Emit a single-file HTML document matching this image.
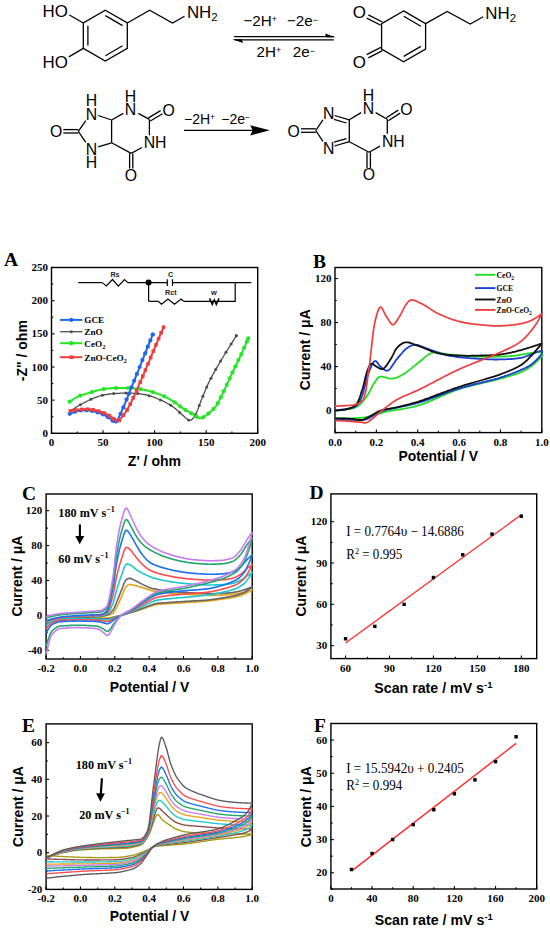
<!DOCTYPE html>
<html><head><meta charset="utf-8"><style>
html,body{margin:0;padding:0;background:#fff;width:550px;height:931px;overflow:hidden}
svg{display:block}
</style></head><body>
<svg width="550" height="931" viewBox="0 0 550 931">
<rect width="550" height="931" fill="#fff"/>
<path d="M105.3,10.3 L127.3,23 L127.3,48.4 L105.3,61.1 L83.3,48.4 L83.3,23 Z" fill="none" stroke="#000" stroke-width="1.3"/>
<line x1="87.9" y1="25.79" x2="87.9" y2="45.61" stroke="#000" stroke-width="1.3" />
<line x1="105.42" y1="15.68" x2="122.58" y2="25.59" stroke="#000" stroke-width="1.3" />
<line x1="105.42" y1="55.72" x2="122.58" y2="45.81" stroke="#000" stroke-width="1.3" />
<line x1="83.3" y1="23" x2="69.4" y2="15" stroke="#000" stroke-width="1.3" />
<line x1="83.3" y1="48.4" x2="68.8" y2="56.9" stroke="#000" stroke-width="1.3" />
<text x="67.8" y="17.3" font-family='"Liberation Sans", sans-serif' font-size="16.9" font-weight="normal" text-anchor="end" fill="#000" >HO</text>
<text x="67.8" y="68.3" font-family='"Liberation Sans", sans-serif' font-size="16.9" font-weight="normal" text-anchor="end" fill="#000" >HO</text>
<path d="M127.3,23 L149.6,10.2 L172.5,23 L184.5,16.3" fill="none" stroke="#000" stroke-width="1.3" stroke-linejoin="miter"/>
<text x="186.9" y="17.9" font-family='"Liberation Sans", sans-serif' font-size="16.9" font-weight="normal" text-anchor="start" fill="#000" >NH<tspan font-size="11.5" dy="3.3">2</tspan></text>
<path d="M403.6,10.9 L425.6,23.6 L425.6,49 L403.6,61.7 L381.6,49 L381.6,23.6 Z" fill="none" stroke="#000" stroke-width="1.3"/>
<line x1="403.72" y1="16.28" x2="420.88" y2="26.19" stroke="#000" stroke-width="1.3" />
<line x1="403.72" y1="56.32" x2="420.88" y2="46.41" stroke="#000" stroke-width="1.3" />
<line x1="382.41" y1="21.99" x2="368.31" y2="14.89" stroke="#000" stroke-width="1.3" />
<line x1="380.79" y1="25.21" x2="366.69" y2="18.11" stroke="#000" stroke-width="1.3" />
<line x1="380.78" y1="47.4" x2="366.67" y2="54.7" stroke="#000" stroke-width="1.3" />
<line x1="382.43" y1="50.6" x2="368.33" y2="57.9" stroke="#000" stroke-width="1.3" />
<text x="352.8" y="18.2" font-family='"Liberation Sans", sans-serif' font-size="16.9" font-weight="normal" text-anchor="start" fill="#000" >O</text>
<text x="352.8" y="68.2" font-family='"Liberation Sans", sans-serif' font-size="16.9" font-weight="normal" text-anchor="start" fill="#000" >O</text>
<path d="M425.6,23.6 L447.2,11.4 L470.2,24 L483.2,16.8" fill="none" stroke="#000" stroke-width="1.3" stroke-linejoin="miter"/>
<text x="485.3" y="18.5" font-family='"Liberation Sans", sans-serif' font-size="16.9" font-weight="normal" text-anchor="start" fill="#000" >NH<tspan font-size="11.5" dy="3.3">2</tspan></text>
<text x="243.4" y="26" font-family='"Liberation Sans", sans-serif' font-size="15.2" font-weight="normal" text-anchor="start" fill="#000" >−2H<tspan font-size="9" dy="-4">+</tspan></text>
<text x="287" y="26" font-family='"Liberation Sans", sans-serif' font-size="15.2" font-weight="normal" text-anchor="start" fill="#000" >−2e<tspan font-size="9" dy="-3.5">−</tspan></text>
<text x="256.5" y="57.2" font-family='"Liberation Sans", sans-serif' font-size="15.2" font-weight="normal" text-anchor="start" fill="#000" >2H<tspan font-size="9" dy="-4">+</tspan></text>
<text x="292.8" y="57.2" font-family='"Liberation Sans", sans-serif' font-size="15.2" font-weight="normal" text-anchor="start" fill="#000" >2e<tspan font-size="9" dy="-3.5">−</tspan></text>
<line x1="234.1" y1="36.6" x2="334" y2="36.6" stroke="#000" stroke-width="1.3" />
<path d="M324.9,33.4 L335.6,37.25 L326.4,37.25 Z" fill="#000"/>
<line x1="234.5" y1="39.9" x2="333.8" y2="39.9" stroke="#000" stroke-width="1.3" />
<path d="M232.3,39.25 L243.1,43.0 L241.6,39.25 Z" fill="#000"/>
<text x="49.9" y="137.3" font-family='"Liberation Sans", sans-serif' font-size="15.8" font-weight="normal" text-anchor="start" fill="#000" >O</text>
<line x1="63.3" y1="129.6" x2="78.3" y2="129.6" stroke="#000" stroke-width="1.3" />
<line x1="63.3" y1="133" x2="78.3" y2="133" stroke="#000" stroke-width="1.3" />
<line x1="78.3" y1="131.3" x2="85.8" y2="120.6" stroke="#000" stroke-width="1.3" />
<line x1="78.3" y1="131.3" x2="85.8" y2="142.3" stroke="#000" stroke-width="1.3" />
<text x="85.7" y="119.6" font-family='"Liberation Sans", sans-serif' font-size="15.8" font-weight="normal" text-anchor="start" fill="#000" >N</text>
<text x="85.7" y="106" font-family='"Liberation Sans", sans-serif' font-size="15.8" font-weight="normal" text-anchor="start" fill="#000" >H</text>
<text x="85.7" y="154.8" font-family='"Liberation Sans", sans-serif' font-size="15.8" font-weight="normal" text-anchor="start" fill="#000" >N</text>
<text x="85.7" y="167.6" font-family='"Liberation Sans", sans-serif' font-size="15.8" font-weight="normal" text-anchor="start" fill="#000" >H</text>
<line x1="98.2" y1="115.5" x2="111.6" y2="120" stroke="#000" stroke-width="1.3" />
<line x1="111.6" y1="120" x2="111.6" y2="142.8" stroke="#000" stroke-width="1.3" />
<line x1="111.6" y1="142.8" x2="98.2" y2="146.8" stroke="#000" stroke-width="1.3" />
<line x1="111.6" y1="120" x2="123.4" y2="113.4" stroke="#000" stroke-width="1.3" />
<text x="124.8" y="114.8" font-family='"Liberation Sans", sans-serif' font-size="15.8" font-weight="normal" text-anchor="start" fill="#000" >N</text>
<text x="124.8" y="101.7" font-family='"Liberation Sans", sans-serif' font-size="15.8" font-weight="normal" text-anchor="start" fill="#000" >H</text>
<line x1="138.3" y1="113.4" x2="149.4" y2="119.4" stroke="#000" stroke-width="1.3" />
<line x1="149.4" y1="119.4" x2="149.4" y2="135.2" stroke="#000" stroke-width="1.3" />
<line x1="150.32" y1="120.95" x2="162.42" y2="113.75" stroke="#000" stroke-width="1.3" />
<line x1="148.48" y1="117.85" x2="160.58" y2="110.65" stroke="#000" stroke-width="1.3" />
<text x="162.6" y="115.6" font-family='"Liberation Sans", sans-serif' font-size="15.8" font-weight="normal" text-anchor="start" fill="#000" >O</text>
<text x="143.7" y="147.8" font-family='"Liberation Sans", sans-serif' font-size="15.8" font-weight="normal" text-anchor="start" fill="#000" >NH</text>
<line x1="142" y1="147.5" x2="131.2" y2="153.4" stroke="#000" stroke-width="1.3" />
<line x1="111.6" y1="142.8" x2="131.2" y2="153.4" stroke="#000" stroke-width="1.3" />
<line x1="129.6" y1="153.4" x2="129.6" y2="168.6" stroke="#000" stroke-width="1.3" />
<line x1="132.8" y1="153.4" x2="132.8" y2="168.6" stroke="#000" stroke-width="1.3" />
<text x="124.8" y="181.3" font-family='"Liberation Sans", sans-serif' font-size="15.8" font-weight="normal" text-anchor="start" fill="#000" >O</text>
<text x="184" y="123.6" font-family='"Liberation Sans", sans-serif' font-size="14" font-weight="normal" text-anchor="start" fill="#000" >−2H<tspan font-size="8.5" dy="-3.8">+</tspan></text>
<text x="221.3" y="123.6" font-family='"Liberation Sans", sans-serif' font-size="14" font-weight="normal" text-anchor="start" fill="#000" >−2e<tspan font-size="8.5" dy="-3.3">−</tspan></text>
<line x1="184" y1="130.3" x2="253" y2="130.3" stroke="#000" stroke-width="1.2" />
<path d="M269.8,130.3 L250.2,125.2 L252.6,130.3 L250.2,135.5 Z" fill="#000"/>
<text x="287.4" y="136.8" font-family='"Liberation Sans", sans-serif' font-size="15.8" font-weight="normal" text-anchor="start" fill="#000" >O</text>
<line x1="301" y1="128.8" x2="315.8" y2="128.8" stroke="#000" stroke-width="1.3" />
<line x1="301" y1="132.3" x2="315.8" y2="132.3" stroke="#000" stroke-width="1.3" />
<line x1="315.8" y1="130.5" x2="322.9" y2="119.9" stroke="#000" stroke-width="1.3" />
<line x1="315.8" y1="130.5" x2="322.9" y2="141.3" stroke="#000" stroke-width="1.3" />
<text x="323" y="118.7" font-family='"Liberation Sans", sans-serif' font-size="15.8" font-weight="normal" text-anchor="start" fill="#000" >N</text>
<text x="323" y="154.1" font-family='"Liberation Sans", sans-serif' font-size="15.8" font-weight="normal" text-anchor="start" fill="#000" >N</text>
<line x1="334.5" y1="115.5" x2="349.3" y2="119.8" stroke="#000" stroke-width="1.3" />
<line x1="334" y1="119.3" x2="346.5" y2="123" stroke="#000" stroke-width="1.3" />
<line x1="349.3" y1="119.8" x2="349.3" y2="141.7" stroke="#000" stroke-width="1.3" />
<line x1="334.5" y1="146" x2="349.3" y2="141.7" stroke="#000" stroke-width="1.3" />
<line x1="334" y1="142.2" x2="346.5" y2="138.6" stroke="#000" stroke-width="1.3" />
<line x1="349.3" y1="119.8" x2="361.1" y2="112.6" stroke="#000" stroke-width="1.3" />
<text x="362.7" y="114" font-family='"Liberation Sans", sans-serif' font-size="15.8" font-weight="normal" text-anchor="start" fill="#000" >N</text>
<text x="362.7" y="101.3" font-family='"Liberation Sans", sans-serif' font-size="15.8" font-weight="normal" text-anchor="start" fill="#000" >H</text>
<line x1="375.6" y1="112.6" x2="387.3" y2="119.2" stroke="#000" stroke-width="1.3" />
<line x1="387.3" y1="119.2" x2="387.3" y2="133.7" stroke="#000" stroke-width="1.3" />
<line x1="388.27" y1="120.72" x2="400.17" y2="113.12" stroke="#000" stroke-width="1.3" />
<line x1="386.33" y1="117.68" x2="398.23" y2="110.08" stroke="#000" stroke-width="1.3" />
<text x="400.2" y="114.9" font-family='"Liberation Sans", sans-serif' font-size="15.8" font-weight="normal" text-anchor="start" fill="#000" >O</text>
<text x="381.9" y="147.3" font-family='"Liberation Sans", sans-serif' font-size="15.8" font-weight="normal" text-anchor="start" fill="#000" >NH</text>
<line x1="380" y1="146.1" x2="369.1" y2="152.2" stroke="#000" stroke-width="1.3" />
<line x1="349.3" y1="141.7" x2="369.1" y2="152.2" stroke="#000" stroke-width="1.3" />
<line x1="367" y1="152.2" x2="367" y2="167.9" stroke="#000" stroke-width="1.3" />
<line x1="370.4" y1="152.2" x2="370.4" y2="167.9" stroke="#000" stroke-width="1.3" />
<text x="362.7" y="180.3" font-family='"Liberation Sans", sans-serif' font-size="15.8" font-weight="normal" text-anchor="start" fill="#000" >O</text>
<rect x="51.5" y="267.5" width="206.2" height="165.8" fill="none" stroke="#000" stroke-width="1.4"/>
<line x1="51.5" y1="433.3" x2="51.5" y2="430.3" stroke="#000" stroke-width="1.1" />
<line x1="103.05" y1="433.3" x2="103.05" y2="430.3" stroke="#000" stroke-width="1.1" />
<line x1="154.6" y1="433.3" x2="154.6" y2="430.3" stroke="#000" stroke-width="1.1" />
<line x1="206.15" y1="433.3" x2="206.15" y2="430.3" stroke="#000" stroke-width="1.1" />
<line x1="257.7" y1="433.3" x2="257.7" y2="430.3" stroke="#000" stroke-width="1.1" />
<line x1="77.28" y1="433.3" x2="77.28" y2="431.5" stroke="#000" stroke-width="1.1" />
<line x1="128.82" y1="433.3" x2="128.82" y2="431.5" stroke="#000" stroke-width="1.1" />
<line x1="180.38" y1="433.3" x2="180.38" y2="431.5" stroke="#000" stroke-width="1.1" />
<line x1="231.92" y1="433.3" x2="231.92" y2="431.5" stroke="#000" stroke-width="1.1" />
<line x1="51.5" y1="433.3" x2="54.5" y2="433.3" stroke="#000" stroke-width="1.1" />
<line x1="51.5" y1="400.14" x2="54.5" y2="400.14" stroke="#000" stroke-width="1.1" />
<line x1="51.5" y1="366.98" x2="54.5" y2="366.98" stroke="#000" stroke-width="1.1" />
<line x1="51.5" y1="333.82" x2="54.5" y2="333.82" stroke="#000" stroke-width="1.1" />
<line x1="51.5" y1="300.66" x2="54.5" y2="300.66" stroke="#000" stroke-width="1.1" />
<line x1="51.5" y1="267.5" x2="54.5" y2="267.5" stroke="#000" stroke-width="1.1" />
<line x1="51.5" y1="416.72" x2="53.3" y2="416.72" stroke="#000" stroke-width="1.1" />
<line x1="51.5" y1="383.56" x2="53.3" y2="383.56" stroke="#000" stroke-width="1.1" />
<line x1="51.5" y1="350.4" x2="53.3" y2="350.4" stroke="#000" stroke-width="1.1" />
<line x1="51.5" y1="317.24" x2="53.3" y2="317.24" stroke="#000" stroke-width="1.1" />
<line x1="51.5" y1="284.08" x2="53.3" y2="284.08" stroke="#000" stroke-width="1.1" />
<text x="51.5" y="445.6" font-family='"Liberation Serif", serif' font-size="11" font-weight="bold" text-anchor="middle" fill="#000" >0</text>
<text x="103.05" y="445.6" font-family='"Liberation Serif", serif' font-size="11" font-weight="bold" text-anchor="middle" fill="#000" >50</text>
<text x="154.6" y="445.6" font-family='"Liberation Serif", serif' font-size="11" font-weight="bold" text-anchor="middle" fill="#000" >100</text>
<text x="206.15" y="445.6" font-family='"Liberation Serif", serif' font-size="11" font-weight="bold" text-anchor="middle" fill="#000" >150</text>
<text x="257.7" y="445.6" font-family='"Liberation Serif", serif' font-size="11" font-weight="bold" text-anchor="middle" fill="#000" >200</text>
<text x="47.9" y="436.9" font-family='"Liberation Serif", serif' font-size="11" font-weight="bold" text-anchor="end" fill="#000" >0</text>
<text x="47.9" y="403.74" font-family='"Liberation Serif", serif' font-size="11" font-weight="bold" text-anchor="end" fill="#000" >50</text>
<text x="47.9" y="370.58" font-family='"Liberation Serif", serif' font-size="11" font-weight="bold" text-anchor="end" fill="#000" >100</text>
<text x="47.9" y="337.42" font-family='"Liberation Serif", serif' font-size="11" font-weight="bold" text-anchor="end" fill="#000" >150</text>
<text x="47.9" y="304.26" font-family='"Liberation Serif", serif' font-size="11" font-weight="bold" text-anchor="end" fill="#000" >200</text>
<text x="47.9" y="271.1" font-family='"Liberation Serif", serif' font-size="11" font-weight="bold" text-anchor="end" fill="#000" >250</text>
<text x="4" y="265.6" font-family='"Liberation Serif", serif' font-size="19.5" font-weight="bold" text-anchor="start" fill="#000" >A</text>
<text transform="translate(26.6,350.7) rotate(-90)" x="0" y="0" font-family='"Liberation Sans", sans-serif' font-size="14" font-weight="bold" text-anchor="middle">-Z" / ohm</text>
<text x="154.4" y="466.1" font-family='"Liberation Sans", sans-serif' font-size="14" font-weight="bold" text-anchor="middle" fill="#000" >Z' / ohm</text>
<path d="M70.4,411 L71.2,410.4 L72,409.9 L72.9,409.4 L73.7,408.9 L74.5,408.4 L75.3,407.8 L76.1,407.3 L76.9,406.8 L77.7,406.3 L78.6,405.8 L79.4,405.3 L80.3,404.7 L81.2,404.2 L82.1,403.7 L83,403.3 L84.1,402.7 L85.2,402.2 L86.3,401.6 L87.4,401 L88.5,400.5 L89.7,399.9 L90.9,399.3 L92.1,398.8 L93.3,398.3 L94.5,397.8 L95.7,397.3 L97,396.8 L98.3,396.4 L99.6,396 L100.9,395.6 L102.3,395.3 L103.7,395 L105.2,394.7 L106.7,394.5 L108.2,394.2 L109.8,394 L111.3,393.8 L112.9,393.7 L114.5,393.6 L116.1,393.4 L117.6,393.3 L119.2,393.3 L120.7,393.2 L122.3,393.1 L123.8,393.1 L125.2,393.1 L126.6,393.1 L128,393.1 L129.4,393.1 L130.8,393.1 L132.2,393.2 L133.6,393.3 L135,393.4 L136.4,393.5 L137.8,393.6 L139.1,393.7 L140.4,393.9 L141.7,394.1 L143,394.3 L144.3,394.5 L145.4,394.7 L146.6,395 L147.7,395.3 L148.8,395.6 L149.8,395.9 L150.9,396.2 L152,396.6 L153,396.9 L154,397.3 L155,397.7 L156.1,398.1 L157,398.5 L158,398.9 L159,399.3 L160,399.7 L160.9,400.1 L161.8,400.5 L162.7,400.9 L163.6,401.4 L164.5,401.8 L165.4,402.3 L166.3,402.7 L167.1,403.2 L168,403.7 L168.8,404.1 L169.6,404.6 L170.4,405.1 L171.2,405.6 L172,406.1 L172.7,406.6 L173.5,407.2 L174.2,407.7 L174.9,408.2 L175.6,408.8 L176.3,409.4 L176.9,410 L177.6,410.6 L178.2,411.1 L178.8,411.7 L179.5,412.3 L180.1,412.9 L180.6,413.4 L181.5,414.2 L182.3,414.9 L183.1,415.6 L183.9,416.3 L184.6,417 L185.3,417.6 L186,418.2 L186.6,418.7 L187.4,419.3 L188.1,419.7 L188.9,420.1 L189.8,420.4 L190.6,420.3 L191.4,419.9 L192.1,419.3 L192.7,418.8 L193.3,418 L193.9,417.3 L194.5,416.3 L194.9,415.6 L195.3,414.9 L195.7,414.1 L196.1,413.3 L196.5,412.5 L196.9,411.7 L197.3,410.9 L197.6,410 L198,409.2 L198.3,408.3 L198.6,407.4 L198.9,406.5 L199.2,405.6 L199.6,404.6 L200,403.5 L200.4,402.5 L200.8,401.3 L201.3,400.1 L201.8,398.9 L202.3,397.6 L202.9,396.2 L203.4,394.8 L204,393.4 L204.6,392 L205.2,390.5 L205.8,389.1 L206.5,387.6 L207.1,386.2 L207.7,384.8 L208.4,383.4 L209,382 L209.7,380.7 L210.3,379.4 L211,378.2 L211.6,376.9 L212.3,375.6 L213,374.4 L213.7,373.1 L214.4,371.9 L215.1,370.6 L215.8,369.3 L216.5,368 L217.3,366.7 L218.1,365.4 L218.9,364 L219.7,362.7 L220.1,361.8 L220.6,361 L221.1,360.2 L221.7,359.3 L222.2,358.4 L222.7,357.6 L223.2,356.7 L223.8,355.8 L224.3,354.9 L224.9,354 L225.4,353.1 L226,352.2 L226.5,351.3 L227.1,350.4 L227.7,349.5 L228.3,348.6 L228.8,347.7 L229.4,346.8 L230,345.8 L230.6,344.9 L231.1,344 L231.7,343.1 L232.3,342.2 L232.9,341.2 L233.4,340.3 L234,339.4 L234.6,338.5 L235.1,337.6 L235.7,336.7 L236.3,335.8" fill="none" stroke="#4d4d4d" stroke-width="1.3" stroke-linejoin="round"/>
<circle cx="70.37" cy="410.95" r="1.5" fill="#4d4d4d"/>
<circle cx="80.31" cy="404.75" r="1.5" fill="#4d4d4d"/>
<circle cx="90.87" cy="399.34" r="1.5" fill="#4d4d4d"/>
<circle cx="102.29" cy="395.29" r="1.5" fill="#4d4d4d"/>
<circle cx="113.7" cy="393.62" r="1.5" fill="#4d4d4d"/>
<circle cx="125.88" cy="393.08" r="1.5" fill="#4d4d4d"/>
<circle cx="137.76" cy="393.58" r="1.5" fill="#4d4d4d"/>
<circle cx="149.31" cy="395.72" r="1.5" fill="#4d4d4d"/>
<circle cx="160.43" cy="399.88" r="1.5" fill="#4d4d4d"/>
<circle cx="170.82" cy="405.37" r="1.5" fill="#4d4d4d"/>
<circle cx="179.76" cy="412.59" r="1.5" fill="#4d4d4d"/>
<circle cx="188.57" cy="419.93" r="1.5" fill="#4d4d4d"/>
<circle cx="195.46" cy="414.6" r="1.5" fill="#4d4d4d"/>
<circle cx="199.23" cy="405.56" r="1.5" fill="#4d4d4d"/>
<circle cx="202.88" cy="396.21" r="1.5" fill="#4d4d4d"/>
<circle cx="206.78" cy="386.91" r="1.5" fill="#4d4d4d"/>
<circle cx="210.98" cy="378.16" r="1.5" fill="#4d4d4d"/>
<circle cx="215.81" cy="369.32" r="1.5" fill="#4d4d4d"/>
<circle cx="220.64" cy="361" r="1.5" fill="#4d4d4d"/>
<circle cx="225.98" cy="352.23" r="1.5" fill="#4d4d4d"/>
<circle cx="231.14" cy="344" r="1.5" fill="#4d4d4d"/>
<circle cx="236.26" cy="335.81" r="1.5" fill="#4d4d4d"/>
<circle cx="236.26" cy="335.81" r="1.5" fill="#4d4d4d"/>
<path d="M69.7,401.7 L70.6,401.1 L71.4,400.6 L72.1,400.1 L72.9,399.6 L73.7,399 L74.5,398.5 L75.3,398 L76.2,397.5 L77.1,397 L78,396.6 L78.7,396.2 L79.5,395.9 L80.3,395.6 L81.1,395.3 L82,395 L82.8,394.8 L83.7,394.5 L84.5,394.2 L85.4,394 L86.3,393.7 L87.2,393.4 L88.1,393.2 L89,392.9 L89.8,392.7 L90.7,392.4 L91.5,392.2 L92.3,392 L93.1,391.7 L93.9,391.5 L94.7,391.2 L95.5,391 L96.3,390.8 L97.1,390.5 L97.9,390.3 L98.7,390.1 L99.5,389.9 L100.3,389.7 L101.1,389.5 L102,389.4 L102.8,389.2 L103.8,389 L104.7,388.9 L105.6,388.8 L106.5,388.7 L107.5,388.6 L108.4,388.5 L109.4,388.4 L110.4,388.3 L111.3,388.2 L112.3,388.2 L113.3,388.1 L114.3,388.1 L115.4,388.1 L116.4,388 L117.5,388 L118.8,388 L120.2,388 L121.6,387.9 L123,387.9 L124.4,387.9 L125.9,387.9 L127.4,388 L128.9,388 L130.4,388.1 L131.9,388.1 L133.3,388.2 L134.8,388.4 L136.3,388.5 L137.7,388.7 L139.1,388.9 L140.6,389.1 L142,389.4 L143.5,389.7 L144.9,390 L146.4,390.3 L147.9,390.7 L149.3,391.1 L150.7,391.5 L152.1,391.9 L153.5,392.3 L154.9,392.7 L156.2,393.2 L157.5,393.6 L158.8,394.1 L160,394.5 L160.9,394.9 L161.9,395.3 L162.8,395.7 L163.8,396.1 L164.7,396.5 L165.5,396.9 L166.4,397.3 L167.2,397.8 L168,398.2 L168.9,398.7 L169.6,399.1 L170.4,399.6 L171.2,400 L172,400.5 L172.7,400.9 L173.5,401.4 L174.1,401.8 L174.8,402.3 L175.5,402.8 L176.4,403.5 L177.4,404.2 L178.3,404.9 L179.2,405.7 L180.1,406.4 L181.1,407.1 L182,407.7 L183,408.4 L183.9,409 L184.9,409.6 L185.9,410.2 L186.9,410.8 L187.8,411.3 L188.8,411.9 L189.7,412.4 L190.7,413 L191.5,413.5 L192.3,413.9 L193.1,414.5 L194,415.1 L194.8,415.6 L195.6,416.2 L196.4,416.6 L197.2,417 L197.9,417.4 L198.7,417.7 L199.5,418 L200.3,418.2 L201.1,418.2 L201.9,418 L202.7,417.6 L203.5,417.1 L204.2,416.7 L205,416.2 L205.7,415.6 L206.7,415 L207.3,414.4 L208,413.9 L208.8,413.3 L209.5,412.7 L210.2,412.1 L211,411.4 L211.7,410.7 L212.4,410 L213.2,409.3 L213.8,408.6 L214.5,407.9 L215.1,407.1 L215.8,406.3 L216.5,405.4 L217.1,404.4 L217.8,403.4 L218.4,402.3 L218.9,401.2 L219.5,400.1 L220,399 L220.6,397.9 L221.1,396.8 L221.6,395.6 L222.1,394.5 L222.7,393.4 L223.2,392.2 L223.7,391.1 L224.3,390.1 L224.8,389 L225.3,387.9 L225.8,386.9 L226.3,385.8 L226.8,384.8 L227.2,383.8 L227.7,382.7 L228.2,381.6 L228.7,380.6 L229.2,379.5 L229.7,378.4 L230.2,377.3 L230.7,376.2 L231.2,375.1 L231.8,373.8 L232.5,372.4 L232.9,371.6 L233.2,370.9 L233.6,370.1 L233.9,369.4 L234.3,368.6 L234.7,367.8 L235.1,367.1 L235.4,366.3 L235.8,365.5 L236.2,364.7 L236.6,363.9 L237,363.2 L237.3,362.4 L237.7,361.6 L238.1,360.8 L238.5,360 L238.8,359.3 L239.2,358.5 L239.6,357.7 L239.9,357 L240.3,356.2 L240.6,355.5 L241.3,354.1 L241.9,352.7 L242.5,351.6 L242.9,350.6 L243.4,349.6 L243.8,348.7 L244.2,347.7 L244.6,346.8 L245,345.9 L245.4,345.1 L245.7,344.2 L246.1,343.3 L246.5,342.4 L246.9,341.6 L247.2,340.7 L247.6,339.8 L248,338.9" fill="none" stroke="#22e622" stroke-width="2.0" stroke-linejoin="round"/>
<circle cx="69.75" cy="401.67" r="2.1" fill="#22e622"/>
<circle cx="80.3" cy="395.62" r="2.1" fill="#22e622"/>
<circle cx="91.89" cy="392.08" r="2.1" fill="#22e622"/>
<circle cx="103.76" cy="389.05" r="2.1" fill="#22e622"/>
<circle cx="115.89" cy="388.04" r="2.1" fill="#22e622"/>
<circle cx="128.12" cy="387.99" r="2.1" fill="#22e622"/>
<circle cx="140.57" cy="389.1" r="2.1" fill="#22e622"/>
<circle cx="152.84" cy="392.08" r="2.1" fill="#22e622"/>
<circle cx="164.21" cy="396.29" r="2.1" fill="#22e622"/>
<circle cx="174.81" cy="402.3" r="2.1" fill="#22e622"/>
<circle cx="180.12" cy="406.38" r="2.1" fill="#22e622"/>
<circle cx="185.54" cy="409.98" r="2.1" fill="#22e622"/>
<circle cx="191.25" cy="413.33" r="2.1" fill="#22e622"/>
<circle cx="196.8" cy="416.85" r="2.1" fill="#22e622"/>
<circle cx="202.97" cy="417.47" r="2.1" fill="#22e622"/>
<circle cx="208.4" cy="413.61" r="2.1" fill="#22e622"/>
<circle cx="213.5" cy="408.97" r="2.1" fill="#22e622"/>
<circle cx="217.75" cy="403.36" r="2.1" fill="#22e622"/>
<circle cx="220.85" cy="397.32" r="2.1" fill="#22e622"/>
<circle cx="223.72" cy="391.13" r="2.1" fill="#22e622"/>
<circle cx="226.76" cy="384.8" r="2.1" fill="#22e622"/>
<circle cx="229.68" cy="378.42" r="2.1" fill="#22e622"/>
<circle cx="232.52" cy="372.36" r="2.1" fill="#22e622"/>
<circle cx="235.44" cy="366.29" r="2.1" fill="#22e622"/>
<circle cx="238.47" cy="360.03" r="2.1" fill="#22e622"/>
<circle cx="241.29" cy="354.09" r="2.1" fill="#22e622"/>
<circle cx="244.18" cy="347.74" r="2.1" fill="#22e622"/>
<circle cx="246.86" cy="341.57" r="2.1" fill="#22e622"/>
<circle cx="248.21" cy="338.46" r="2.1" fill="#22e622"/>
<path d="M69.7,413.9 L70.6,413.5 L71.5,413.2 L72.3,412.8 L73.2,412.5 L74,412.1 L74.9,411.8 L75.8,411.5 L76.7,411.3 L77.6,411.1 L78.4,410.9 L79.3,410.7 L80.2,410.6 L81.1,410.4 L82.1,410.3 L83,410.3 L83.9,410.3 L84.9,410.3 L85.8,410.3 L86.8,410.3 L87.8,410.4 L88.8,410.5 L89.8,410.6 L90.8,410.8 L91.8,410.9 L92.7,411.1 L93.7,411.3 L94.7,411.5 L95.7,411.8 L96.7,412.1 L97.7,412.4 L98.6,412.7 L99.6,413.1 L100.5,413.4 L101.4,413.8 L102.2,414.1 L103,414.5 L103.8,414.8 L104.5,415.2 L105.2,415.6 L105.9,416 L106.9,416.5 L107.7,417.1 L108.6,417.6 L109.4,418.2 L110.2,418.7 L111,419.3 L111.7,420 L112.4,420.6 L113.1,421.1 L113.8,421.7 L114.6,422.1 L115.3,422.5 L116.1,422.5 L116.7,422 L117.1,421.2 L117.5,420.4 L117.9,419.6 L118.5,418.3 L119.1,417 L119.8,415.5 L120.6,413.8 L121.4,411.9 L122.3,409.7 L123.3,407.4 L124.4,405 L125.4,402.4 L126.6,399.6 L127.8,396.7 L129,393.7 L130.2,390.6 L131.5,387.4 L132.8,384.1 L134.2,380.8 L135.5,377.4 L136.9,374 L138.3,370.5 L139.7,367 L141,363.6 L142.4,360.1 L143.8,356.7 L145.1,353.3 L146.5,350 L147.8,346.7 L149.1,343.5 L150.3,340.4 L151.6,337.4 L152.7,334.5" fill="none" stroke="#1f66ee" stroke-width="2.0" stroke-linejoin="round"/>
<circle cx="69.75" cy="413.87" r="2.1" fill="#1f66ee"/>
<circle cx="75.13" cy="411.75" r="2.1" fill="#1f66ee"/>
<circle cx="80.66" cy="410.5" r="2.1" fill="#1f66ee"/>
<circle cx="86.49" cy="410.32" r="2.1" fill="#1f66ee"/>
<circle cx="92.11" cy="410.96" r="2.1" fill="#1f66ee"/>
<circle cx="97.65" cy="412.39" r="2.1" fill="#1f66ee"/>
<circle cx="103.01" cy="414.48" r="2.1" fill="#1f66ee"/>
<circle cx="107.96" cy="417.22" r="2.1" fill="#1f66ee"/>
<circle cx="112.57" cy="420.7" r="2.1" fill="#1f66ee"/>
<circle cx="117.36" cy="420.68" r="2.1" fill="#1f66ee"/>
<circle cx="120.6" cy="413.81" r="2.1" fill="#1f66ee"/>
<circle cx="123.32" cy="407.44" r="2.1" fill="#1f66ee"/>
<circle cx="126.57" cy="399.59" r="2.1" fill="#1f66ee"/>
<circle cx="128.97" cy="393.69" r="2.1" fill="#1f66ee"/>
<circle cx="131.52" cy="387.38" r="2.1" fill="#1f66ee"/>
<circle cx="134.17" cy="380.77" r="2.1" fill="#1f66ee"/>
<circle cx="136.9" cy="373.95" r="2.1" fill="#1f66ee"/>
<circle cx="139.66" cy="367.03" r="2.1" fill="#1f66ee"/>
<circle cx="142.42" cy="360.12" r="2.1" fill="#1f66ee"/>
<circle cx="145.15" cy="353.3" r="2.1" fill="#1f66ee"/>
<circle cx="147.8" cy="346.69" r="2.1" fill="#1f66ee"/>
<circle cx="150.34" cy="340.38" r="2.1" fill="#1f66ee"/>
<circle cx="152.74" cy="334.48" r="2.1" fill="#1f66ee"/>
<circle cx="152.74" cy="334.48" r="2.1" fill="#1f66ee"/>
<path d="M70.4,411 L71.4,410.8 L72.5,410.6 L73.5,410.4 L74.5,410.3 L75.6,410.1 L76.4,410 L77.2,409.9 L78,409.8 L78.9,409.7 L79.9,409.6 L80.9,409.5 L81.9,409.4 L82.9,409.3 L83.9,409.3 L85,409.2 L86,409.2 L86.9,409.2 L87.9,409.2 L88.7,409.3 L89.5,409.3 L90.6,409.4 L91.6,409.6 L92.6,409.8 L93.6,410 L94.6,410.2 L95.6,410.4 L96.5,410.6 L97.4,410.8 L98.2,411 L99,411.2 L99.9,411.5 L100.7,411.7 L101.6,412 L102.5,412.4 L103.4,412.8 L104.3,413.2 L105.3,413.6 L106.2,414 L107.1,414.5 L108.1,415 L109,415.5 L109.8,416 L110.6,416.4 L111.4,416.9 L112.1,417.4 L112.9,418 L113.6,418.6 L114.2,419.2 L114.9,419.7 L115.6,420.1 L116.3,420.6 L117.1,421 L117.9,421.2 L118.7,420.9 L119.4,420.2 L119.9,419.5 L120.5,418.8 L121.2,418.1 L121.8,417.4 L122.4,416.6 L123,415.8 L123.7,414.9 L124.4,413.9 L124.9,413.2 L125.4,412.5 L125.9,411.7 L126.5,410.9 L127,410 L127.6,409 L128.4,407.6 L129.3,405.9 L130.2,404.1 L131.2,402.1 L132.2,400 L133.3,397.8 L134.3,395.5 L135.5,393 L136.6,390.4 L137.8,387.7 L139,384.9 L140.3,382.1 L141.5,379.2 L142.8,376.2 L144.1,373.1 L145.4,370.1 L146.7,366.9 L148,363.8 L149.4,360.6 L150.7,357.4 L152,354.3 L153.4,351.1 L154.7,348 L156,344.8 L157.3,341.8 L158.6,338.7 L159.9,335.7 L161.1,332.8 L162.4,330 L163.6,327.2" fill="none" stroke="#f03c3c" stroke-width="2.0" stroke-linejoin="round"/>
<rect x="68.57" y="409.15" width="3.6" height="3.6" fill="#f03c3c"/>
<rect x="74.32" y="408.23" width="3.6" height="3.6" fill="#f03c3c"/>
<rect x="80.11" y="407.62" width="3.6" height="3.6" fill="#f03c3c"/>
<rect x="85.78" y="407.4" width="3.6" height="3.6" fill="#f03c3c"/>
<rect x="91.35" y="408.06" width="3.6" height="3.6" fill="#f03c3c"/>
<rect x="96.83" y="409.3" width="3.6" height="3.6" fill="#f03c3c"/>
<rect x="102.2" y="411.22" width="3.6" height="3.6" fill="#f03c3c"/>
<rect x="107.46" y="413.85" width="3.6" height="3.6" fill="#f03c3c"/>
<rect x="112.04" y="417.06" width="3.6" height="3.6" fill="#f03c3c"/>
<rect x="117.48" y="418.51" width="3.6" height="3.6" fill="#f03c3c"/>
<rect x="121.69" y="413.41" width="3.6" height="3.6" fill="#f03c3c"/>
<rect x="125.23" y="408.18" width="3.6" height="3.6" fill="#f03c3c"/>
<rect x="128.42" y="402.3" width="3.6" height="3.6" fill="#f03c3c"/>
<rect x="131.45" y="396.01" width="3.6" height="3.6" fill="#f03c3c"/>
<rect x="134.82" y="388.59" width="3.6" height="3.6" fill="#f03c3c"/>
<rect x="138.46" y="380.29" width="3.6" height="3.6" fill="#f03c3c"/>
<rect x="140.99" y="374.38" width="3.6" height="3.6" fill="#f03c3c"/>
<rect x="143.59" y="368.25" width="3.6" height="3.6" fill="#f03c3c"/>
<rect x="146.23" y="361.99" width="3.6" height="3.6" fill="#f03c3c"/>
<rect x="148.89" y="355.65" width="3.6" height="3.6" fill="#f03c3c"/>
<rect x="151.55" y="349.31" width="3.6" height="3.6" fill="#f03c3c"/>
<rect x="154.19" y="343.04" width="3.6" height="3.6" fill="#f03c3c"/>
<rect x="156.79" y="336.92" width="3.6" height="3.6" fill="#f03c3c"/>
<rect x="159.32" y="331.01" width="3.6" height="3.6" fill="#f03c3c"/>
<rect x="161.77" y="325.39" width="3.6" height="3.6" fill="#f03c3c"/>
<line x1="60.1" y1="319.9" x2="82.4" y2="319.9" stroke="#1f66ee" stroke-width="2.0" />
<circle cx="71.3" cy="319.9" r="2.1" fill="#1f66ee"/>
<text x="84.3" y="323.2" font-family='"Liberation Serif", serif' font-size="9.2" font-weight="bold" text-anchor="start" fill="#000" >GCE</text>
<line x1="60.1" y1="331.7" x2="82.4" y2="331.7" stroke="#4d4d4d" stroke-width="1.3" />
<circle cx="71.3" cy="331.7" r="1.5" fill="#4d4d4d"/>
<text x="84.3" y="335" font-family='"Liberation Serif", serif' font-size="9.2" font-weight="bold" text-anchor="start" fill="#000" >ZnO</text>
<line x1="60.1" y1="343.2" x2="82.4" y2="343.2" stroke="#22e622" stroke-width="2.0" />
<circle cx="71.3" cy="343.2" r="2.1" fill="#22e622"/>
<text x="84.3" y="346.5" font-family='"Liberation Serif", serif' font-size="9.2" font-weight="bold" text-anchor="start" fill="#000" >CeO<tspan font-size="6.5" dy="2.5">2</tspan></text>
<line x1="60.1" y1="357.2" x2="82.4" y2="357.2" stroke="#f03c3c" stroke-width="2.0" />
<rect x="69.5" y="355.4" width="3.6" height="3.6" fill="#f03c3c"/>
<text x="84.3" y="360.5" font-family='"Liberation Serif", serif' font-size="9.2" font-weight="bold" text-anchor="start" fill="#000" >ZnO-CeO<tspan font-size="6.5" dy="2.5">2</tspan></text>
<line x1="78.2" y1="282.6" x2="102.6" y2="282.6" stroke="#000" stroke-width="1.2" />
<path d="M102.6,282.9 L106.3,285.9 L112.5,279.5 L118.3,286.2 L124.5,279.5 L128.1,282.9" fill="none" stroke="#000" stroke-width="1.2" stroke-linejoin="miter"/>
<line x1="128.1" y1="282.6" x2="167.3" y2="282.6" stroke="#000" stroke-width="1.2" />
<line x1="167.3" y1="279.2" x2="167.3" y2="285.9" stroke="#000" stroke-width="1.2" />
<line x1="172.5" y1="279.2" x2="172.5" y2="285.9" stroke="#000" stroke-width="1.2" />
<line x1="172.5" y1="282.6" x2="251.3" y2="282.6" stroke="#000" stroke-width="1.2" />
<circle cx="148.6" cy="282.6" r="3.0" fill="#000"/>
<line x1="148.6" y1="282.6" x2="148.6" y2="301.3" stroke="#000" stroke-width="1.2" />
<line x1="148.6" y1="301.3" x2="158.2" y2="301.3" stroke="#000" stroke-width="1.2" />
<path d="M158.2,301.3 L161.5,304.3 L168,299.0 L174.5,304.3 L181.1,299.0 L183.5,301.3" fill="none" stroke="#000" stroke-width="1.2"/>
<line x1="183.5" y1="301.3" x2="235.2" y2="301.3" stroke="#000" stroke-width="1.2" />
<path d="M209.5,298.4 L212.3,304.4 L214.3,299.8 L216.3,304.4 L219.1,298.4" fill="none" stroke="#000" stroke-width="1.5"/>
<line x1="235.2" y1="282.6" x2="235.2" y2="301.9" stroke="#000" stroke-width="1.2" />
<text x="115" y="277.3" font-family='"Liberation Sans", sans-serif' font-size="7.2" font-weight="bold" text-anchor="middle" fill="#222" >Rs</text>
<text x="170.5" y="277" font-family='"Liberation Sans", sans-serif' font-size="7.2" font-weight="bold" text-anchor="middle" fill="#222" >C</text>
<text x="170.8" y="295.3" font-family='"Liberation Sans", sans-serif' font-size="7.2" font-weight="bold" text-anchor="middle" fill="#222" >Rct</text>
<text x="214" y="295.1" font-family='"Liberation Sans", sans-serif' font-size="7.5" font-weight="bold" text-anchor="middle" fill="#222" >w</text>
<rect x="335" y="267.5" width="206.8" height="165.1" fill="none" stroke="#000" stroke-width="1.4"/>
<line x1="335" y1="432.6" x2="335" y2="429.6" stroke="#000" stroke-width="1.1" />
<line x1="376.36" y1="432.6" x2="376.36" y2="429.6" stroke="#000" stroke-width="1.1" />
<line x1="417.72" y1="432.6" x2="417.72" y2="429.6" stroke="#000" stroke-width="1.1" />
<line x1="459.08" y1="432.6" x2="459.08" y2="429.6" stroke="#000" stroke-width="1.1" />
<line x1="500.44" y1="432.6" x2="500.44" y2="429.6" stroke="#000" stroke-width="1.1" />
<line x1="541.8" y1="432.6" x2="541.8" y2="429.6" stroke="#000" stroke-width="1.1" />
<line x1="355.68" y1="432.6" x2="355.68" y2="430.8" stroke="#000" stroke-width="1.1" />
<line x1="397.04" y1="432.6" x2="397.04" y2="430.8" stroke="#000" stroke-width="1.1" />
<line x1="438.4" y1="432.6" x2="438.4" y2="430.8" stroke="#000" stroke-width="1.1" />
<line x1="479.76" y1="432.6" x2="479.76" y2="430.8" stroke="#000" stroke-width="1.1" />
<line x1="521.12" y1="432.6" x2="521.12" y2="430.8" stroke="#000" stroke-width="1.1" />
<line x1="335" y1="410.59" x2="338" y2="410.59" stroke="#000" stroke-width="1.1" />
<line x1="335" y1="366.56" x2="338" y2="366.56" stroke="#000" stroke-width="1.1" />
<line x1="335" y1="322.53" x2="338" y2="322.53" stroke="#000" stroke-width="1.1" />
<line x1="335" y1="278.51" x2="338" y2="278.51" stroke="#000" stroke-width="1.1" />
<line x1="335" y1="432.6" x2="336.8" y2="432.6" stroke="#000" stroke-width="1.1" />
<line x1="335" y1="388.57" x2="336.8" y2="388.57" stroke="#000" stroke-width="1.1" />
<line x1="335" y1="344.55" x2="336.8" y2="344.55" stroke="#000" stroke-width="1.1" />
<line x1="335" y1="300.52" x2="336.8" y2="300.52" stroke="#000" stroke-width="1.1" />
<text x="335" y="445.5" font-family='"Liberation Serif", serif' font-size="11" font-weight="bold" text-anchor="middle" fill="#000" >0.0</text>
<text x="376.36" y="445.5" font-family='"Liberation Serif", serif' font-size="11" font-weight="bold" text-anchor="middle" fill="#000" >0.2</text>
<text x="417.72" y="445.5" font-family='"Liberation Serif", serif' font-size="11" font-weight="bold" text-anchor="middle" fill="#000" >0.4</text>
<text x="459.08" y="445.5" font-family='"Liberation Serif", serif' font-size="11" font-weight="bold" text-anchor="middle" fill="#000" >0.6</text>
<text x="500.44" y="445.5" font-family='"Liberation Serif", serif' font-size="11" font-weight="bold" text-anchor="middle" fill="#000" >0.8</text>
<text x="541.8" y="445.5" font-family='"Liberation Serif", serif' font-size="11" font-weight="bold" text-anchor="middle" fill="#000" >1.0</text>
<text x="331.5" y="414.19" font-family='"Liberation Serif", serif' font-size="11" font-weight="bold" text-anchor="end" fill="#000" >0</text>
<text x="331.5" y="370.16" font-family='"Liberation Serif", serif' font-size="11" font-weight="bold" text-anchor="end" fill="#000" >40</text>
<text x="331.5" y="326.13" font-family='"Liberation Serif", serif' font-size="11" font-weight="bold" text-anchor="end" fill="#000" >80</text>
<text x="331.5" y="282.11" font-family='"Liberation Serif", serif' font-size="11" font-weight="bold" text-anchor="end" fill="#000" >120</text>
<text x="313" y="267.6" font-family='"Liberation Serif", serif' font-size="19.5" font-weight="bold" text-anchor="start" fill="#000" >B</text>
<text transform="translate(310.2,349.7) rotate(-90)" x="0" y="0" font-family='"Liberation Sans", sans-serif' font-size="14" font-weight="bold" text-anchor="middle">Current / μA</text>
<text x="438.2" y="460.5" font-family='"Liberation Sans", sans-serif' font-size="13.9" font-weight="bold" text-anchor="middle" fill="#000" >Potential / V</text>
<path d="M335,418.3 L335.7,418.3 L336.4,418.3 L337.1,418.3 L337.8,418.3 L338.5,418.3 L339.2,418.3 L339.9,418.3 L340.6,418.3 L341.3,418.3 L342,418.4 L342.6,418.4 L343.3,418.4 L344,418.4 L344.7,418.4 L345.4,418.4 L346.1,418.4 L346.8,418.4 L347.5,418.4 L348.2,418.4 L348.9,418.4 L349.5,418.3 L350.2,418.3 L350.9,418.3 L351.5,418.3 L352.2,418.3 L352.8,418.2 L353.4,418.2 L354,418.2 L354.6,418.2 L355.2,418.2 L355.8,418.1 L356.4,418.1 L356.9,418.1 L357.5,418.1 L358.1,418 L358.7,418 L359.3,418 L359.9,417.9 L360.5,417.9 L361.1,417.8 L361.7,417.8 L362.3,417.7 L362.9,417.6 L363.5,417.6 L364.1,417.5 L364.7,417.4 L365.4,417.3 L366,417.2 L366.8,417 L367.6,416.9 L368.4,416.7 L369.2,416.5 L370,416.3 L370.8,416.1 L371.7,415.9 L372.5,415.7 L373.3,415.4 L374.2,415.2 L375,414.9 L375.9,414.7 L376.7,414.4 L377.6,414.2 L378.5,413.9 L379.4,413.7 L380.2,413.4 L381.1,413.1 L382,412.9 L383,412.6 L383.9,412.4 L384.8,412.1 L385.8,411.9 L386.7,411.7 L387.9,411.4 L389,411.2 L390.2,410.9 L391.5,410.7 L392.7,410.5 L393.9,410.3 L395.2,410.1 L396.4,409.9 L397.7,409.7 L399,409.5 L400.3,409.3 L401.6,409.1 L402.9,408.9 L404.2,408.6 L405.5,408.4 L406.9,408.2 L408.2,407.9 L409.6,407.6 L410.9,407.4 L412.3,407.1 L413.6,406.7 L415,406.4 L416.4,406 L417.7,405.6 L419.3,405.1 L421,404.6 L422.6,404 L424.3,403.4 L426,402.8 L427.7,402.1 L429.4,401.4 L431.1,400.7 L432.8,399.9 L434.6,399.2 L436.3,398.4 L438,397.6 L439.8,396.9 L441.5,396.1 L443.3,395.3 L445,394.6 L446.8,393.8 L448.6,393.1 L450.3,392.4 L452.1,391.7 L453.8,391 L455.6,390.3 L457.3,389.7 L459.1,389.1 L460.8,388.6 L462.5,388.1 L464.3,387.5 L466.1,387 L467.9,386.6 L469.7,386.1 L471.5,385.6 L473.3,385.2 L475.2,384.7 L477,384.3 L478.8,383.9 L480.6,383.5 L482.4,383 L484.2,382.6 L485.9,382.2 L487.7,381.8 L489.4,381.4 L491.1,381.1 L492.8,380.7 L494.4,380.3 L496,379.9 L497.5,379.5 L499,379.1 L500.4,378.7 L501.4,378.4 L502.4,378.1 L503.4,377.8 L504.4,377.5 L505.4,377.3 L506.3,377 L507.2,376.7 L508.2,376.5 L509.1,376.2 L510,376 L510.9,375.7 L511.7,375.4 L512.6,375.2 L513.4,374.9 L514.3,374.6 L515.1,374.4 L515.9,374.1 L516.7,373.8 L517.4,373.5 L518.2,373.3 L519,373 L519.7,372.7 L520.4,372.4 L521.1,372.1 L521.6,371.8 L522.1,371.6 L522.6,371.4 L523.1,371.1 L523.6,370.9 L524,370.7 L524.5,370.5 L524.9,370.2 L525.4,370 L525.8,369.8 L526.2,369.5 L526.6,369.3 L527,369.1 L527.4,368.8 L527.8,368.6 L528.2,368.3 L528.6,368 L529,367.8 L529.4,367.5 L529.8,367.2 L530.2,366.9 L530.6,366.6 L531.1,366.3 L531.5,366 L531.9,365.6 L532.4,365.3 L532.9,364.9 L533.4,364.4 L533.9,364 L534.5,363.5 L535,363.1 L535.5,362.6 L536.1,362.1 L536.6,361.7 L537.1,361.2 L537.6,360.7 L538.1,360.2 L538.6,359.7 L539,359.3 L539.5,358.8 L539.9,358.3 L540.2,357.9 L540.6,357.5 L540.9,357 L541.2,356.6 L541.4,356.3 L541.6,355.9 L541.8,355.6 L541.9,355.4 L541.9,355.3 L542,355.1 L542,355 L542.1,354.8 L542.1,354.7 L542.1,354.6 L542.2,354.4 L542.2,354.3 L542.2,354.1 L542.3,354 L542.3,353.9 L542.3,353.8 L542.3,353.6 L542.3,353.5 L542.2,353.4 L542.2,353.3 L542.2,353.2 L542.1,353.1 L542.1,353 L542,352.9 L542,352.8 L541.9,352.7 L541.8,352.6 L541.4,352.3 L540.9,352.2 L540.2,352.1 L539.4,352 L538.4,352.1 L537.4,352.1 L536.2,352.2 L535,352.4 L533.6,352.6 L532.2,352.8 L530.8,353 L529.3,353.3 L527.7,353.5 L526.1,353.8 L524.5,354.1 L522.9,354.4 L521.3,354.7 L519.7,355 L518.1,355.2 L516.5,355.5 L515,355.7 L513.5,355.9 L512.1,356 L510.8,356.1 L509.5,356.2 L508.2,356.3 L506.9,356.3 L505.6,356.4 L504.3,356.5 L503,356.5 L501.7,356.6 L500.4,356.6 L499.2,356.6 L497.9,356.7 L496.6,356.7 L495.3,356.7 L494,356.8 L492.7,356.8 L491.4,356.8 L490.1,356.8 L488.8,356.8 L487.5,356.8 L486.2,356.8 L484.9,356.8 L483.6,356.7 L482.3,356.7 L481.1,356.7 L479.8,356.7 L478.5,356.6 L477.1,356.6 L475.8,356.5 L474.5,356.5 L473.1,356.4 L471.8,356.3 L470.4,356.2 L469,356.1 L467.7,356.1 L466.3,356 L465,355.9 L463.6,355.8 L462.3,355.6 L460.9,355.5 L459.6,355.4 L458.3,355.3 L457,355.2 L455.8,355.1 L454.5,355 L453.3,354.9 L452.1,354.8 L451,354.7 L449.8,354.6 L448.7,354.5 L448,354.4 L447.2,354.3 L446.5,354.2 L445.8,354 L445,353.9 L444.3,353.7 L443.7,353.6 L443,353.4 L442.3,353.3 L441.6,353.1 L441,353 L440.3,352.8 L439.7,352.7 L439.1,352.6 L438.4,352.5 L437.8,352.4 L437.2,352.3 L436.5,352.3 L435.9,352.2 L435.3,352.2 L434.7,352.3 L434.1,352.3 L433.4,352.4 L432.8,352.6 L432.1,352.8 L431.5,353 L430.8,353.3 L430.2,353.6 L429.5,353.9 L428.9,354.3 L428.2,354.7 L427.6,355.2 L427,355.6 L426.4,356.1 L425.7,356.6 L425.1,357.1 L424.5,357.6 L423.9,358.1 L423.3,358.6 L422.6,359.2 L422,359.7 L421.4,360.3 L420.8,360.8 L420.2,361.3 L419.6,361.8 L419,362.3 L418.3,362.8 L417.7,363.3 L417.1,363.7 L416.5,364.2 L415.9,364.7 L415.3,365.1 L414.7,365.6 L414,366.1 L413.4,366.6 L412.8,367.1 L412.2,367.6 L411.6,368.1 L411,368.6 L410.4,369.1 L409.8,369.6 L409.2,370.1 L408.6,370.6 L408,371 L407.4,371.5 L406.8,371.9 L406.2,372.4 L405.6,372.8 L405,373.2 L404.4,373.6 L403.8,373.9 L403.2,374.3 L402.8,374.5 L402.3,374.8 L401.9,375 L401.4,375.3 L400.9,375.5 L400.5,375.8 L400,376 L399.6,376.3 L399.1,376.5 L398.7,376.7 L398.2,376.9 L397.8,377.1 L397.3,377.3 L396.9,377.5 L396.5,377.6 L396,377.8 L395.5,377.9 L395.1,378.1 L394.6,378.2 L394.2,378.3 L393.7,378.4 L393.2,378.5 L392.8,378.6 L392.3,378.7 L391.8,378.7 L391.3,378.7 L390.7,378.7 L390.2,378.6 L389.6,378.5 L389.1,378.4 L388.5,378.3 L387.9,378.1 L387.4,378 L386.8,377.8 L386.2,377.6 L385.6,377.5 L385.1,377.3 L384.5,377.1 L384,377 L383.4,376.9 L382.9,376.8 L382.4,376.7 L381.9,376.6 L381.4,376.6 L380.9,376.6 L380.5,376.6 L380.1,376.7 L379.7,376.8 L379.4,376.9 L379.1,377.1 L378.8,377.2 L378.5,377.4 L378.3,377.6 L378,377.8 L377.8,378 L377.6,378.3 L377.4,378.5 L377.1,378.8 L376.9,379 L376.7,379.3 L376.5,379.6 L376.3,379.9 L376.1,380.2 L376,380.5 L375.8,380.8 L375.6,381.1 L375.4,381.4 L375.2,381.8 L375,382.1 L374.7,382.4 L374.5,382.7 L374.3,383.1 L374,383.5 L373.6,384.1 L373.3,384.6 L373,385.1 L372.7,385.7 L372.3,386.3 L372,386.9 L371.7,387.5 L371.4,388.1 L371,388.8 L370.7,389.4 L370.4,390.1 L370.1,390.7 L369.7,391.4 L369.4,392 L369,392.7 L368.7,393.3 L368.3,393.9 L367.9,394.5 L367.6,395.1 L367.2,395.7 L366.8,396.3 L366.4,396.8 L366,397.4 L365.6,397.9 L365.3,398.3 L364.9,398.8 L364.5,399.3 L364.1,399.8 L363.8,400.2 L363.4,400.7 L363,401.2 L362.6,401.6 L362.2,402.1 L361.8,402.5 L361.4,402.9 L361,403.4 L360.6,403.8 L360.1,404.2 L359.7,404.6 L359.2,405 L358.8,405.3 L358.3,405.7 L357.8,406 L357.3,406.4 L356.8,406.7 L356.2,407 L355.7,407.3 L355,407.6 L354.3,407.9 L353.5,408.2 L352.8,408.4 L352,408.6 L351.1,408.8 L350.3,408.9 L349.4,409.1 L348.6,409.2 L347.7,409.3 L346.8,409.4 L345.9,409.5 L345,409.6 L344.1,409.7 L343.1,409.8 L342.2,409.8 L341.3,409.9 L340.4,410 L339.5,410.1 L338.6,410.1 L337.6,410.2 L336.8,410.3 L335.9,410.5 L335,410.6" fill="none" stroke="#22dd22" stroke-width="1.8" stroke-linejoin="round"/>
<path d="M335,419.4 L335.9,419.4 L336.7,419.4 L337.6,419.5 L338.5,419.5 L339.4,419.5 L340.3,419.6 L341.2,419.6 L342.2,419.6 L343.1,419.7 L344,419.7 L344.9,419.7 L345.8,419.8 L346.7,419.8 L347.6,419.8 L348.4,419.8 L349.3,419.9 L350.2,419.9 L351,419.9 L351.8,419.9 L352.6,419.9 L353.4,419.9 L354.2,420 L355,419.9 L355.7,419.9 L356.2,419.9 L356.7,419.9 L357.1,419.9 L357.6,420 L358,420 L358.5,420 L358.9,420 L359.4,420 L359.8,420 L360.2,420 L360.6,420 L361,420 L361.4,420 L361.8,420 L362.2,420 L362.6,420 L363,419.9 L363.4,419.9 L363.9,419.8 L364.3,419.8 L364.7,419.7 L365.1,419.6 L365.6,419.5 L366,419.4 L366.6,419.2 L367.1,419 L367.7,418.8 L368.2,418.5 L368.8,418.3 L369.3,418 L369.9,417.7 L370.4,417.3 L371,417 L371.5,416.7 L372.1,416.3 L372.7,415.9 L373.2,415.6 L373.8,415.2 L374.4,414.8 L375,414.4 L375.7,414.1 L376.3,413.7 L376.9,413.3 L377.6,413 L378.3,412.6 L379,412.3 L379.7,412 L380.5,411.7 L381.7,411.3 L383,410.8 L384.3,410.4 L385.6,410.1 L387,409.7 L388.5,409.3 L390,409 L391.5,408.7 L393.1,408.3 L394.6,408 L396.2,407.7 L397.9,407.3 L399.5,407 L401.2,406.7 L402.9,406.4 L404.5,406 L406.2,405.7 L407.9,405.3 L409.6,404.9 L411.2,404.6 L412.9,404.2 L414.5,403.8 L416.1,403.3 L417.7,402.9 L419.4,402.4 L421.1,401.9 L422.8,401.3 L424.5,400.8 L426.2,400.2 L427.9,399.6 L429.7,399 L431.4,398.4 L433.1,397.7 L434.8,397.1 L436.5,396.5 L438.3,395.8 L440,395.2 L441.7,394.6 L443.5,393.9 L445.2,393.3 L446.9,392.7 L448.7,392 L450.4,391.4 L452.1,390.8 L453.9,390.2 L455.6,389.7 L457.3,389.1 L459.1,388.6 L460.8,388.1 L462.6,387.5 L464.3,387 L466.1,386.6 L467.9,386.1 L469.7,385.6 L471.6,385.1 L473.4,384.7 L475.2,384.2 L477,383.7 L478.8,383.3 L480.6,382.9 L482.4,382.4 L484.2,382 L486,381.5 L487.7,381.1 L489.4,380.7 L491.1,380.2 L492.8,379.8 L494.4,379.3 L496,378.9 L497.5,378.5 L499,378 L500.4,377.6 L501.5,377.2 L502.5,376.9 L503.4,376.6 L504.4,376.3 L505.4,375.9 L506.3,375.6 L507.2,375.3 L508.2,375 L509.1,374.7 L510,374.3 L510.9,374 L511.7,373.7 L512.6,373.4 L513.4,373.1 L514.2,372.7 L515.1,372.4 L515.9,372.1 L516.7,371.8 L517.4,371.5 L518.2,371.1 L518.9,370.8 L519.7,370.5 L520.4,370.2 L521.1,369.9 L521.6,369.6 L522.1,369.4 L522.6,369.2 L523.1,369 L523.6,368.8 L524,368.6 L524.5,368.4 L524.9,368.2 L525.3,368 L525.8,367.8 L526.2,367.6 L526.6,367.3 L527,367.1 L527.4,366.9 L527.8,366.7 L528.2,366.5 L528.6,366.2 L529,366 L529.4,365.8 L529.8,365.5 L530.3,365.2 L530.7,365 L531.1,364.7 L531.5,364.4 L531.9,364 L532.4,363.6 L532.9,363.2 L533.4,362.7 L534,362.3 L534.5,361.8 L535,361.3 L535.6,360.8 L536.1,360.3 L536.6,359.7 L537.2,359.2 L537.7,358.7 L538.2,358.2 L538.6,357.7 L539.1,357.1 L539.5,356.6 L539.9,356.2 L540.3,355.7 L540.6,355.2 L541,354.8 L541.2,354.4 L541.5,354 L541.7,353.7 L541.8,353.4 L541.8,353.2 L541.9,353.1 L541.9,353 L542,352.9 L542,352.8 L542,352.7 L542.1,352.6 L542.1,352.5 L542.1,352.4 L542.1,352.3 L542.1,352.2 L542.1,352.1 L542.1,352 L542.1,351.9 L542.1,351.8 L542.1,351.7 L542.1,351.6 L542.1,351.5 L542,351.5 L542,351.4 L542,351.3 L541.9,351.3 L541.9,351.2 L541.8,351.2 L541.5,351 L541.2,351 L540.7,351 L540.2,351.1 L539.5,351.3 L538.8,351.5 L538.1,351.7 L537.2,352 L536.4,352.3 L535.4,352.7 L534.5,353.1 L533.5,353.5 L532.4,353.9 L531.4,354.3 L530.3,354.7 L529.2,355.2 L528.1,355.6 L527.1,356 L526,356.4 L525,356.7 L523.9,357 L523,357.3 L522,357.6 L521.1,357.8 L520.3,357.9 L519.4,358.1 L518.6,358.2 L517.7,358.3 L516.8,358.4 L516,358.6 L515.1,358.7 L514.3,358.7 L513.4,358.8 L512.5,358.9 L511.7,359 L510.8,359 L509.9,359.1 L509.1,359.1 L508.2,359.2 L507.4,359.2 L506.5,359.2 L505.6,359.3 L504.8,359.3 L503.9,359.3 L503,359.3 L502.2,359.4 L501.3,359.4 L500.4,359.4 L499.6,359.4 L498.7,359.4 L497.9,359.5 L497,359.5 L496.2,359.5 L495.4,359.5 L494.5,359.5 L493.7,359.5 L492.9,359.4 L492,359.4 L491.2,359.4 L490.4,359.4 L489.5,359.4 L488.7,359.3 L487.8,359.3 L487,359.3 L486.1,359.2 L485.2,359.2 L484.3,359.1 L483.4,359.1 L482.5,359 L481.6,359 L480.7,358.9 L479.8,358.9 L478.6,358.8 L477.4,358.7 L476.1,358.6 L474.9,358.5 L473.6,358.4 L472.3,358.4 L471,358.3 L469.6,358.2 L468.3,358.1 L466.9,357.9 L465.6,357.8 L464.2,357.7 L462.9,357.6 L461.5,357.4 L460.1,357.3 L458.8,357.1 L457.5,357 L456.2,356.8 L454.9,356.6 L453.6,356.4 L452.3,356.2 L451.1,356 L449.9,355.8 L448.7,355.6 L447.8,355.3 L446.8,355.1 L445.9,354.9 L445,354.6 L444,354.4 L443.1,354.1 L442.2,353.8 L441.3,353.6 L440.4,353.3 L439.5,353 L438.7,352.7 L437.8,352.4 L437,352.1 L436.1,351.8 L435.3,351.5 L434.4,351.2 L433.6,350.9 L432.8,350.6 L432,350.3 L431.2,350 L430.4,349.7 L429.6,349.5 L428.8,349.2 L428.1,348.9 L427.5,348.8 L426.9,348.5 L426.3,348.3 L425.7,348.1 L425.1,347.9 L424.5,347.7 L423.9,347.4 L423.4,347.2 L422.8,347 L422.2,346.7 L421.7,346.5 L421.1,346.3 L420.6,346.1 L420.1,345.9 L419.5,345.7 L419,345.5 L418.5,345.4 L418,345.2 L417.5,345.1 L417,345 L416.5,345 L416,344.9 L415.5,344.9 L415,344.9 L414.7,344.9 L414.3,344.9 L414,345 L413.6,345 L413.3,345.1 L413,345.1 L412.6,345.2 L412.3,345.3 L412,345.4 L411.7,345.5 L411.4,345.6 L411.1,345.8 L410.8,345.9 L410.5,346 L410.2,346.2 L409.8,346.3 L409.5,346.5 L409.2,346.7 L408.9,346.9 L408.6,347 L408.3,347.2 L408,347.4 L407.7,347.6 L407.4,347.8 L406.9,348.2 L406.5,348.5 L406.1,348.8 L405.6,349.2 L405.2,349.6 L404.8,350 L404.3,350.4 L403.9,350.9 L403.5,351.4 L403,351.8 L402.6,352.3 L402.2,352.8 L401.7,353.3 L401.3,353.8 L400.9,354.3 L400.4,354.8 L400,355.3 L399.6,355.9 L399.1,356.4 L398.7,356.9 L398.3,357.4 L397.9,357.9 L397.5,358.4 L397,358.9 L396.6,359.4 L396.2,359.9 L395.8,360.4 L395.4,361 L395,361.6 L394.6,362.3 L394.1,362.9 L393.7,363.5 L393.3,364.2 L392.9,364.8 L392.5,365.4 L392.1,366 L391.7,366.6 L391.3,367.2 L390.9,367.8 L390.5,368.3 L390.1,368.8 L389.7,369.2 L389.3,369.6 L388.9,369.9 L388.5,370.2 L388.1,370.5 L387.7,370.6 L387.3,370.7 L387,370.8 L386.7,370.8 L386.5,370.7 L386.2,370.7 L385.9,370.6 L385.6,370.5 L385.3,370.3 L385,370.2 L384.7,370 L384.4,369.8 L384.1,369.6 L383.8,369.4 L383.5,369.2 L383.2,368.9 L382.9,368.7 L382.7,368.5 L382.4,368.2 L382.1,368 L381.8,367.7 L381.6,367.5 L381.3,367.2 L381,367 L380.8,366.8 L380.5,366.6 L380.2,366.3 L380,366.1 L379.8,365.9 L379.5,365.6 L379.3,365.3 L379.1,365 L378.8,364.7 L378.6,364.4 L378.4,364 L378.1,363.7 L377.9,363.4 L377.7,363.1 L377.5,362.8 L377.3,362.5 L377.1,362.3 L376.8,362 L376.6,361.8 L376.4,361.6 L376.2,361.4 L376,361.3 L375.8,361.2 L375.6,361.1 L375.3,361 L375.1,361.1 L374.8,361.1 L374.5,361.3 L374.2,361.5 L373.9,361.8 L373.6,362.1 L373.3,362.6 L373,363 L372.7,363.5 L372.4,364 L372.1,364.6 L371.8,365.2 L371.5,365.9 L371.2,366.6 L370.9,367.2 L370.6,367.9 L370.3,368.7 L370,369.4 L369.7,370.1 L369.4,370.8 L369.1,371.5 L368.9,372.3 L368.6,372.9 L368.3,373.6 L368.1,374.3 L367.8,375.1 L367.5,375.9 L367.2,376.8 L366.9,377.7 L366.7,378.6 L366.4,379.5 L366.2,380.5 L365.9,381.5 L365.7,382.5 L365.5,383.5 L365.2,384.5 L365,385.5 L364.8,386.5 L364.5,387.5 L364.3,388.4 L364.1,389.4 L363.8,390.4 L363.6,391.3 L363.3,392.2 L363.1,393.1 L362.8,393.9 L362.5,394.8 L362.2,395.5 L361.9,396.3 L361.7,396.8 L361.4,397.3 L361.2,397.8 L361,398.3 L360.8,398.8 L360.6,399.2 L360.4,399.7 L360.2,400.1 L360,400.6 L359.8,401 L359.6,401.5 L359.4,401.9 L359.1,402.3 L358.9,402.7 L358.6,403.1 L358.4,403.5 L358.1,403.9 L357.8,404.2 L357.5,404.6 L357.2,404.9 L356.8,405.2 L356.5,405.6 L356.1,405.9 L355.7,406.2 L355.1,406.6 L354.5,406.9 L353.8,407.2 L353.1,407.5 L352.3,407.8 L351.5,408 L350.7,408.2 L349.8,408.4 L349,408.6 L348.1,408.7 L347.2,408.9 L346.2,409 L345.3,409.2 L344.3,409.3 L343.4,409.4 L342.4,409.5 L341.5,409.6 L340.5,409.7 L339.6,409.8 L338.6,410 L337.7,410.1 L336.8,410.3 L335.9,410.4 L335,410.6" fill="none" stroke="#1a3fd6" stroke-width="1.8" stroke-linejoin="round"/>
<path d="M335,418.3 L335.7,418.3 L336.4,418.3 L337.1,418.4 L337.8,418.4 L338.5,418.4 L339.2,418.4 L339.9,418.4 L340.7,418.4 L341.4,418.4 L342.1,418.5 L342.8,418.5 L343.5,418.5 L344.2,418.5 L344.9,418.5 L345.6,418.6 L346.3,418.6 L347,418.6 L347.7,418.6 L348.4,418.7 L349,418.7 L349.7,418.7 L350.3,418.8 L350.9,418.8 L351.5,418.8 L352,418.9 L352.5,418.9 L353,419 L353.4,419.1 L353.9,419.1 L354.3,419.2 L354.8,419.3 L355.2,419.4 L355.7,419.5 L356.1,419.6 L356.5,419.7 L357,419.8 L357.4,419.8 L357.8,419.9 L358.2,420 L358.6,420 L359.1,420.1 L359.5,420.1 L359.9,420.2 L360.3,420.2 L360.7,420.2 L361.1,420.1 L361.5,420.1 L361.9,420.1 L362.3,420 L362.6,419.9 L363,419.8 L363.3,419.7 L363.7,419.6 L364,419.4 L364.4,419.3 L364.7,419.1 L365.1,419 L365.4,418.8 L365.7,418.6 L366.1,418.4 L366.4,418.2 L366.7,418.1 L367.1,417.9 L367.4,417.7 L367.7,417.5 L368.1,417.3 L368.4,417.1 L368.7,416.9 L369.1,416.7 L369.4,416.5 L369.8,416.3 L370.2,416.1 L370.6,415.9 L371,415.7 L371.4,415.4 L371.8,415.2 L372.2,415 L372.6,414.7 L373,414.5 L373.4,414.2 L373.8,414 L374.2,413.7 L374.6,413.5 L375.1,413.2 L375.5,413 L375.9,412.8 L376.3,412.5 L376.8,412.3 L377.2,412 L377.7,411.8 L378.1,411.6 L378.6,411.4 L379,411.2 L379.5,411 L380,410.8 L380.5,410.6 L381.1,410.4 L381.7,410.2 L382.3,410 L383,409.8 L383.6,409.7 L384.3,409.5 L384.9,409.4 L385.6,409.3 L386.3,409.2 L387,409 L387.7,408.9 L388.4,408.8 L389.1,408.7 L389.8,408.6 L390.5,408.5 L391.2,408.4 L392,408.2 L392.7,408.1 L393.4,408 L394.1,407.9 L394.9,407.7 L395.6,407.6 L396.3,407.4 L397,407.3 L397.9,407.1 L398.7,406.9 L399.5,406.7 L400.3,406.5 L401.1,406.3 L401.9,406.1 L402.7,405.9 L403.5,405.7 L404.3,405.5 L405.2,405.3 L406,405.1 L406.8,404.9 L407.7,404.7 L408.5,404.5 L409.4,404.2 L410.2,404 L411.1,403.7 L412,403.5 L412.9,403.2 L413.9,403 L414.8,402.7 L415.8,402.4 L416.7,402.1 L417.7,401.8 L419.2,401.3 L420.7,400.8 L422.2,400.3 L423.8,399.8 L425.4,399.2 L427.1,398.6 L428.8,398 L430.5,397.4 L432.2,396.7 L434,396.1 L435.7,395.4 L437.5,394.7 L439.3,394.1 L441.1,393.4 L442.9,392.7 L444.8,392 L446.6,391.3 L448.4,390.7 L450.2,390 L452,389.4 L453.8,388.7 L455.6,388.1 L457.3,387.5 L459.1,386.9 L460.8,386.4 L462.6,385.8 L464.3,385.2 L466.1,384.7 L467.9,384.2 L469.7,383.6 L471.6,383.1 L473.4,382.6 L475.2,382 L477,381.5 L478.9,381 L480.7,380.5 L482.5,380 L484.2,379.5 L486,378.9 L487.7,378.4 L489.5,377.9 L491.1,377.4 L492.8,376.9 L494.4,376.4 L496,375.8 L497.5,375.3 L499,374.8 L500.4,374.3 L501.5,373.9 L502.5,373.5 L503.5,373.1 L504.4,372.7 L505.4,372.4 L506.4,372 L507.3,371.6 L508.2,371.3 L509.1,370.9 L510,370.5 L510.9,370.2 L511.8,369.8 L512.6,369.4 L513.5,369 L514.3,368.6 L515.1,368.2 L515.9,367.9 L516.7,367.5 L517.5,367 L518.2,366.6 L519,366.2 L519.7,365.8 L520.4,365.4 L521.1,364.9 L521.7,364.6 L522.2,364.2 L522.7,363.8 L523.1,363.5 L523.6,363.1 L524.1,362.7 L524.5,362.4 L525,362 L525.4,361.6 L525.8,361.2 L526.2,360.8 L526.7,360.5 L527.1,360.1 L527.5,359.7 L527.9,359.3 L528.3,358.9 L528.6,358.5 L529,358.1 L529.4,357.7 L529.8,357.2 L530.2,356.8 L530.6,356.4 L531,356 L531.5,355.6 L531.9,355.1 L532.4,354.5 L532.9,354 L533.5,353.4 L534,352.8 L534.6,352.1 L535.2,351.5 L535.7,350.8 L536.3,350.1 L536.9,349.4 L537.4,348.8 L538,348.1 L538.5,347.5 L539,346.9 L539.5,346.3 L539.9,345.8 L540.3,345.3 L540.7,344.8 L541,344.4 L541.3,344.1 L541.5,343.8 L541.7,343.6 L541.8,343.5 L541.8,343.4 L541.8,343.4 L541.8,343.4 L541.8,343.4 L541.8,343.4 L541.8,343.4 L541.8,343.4 L541.8,343.4 L541.8,343.4 L541.8,343.4 L541.8,343.4 L541.8,343.4 L541.8,343.4 L541.8,343.4 L541.8,343.4 L541.8,343.4 L541.8,343.4 L541.8,343.4 L541.8,343.4 L541.8,343.4 L541.8,343.4 L541.8,343.4 L541.8,343.4 L541.8,343.4 L541.8,343.4 L541.7,343.5 L541.5,343.5 L541.2,343.7 L540.7,343.8 L540.2,344 L539.5,344.2 L538.8,344.5 L538,344.7 L537.1,345.1 L536.1,345.4 L535.1,345.7 L534.1,346.1 L533,346.4 L531.9,346.8 L530.7,347.2 L529.6,347.5 L528.4,347.9 L527.3,348.2 L526.2,348.6 L525.1,348.9 L524,349.2 L523,349.5 L522,349.8 L521.1,350.1 L520.3,350.3 L519.4,350.5 L518.5,350.7 L517.7,350.9 L516.8,351.2 L516,351.4 L515.1,351.6 L514.3,351.8 L513.4,352 L512.5,352.2 L511.7,352.4 L510.8,352.6 L509.9,352.8 L509.1,353 L508.2,353.1 L507.4,353.3 L506.5,353.5 L505.6,353.6 L504.8,353.8 L503.9,353.9 L503,354.1 L502.2,354.2 L501.3,354.3 L500.4,354.5 L499.6,354.6 L498.7,354.7 L497.9,354.8 L497,354.8 L496.1,354.9 L495.3,355 L494.4,355 L493.6,355.1 L492.7,355.2 L491.8,355.2 L491,355.2 L490.1,355.3 L489.3,355.3 L488.4,355.3 L487.5,355.4 L486.7,355.4 L485.8,355.4 L484.9,355.4 L484.1,355.5 L483.2,355.5 L482.3,355.5 L481.5,355.5 L480.6,355.5 L479.8,355.6 L478.9,355.6 L478,355.6 L477.2,355.6 L476.3,355.6 L475.5,355.7 L474.6,355.7 L473.7,355.7 L472.9,355.7 L472,355.7 L471.1,355.7 L470.3,355.8 L469.4,355.8 L468.6,355.8 L467.7,355.8 L466.8,355.8 L466,355.8 L465.1,355.7 L464.2,355.7 L463.4,355.7 L462.5,355.7 L461.7,355.7 L460.8,355.6 L459.9,355.6 L459.1,355.6 L458.2,355.5 L457.4,355.5 L456.5,355.4 L455.6,355.4 L454.8,355.3 L453.9,355.3 L453,355.2 L452.2,355.2 L451.3,355.1 L450.4,355.1 L449.6,355 L448.7,354.9 L447.8,354.8 L447,354.7 L446.1,354.7 L445.2,354.6 L444.4,354.4 L443.5,354.3 L442.7,354.2 L441.8,354 L441,353.9 L440.1,353.7 L439.3,353.5 L438.4,353.4 L437.5,353.1 L436.6,352.9 L435.8,352.6 L434.9,352.3 L434,352 L433.1,351.7 L432.2,351.4 L431.3,351.1 L430.4,350.7 L429.5,350.3 L428.6,350 L427.7,349.6 L426.8,349.2 L425.9,348.9 L425.1,348.5 L424.2,348.1 L423.4,347.8 L422.5,347.4 L421.7,347.1 L420.9,346.8 L420.1,346.5 L419.3,346.2 L418.5,345.9 L417.7,345.6 L417.1,345.5 L416.6,345.3 L416,345.1 L415.4,344.9 L414.9,344.6 L414.3,344.4 L413.8,344.2 L413.2,344 L412.7,343.8 L412.2,343.6 L411.7,343.4 L411.1,343.2 L410.6,343 L410.1,342.9 L409.6,342.7 L409.1,342.6 L408.6,342.5 L408.1,342.4 L407.6,342.3 L407.2,342.3 L406.7,342.3 L406.2,342.3 L405.8,342.3 L405.3,342.3 L404.9,342.4 L404.5,342.5 L404.1,342.6 L403.8,342.8 L403.4,342.9 L403,343.1 L402.6,343.3 L402.3,343.4 L401.9,343.7 L401.6,343.9 L401.2,344.1 L400.9,344.4 L400.5,344.6 L400.2,344.9 L399.8,345.1 L399.5,345.4 L399.2,345.7 L398.9,346 L398.6,346.3 L398.2,346.6 L397.9,346.9 L397.6,347.2 L397.3,347.5 L397,347.8 L396.7,348.2 L396.4,348.6 L396.1,349 L395.8,349.4 L395.6,349.8 L395.3,350.3 L395,350.7 L394.8,351.2 L394.6,351.6 L394.3,352.1 L394.1,352.6 L393.9,353.1 L393.6,353.6 L393.4,354.1 L393.2,354.6 L392.9,355.1 L392.7,355.6 L392.4,356.1 L392.2,356.5 L391.9,357 L391.7,357.5 L391.4,358 L391.1,358.4 L390.8,358.9 L390.5,359.3 L390.2,359.8 L389.9,360.3 L389.6,360.8 L389.3,361.3 L388.9,361.8 L388.6,362.4 L388.2,362.9 L387.9,363.4 L387.6,364 L387.2,364.5 L386.9,365 L386.5,365.5 L386.1,365.9 L385.8,366.4 L385.4,366.8 L385.1,367.2 L384.7,367.6 L384.4,367.9 L384,368.2 L383.6,368.5 L383.3,368.7 L382.9,368.9 L382.6,369 L382.3,369 L382.1,369.1 L381.8,369.1 L381.5,369.1 L381.3,369 L381,369 L380.7,368.9 L380.5,368.8 L380.2,368.7 L379.9,368.6 L379.7,368.5 L379.4,368.3 L379.1,368.2 L378.9,368 L378.6,367.9 L378.4,367.7 L378.1,367.6 L377.8,367.4 L377.6,367.3 L377.3,367.1 L377.1,367 L376.8,366.8 L376.6,366.7 L376.4,366.6 L376.1,366.4 L375.9,366.3 L375.7,366.2 L375.5,366 L375.3,365.9 L375.1,365.7 L374.9,365.5 L374.7,365.3 L374.4,365.2 L374.2,365 L374,364.8 L373.8,364.6 L373.6,364.5 L373.4,364.3 L373.2,364.2 L373.1,364 L372.9,363.9 L372.7,363.8 L372.5,363.7 L372.3,363.6 L372.1,363.6 L371.9,363.6 L371.8,363.6 L371.6,363.6 L371.4,363.6 L371.3,363.7 L371.1,363.8 L370.9,363.9 L370.8,364 L370.6,364.2 L370.5,364.3 L370.3,364.5 L370.2,364.7 L370,364.9 L369.9,365.1 L369.7,365.4 L369.6,365.6 L369.5,365.9 L369.3,366.1 L369.2,366.4 L369.1,366.7 L368.9,367 L368.8,367.3 L368.6,367.5 L368.5,367.8 L368.4,368.2 L368.2,368.5 L368.1,368.8 L367.8,369.4 L367.6,370.1 L367.3,370.8 L367,371.6 L366.8,372.4 L366.5,373.3 L366.3,374.2 L366,375.1 L365.8,376.1 L365.5,377.1 L365.3,378.1 L365,379.1 L364.8,380.1 L364.5,381.2 L364.3,382.2 L364,383.2 L363.8,384.3 L363.5,385.3 L363.3,386.3 L363,387.2 L362.7,388.2 L362.4,389.1 L362.2,389.9 L361.9,390.8 L361.6,391.4 L361.4,392.1 L361.2,392.8 L361,393.5 L360.8,394.2 L360.6,394.8 L360.3,395.5 L360.1,396.2 L359.9,396.8 L359.7,397.5 L359.5,398.1 L359.2,398.8 L359,399.4 L358.8,400 L358.5,400.6 L358.3,401.2 L358,401.7 L357.7,402.3 L357.4,402.8 L357.1,403.3 L356.8,403.8 L356.4,404.2 L356.1,404.7 L355.7,405.1 L355.3,405.4 L355,405.7 L354.6,406 L354.2,406.3 L353.8,406.5 L353.4,406.8 L353,407 L352.6,407.2 L352.2,407.4 L351.7,407.6 L351.3,407.8 L350.8,407.9 L350.4,408.1 L349.9,408.2 L349.5,408.4 L349,408.5 L348.5,408.7 L348.1,408.8 L347.6,408.9 L347.1,409 L346.7,409.1 L346.2,409.3 L345.8,409.4 L345.3,409.5 L344.9,409.6 L344.5,409.7 L344.1,409.8 L343.6,409.8 L343.2,409.9 L342.8,410 L342.4,410 L341.9,410.1 L341.5,410.1 L341.1,410.2 L340.6,410.2 L340.2,410.2 L339.8,410.3 L339.3,410.3 L338.9,410.3 L338.5,410.3 L338,410.4 L337.6,410.4 L337.2,410.4 L336.7,410.4 L336.3,410.5 L335.9,410.5 L335.4,410.5 L335,410.6" fill="none" stroke="#111111" stroke-width="1.8" stroke-linejoin="round"/>
<path d="M335,420.5 L335.4,420.5 L335.9,420.5 L336.3,420.6 L336.7,420.6 L337.1,420.6 L337.5,420.6 L338,420.6 L338.4,420.7 L338.8,420.7 L339.2,420.7 L339.6,420.7 L340.1,420.7 L340.5,420.8 L340.9,420.8 L341.3,420.8 L341.8,420.8 L342.2,420.9 L342.6,420.9 L343.1,420.9 L343.5,420.9 L344,421 L344.4,421 L344.9,421 L345.3,421 L345.9,421.1 L346.5,421.1 L347.1,421.2 L347.7,421.2 L348.3,421.2 L348.9,421.3 L349.6,421.3 L350.2,421.4 L350.9,421.4 L351.5,421.5 L352.2,421.5 L352.8,421.6 L353.5,421.6 L354.1,421.7 L354.7,421.7 L355.3,421.8 L356,421.8 L356.6,421.9 L357.2,421.9 L357.7,422 L358.3,422 L358.8,422.1 L359.3,422.1 L359.8,422.1 L360.1,422.2 L360.4,422.2 L360.7,422.2 L361,422.3 L361.3,422.3 L361.6,422.4 L361.8,422.4 L362.1,422.5 L362.4,422.5 L362.6,422.6 L362.9,422.6 L363.1,422.7 L363.4,422.7 L363.6,422.8 L363.8,422.8 L364.1,422.8 L364.3,422.8 L364.6,422.8 L364.8,422.8 L365,422.8 L365.3,422.8 L365.5,422.8 L365.8,422.7 L366,422.7 L366.3,422.6 L366.6,422.5 L366.8,422.4 L367.1,422.3 L367.3,422.2 L367.6,422.1 L367.9,422 L368.1,421.8 L368.4,421.7 L368.6,421.5 L368.9,421.3 L369.1,421.2 L369.4,421 L369.6,420.8 L369.9,420.6 L370.1,420.4 L370.4,420.2 L370.7,420 L370.9,419.8 L371.2,419.6 L371.4,419.4 L371.7,419.2 L372,419 L372.2,418.8 L372.6,418.6 L372.9,418.3 L373.2,418.1 L373.5,417.8 L373.8,417.6 L374.2,417.3 L374.5,417 L374.8,416.7 L375.1,416.4 L375.5,416.1 L375.8,415.8 L376.1,415.5 L376.4,415.2 L376.8,414.9 L377.1,414.6 L377.5,414.3 L377.8,414 L378.2,413.6 L378.5,413.3 L378.9,413 L379.3,412.7 L379.7,412.3 L380.1,412 L380.5,411.7 L381.1,411.2 L381.7,410.8 L382.3,410.3 L382.9,409.8 L383.5,409.3 L384.1,408.8 L384.8,408.3 L385.5,407.7 L386.1,407.2 L386.8,406.7 L387.5,406.1 L388.2,405.6 L388.9,405.1 L389.6,404.5 L390.3,404 L391.1,403.5 L391.8,403 L392.5,402.4 L393.3,401.9 L394,401.4 L394.8,401 L395.5,400.5 L396.3,400 L397,399.6 L397.8,399.1 L398.6,398.7 L399.4,398.3 L400.2,397.9 L401,397.5 L401.8,397.1 L402.6,396.7 L403.4,396.4 L404.3,396 L405.1,395.7 L405.9,395.3 L406.7,395 L407.6,394.6 L408.5,394.3 L409.3,393.9 L410.2,393.5 L411.1,393.2 L412,392.8 L412.9,392.4 L413.8,392 L414.8,391.6 L415.7,391.1 L416.7,390.7 L417.7,390.2 L419.2,389.5 L420.7,388.8 L422.2,388 L423.8,387.2 L425.4,386.4 L427.1,385.5 L428.7,384.7 L430.4,383.8 L432.2,382.9 L433.9,382 L435.7,381 L437.5,380.1 L439.3,379.2 L441.1,378.2 L442.9,377.3 L444.7,376.3 L446.5,375.4 L448.4,374.5 L450.2,373.6 L452,372.7 L453.8,371.8 L455.6,371 L457.3,370.1 L459.1,369.3 L460.8,368.5 L462.5,367.8 L464.3,367 L466.1,366.2 L467.9,365.5 L469.7,364.8 L471.5,364 L473.4,363.3 L475.2,362.6 L477,361.8 L478.8,361.1 L480.6,360.4 L482.4,359.7 L484.2,359 L486,358.3 L487.7,357.7 L489.4,357 L491.1,356.3 L492.8,355.6 L494.4,354.9 L496,354.3 L497.5,353.6 L499,352.9 L500.4,352.3 L501.5,351.8 L502.5,351.3 L503.4,350.9 L504.4,350.4 L505.4,350 L506.3,349.6 L507.2,349.1 L508.1,348.7 L509,348.3 L509.9,347.9 L510.8,347.5 L511.6,347.1 L512.5,346.6 L513.3,346.2 L514.1,345.8 L514.9,345.3 L515.7,344.9 L516.5,344.4 L517.3,343.9 L518.1,343.4 L518.9,342.9 L519.6,342.4 L520.4,341.8 L521.1,341.2 L521.8,340.7 L522.5,340.1 L523.2,339.4 L523.9,338.8 L524.6,338.1 L525.3,337.5 L526,336.8 L526.6,336.1 L527.3,335.4 L527.9,334.7 L528.5,333.9 L529.1,333.2 L529.8,332.5 L530.3,331.7 L530.9,331 L531.5,330.3 L532.1,329.6 L532.6,328.8 L533.1,328.1 L533.7,327.4 L534.2,326.7 L534.7,326 L535.1,325.4 L535.6,324.7 L535.9,324.2 L536.3,323.7 L536.7,323.1 L537,322.6 L537.4,322 L537.7,321.4 L538.1,320.8 L538.4,320.2 L538.8,319.5 L539.1,318.9 L539.4,318.3 L539.7,317.8 L540,317.2 L540.3,316.7 L540.6,316.2 L540.8,315.7 L541,315.3 L541.2,314.9 L541.4,314.6 L541.5,314.3 L541.6,314 L541.7,313.9 L541.8,313.8 L541.8,313.7 L541.8,313.7 L541.8,313.7 L541.8,313.7 L541.8,313.7 L541.8,313.7 L541.8,313.7 L541.8,313.7 L541.8,313.7 L541.8,313.7 L541.8,313.7 L541.8,313.7 L541.8,313.7 L541.8,313.7 L541.8,313.7 L541.8,313.7 L541.8,313.7 L541.8,313.7 L541.8,313.7 L541.8,313.7 L541.8,313.7 L541.8,313.7 L541.8,313.7 L541.8,313.7 L541.8,313.7 L541.8,313.8 L541.7,313.8 L541.5,313.9 L541.3,314.1 L541,314.3 L540.7,314.5 L540.3,314.8 L539.9,315.1 L539.5,315.4 L539,315.7 L538.5,316 L538,316.4 L537.4,316.8 L536.9,317.1 L536.3,317.5 L535.7,317.9 L535.1,318.2 L534.6,318.6 L534,318.9 L533.5,319.3 L532.9,319.6 L532.4,319.9 L531.9,320.1 L531.5,320.3 L531,320.5 L530.6,320.7 L530.2,320.9 L529.8,321.1 L529.4,321.2 L529,321.4 L528.6,321.5 L528.2,321.7 L527.8,321.8 L527.4,322 L527,322.1 L526.6,322.2 L526.2,322.4 L525.7,322.5 L525.3,322.6 L524.9,322.7 L524.4,322.9 L524,323 L523.5,323.1 L523.1,323.2 L522.6,323.3 L522.1,323.4 L521.6,323.5 L521.1,323.6 L520.4,323.8 L519.7,323.9 L518.9,324.1 L518.1,324.2 L517.3,324.3 L516.5,324.5 L515.6,324.6 L514.8,324.7 L513.9,324.8 L513,324.9 L512.1,325 L511.2,325.1 L510.3,325.2 L509.4,325.3 L508.5,325.4 L507.6,325.4 L506.7,325.5 L505.8,325.6 L504.9,325.6 L504,325.7 L503.1,325.7 L502.2,325.8 L501.3,325.8 L500.4,325.8 L499.6,325.9 L498.7,325.9 L497.9,325.9 L497,325.9 L496.1,325.9 L495.3,325.8 L494.4,325.8 L493.5,325.8 L492.7,325.8 L491.8,325.7 L491,325.7 L490.1,325.6 L489.2,325.6 L488.4,325.5 L487.5,325.5 L486.6,325.4 L485.8,325.3 L484.9,325.2 L484.1,325.2 L483.2,325.1 L482.3,325 L481.5,324.9 L480.6,324.8 L479.8,324.7 L478.9,324.6 L478,324.5 L477.2,324.5 L476.3,324.4 L475.4,324.3 L474.6,324.2 L473.7,324.1 L472.8,324 L472,323.8 L471.1,323.7 L470.2,323.6 L469.4,323.5 L468.5,323.4 L467.7,323.2 L466.8,323.1 L465.9,322.9 L465.1,322.8 L464.2,322.6 L463.4,322.4 L462.5,322.2 L461.6,322.1 L460.8,321.9 L459.9,321.7 L459.1,321.4 L458.2,321.2 L457.3,321 L456.4,320.7 L455.6,320.4 L454.7,320.2 L453.8,319.9 L452.9,319.6 L452,319.3 L451.1,319 L450.3,318.7 L449.4,318.4 L448.5,318 L447.6,317.7 L446.8,317.4 L445.9,317 L445,316.7 L444.2,316.3 L443.3,316 L442.5,315.6 L441.7,315.2 L440.8,314.9 L440,314.5 L439.2,314.1 L438.4,313.7 L437.7,313.4 L436.9,313 L436.2,312.6 L435.4,312.2 L434.7,311.7 L434,311.3 L433.3,310.9 L432.6,310.4 L431.9,310 L431.2,309.5 L430.5,309.1 L429.8,308.6 L429.1,308.1 L428.4,307.7 L427.7,307.3 L427,306.8 L426.4,306.4 L425.7,306 L425,305.6 L424.4,305.2 L423.7,304.8 L423.1,304.5 L422.5,304.1 L421.9,303.8 L421.4,303.6 L420.9,303.4 L420.4,303.1 L420,302.9 L419.5,302.7 L419,302.4 L418.6,302.2 L418.1,302 L417.6,301.7 L417.2,301.5 L416.7,301.3 L416.3,301.1 L415.8,300.9 L415.4,300.7 L414.9,300.6 L414.5,300.4 L414.1,300.3 L413.7,300.2 L413.3,300.1 L412.9,300 L412.6,300 L412.2,299.9 L411.8,299.9 L411.5,300 L411.3,300 L411.1,300 L410.9,300.1 L410.7,300.1 L410.5,300.2 L410.3,300.3 L410.2,300.3 L410,300.4 L409.8,300.5 L409.6,300.6 L409.5,300.7 L409.3,300.9 L409.2,301 L409,301.1 L408.9,301.2 L408.7,301.4 L408.5,301.5 L408.4,301.7 L408.2,301.8 L408.1,302 L407.9,302.2 L407.7,302.4 L407.6,302.5 L407.4,302.7 L407.1,303.1 L406.7,303.5 L406.4,304 L406.1,304.5 L405.7,305 L405.4,305.6 L405,306.2 L404.7,306.8 L404.3,307.4 L404,308.1 L403.6,308.8 L403.3,309.4 L402.9,310.1 L402.6,310.8 L402.2,311.5 L401.9,312.2 L401.5,312.9 L401.2,313.5 L400.8,314.2 L400.5,314.8 L400.1,315.4 L399.8,316 L399.4,316.5 L399.1,317 L398.8,317.4 L398.6,317.8 L398.3,318.2 L398.1,318.7 L397.8,319.1 L397.5,319.5 L397.3,320 L397,320.4 L396.8,320.8 L396.5,321.2 L396.3,321.6 L396,322 L395.7,322.4 L395.5,322.8 L395.2,323.1 L395,323.4 L394.7,323.7 L394.5,324 L394.2,324.2 L393.9,324.4 L393.7,324.5 L393.4,324.6 L393.2,324.7 L392.9,324.7 L392.6,324.7 L392.4,324.6 L392.1,324.5 L391.9,324.4 L391.6,324.2 L391.3,323.9 L391.1,323.7 L390.8,323.4 L390.6,323 L390.3,322.7 L390,322.3 L389.8,321.9 L389.5,321.5 L389.3,321.1 L389,320.7 L388.7,320.3 L388.5,319.8 L388.2,319.4 L388,319 L387.7,318.6 L387.5,318.2 L387.2,317.8 L386.9,317.4 L386.7,317 L386.4,316.6 L386.2,316.2 L385.9,315.7 L385.6,315.2 L385.3,314.7 L385.1,314.2 L384.8,313.6 L384.5,313.1 L384.3,312.5 L384,312 L383.7,311.4 L383.5,310.9 L383.2,310.4 L383,309.9 L382.7,309.4 L382.4,308.9 L382.2,308.5 L381.9,308.2 L381.7,307.9 L381.4,307.6 L381.2,307.4 L381,307.2 L380.7,307.1 L380.5,307.1 L380.2,307.2 L380,307.3 L379.8,307.5 L379.5,307.8 L379.3,308.1 L379.1,308.4 L378.8,308.9 L378.6,309.3 L378.4,309.8 L378.2,310.4 L377.9,311 L377.7,311.6 L377.5,312.3 L377.3,312.9 L377.1,313.6 L376.9,314.3 L376.7,315.1 L376.5,315.8 L376.3,316.6 L376.1,317.3 L375.9,318.1 L375.7,318.8 L375.5,319.6 L375.3,320.3 L375,321.7 L374.7,323.2 L374.4,324.8 L374.1,326.5 L373.8,328.2 L373.5,330.1 L373.3,332 L373,333.9 L372.8,335.9 L372.5,338 L372.3,340 L372,342.1 L371.8,344.3 L371.6,346.4 L371.4,348.5 L371.1,350.7 L370.9,352.8 L370.7,354.9 L370.4,357 L370.2,359 L369.9,361 L369.7,362.9 L369.4,364.8 L369.1,366.6 L368.9,368.1 L368.7,369.6 L368.5,371.2 L368.3,372.8 L368.1,374.3 L367.9,375.9 L367.7,377.5 L367.5,379.1 L367.3,380.7 L367.1,382.3 L366.9,383.8 L366.7,385.4 L366.5,386.8 L366.3,388.3 L366.1,389.7 L365.8,391.1 L365.5,392.4 L365.2,393.6 L364.9,394.8 L364.6,395.9 L364.2,397 L363.8,397.9 L363.4,398.8 L362.9,399.6 L362.7,399.9 L362.4,400.3 L362.2,400.6 L361.9,400.9 L361.6,401.2 L361.4,401.5 L361.1,401.7 L360.8,402 L360.5,402.2 L360.2,402.4 L359.9,402.6 L359.6,402.8 L359.3,403 L359,403.1 L358.7,403.3 L358.4,403.5 L358,403.6 L357.7,403.7 L357.4,403.9 L357,404 L356.7,404.1 L356.4,404.3 L356,404.4 L355.7,404.5 L355.3,404.7 L354.9,404.8 L354.5,404.9 L354.1,405 L353.7,405.1 L353.3,405.1 L352.9,405.2 L352.4,405.3 L352,405.3 L351.6,405.3 L351.1,405.4 L350.7,405.4 L350.2,405.4 L349.8,405.4 L349.3,405.5 L348.9,405.5 L348.4,405.5 L348,405.5 L347.5,405.5 L347.1,405.5 L346.7,405.6 L346.2,405.6 L345.8,405.6 L345.3,405.6 L344.9,405.7 L344.5,405.7 L344,405.7 L343.6,405.8 L343.2,405.8 L342.8,405.8 L342.3,405.8 L341.9,405.9 L341.5,405.9 L341,405.9 L340.6,405.9 L340.2,405.9 L339.7,406 L339.3,406 L338.9,406 L338.4,406 L338,406 L337.6,406.1 L337.2,406.1 L336.7,406.1 L336.3,406.1 L335.9,406.1 L335.4,406.2 L335,406.2" fill="none" stroke="#f03c3c" stroke-width="1.7" stroke-linejoin="round"/>
<line x1="475" y1="274.8" x2="495.5" y2="274.8" stroke="#22dd22" stroke-width="1.9" />
<text x="496.6" y="277.8" font-family='"Liberation Serif", serif' font-size="7.6" font-weight="bold" text-anchor="start" fill="#000" >CeO<tspan font-size="5.5" dy="2">2</tspan></text>
<line x1="475" y1="288.1" x2="495.5" y2="288.1" stroke="#1a3fd6" stroke-width="1.9" />
<text x="496.6" y="291.1" font-family='"Liberation Serif", serif' font-size="7.6" font-weight="bold" text-anchor="start" fill="#000" >GCE</text>
<line x1="475" y1="299.5" x2="495.5" y2="299.5" stroke="#111111" stroke-width="1.9" />
<text x="496.6" y="302.5" font-family='"Liberation Serif", serif' font-size="7.6" font-weight="bold" text-anchor="start" fill="#000" >ZnO</text>
<line x1="475" y1="309.9" x2="495.5" y2="309.9" stroke="#f03c3c" stroke-width="1.9" />
<text x="496.6" y="312.9" font-family='"Liberation Serif", serif' font-size="7.6" font-weight="bold" text-anchor="start" fill="#000" >ZnO-CeO<tspan font-size="5.5" dy="2">2</tspan></text>
<rect x="46.1" y="494" width="206.1" height="165" fill="none" stroke="#000" stroke-width="1.4"/>
<line x1="46.1" y1="659" x2="46.1" y2="656" stroke="#000" stroke-width="1.1" />
<line x1="80.45" y1="659" x2="80.45" y2="656" stroke="#000" stroke-width="1.1" />
<line x1="114.8" y1="659" x2="114.8" y2="656" stroke="#000" stroke-width="1.1" />
<line x1="149.15" y1="659" x2="149.15" y2="656" stroke="#000" stroke-width="1.1" />
<line x1="183.5" y1="659" x2="183.5" y2="656" stroke="#000" stroke-width="1.1" />
<line x1="217.85" y1="659" x2="217.85" y2="656" stroke="#000" stroke-width="1.1" />
<line x1="252.2" y1="659" x2="252.2" y2="656" stroke="#000" stroke-width="1.1" />
<line x1="63.28" y1="659" x2="63.28" y2="657.2" stroke="#000" stroke-width="1.1" />
<line x1="97.63" y1="659" x2="97.63" y2="657.2" stroke="#000" stroke-width="1.1" />
<line x1="131.97" y1="659" x2="131.97" y2="657.2" stroke="#000" stroke-width="1.1" />
<line x1="166.33" y1="659" x2="166.33" y2="657.2" stroke="#000" stroke-width="1.1" />
<line x1="200.67" y1="659" x2="200.67" y2="657.2" stroke="#000" stroke-width="1.1" />
<line x1="235.03" y1="659" x2="235.03" y2="657.2" stroke="#000" stroke-width="1.1" />
<line x1="46.1" y1="650.27" x2="49.1" y2="650.27" stroke="#000" stroke-width="1.1" />
<line x1="46.1" y1="615.37" x2="49.1" y2="615.37" stroke="#000" stroke-width="1.1" />
<line x1="46.1" y1="580.47" x2="49.1" y2="580.47" stroke="#000" stroke-width="1.1" />
<line x1="46.1" y1="545.57" x2="49.1" y2="545.57" stroke="#000" stroke-width="1.1" />
<line x1="46.1" y1="510.67" x2="49.1" y2="510.67" stroke="#000" stroke-width="1.1" />
<line x1="46.1" y1="632.82" x2="47.9" y2="632.82" stroke="#000" stroke-width="1.1" />
<line x1="46.1" y1="597.92" x2="47.9" y2="597.92" stroke="#000" stroke-width="1.1" />
<line x1="46.1" y1="563.02" x2="47.9" y2="563.02" stroke="#000" stroke-width="1.1" />
<line x1="46.1" y1="528.12" x2="47.9" y2="528.12" stroke="#000" stroke-width="1.1" />
<text x="46.1" y="671.8" font-family='"Liberation Serif", serif' font-size="11" font-weight="bold" text-anchor="middle" fill="#000" >-0.2</text>
<text x="80.45" y="671.8" font-family='"Liberation Serif", serif' font-size="11" font-weight="bold" text-anchor="middle" fill="#000" >0.0</text>
<text x="114.8" y="671.8" font-family='"Liberation Serif", serif' font-size="11" font-weight="bold" text-anchor="middle" fill="#000" >0.2</text>
<text x="149.15" y="671.8" font-family='"Liberation Serif", serif' font-size="11" font-weight="bold" text-anchor="middle" fill="#000" >0.4</text>
<text x="183.5" y="671.8" font-family='"Liberation Serif", serif' font-size="11" font-weight="bold" text-anchor="middle" fill="#000" >0.6</text>
<text x="217.85" y="671.8" font-family='"Liberation Serif", serif' font-size="11" font-weight="bold" text-anchor="middle" fill="#000" >0.8</text>
<text x="252.2" y="671.8" font-family='"Liberation Serif", serif' font-size="11" font-weight="bold" text-anchor="middle" fill="#000" >1.0</text>
<text x="42.3" y="653.87" font-family='"Liberation Serif", serif' font-size="11" font-weight="bold" text-anchor="end" fill="#000" >-40</text>
<text x="42.3" y="618.97" font-family='"Liberation Serif", serif' font-size="11" font-weight="bold" text-anchor="end" fill="#000" >0</text>
<text x="42.3" y="584.07" font-family='"Liberation Serif", serif' font-size="11" font-weight="bold" text-anchor="end" fill="#000" >40</text>
<text x="42.3" y="549.17" font-family='"Liberation Serif", serif' font-size="11" font-weight="bold" text-anchor="end" fill="#000" >80</text>
<text x="42.3" y="514.27" font-family='"Liberation Serif", serif' font-size="11" font-weight="bold" text-anchor="end" fill="#000" >120</text>
<text x="22" y="500" font-family='"Liberation Serif", serif' font-size="19.5" font-weight="bold" text-anchor="start" fill="#000" >C</text>
<text transform="translate(21.5,576.1) rotate(-90)" x="0" y="0" font-family='"Liberation Sans", sans-serif' font-size="14" font-weight="bold" text-anchor="middle">Current / μA</text>
<text x="149.6" y="692" font-family='"Liberation Sans", sans-serif' font-size="13.9" font-weight="bold" text-anchor="middle" fill="#000" >Potential / V</text>
<path d="M46.1,622.7 L46.5,622.6 L47,622.4 L47.4,622.3 L47.8,622.2 L48.2,622 L48.7,621.9 L49.1,621.8 L49.5,621.6 L50,621.5 L50.4,621.4 L50.8,621.2 L51.3,621.1 L51.7,621 L52.1,620.9 L52.5,620.7 L53,620.6 L53.4,620.5 L53.8,620.4 L54.3,620.2 L54.7,620.1 L55.1,620 L55.5,619.9 L56,619.8 L56.4,619.7 L56.8,619.6 L57.3,619.5 L57.7,619.4 L58.1,619.3 L58.6,619.2 L59,619.1 L59.4,619 L59.8,618.9 L60.3,618.9 L60.7,618.8 L61.1,618.7 L61.6,618.6 L62,618.6 L62.4,618.5 L62.8,618.5 L63.3,618.4 L63.7,618.4 L64.1,618.3 L64.6,618.3 L65,618.3 L65.4,618.2 L65.9,618.2 L66.3,618.1 L66.7,618.1 L67.1,618 L67.6,618 L68,618 L68.4,617.9 L68.9,617.9 L69.3,617.9 L69.7,617.8 L70.1,617.8 L70.6,617.8 L71,617.7 L71.4,617.7 L71.9,617.6 L72.3,617.6 L72.7,617.6 L73.2,617.6 L73.6,617.5 L74,617.5 L74.4,617.5 L74.9,617.4 L75.3,617.4 L75.7,617.4 L76.2,617.4 L76.6,617.3 L77,617.3 L77.4,617.3 L77.9,617.3 L78.3,617.2 L78.7,617.2 L79.2,617.2 L79.6,617.2 L80,617.1 L80.5,617.1 L80.9,617.1 L81.3,617.1 L81.7,617.1 L82.2,617 L82.6,617 L83,617 L83.5,617 L83.9,617 L84.3,617 L84.7,617 L85.2,616.9 L85.6,616.9 L86,616.9 L86.5,616.9 L86.9,616.9 L87.3,616.9 L87.7,616.9 L88.2,616.9 L88.6,616.9 L89,616.8 L89.5,616.8 L89.9,616.8 L90.3,616.8 L90.8,616.8 L91.2,616.8 L91.6,616.8 L92,616.8 L92.5,616.8 L92.9,616.8 L93.3,616.7 L93.8,616.7 L94.2,616.7 L94.6,616.7 L95,616.7 L95.5,616.7 L95.9,616.7 L96.3,616.7 L96.8,616.6 L97.2,616.6 L97.6,616.6 L98.1,616.6 L98.5,616.6 L98.9,616.6 L99.3,616.5 L99.8,616.5 L100.2,616.5 L100.6,616.5 L101.1,616.4 L101.5,616.4 L101.9,616.3 L102.3,616.3 L102.8,616.2 L103.2,616.2 L103.6,616.1 L104.1,616 L104.5,615.9 L104.9,615.9 L105.4,615.8 L105.8,615.7 L106.2,615.7 L106.6,615.6 L107.1,615.5 L107.5,615.4 L107.9,615.3 L108.4,615.2 L108.8,615 L109.2,614.9 L109.6,614.7 L110.1,614.6 L110.5,614.4 L110.9,614.2 L111.4,614 L111.8,613.8 L112.2,613.6 L112.7,613.3 L113.1,613.1 L113.5,612.7 L113.9,612.2 L114.4,611.6 L114.8,611 L115.2,610.2 L115.7,609.5 L116.1,608.6 L116.5,607.8 L116.9,607 L117.4,606.2 L117.8,605.2 L118.2,604.3 L118.7,603.3 L119.1,602.3 L119.5,601.3 L120,600.2 L120.4,599.2 L120.8,598.3 L121.2,597.3 L121.7,596.3 L122.1,595.2 L122.5,594.2 L123,593 L123.4,591.9 L123.8,590.9 L124.2,589.8 L124.7,588.9 L125.1,588 L125.5,587.3 L126,586.7 L126.4,586.2 L126.8,585.9 L127.3,585.6 L127.7,585.3 L128.1,585.1 L128.5,584.8 L129,584.7 L129.4,584.5 L129.8,584.5 L130.3,584.4 L130.7,584.4 L131.1,584.5 L131.5,584.6 L132,584.7 L132.4,584.8 L132.8,584.9 L133.3,585 L133.7,585.1 L134.1,585.2 L134.6,585.4 L135,585.5 L135.4,585.6 L135.8,585.7 L136.3,585.8 L136.7,586 L137.1,586.1 L137.6,586.2 L138,586.3 L138.4,586.4 L138.8,586.6 L139.3,586.7 L139.7,586.8 L140.1,587 L140.6,587.1 L141,587.2 L141.4,587.3 L141.9,587.5 L142.3,587.6 L142.7,587.7 L143.1,587.9 L143.6,588 L144,588.2 L144.4,588.3 L144.9,588.4 L145.3,588.6 L145.7,588.7 L146.1,588.8 L146.6,589 L147,589.1 L147.4,589.2 L147.9,589.4 L148.3,589.5 L148.7,589.7 L149.2,589.8 L149.6,589.9 L150,590.1 L150.4,590.2 L150.9,590.3 L151.3,590.5 L151.7,590.6 L152.2,590.7 L152.6,590.8 L153,590.9 L153.4,590.9 L153.9,591 L154.3,591.1 L154.7,591.2 L155.2,591.3 L155.6,591.3 L156,591.4 L156.4,591.5 L156.9,591.5 L157.3,591.6 L157.7,591.7 L158.2,591.7 L158.6,591.8 L159,591.9 L159.5,591.9 L159.9,592 L160.3,592 L160.7,592.1 L161.2,592.1 L161.6,592.2 L162,592.2 L162.5,592.3 L162.9,592.3 L163.3,592.4 L163.7,592.4 L164.2,592.5 L164.6,592.5 L165,592.6 L165.5,592.6 L165.9,592.7 L166.3,592.7 L166.8,592.8 L167.2,592.8 L167.6,592.9 L168,592.9 L168.5,593 L168.9,593 L169.3,593.1 L169.8,593.1 L170.2,593.1 L170.6,593.2 L171,593.2 L171.5,593.3 L171.9,593.3 L172.3,593.4 L172.8,593.4 L173.2,593.4 L173.6,593.5 L174.1,593.5 L174.5,593.6 L174.9,593.6 L175.3,593.6 L175.8,593.7 L176.2,593.7 L176.6,593.7 L177.1,593.8 L177.5,593.8 L177.9,593.8 L178.3,593.9 L178.8,593.9 L179.2,593.9 L179.6,594 L180.1,594 L180.5,594 L180.9,594 L181.4,594.1 L181.8,594.1 L182.2,594.1 L182.6,594.1 L183.1,594.2 L183.5,594.2 L183.9,594.2 L184.4,594.2 L184.8,594.3 L185.2,594.3 L185.6,594.3 L186.1,594.3 L186.5,594.3 L186.9,594.4 L187.4,594.4 L187.8,594.4 L188.2,594.4 L188.7,594.4 L189.1,594.5 L189.5,594.5 L189.9,594.5 L190.4,594.5 L190.8,594.5 L191.2,594.6 L191.7,594.6 L192.1,594.6 L192.5,594.6 L192.9,594.7 L193.4,594.7 L193.8,594.7 L194.2,594.7 L194.7,594.7 L195.1,594.8 L195.5,594.8 L196,594.8 L196.4,594.8 L196.8,594.9 L197.2,594.9 L197.7,594.9 L198.1,594.9 L198.5,595 L199,595 L199.4,595 L199.8,595.1 L200.2,595.1 L200.7,595.1 L201.1,595.1 L201.5,595.1 L202,595.2 L202.4,595.2 L202.8,595.2 L203.3,595.2 L203.7,595.3 L204.1,595.3 L204.5,595.3 L205,595.3 L205.4,595.3 L205.8,595.3 L206.3,595.4 L206.7,595.4 L207.1,595.4 L207.5,595.4 L208,595.4 L208.4,595.4 L208.8,595.4 L209.3,595.4 L209.7,595.4 L210.1,595.4 L210.6,595.4 L211,595.4 L211.4,595.4 L211.8,595.4 L212.3,595.4 L212.7,595.4 L213.1,595.4 L213.6,595.4 L214,595.4 L214.4,595.4 L214.8,595.4 L215.3,595.3 L215.7,595.3 L216.1,595.3 L216.6,595.3 L217,595.3 L217.4,595.3 L217.8,595.3 L218.3,595.2 L218.7,595.2 L219.1,595.2 L219.6,595.2 L220,595.2 L220.4,595.2 L220.9,595.1 L221.3,595.1 L221.7,595.1 L222.1,595.1 L222.6,595.1 L223,595.1 L223.4,595 L223.9,595 L224.3,595 L224.7,595 L225.1,594.9 L225.6,594.9 L226,594.9 L226.4,594.8 L226.9,594.8 L227.3,594.8 L227.7,594.8 L228.2,594.7 L228.6,594.7 L229,594.7 L229.4,594.6 L229.9,594.6 L230.3,594.5 L230.7,594.5 L231.2,594.5 L231.6,594.4 L232,594.4 L232.4,594.3 L232.9,594.3 L233.3,594.3 L233.7,594.2 L234.2,594.1 L234.6,594.1 L235,594 L235.5,594 L235.9,593.9 L236.3,593.8 L236.7,593.7 L237.2,593.7 L237.6,593.6 L238,593.5 L238.5,593.4 L238.9,593.4 L239.3,593.3 L239.7,593.2 L240.2,593.1 L240.6,593 L241,593 L241.5,592.9 L241.9,592.8 L242.3,592.7 L242.8,592.6 L243.2,592.4 L243.6,592.3 L244,592.2 L244.5,592.1 L244.9,592 L245.3,591.9 L245.8,591.7 L246.2,591.6 L246.6,591.5 L247,591.4 L247.5,591.3 L247.9,591.1 L248.3,591 L248.8,590.8 L249.2,590.7 L249.6,590.6 L250.1,590.4 L250.5,590.3 L250.9,590.1 L251.3,589.9 L251.8,589.8 L252.2,589.6 L252.2,589.6 L251.8,589.9 L251.3,590.2 L250.9,590.5 L250.5,590.8 L250.1,591 L249.6,591.3 L249.2,591.6 L248.8,591.8 L248.3,592.1 L247.9,592.3 L247.5,592.5 L247,592.8 L246.6,593 L246.2,593.2 L245.8,593.5 L245.3,593.7 L244.9,593.9 L244.5,594.1 L244,594.3 L243.6,594.4 L243.2,594.6 L242.8,594.8 L242.3,594.9 L241.9,595.1 L241.5,595.2 L241,595.4 L240.6,595.5 L240.2,595.7 L239.7,595.8 L239.3,595.9 L238.9,596.1 L238.5,596.2 L238,596.3 L237.6,596.4 L237.2,596.6 L236.7,596.7 L236.3,596.8 L235.9,596.9 L235.5,597 L235,597 L234.6,597.1 L234.2,597.2 L233.7,597.3 L233.3,597.4 L232.9,597.4 L232.4,597.5 L232,597.6 L231.6,597.7 L231.2,597.7 L230.7,597.8 L230.3,597.9 L229.9,598 L229.4,598 L229,598.1 L228.6,598.2 L228.2,598.2 L227.7,598.3 L227.3,598.4 L226.9,598.4 L226.4,598.5 L226,598.6 L225.6,598.6 L225.1,598.7 L224.7,598.7 L224.3,598.8 L223.9,598.9 L223.4,598.9 L223,599 L222.6,599 L222.1,599.1 L221.7,599.2 L221.3,599.2 L220.9,599.3 L220.4,599.4 L220,599.4 L219.6,599.5 L219.1,599.5 L218.7,599.6 L218.3,599.7 L217.8,599.7 L217.4,599.8 L217,599.9 L216.6,599.9 L216.1,600 L215.7,600 L215.3,600.1 L214.8,600.2 L214.4,600.2 L214,600.3 L213.6,600.3 L213.1,600.4 L212.7,600.5 L212.3,600.5 L211.8,600.6 L211.4,600.6 L211,600.7 L210.6,600.7 L210.1,600.8 L209.7,600.8 L209.3,600.9 L208.8,600.9 L208.4,601 L208,601 L207.5,601 L207.1,601.1 L206.7,601.1 L206.3,601.2 L205.8,601.2 L205.4,601.2 L205,601.3 L204.5,601.3 L204.1,601.3 L203.7,601.4 L203.3,601.4 L202.8,601.4 L202.4,601.5 L202,601.5 L201.5,601.5 L201.1,601.6 L200.7,601.6 L200.2,601.6 L199.8,601.7 L199.4,601.7 L199,601.7 L198.5,601.7 L198.1,601.8 L197.7,601.8 L197.2,601.8 L196.8,601.9 L196.4,601.9 L196,601.9 L195.5,602 L195.1,602 L194.7,602 L194.2,602 L193.8,602.1 L193.4,602.1 L192.9,602.1 L192.5,602.1 L192.1,602.2 L191.7,602.2 L191.2,602.2 L190.8,602.3 L190.4,602.3 L189.9,602.3 L189.5,602.3 L189.1,602.4 L188.7,602.4 L188.2,602.4 L187.8,602.4 L187.4,602.5 L186.9,602.5 L186.5,602.5 L186.1,602.6 L185.6,602.6 L185.2,602.6 L184.8,602.6 L184.4,602.7 L183.9,602.7 L183.5,602.7 L183.1,602.7 L182.6,602.8 L182.2,602.8 L181.8,602.8 L181.4,602.9 L180.9,602.9 L180.5,602.9 L180.1,602.9 L179.6,603 L179.2,603 L178.8,603 L178.3,603.1 L177.9,603.1 L177.5,603.1 L177.1,603.1 L176.6,603.2 L176.2,603.2 L175.8,603.2 L175.3,603.2 L174.9,603.3 L174.5,603.3 L174.1,603.3 L173.6,603.3 L173.2,603.4 L172.8,603.4 L172.3,603.4 L171.9,603.5 L171.5,603.5 L171,603.5 L170.6,603.5 L170.2,603.6 L169.8,603.6 L169.3,603.6 L168.9,603.6 L168.5,603.7 L168,603.7 L167.6,603.7 L167.2,603.7 L166.8,603.8 L166.3,603.8 L165.9,603.8 L165.5,603.8 L165,603.9 L164.6,603.9 L164.2,603.9 L163.7,603.9 L163.3,604 L162.9,604 L162.5,604 L162,604 L161.6,604.1 L161.2,604.1 L160.7,604.1 L160.3,604.2 L159.9,604.2 L159.5,604.2 L159,604.3 L158.6,604.3 L158.2,604.3 L157.7,604.4 L157.3,604.4 L156.9,604.5 L156.4,604.5 L156,604.6 L155.6,604.7 L155.2,604.8 L154.7,604.9 L154.3,605 L153.9,605.1 L153.4,605.3 L153,605.4 L152.6,605.5 L152.2,605.7 L151.7,605.8 L151.3,605.9 L150.9,606.1 L150.4,606.2 L150,606.4 L149.6,606.5 L149.2,606.6 L148.7,606.8 L148.3,606.9 L147.9,607.1 L147.4,607.2 L147,607.4 L146.6,607.5 L146.1,607.7 L145.7,607.8 L145.3,608 L144.9,608.2 L144.4,608.3 L144,608.5 L143.6,608.6 L143.1,608.8 L142.7,609 L142.3,609.1 L141.9,609.3 L141.4,609.4 L141,609.6 L140.6,609.7 L140.1,609.8 L139.7,610 L139.3,610.1 L138.8,610.3 L138.4,610.4 L138,610.5 L137.6,610.7 L137.1,610.8 L136.7,610.9 L136.3,611 L135.8,611.2 L135.4,611.3 L135,611.4 L134.6,611.6 L134.1,611.7 L133.7,611.8 L133.3,611.9 L132.8,612.1 L132.4,612.2 L132,612.3 L131.5,612.4 L131.1,612.6 L130.7,612.7 L130.3,612.8 L129.8,613 L129.4,613.1 L129,613.2 L128.5,613.3 L128.1,613.5 L127.7,613.6 L127.3,613.7 L126.8,613.9 L126.4,614 L126,614.1 L125.5,614.2 L125.1,614.4 L124.7,614.5 L124.2,614.6 L123.8,614.7 L123.4,614.8 L123,614.9 L122.5,615.1 L122.1,615.2 L121.7,615.3 L121.2,615.4 L120.8,615.5 L120.4,615.6 L120,615.7 L119.5,615.8 L119.1,615.8 L118.7,615.9 L118.2,616 L117.8,616.1 L117.4,616.2 L116.9,616.3 L116.5,616.4 L116.1,616.4 L115.7,616.5 L115.2,616.6 L114.8,616.7 L114.4,616.8 L113.9,616.9 L113.5,617 L113.1,617.1 L112.7,617.2 L112.2,617.3 L111.8,617.4 L111.4,617.5 L110.9,617.5 L110.5,617.6 L110.1,617.7 L109.6,617.8 L109.2,617.9 L108.8,617.9 L108.4,618 L107.9,618 L107.5,618 L107.1,618 L106.6,618 L106.2,618 L105.8,618 L105.4,618 L104.9,618 L104.5,618 L104.1,618 L103.6,618 L103.2,618 L102.8,618 L102.3,618 L101.9,618 L101.5,618 L101.1,618 L100.6,618 L100.2,618 L99.8,618 L99.3,618 L98.9,618 L98.5,618 L98.1,618 L97.6,618 L97.2,618 L96.8,618 L96.3,618 L95.9,618 L95.5,618 L95,618 L94.6,617.9 L94.2,617.9 L93.8,617.9 L93.3,617.9 L92.9,617.9 L92.5,617.9 L92,617.9 L91.6,617.9 L91.2,617.9 L90.8,617.8 L90.3,617.8 L89.9,617.8 L89.5,617.8 L89,617.8 L88.6,617.8 L88.2,617.8 L87.7,617.8 L87.3,617.8 L86.9,617.8 L86.5,617.8 L86,617.8 L85.6,617.8 L85.2,617.8 L84.7,617.8 L84.3,617.8 L83.9,617.8 L83.5,617.8 L83,617.8 L82.6,617.8 L82.2,617.8 L81.7,617.8 L81.3,617.8 L80.9,617.8 L80.5,617.8 L80,617.8 L79.6,617.8 L79.2,617.8 L78.7,617.8 L78.3,617.8 L77.9,617.8 L77.4,617.8 L77,617.8 L76.6,617.8 L76.2,617.9 L75.7,617.9 L75.3,617.9 L74.9,617.9 L74.4,617.9 L74,617.9 L73.6,617.9 L73.2,617.9 L72.7,617.9 L72.3,617.9 L71.9,617.9 L71.4,617.9 L71,618 L70.6,618 L70.1,618 L69.7,618 L69.3,618 L68.9,618 L68.4,618 L68,618 L67.6,618 L67.1,618.1 L66.7,618.1 L66.3,618.1 L65.9,618.1 L65.4,618.1 L65,618.1 L64.6,618.1 L64.1,618.1 L63.7,618.2 L63.3,618.2 L62.8,618.2 L62.4,618.2 L62,618.2 L61.6,618.2 L61.1,618.2 L60.7,618.2 L60.3,618.3 L59.8,618.3 L59.4,618.3 L59,618.4 L58.6,618.4 L58.1,618.5 L57.7,618.5 L57.3,618.6 L56.8,618.7 L56.4,618.8 L56,618.9 L55.5,619 L55.1,619 L54.7,619.1 L54.3,619.3 L53.8,619.4 L53.4,619.5 L53,619.6 L52.5,619.7 L52.1,619.8 L51.7,619.9 L51.3,620 L50.8,620.2 L50.4,620.4 L50,620.6 L49.5,620.8 L49.1,621 L48.7,621.2 L48.2,621.5 L47.8,621.7 L47.4,622 L47,622.2 L46.5,622.5 L46.1,622.7" fill="none" stroke="#e6a21a" stroke-width="1.6" stroke-linejoin="round"/>
<path d="M46.1,622.4 L46.5,622.2 L47,622.1 L47.4,622 L47.8,621.9 L48.2,621.7 L48.7,621.6 L49.1,621.5 L49.5,621.3 L50,621.2 L50.4,621.1 L50.8,620.9 L51.3,620.8 L51.7,620.7 L52.1,620.6 L52.5,620.4 L53,620.3 L53.4,620.2 L53.8,620.1 L54.3,620 L54.7,619.8 L55.1,619.7 L55.5,619.6 L56,619.5 L56.4,619.4 L56.8,619.3 L57.3,619.2 L57.7,619.1 L58.1,619 L58.6,618.9 L59,618.8 L59.4,618.7 L59.8,618.7 L60.3,618.6 L60.7,618.5 L61.1,618.4 L61.6,618.4 L62,618.3 L62.4,618.3 L62.8,618.2 L63.3,618.2 L63.7,618.1 L64.1,618.1 L64.6,618 L65,618 L65.4,618 L65.9,617.9 L66.3,617.9 L66.7,617.8 L67.1,617.8 L67.6,617.8 L68,617.7 L68.4,617.7 L68.9,617.6 L69.3,617.6 L69.7,617.6 L70.1,617.5 L70.6,617.5 L71,617.5 L71.4,617.4 L71.9,617.4 L72.3,617.4 L72.7,617.3 L73.2,617.3 L73.6,617.3 L74,617.2 L74.4,617.2 L74.9,617.2 L75.3,617.2 L75.7,617.1 L76.2,617.1 L76.6,617.1 L77,617.1 L77.4,617 L77.9,617 L78.3,617 L78.7,617 L79.2,616.9 L79.6,616.9 L80,616.9 L80.5,616.9 L80.9,616.8 L81.3,616.8 L81.7,616.8 L82.2,616.8 L82.6,616.8 L83,616.7 L83.5,616.7 L83.9,616.7 L84.3,616.7 L84.7,616.7 L85.2,616.7 L85.6,616.7 L86,616.6 L86.5,616.6 L86.9,616.6 L87.3,616.6 L87.7,616.6 L88.2,616.6 L88.6,616.6 L89,616.6 L89.5,616.5 L89.9,616.5 L90.3,616.5 L90.8,616.5 L91.2,616.5 L91.6,616.5 L92,616.5 L92.5,616.5 L92.9,616.5 L93.3,616.4 L93.8,616.4 L94.2,616.4 L94.6,616.4 L95,616.4 L95.5,616.4 L95.9,616.4 L96.3,616.4 L96.8,616.3 L97.2,616.3 L97.6,616.3 L98.1,616.3 L98.5,616.3 L98.9,616.3 L99.3,616.2 L99.8,616.2 L100.2,616.2 L100.6,616.2 L101.1,616.1 L101.5,616.1 L101.9,616 L102.3,616 L102.8,615.9 L103.2,615.8 L103.6,615.7 L104.1,615.6 L104.5,615.5 L104.9,615.4 L105.4,615.3 L105.8,615.2 L106.2,615.1 L106.6,615 L107.1,614.9 L107.5,614.7 L107.9,614.5 L108.4,614.3 L108.8,614 L109.2,613.7 L109.6,613.4 L110.1,613 L110.5,612.6 L110.9,612.2 L111.4,611.8 L111.8,611.4 L112.2,610.9 L112.7,610.4 L113.1,609.9 L113.5,609.3 L113.9,608.5 L114.4,607.7 L114.8,606.7 L115.2,605.7 L115.7,604.6 L116.1,603.6 L116.5,602.5 L116.9,601.5 L117.4,600.5 L117.8,599.4 L118.2,598.3 L118.7,597.2 L119.1,596.1 L119.5,595 L120,593.9 L120.4,592.8 L120.8,591.8 L121.2,590.8 L121.7,589.7 L122.1,588.6 L122.5,587.5 L123,586.3 L123.4,585.2 L123.8,584.1 L124.2,583 L124.7,582.1 L125.1,581.2 L125.5,580.5 L126,579.9 L126.4,579.5 L126.8,579.2 L127.3,579 L127.7,578.8 L128.1,578.6 L128.5,578.5 L129,578.4 L129.4,578.4 L129.8,578.4 L130.3,578.4 L130.7,578.5 L131.1,578.7 L131.5,578.9 L132,579 L132.4,579.2 L132.8,579.4 L133.3,579.6 L133.7,579.8 L134.1,580 L134.6,580.2 L135,580.5 L135.4,580.7 L135.8,580.9 L136.3,581.1 L136.7,581.3 L137.1,581.5 L137.6,581.8 L138,582 L138.4,582.2 L138.8,582.4 L139.3,582.7 L139.7,582.9 L140.1,583.1 L140.6,583.3 L141,583.6 L141.4,583.8 L141.9,584 L142.3,584.2 L142.7,584.4 L143.1,584.7 L143.6,584.9 L144,585.1 L144.4,585.3 L144.9,585.5 L145.3,585.7 L145.7,585.9 L146.1,586.1 L146.6,586.3 L147,586.5 L147.4,586.7 L147.9,586.9 L148.3,587.1 L148.7,587.2 L149.2,587.4 L149.6,587.6 L150,587.8 L150.4,587.9 L150.9,588.1 L151.3,588.2 L151.7,588.4 L152.2,588.5 L152.6,588.6 L153,588.7 L153.4,588.8 L153.9,588.8 L154.3,588.9 L154.7,589 L155.2,589.1 L155.6,589.2 L156,589.3 L156.4,589.4 L156.9,589.4 L157.3,589.5 L157.7,589.6 L158.2,589.6 L158.6,589.7 L159,589.8 L159.5,589.9 L159.9,589.9 L160.3,590 L160.7,590 L161.2,590.1 L161.6,590.2 L162,590.2 L162.5,590.3 L162.9,590.3 L163.3,590.4 L163.7,590.4 L164.2,590.5 L164.6,590.5 L165,590.6 L165.5,590.6 L165.9,590.7 L166.3,590.7 L166.8,590.8 L167.2,590.9 L167.6,590.9 L168,591 L168.5,591 L168.9,591.1 L169.3,591.1 L169.8,591.2 L170.2,591.2 L170.6,591.3 L171,591.3 L171.5,591.4 L171.9,591.4 L172.3,591.5 L172.8,591.5 L173.2,591.5 L173.6,591.6 L174.1,591.6 L174.5,591.7 L174.9,591.7 L175.3,591.8 L175.8,591.8 L176.2,591.8 L176.6,591.9 L177.1,591.9 L177.5,592 L177.9,592 L178.3,592 L178.8,592.1 L179.2,592.1 L179.6,592.1 L180.1,592.2 L180.5,592.2 L180.9,592.2 L181.4,592.2 L181.8,592.3 L182.2,592.3 L182.6,592.3 L183.1,592.4 L183.5,592.4 L183.9,592.4 L184.4,592.4 L184.8,592.5 L185.2,592.5 L185.6,592.5 L186.1,592.5 L186.5,592.6 L186.9,592.6 L187.4,592.6 L187.8,592.6 L188.2,592.6 L188.7,592.7 L189.1,592.7 L189.5,592.7 L189.9,592.7 L190.4,592.8 L190.8,592.8 L191.2,592.8 L191.7,592.8 L192.1,592.9 L192.5,592.9 L192.9,592.9 L193.4,592.9 L193.8,592.9 L194.2,593 L194.7,593 L195.1,593 L195.5,593.1 L196,593.1 L196.4,593.1 L196.8,593.1 L197.2,593.2 L197.7,593.2 L198.1,593.2 L198.5,593.2 L199,593.3 L199.4,593.3 L199.8,593.3 L200.2,593.3 L200.7,593.4 L201.1,593.4 L201.5,593.4 L202,593.4 L202.4,593.5 L202.8,593.5 L203.3,593.5 L203.7,593.5 L204.1,593.5 L204.5,593.6 L205,593.6 L205.4,593.6 L205.8,593.6 L206.3,593.6 L206.7,593.6 L207.1,593.6 L207.5,593.7 L208,593.7 L208.4,593.7 L208.8,593.7 L209.3,593.7 L209.7,593.7 L210.1,593.7 L210.6,593.7 L211,593.7 L211.4,593.7 L211.8,593.7 L212.3,593.7 L212.7,593.7 L213.1,593.7 L213.6,593.6 L214,593.6 L214.4,593.6 L214.8,593.6 L215.3,593.6 L215.7,593.6 L216.1,593.6 L216.6,593.6 L217,593.5 L217.4,593.5 L217.8,593.5 L218.3,593.5 L218.7,593.5 L219.1,593.5 L219.6,593.5 L220,593.4 L220.4,593.4 L220.9,593.4 L221.3,593.4 L221.7,593.4 L222.1,593.4 L222.6,593.3 L223,593.3 L223.4,593.3 L223.9,593.3 L224.3,593.2 L224.7,593.2 L225.1,593.2 L225.6,593.2 L226,593.1 L226.4,593.1 L226.9,593.1 L227.3,593 L227.7,593 L228.2,592.9 L228.6,592.9 L229,592.9 L229.4,592.8 L229.9,592.8 L230.3,592.7 L230.7,592.7 L231.2,592.7 L231.6,592.6 L232,592.6 L232.4,592.5 L232.9,592.5 L233.3,592.4 L233.7,592.3 L234.2,592.3 L234.6,592.2 L235,592.1 L235.5,592 L235.9,592 L236.3,591.9 L236.7,591.8 L237.2,591.7 L237.6,591.6 L238,591.5 L238.5,591.4 L238.9,591.3 L239.3,591.2 L239.7,591.1 L240.2,591 L240.6,590.9 L241,590.8 L241.5,590.7 L241.9,590.5 L242.3,590.4 L242.8,590.3 L243.2,590.1 L243.6,590 L244,589.8 L244.5,589.7 L244.9,589.5 L245.3,589.4 L245.8,589.2 L246.2,589.1 L246.6,588.9 L247,588.8 L247.5,588.6 L247.9,588.5 L248.3,588.3 L248.8,588.2 L249.2,588 L249.6,587.8 L250.1,587.7 L250.5,587.5 L250.9,587.3 L251.3,587.1 L251.8,587 L252.2,586.8 L252.2,586.8 L251.8,587.1 L251.3,587.5 L250.9,587.9 L250.5,588.2 L250.1,588.6 L249.6,588.9 L249.2,589.2 L248.8,589.5 L248.3,589.8 L247.9,590.1 L247.5,590.4 L247,590.7 L246.6,591 L246.2,591.3 L245.8,591.5 L245.3,591.8 L244.9,592 L244.5,592.3 L244,592.5 L243.6,592.7 L243.2,592.9 L242.8,593.1 L242.3,593.2 L241.9,593.4 L241.5,593.6 L241,593.8 L240.6,593.9 L240.2,594.1 L239.7,594.3 L239.3,594.4 L238.9,594.6 L238.5,594.7 L238,594.9 L237.6,595 L237.2,595.1 L236.7,595.3 L236.3,595.4 L235.9,595.5 L235.5,595.6 L235,595.7 L234.6,595.8 L234.2,595.9 L233.7,596 L233.3,596.1 L232.9,596.1 L232.4,596.2 L232,596.3 L231.6,596.4 L231.2,596.5 L230.7,596.5 L230.3,596.6 L229.9,596.7 L229.4,596.8 L229,596.9 L228.6,596.9 L228.2,597 L227.7,597.1 L227.3,597.2 L226.9,597.2 L226.4,597.3 L226,597.4 L225.6,597.4 L225.1,597.5 L224.7,597.6 L224.3,597.7 L223.9,597.7 L223.4,597.8 L223,597.9 L222.6,597.9 L222.1,598 L221.7,598.1 L221.3,598.1 L220.9,598.2 L220.4,598.2 L220,598.3 L219.6,598.4 L219.1,598.4 L218.7,598.5 L218.3,598.6 L217.8,598.7 L217.4,598.7 L217,598.8 L216.6,598.9 L216.1,598.9 L215.7,599 L215.3,599.1 L214.8,599.1 L214.4,599.2 L214,599.3 L213.6,599.3 L213.1,599.4 L212.7,599.4 L212.3,599.5 L211.8,599.6 L211.4,599.6 L211,599.7 L210.6,599.7 L210.1,599.8 L209.7,599.8 L209.3,599.9 L208.8,599.9 L208.4,600 L208,600 L207.5,600 L207.1,600.1 L206.7,600.1 L206.3,600.1 L205.8,600.2 L205.4,600.2 L205,600.2 L204.5,600.3 L204.1,600.3 L203.7,600.3 L203.3,600.4 L202.8,600.4 L202.4,600.4 L202,600.4 L201.5,600.5 L201.1,600.5 L200.7,600.5 L200.2,600.6 L199.8,600.6 L199.4,600.6 L199,600.6 L198.5,600.7 L198.1,600.7 L197.7,600.7 L197.2,600.7 L196.8,600.8 L196.4,600.8 L196,600.8 L195.5,600.8 L195.1,600.9 L194.7,600.9 L194.2,600.9 L193.8,600.9 L193.4,600.9 L192.9,601 L192.5,601 L192.1,601 L191.7,601 L191.2,601.1 L190.8,601.1 L190.4,601.1 L189.9,601.1 L189.5,601.2 L189.1,601.2 L188.7,601.2 L188.2,601.2 L187.8,601.2 L187.4,601.3 L186.9,601.3 L186.5,601.3 L186.1,601.3 L185.6,601.4 L185.2,601.4 L184.8,601.4 L184.4,601.5 L183.9,601.5 L183.5,601.5 L183.1,601.5 L182.6,601.6 L182.2,601.6 L181.8,601.6 L181.4,601.6 L180.9,601.7 L180.5,601.7 L180.1,601.7 L179.6,601.8 L179.2,601.8 L178.8,601.8 L178.3,601.8 L177.9,601.9 L177.5,601.9 L177.1,601.9 L176.6,601.9 L176.2,602 L175.8,602 L175.3,602 L174.9,602.1 L174.5,602.1 L174.1,602.1 L173.6,602.1 L173.2,602.2 L172.8,602.2 L172.3,602.2 L171.9,602.3 L171.5,602.3 L171,602.3 L170.6,602.3 L170.2,602.4 L169.8,602.4 L169.3,602.4 L168.9,602.5 L168.5,602.5 L168,602.5 L167.6,602.5 L167.2,602.6 L166.8,602.6 L166.3,602.6 L165.9,602.7 L165.5,602.7 L165,602.7 L164.6,602.7 L164.2,602.8 L163.7,602.8 L163.3,602.8 L162.9,602.9 L162.5,602.9 L162,602.9 L161.6,603 L161.2,603 L160.7,603 L160.3,603.1 L159.9,603.1 L159.5,603.1 L159,603.2 L158.6,603.2 L158.2,603.3 L157.7,603.3 L157.3,603.4 L156.9,603.4 L156.4,603.5 L156,603.6 L155.6,603.7 L155.2,603.8 L154.7,603.9 L154.3,604 L153.9,604.2 L153.4,604.3 L153,604.4 L152.6,604.6 L152.2,604.7 L151.7,604.9 L151.3,605.1 L150.9,605.2 L150.4,605.4 L150,605.5 L149.6,605.7 L149.2,605.8 L148.7,606 L148.3,606.1 L147.9,606.3 L147.4,606.4 L147,606.6 L146.6,606.8 L146.1,606.9 L145.7,607.1 L145.3,607.3 L144.9,607.4 L144.4,607.6 L144,607.8 L143.6,608 L143.1,608.1 L142.7,608.3 L142.3,608.5 L141.9,608.6 L141.4,608.8 L141,609 L140.6,609.1 L140.1,609.3 L139.7,609.4 L139.3,609.6 L138.8,609.7 L138.4,609.9 L138,610 L137.6,610.2 L137.1,610.3 L136.7,610.5 L136.3,610.6 L135.8,610.8 L135.4,610.9 L135,611.1 L134.6,611.2 L134.1,611.3 L133.7,611.5 L133.3,611.6 L132.8,611.8 L132.4,611.9 L132,612.1 L131.5,612.2 L131.1,612.3 L130.7,612.5 L130.3,612.6 L129.8,612.7 L129.4,612.9 L129,613 L128.5,613.2 L128.1,613.3 L127.7,613.4 L127.3,613.6 L126.8,613.7 L126.4,613.8 L126,614 L125.5,614.1 L125.1,614.2 L124.7,614.4 L124.2,614.5 L123.8,614.6 L123.4,614.8 L123,614.9 L122.5,615 L122.1,615.1 L121.7,615.3 L121.2,615.4 L120.8,615.5 L120.4,615.6 L120,615.7 L119.5,615.8 L119.1,616 L118.7,616.1 L118.2,616.2 L117.8,616.3 L117.4,616.4 L116.9,616.5 L116.5,616.6 L116.1,616.7 L115.7,616.8 L115.2,616.9 L114.8,617.1 L114.4,617.2 L113.9,617.3 L113.5,617.4 L113.1,617.6 L112.7,617.7 L112.2,617.8 L111.8,618 L111.4,618.1 L110.9,618.2 L110.5,618.4 L110.1,618.5 L109.6,618.6 L109.2,618.7 L108.8,618.8 L108.4,618.8 L107.9,618.8 L107.5,618.9 L107.1,618.9 L106.6,618.9 L106.2,618.8 L105.8,618.8 L105.4,618.8 L104.9,618.8 L104.5,618.8 L104.1,618.7 L103.6,618.7 L103.2,618.7 L102.8,618.7 L102.3,618.7 L101.9,618.7 L101.5,618.6 L101.1,618.6 L100.6,618.6 L100.2,618.6 L99.8,618.6 L99.3,618.6 L98.9,618.6 L98.5,618.6 L98.1,618.5 L97.6,618.5 L97.2,618.5 L96.8,618.5 L96.3,618.5 L95.9,618.5 L95.5,618.5 L95,618.5 L94.6,618.5 L94.2,618.4 L93.8,618.4 L93.3,618.4 L92.9,618.4 L92.5,618.4 L92,618.4 L91.6,618.4 L91.2,618.4 L90.8,618.4 L90.3,618.3 L89.9,618.3 L89.5,618.3 L89,618.3 L88.6,618.3 L88.2,618.3 L87.7,618.3 L87.3,618.3 L86.9,618.3 L86.5,618.3 L86,618.3 L85.6,618.3 L85.2,618.3 L84.7,618.3 L84.3,618.3 L83.9,618.3 L83.5,618.3 L83,618.3 L82.6,618.3 L82.2,618.3 L81.7,618.3 L81.3,618.3 L80.9,618.3 L80.5,618.3 L80,618.3 L79.6,618.3 L79.2,618.3 L78.7,618.3 L78.3,618.3 L77.9,618.3 L77.4,618.3 L77,618.3 L76.6,618.3 L76.2,618.3 L75.7,618.3 L75.3,618.4 L74.9,618.4 L74.4,618.4 L74,618.4 L73.6,618.4 L73.2,618.4 L72.7,618.4 L72.3,618.4 L71.9,618.4 L71.4,618.4 L71,618.4 L70.6,618.5 L70.1,618.5 L69.7,618.5 L69.3,618.5 L68.9,618.5 L68.4,618.5 L68,618.5 L67.6,618.5 L67.1,618.6 L66.7,618.6 L66.3,618.6 L65.9,618.6 L65.4,618.6 L65,618.6 L64.6,618.6 L64.1,618.6 L63.7,618.7 L63.3,618.7 L62.8,618.7 L62.4,618.7 L62,618.7 L61.6,618.7 L61.1,618.7 L60.7,618.8 L60.3,618.8 L59.8,618.8 L59.4,618.8 L59,618.9 L58.6,618.9 L58.1,619 L57.7,619.1 L57.3,619.2 L56.8,619.3 L56.4,619.3 L56,619.4 L55.5,619.6 L55.1,619.7 L54.7,619.8 L54.3,619.9 L53.8,620 L53.4,620.1 L53,620.3 L52.5,620.4 L52.1,620.5 L51.7,620.7 L51.3,620.8 L50.8,621 L50.4,621.3 L50,621.5 L49.5,621.8 L49.1,622.1 L48.7,622.3 L48.2,622.7 L47.8,623 L47.4,623.3 L47,623.6 L46.5,623.9 L46.1,624.3" fill="none" stroke="#676767" stroke-width="1.6" stroke-linejoin="round"/>
<path d="M46.1,622.1 L46.5,621.9 L47,621.8 L47.4,621.7 L47.8,621.5 L48.2,621.4 L48.7,621.3 L49.1,621.2 L49.5,621 L50,620.9 L50.4,620.8 L50.8,620.6 L51.3,620.5 L51.7,620.4 L52.1,620.3 L52.5,620.1 L53,620 L53.4,619.9 L53.8,619.8 L54.3,619.7 L54.7,619.6 L55.1,619.4 L55.5,619.3 L56,619.2 L56.4,619.1 L56.8,619 L57.3,618.9 L57.7,618.8 L58.1,618.7 L58.6,618.6 L59,618.6 L59.4,618.5 L59.8,618.4 L60.3,618.3 L60.7,618.2 L61.1,618.2 L61.6,618.1 L62,618.1 L62.4,618 L62.8,617.9 L63.3,617.9 L63.7,617.9 L64.1,617.8 L64.6,617.8 L65,617.7 L65.4,617.7 L65.9,617.7 L66.3,617.6 L66.7,617.6 L67.1,617.5 L67.6,617.5 L68,617.5 L68.4,617.4 L68.9,617.4 L69.3,617.4 L69.7,617.3 L70.1,617.3 L70.6,617.3 L71,617.2 L71.4,617.2 L71.9,617.2 L72.3,617.1 L72.7,617.1 L73.2,617.1 L73.6,617 L74,617 L74.4,617 L74.9,617 L75.3,616.9 L75.7,616.9 L76.2,616.9 L76.6,616.8 L77,616.8 L77.4,616.8 L77.9,616.8 L78.3,616.7 L78.7,616.7 L79.2,616.7 L79.6,616.7 L80,616.6 L80.5,616.6 L80.9,616.6 L81.3,616.6 L81.7,616.5 L82.2,616.5 L82.6,616.5 L83,616.5 L83.5,616.5 L83.9,616.4 L84.3,616.4 L84.7,616.4 L85.2,616.4 L85.6,616.4 L86,616.4 L86.5,616.3 L86.9,616.3 L87.3,616.3 L87.7,616.3 L88.2,616.3 L88.6,616.3 L89,616.3 L89.5,616.3 L89.9,616.2 L90.3,616.2 L90.8,616.2 L91.2,616.2 L91.6,616.2 L92,616.2 L92.5,616.2 L92.9,616.2 L93.3,616.2 L93.8,616.1 L94.2,616.1 L94.6,616.1 L95,616.1 L95.5,616.1 L95.9,616.1 L96.3,616.1 L96.8,616 L97.2,616 L97.6,616 L98.1,616 L98.5,616 L98.9,616 L99.3,616 L99.8,615.9 L100.2,615.9 L100.6,615.9 L101.1,615.8 L101.5,615.8 L101.9,615.7 L102.3,615.6 L102.8,615.5 L103.2,615.3 L103.6,615.2 L104.1,615.1 L104.5,614.9 L104.9,614.8 L105.4,614.6 L105.8,614.5 L106.2,614.3 L106.6,614.1 L107.1,613.8 L107.5,613.5 L107.9,613 L108.4,612.5 L108.8,611.9 L109.2,611.2 L109.6,610.5 L110.1,609.7 L110.5,608.8 L110.9,607.9 L111.4,607 L111.8,606 L112.2,605 L112.7,604 L113.1,603 L113.5,601.7 L113.9,600.3 L114.4,598.8 L114.8,597.1 L115.2,595.4 L115.7,593.7 L116.1,592.1 L116.5,590.5 L116.9,589.1 L117.4,587.7 L117.8,586.3 L118.2,584.9 L118.7,583.5 L119.1,582.2 L119.5,580.9 L120,579.6 L120.4,578.3 L120.8,577.1 L121.2,576 L121.7,574.8 L122.1,573.6 L122.5,572.3 L123,571.1 L123.4,569.8 L123.8,568.7 L124.2,567.6 L124.7,566.6 L125.1,565.8 L125.5,565.1 L126,564.6 L126.4,564.3 L126.8,564.1 L127.3,564.1 L127.7,564.1 L128.1,564.1 L128.5,564.2 L129,564.3 L129.4,564.5 L129.8,564.7 L130.3,564.9 L130.7,565.2 L131.1,565.5 L131.5,565.8 L132,566.1 L132.4,566.4 L132.8,566.8 L133.3,567.1 L133.7,567.5 L134.1,567.8 L134.6,568.2 L135,568.5 L135.4,568.8 L135.8,569.2 L136.3,569.5 L136.7,569.8 L137.1,570.1 L137.6,570.3 L138,570.6 L138.4,570.9 L138.8,571.2 L139.3,571.4 L139.7,571.7 L140.1,571.9 L140.6,572.2 L141,572.4 L141.4,572.7 L141.9,572.9 L142.3,573.1 L142.7,573.4 L143.1,573.6 L143.6,573.8 L144,574 L144.4,574.2 L144.9,574.4 L145.3,574.6 L145.7,574.8 L146.1,575 L146.6,575.2 L147,575.4 L147.4,575.6 L147.9,575.8 L148.3,576 L148.7,576.1 L149.2,576.3 L149.6,576.5 L150,576.7 L150.4,576.8 L150.9,577 L151.3,577.2 L151.7,577.3 L152.2,577.5 L152.6,577.6 L153,577.7 L153.4,577.9 L153.9,578 L154.3,578.1 L154.7,578.2 L155.2,578.4 L155.6,578.5 L156,578.6 L156.4,578.7 L156.9,578.8 L157.3,578.9 L157.7,579.1 L158.2,579.2 L158.6,579.3 L159,579.4 L159.5,579.5 L159.9,579.6 L160.3,579.7 L160.7,579.8 L161.2,579.9 L161.6,580 L162,580.1 L162.5,580.2 L162.9,580.3 L163.3,580.3 L163.7,580.4 L164.2,580.5 L164.6,580.6 L165,580.7 L165.5,580.7 L165.9,580.8 L166.3,580.9 L166.8,581 L167.2,581 L167.6,581.1 L168,581.2 L168.5,581.3 L168.9,581.4 L169.3,581.4 L169.8,581.5 L170.2,581.6 L170.6,581.7 L171,581.7 L171.5,581.8 L171.9,581.9 L172.3,581.9 L172.8,582 L173.2,582.1 L173.6,582.1 L174.1,582.2 L174.5,582.3 L174.9,582.3 L175.3,582.4 L175.8,582.5 L176.2,582.5 L176.6,582.6 L177.1,582.6 L177.5,582.7 L177.9,582.7 L178.3,582.8 L178.8,582.9 L179.2,582.9 L179.6,583 L180.1,583 L180.5,583 L180.9,583.1 L181.4,583.1 L181.8,583.2 L182.2,583.2 L182.6,583.3 L183.1,583.3 L183.5,583.4 L183.9,583.4 L184.4,583.4 L184.8,583.5 L185.2,583.5 L185.6,583.6 L186.1,583.6 L186.5,583.6 L186.9,583.7 L187.4,583.7 L187.8,583.8 L188.2,583.8 L188.7,583.8 L189.1,583.9 L189.5,583.9 L189.9,583.9 L190.4,584 L190.8,584 L191.2,584 L191.7,584.1 L192.1,584.1 L192.5,584.1 L192.9,584.1 L193.4,584.2 L193.8,584.2 L194.2,584.2 L194.7,584.3 L195.1,584.3 L195.5,584.3 L196,584.4 L196.4,584.4 L196.8,584.4 L197.2,584.4 L197.7,584.5 L198.1,584.5 L198.5,584.5 L199,584.6 L199.4,584.6 L199.8,584.6 L200.2,584.6 L200.7,584.7 L201.1,584.7 L201.5,584.7 L202,584.7 L202.4,584.8 L202.8,584.8 L203.3,584.8 L203.7,584.8 L204.1,584.9 L204.5,584.9 L205,584.9 L205.4,584.9 L205.8,584.9 L206.3,584.9 L206.7,585 L207.1,585 L207.5,585 L208,585 L208.4,585 L208.8,585 L209.3,585 L209.7,585 L210.1,585 L210.6,585 L211,585 L211.4,585 L211.8,585 L212.3,585 L212.7,585 L213.1,585 L213.6,585 L214,585 L214.4,584.9 L214.8,584.9 L215.3,584.9 L215.7,584.9 L216.1,584.9 L216.6,584.9 L217,584.9 L217.4,584.8 L217.8,584.8 L218.3,584.8 L218.7,584.8 L219.1,584.8 L219.6,584.8 L220,584.8 L220.4,584.7 L220.9,584.7 L221.3,584.7 L221.7,584.7 L222.1,584.7 L222.6,584.6 L223,584.6 L223.4,584.6 L223.9,584.6 L224.3,584.5 L224.7,584.5 L225.1,584.4 L225.6,584.4 L226,584.3 L226.4,584.3 L226.9,584.2 L227.3,584.2 L227.7,584.1 L228.2,584.1 L228.6,584 L229,583.9 L229.4,583.9 L229.9,583.8 L230.3,583.8 L230.7,583.7 L231.2,583.6 L231.6,583.6 L232,583.5 L232.4,583.4 L232.9,583.3 L233.3,583.2 L233.7,583.1 L234.2,583 L234.6,582.8 L235,582.7 L235.5,582.5 L235.9,582.4 L236.3,582.2 L236.7,582 L237.2,581.8 L237.6,581.6 L238,581.5 L238.5,581.3 L238.9,581.1 L239.3,580.8 L239.7,580.6 L240.2,580.4 L240.6,580.2 L241,580 L241.5,579.7 L241.9,579.4 L242.3,579.2 L242.8,578.9 L243.2,578.6 L243.6,578.3 L244,577.9 L244.5,577.6 L244.9,577.3 L245.3,577 L245.8,576.7 L246.2,576.4 L246.6,576.1 L247,575.8 L247.5,575.5 L247.9,575.2 L248.3,575 L248.8,574.7 L249.2,574.4 L249.6,574.1 L250.1,573.8 L250.5,573.6 L250.9,573.3 L251.3,573 L251.8,572.8 L252.2,572.5 L252.2,572.5 L251.8,573.2 L251.3,574 L250.9,574.7 L250.5,575.4 L250.1,576.1 L249.6,576.7 L249.2,577.3 L248.8,577.9 L248.3,578.5 L247.9,579.1 L247.5,579.7 L247,580.2 L246.6,580.8 L246.2,581.3 L245.8,581.8 L245.3,582.3 L244.9,582.8 L244.5,583.2 L244,583.6 L243.6,584 L243.2,584.3 L242.8,584.6 L242.3,584.9 L241.9,585.2 L241.5,585.5 L241,585.8 L240.6,586.1 L240.2,586.4 L239.7,586.6 L239.3,586.9 L238.9,587.2 L238.5,587.4 L238,587.6 L237.6,587.9 L237.2,588.1 L236.7,588.3 L236.3,588.5 L235.9,588.6 L235.5,588.8 L235,588.9 L234.6,589.1 L234.2,589.2 L233.7,589.3 L233.3,589.5 L232.9,589.6 L232.4,589.7 L232,589.9 L231.6,590 L231.2,590.1 L230.7,590.2 L230.3,590.4 L229.9,590.5 L229.4,590.6 L229,590.7 L228.6,590.8 L228.2,590.9 L227.7,591.1 L227.3,591.2 L226.9,591.3 L226.4,591.4 L226,591.5 L225.6,591.6 L225.1,591.7 L224.7,591.8 L224.3,591.9 L223.9,592 L223.4,592.1 L223,592.2 L222.6,592.3 L222.1,592.4 L221.7,592.5 L221.3,592.6 L220.9,592.6 L220.4,592.7 L220,592.8 L219.6,592.9 L219.1,593 L218.7,593.1 L218.3,593.2 L217.8,593.2 L217.4,593.3 L217,593.4 L216.6,593.5 L216.1,593.6 L215.7,593.7 L215.3,593.8 L214.8,593.8 L214.4,593.9 L214,594 L213.6,594.1 L213.1,594.2 L212.7,594.2 L212.3,594.3 L211.8,594.4 L211.4,594.5 L211,594.5 L210.6,594.6 L210.1,594.7 L209.7,594.7 L209.3,594.8 L208.8,594.9 L208.4,594.9 L208,595 L207.5,595 L207.1,595.1 L206.7,595.1 L206.3,595.2 L205.8,595.2 L205.4,595.3 L205,595.3 L204.5,595.4 L204.1,595.4 L203.7,595.5 L203.3,595.5 L202.8,595.6 L202.4,595.6 L202,595.7 L201.5,595.7 L201.1,595.8 L200.7,595.8 L200.2,595.9 L199.8,595.9 L199.4,596 L199,596 L198.5,596 L198.1,596.1 L197.7,596.1 L197.2,596.2 L196.8,596.2 L196.4,596.3 L196,596.3 L195.5,596.3 L195.1,596.4 L194.7,596.4 L194.2,596.5 L193.8,596.5 L193.4,596.5 L192.9,596.6 L192.5,596.6 L192.1,596.7 L191.7,596.7 L191.2,596.8 L190.8,596.8 L190.4,596.8 L189.9,596.9 L189.5,596.9 L189.1,597 L188.7,597 L188.2,597 L187.8,597.1 L187.4,597.1 L186.9,597.1 L186.5,597.2 L186.1,597.2 L185.6,597.3 L185.2,597.3 L184.8,597.3 L184.4,597.4 L183.9,597.4 L183.5,597.5 L183.1,597.5 L182.6,597.5 L182.2,597.6 L181.8,597.6 L181.4,597.7 L180.9,597.7 L180.5,597.7 L180.1,597.8 L179.6,597.8 L179.2,597.9 L178.8,597.9 L178.3,597.9 L177.9,598 L177.5,598 L177.1,598 L176.6,598.1 L176.2,598.1 L175.8,598.2 L175.3,598.2 L174.9,598.2 L174.5,598.3 L174.1,598.3 L173.6,598.3 L173.2,598.4 L172.8,598.4 L172.3,598.5 L171.9,598.5 L171.5,598.5 L171,598.6 L170.6,598.6 L170.2,598.7 L169.8,598.7 L169.3,598.7 L168.9,598.8 L168.5,598.8 L168,598.9 L167.6,598.9 L167.2,598.9 L166.8,599 L166.3,599 L165.9,599.1 L165.5,599.1 L165,599.1 L164.6,599.2 L164.2,599.2 L163.7,599.3 L163.3,599.3 L162.9,599.4 L162.5,599.4 L162,599.5 L161.6,599.5 L161.2,599.6 L160.7,599.6 L160.3,599.7 L159.9,599.7 L159.5,599.8 L159,599.9 L158.6,599.9 L158.2,600 L157.7,600.1 L157.3,600.1 L156.9,600.2 L156.4,600.3 L156,600.4 L155.6,600.6 L155.2,600.7 L154.7,600.8 L154.3,601 L153.9,601.2 L153.4,601.3 L153,601.5 L152.6,601.7 L152.2,601.9 L151.7,602.1 L151.3,602.3 L150.9,602.4 L150.4,602.6 L150,602.8 L149.6,603 L149.2,603.2 L148.7,603.4 L148.3,603.6 L147.9,603.8 L147.4,603.9 L147,604.1 L146.6,604.3 L146.1,604.6 L145.7,604.8 L145.3,605 L144.9,605.2 L144.4,605.4 L144,605.6 L143.6,605.8 L143.1,606 L142.7,606.2 L142.3,606.4 L141.9,606.6 L141.4,606.8 L141,607.1 L140.6,607.3 L140.1,607.5 L139.7,607.7 L139.3,607.9 L138.8,608.1 L138.4,608.3 L138,608.5 L137.6,608.7 L137.1,608.9 L136.7,609.1 L136.3,609.3 L135.8,609.5 L135.4,609.7 L135,609.9 L134.6,610.1 L134.1,610.3 L133.7,610.5 L133.3,610.7 L132.8,610.9 L132.4,611.1 L132,611.3 L131.5,611.4 L131.1,611.6 L130.7,611.8 L130.3,612 L129.8,612.1 L129.4,612.3 L129,612.5 L128.5,612.7 L128.1,612.8 L127.7,613 L127.3,613.2 L126.8,613.3 L126.4,613.5 L126,613.7 L125.5,613.8 L125.1,614 L124.7,614.1 L124.2,614.3 L123.8,614.5 L123.4,614.6 L123,614.8 L122.5,614.9 L122.1,615.1 L121.7,615.2 L121.2,615.4 L120.8,615.5 L120.4,615.7 L120,615.8 L119.5,615.9 L119.1,616.1 L118.7,616.2 L118.2,616.4 L117.8,616.5 L117.4,616.6 L116.9,616.8 L116.5,616.9 L116.1,617 L115.7,617.2 L115.2,617.3 L114.8,617.4 L114.4,617.6 L113.9,617.7 L113.5,617.9 L113.1,618.1 L112.7,618.2 L112.2,618.4 L111.8,618.6 L111.4,618.8 L110.9,618.9 L110.5,619.1 L110.1,619.2 L109.6,619.4 L109.2,619.5 L108.8,619.6 L108.4,619.7 L107.9,619.7 L107.5,619.7 L107.1,619.7 L106.6,619.7 L106.2,619.7 L105.8,619.7 L105.4,619.6 L104.9,619.6 L104.5,619.5 L104.1,619.5 L103.6,619.5 L103.2,619.4 L102.8,619.4 L102.3,619.4 L101.9,619.3 L101.5,619.3 L101.1,619.3 L100.6,619.2 L100.2,619.2 L99.8,619.2 L99.3,619.2 L98.9,619.1 L98.5,619.1 L98.1,619.1 L97.6,619.1 L97.2,619.1 L96.8,619 L96.3,619 L95.9,619 L95.5,619 L95,619 L94.6,619 L94.2,619 L93.8,618.9 L93.3,618.9 L92.9,618.9 L92.5,618.9 L92,618.9 L91.6,618.9 L91.2,618.9 L90.8,618.9 L90.3,618.9 L89.9,618.8 L89.5,618.8 L89,618.8 L88.6,618.8 L88.2,618.8 L87.7,618.8 L87.3,618.8 L86.9,618.8 L86.5,618.8 L86,618.8 L85.6,618.8 L85.2,618.8 L84.7,618.8 L84.3,618.8 L83.9,618.8 L83.5,618.8 L83,618.8 L82.6,618.8 L82.2,618.8 L81.7,618.8 L81.3,618.8 L80.9,618.8 L80.5,618.8 L80,618.8 L79.6,618.8 L79.2,618.8 L78.7,618.8 L78.3,618.8 L77.9,618.8 L77.4,618.8 L77,618.8 L76.6,618.8 L76.2,618.8 L75.7,618.8 L75.3,618.8 L74.9,618.8 L74.4,618.9 L74,618.9 L73.6,618.9 L73.2,618.9 L72.7,618.9 L72.3,618.9 L71.9,618.9 L71.4,618.9 L71,618.9 L70.6,618.9 L70.1,619 L69.7,619 L69.3,619 L68.9,619 L68.4,619 L68,619 L67.6,619 L67.1,619.1 L66.7,619.1 L66.3,619.1 L65.9,619.1 L65.4,619.1 L65,619.1 L64.6,619.1 L64.1,619.2 L63.7,619.2 L63.3,619.2 L62.8,619.2 L62.4,619.2 L62,619.2 L61.6,619.2 L61.1,619.3 L60.7,619.3 L60.3,619.3 L59.8,619.3 L59.4,619.4 L59,619.4 L58.6,619.5 L58.1,619.5 L57.7,619.6 L57.3,619.7 L56.8,619.8 L56.4,619.9 L56,620 L55.5,620.2 L55.1,620.3 L54.7,620.4 L54.3,620.5 L53.8,620.7 L53.4,620.8 L53,621 L52.5,621.1 L52.1,621.2 L51.7,621.4 L51.3,621.6 L50.8,621.9 L50.4,622.1 L50,622.4 L49.5,622.8 L49.1,623.1 L48.7,623.5 L48.2,623.8 L47.8,624.2 L47.4,624.6 L47,625 L46.5,625.4 L46.1,625.8" fill="none" stroke="#1cc8cc" stroke-width="1.6" stroke-linejoin="round"/>
<path d="M46.1,621.4 L46.5,621.3 L47,621.2 L47.4,621 L47.8,620.9 L48.2,620.8 L48.7,620.7 L49.1,620.5 L49.5,620.4 L50,620.3 L50.4,620.2 L50.8,620 L51.3,619.9 L51.7,619.8 L52.1,619.7 L52.5,619.6 L53,619.4 L53.4,619.3 L53.8,619.2 L54.3,619.1 L54.7,619 L55.1,618.9 L55.5,618.8 L56,618.7 L56.4,618.6 L56.8,618.5 L57.3,618.4 L57.7,618.3 L58.1,618.2 L58.6,618.1 L59,618 L59.4,617.9 L59.8,617.9 L60.3,617.8 L60.7,617.7 L61.1,617.6 L61.6,617.6 L62,617.5 L62.4,617.5 L62.8,617.4 L63.3,617.4 L63.7,617.3 L64.1,617.3 L64.6,617.3 L65,617.2 L65.4,617.2 L65.9,617.1 L66.3,617.1 L66.7,617.1 L67.1,617 L67.6,617 L68,617 L68.4,616.9 L68.9,616.9 L69.3,616.8 L69.7,616.8 L70.1,616.8 L70.6,616.8 L71,616.7 L71.4,616.7 L71.9,616.7 L72.3,616.6 L72.7,616.6 L73.2,616.6 L73.6,616.5 L74,616.5 L74.4,616.5 L74.9,616.5 L75.3,616.4 L75.7,616.4 L76.2,616.4 L76.6,616.3 L77,616.3 L77.4,616.3 L77.9,616.3 L78.3,616.2 L78.7,616.2 L79.2,616.2 L79.6,616.2 L80,616.1 L80.5,616.1 L80.9,616.1 L81.3,616.1 L81.7,616 L82.2,616 L82.6,616 L83,616 L83.5,615.9 L83.9,615.9 L84.3,615.9 L84.7,615.9 L85.2,615.9 L85.6,615.8 L86,615.8 L86.5,615.8 L86.9,615.8 L87.3,615.8 L87.7,615.8 L88.2,615.8 L88.6,615.7 L89,615.7 L89.5,615.7 L89.9,615.7 L90.3,615.7 L90.8,615.7 L91.2,615.7 L91.6,615.6 L92,615.6 L92.5,615.6 L92.9,615.6 L93.3,615.6 L93.8,615.6 L94.2,615.6 L94.6,615.5 L95,615.5 L95.5,615.5 L95.9,615.5 L96.3,615.5 L96.8,615.5 L97.2,615.5 L97.6,615.4 L98.1,615.4 L98.5,615.4 L98.9,615.4 L99.3,615.4 L99.8,615.3 L100.2,615.3 L100.6,615.3 L101.1,615.2 L101.5,615.1 L101.9,615 L102.3,614.9 L102.8,614.7 L103.2,614.6 L103.6,614.4 L104.1,614.2 L104.5,614 L104.9,613.8 L105.4,613.6 L105.8,613.3 L106.2,613.1 L106.6,612.9 L107.1,612.4 L107.5,611.8 L107.9,611.1 L108.4,610.2 L108.8,609.2 L109.2,608.1 L109.6,606.9 L110.1,605.6 L110.5,604.3 L110.9,602.8 L111.4,601.4 L111.8,599.9 L112.2,598.3 L112.7,596.8 L113.1,595.2 L113.5,593.3 L113.9,591.2 L114.4,588.9 L114.8,586.5 L115.2,584 L115.7,581.6 L116.1,579.3 L116.5,577.2 L116.9,575.4 L117.4,573.6 L117.8,571.8 L118.2,570 L118.7,568.4 L119.1,566.7 L119.5,565.2 L120,563.7 L120.4,562.2 L120.8,560.9 L121.2,559.6 L121.7,558.3 L122.1,557 L122.5,555.6 L123,554.3 L123.4,553 L123.8,551.7 L124.2,550.6 L124.7,549.6 L125.1,548.7 L125.5,548.1 L126,547.6 L126.4,547.4 L126.8,547.4 L127.3,547.5 L127.7,547.6 L128.1,547.9 L128.5,548.2 L129,548.5 L129.4,548.9 L129.8,549.4 L130.3,549.8 L130.7,550.3 L131.1,550.8 L131.5,551.3 L132,551.9 L132.4,552.4 L132.8,553 L133.3,553.5 L133.7,554.1 L134.1,554.7 L134.6,555.3 L135,555.8 L135.4,556.4 L135.8,557 L136.3,557.5 L136.7,558 L137.1,558.5 L137.6,559 L138,559.6 L138.4,560.1 L138.8,560.6 L139.3,561.1 L139.7,561.6 L140.1,562 L140.6,562.5 L141,563 L141.4,563.4 L141.9,563.8 L142.3,564.3 L142.7,564.7 L143.1,565.1 L143.6,565.5 L144,565.9 L144.4,566.3 L144.9,566.6 L145.3,567 L145.7,567.4 L146.1,567.7 L146.6,568 L147,568.3 L147.4,568.6 L147.9,568.9 L148.3,569.2 L148.7,569.4 L149.2,569.7 L149.6,570 L150,570.2 L150.4,570.5 L150.9,570.7 L151.3,570.9 L151.7,571.1 L152.2,571.3 L152.6,571.5 L153,571.6 L153.4,571.8 L153.9,571.9 L154.3,572.1 L154.7,572.2 L155.2,572.4 L155.6,572.5 L156,572.7 L156.4,572.8 L156.9,572.9 L157.3,573.1 L157.7,573.2 L158.2,573.3 L158.6,573.5 L159,573.6 L159.5,573.7 L159.9,573.8 L160.3,574 L160.7,574.1 L161.2,574.2 L161.6,574.3 L162,574.4 L162.5,574.5 L162.9,574.6 L163.3,574.7 L163.7,574.8 L164.2,574.9 L164.6,575 L165,575.1 L165.5,575.2 L165.9,575.3 L166.3,575.4 L166.8,575.4 L167.2,575.5 L167.6,575.6 L168,575.7 L168.5,575.8 L168.9,575.9 L169.3,576 L169.8,576.1 L170.2,576.2 L170.6,576.3 L171,576.3 L171.5,576.4 L171.9,576.5 L172.3,576.6 L172.8,576.7 L173.2,576.8 L173.6,576.8 L174.1,576.9 L174.5,577 L174.9,577.1 L175.3,577.1 L175.8,577.2 L176.2,577.3 L176.6,577.4 L177.1,577.4 L177.5,577.5 L177.9,577.6 L178.3,577.6 L178.8,577.7 L179.2,577.8 L179.6,577.8 L180.1,577.9 L180.5,577.9 L180.9,578 L181.4,578 L181.8,578.1 L182.2,578.1 L182.6,578.2 L183.1,578.3 L183.5,578.3 L183.9,578.4 L184.4,578.4 L184.8,578.5 L185.2,578.5 L185.6,578.6 L186.1,578.6 L186.5,578.6 L186.9,578.7 L187.4,578.7 L187.8,578.8 L188.2,578.8 L188.7,578.9 L189.1,578.9 L189.5,579 L189.9,579 L190.4,579 L190.8,579.1 L191.2,579.1 L191.7,579.1 L192.1,579.2 L192.5,579.2 L192.9,579.2 L193.4,579.3 L193.8,579.3 L194.2,579.3 L194.7,579.4 L195.1,579.4 L195.5,579.4 L196,579.5 L196.4,579.5 L196.8,579.5 L197.2,579.6 L197.7,579.6 L198.1,579.6 L198.5,579.7 L199,579.7 L199.4,579.7 L199.8,579.7 L200.2,579.8 L200.7,579.8 L201.1,579.8 L201.5,579.8 L202,579.9 L202.4,579.9 L202.8,579.9 L203.3,579.9 L203.7,580 L204.1,580 L204.5,580 L205,580 L205.4,580 L205.8,580.1 L206.3,580.1 L206.7,580.1 L207.1,580.1 L207.5,580.1 L208,580.1 L208.4,580.1 L208.8,580.1 L209.3,580.1 L209.7,580.1 L210.1,580.1 L210.6,580.1 L211,580.1 L211.4,580.1 L211.8,580.1 L212.3,580.1 L212.7,580.1 L213.1,580.1 L213.6,580.1 L214,580.1 L214.4,580.1 L214.8,580.1 L215.3,580.1 L215.7,580 L216.1,580 L216.6,580 L217,580 L217.4,580 L217.8,580 L218.3,580 L218.7,579.9 L219.1,579.9 L219.6,579.9 L220,579.9 L220.4,579.9 L220.9,579.9 L221.3,579.8 L221.7,579.8 L222.1,579.8 L222.6,579.8 L223,579.8 L223.4,579.7 L223.9,579.7 L224.3,579.6 L224.7,579.6 L225.1,579.5 L225.6,579.5 L226,579.4 L226.4,579.4 L226.9,579.3 L227.3,579.2 L227.7,579.2 L228.2,579.1 L228.6,579 L229,579 L229.4,578.9 L229.9,578.8 L230.3,578.7 L230.7,578.7 L231.2,578.6 L231.6,578.5 L232,578.4 L232.4,578.3 L232.9,578.2 L233.3,578.1 L233.7,577.9 L234.2,577.7 L234.6,577.6 L235,577.4 L235.5,577.2 L235.9,577 L236.3,576.8 L236.7,576.5 L237.2,576.3 L237.6,576.1 L238,575.8 L238.5,575.6 L238.9,575.3 L239.3,575 L239.7,574.8 L240.2,574.5 L240.6,574.2 L241,573.9 L241.5,573.6 L241.9,573.2 L242.3,572.9 L242.8,572.5 L243.2,572.1 L243.6,571.7 L244,571.3 L244.5,570.9 L244.9,570.5 L245.3,570.1 L245.8,569.7 L246.2,569.3 L246.6,568.9 L247,568.5 L247.5,568.2 L247.9,567.8 L248.3,567.5 L248.8,567.1 L249.2,566.8 L249.6,566.5 L250.1,566.1 L250.5,565.8 L250.9,565.5 L251.3,565.1 L251.8,564.8 L252.2,564.5 L252.2,564.5 L251.8,565.4 L251.3,566.4 L250.9,567.3 L250.5,568.2 L250.1,569.1 L249.6,569.9 L249.2,570.7 L248.8,571.5 L248.3,572.2 L247.9,572.9 L247.5,573.7 L247,574.4 L246.6,575.1 L246.2,575.8 L245.8,576.4 L245.3,577 L244.9,577.6 L244.5,578.2 L244,578.6 L243.6,579.1 L243.2,579.5 L242.8,579.9 L242.3,580.2 L241.9,580.6 L241.5,581 L241,581.3 L240.6,581.7 L240.2,582 L239.7,582.4 L239.3,582.7 L238.9,583 L238.5,583.3 L238,583.6 L237.6,583.9 L237.2,584.1 L236.7,584.4 L236.3,584.6 L235.9,584.8 L235.5,585 L235,585.1 L234.6,585.3 L234.2,585.5 L233.7,585.6 L233.3,585.8 L232.9,585.9 L232.4,586.1 L232,586.2 L231.6,586.4 L231.2,586.6 L230.7,586.7 L230.3,586.8 L229.9,587 L229.4,587.1 L229,587.3 L228.6,587.4 L228.2,587.6 L227.7,587.7 L227.3,587.8 L226.9,588 L226.4,588.1 L226,588.2 L225.6,588.3 L225.1,588.5 L224.7,588.6 L224.3,588.7 L223.9,588.8 L223.4,588.9 L223,589 L222.6,589.1 L222.1,589.2 L221.7,589.3 L221.3,589.4 L220.9,589.5 L220.4,589.6 L220,589.7 L219.6,589.8 L219.1,589.9 L218.7,590 L218.3,590.1 L217.8,590.2 L217.4,590.3 L217,590.4 L216.6,590.5 L216.1,590.6 L215.7,590.7 L215.3,590.8 L214.8,590.9 L214.4,591 L214,591.1 L213.6,591.2 L213.1,591.3 L212.7,591.4 L212.3,591.5 L211.8,591.6 L211.4,591.7 L211,591.7 L210.6,591.8 L210.1,591.9 L209.7,591.9 L209.3,592 L208.8,592.1 L208.4,592.1 L208,592.2 L207.5,592.2 L207.1,592.3 L206.7,592.3 L206.3,592.4 L205.8,592.4 L205.4,592.4 L205,592.5 L204.5,592.5 L204.1,592.6 L203.7,592.6 L203.3,592.6 L202.8,592.7 L202.4,592.7 L202,592.8 L201.5,592.8 L201.1,592.8 L200.7,592.9 L200.2,592.9 L199.8,592.9 L199.4,593 L199,593 L198.5,593 L198.1,593 L197.7,593.1 L197.2,593.1 L196.8,593.1 L196.4,593.2 L196,593.2 L195.5,593.2 L195.1,593.3 L194.7,593.3 L194.2,593.3 L193.8,593.3 L193.4,593.4 L192.9,593.4 L192.5,593.4 L192.1,593.5 L191.7,593.5 L191.2,593.5 L190.8,593.6 L190.4,593.6 L189.9,593.6 L189.5,593.6 L189.1,593.7 L188.7,593.7 L188.2,593.7 L187.8,593.8 L187.4,593.8 L186.9,593.8 L186.5,593.9 L186.1,593.9 L185.6,593.9 L185.2,594 L184.8,594 L184.4,594 L183.9,594.1 L183.5,594.1 L183.1,594.2 L182.6,594.2 L182.2,594.2 L181.8,594.3 L181.4,594.3 L180.9,594.4 L180.5,594.4 L180.1,594.4 L179.6,594.5 L179.2,594.5 L178.8,594.5 L178.3,594.6 L177.9,594.6 L177.5,594.7 L177.1,594.7 L176.6,594.8 L176.2,594.8 L175.8,594.8 L175.3,594.9 L174.9,594.9 L174.5,595 L174.1,595 L173.6,595 L173.2,595.1 L172.8,595.1 L172.3,595.2 L171.9,595.2 L171.5,595.3 L171,595.3 L170.6,595.3 L170.2,595.4 L169.8,595.4 L169.3,595.5 L168.9,595.5 L168.5,595.6 L168,595.6 L167.6,595.7 L167.2,595.7 L166.8,595.8 L166.3,595.8 L165.9,595.9 L165.5,595.9 L165,596 L164.6,596 L164.2,596.1 L163.7,596.2 L163.3,596.2 L162.9,596.3 L162.5,596.3 L162,596.4 L161.6,596.5 L161.2,596.6 L160.7,596.6 L160.3,596.7 L159.9,596.8 L159.5,596.9 L159,596.9 L158.6,597 L158.2,597.1 L157.7,597.2 L157.3,597.3 L156.9,597.4 L156.4,597.5 L156,597.7 L155.6,597.8 L155.2,598 L154.7,598.1 L154.3,598.3 L153.9,598.5 L153.4,598.7 L153,598.9 L152.6,599.1 L152.2,599.4 L151.7,599.6 L151.3,599.8 L150.9,600 L150.4,600.2 L150,600.5 L149.6,600.7 L149.2,600.9 L148.7,601.1 L148.3,601.3 L147.9,601.5 L147.4,601.8 L147,602 L146.6,602.2 L146.1,602.5 L145.7,602.7 L145.3,602.9 L144.9,603.2 L144.4,603.4 L144,603.7 L143.6,603.9 L143.1,604.2 L142.7,604.4 L142.3,604.6 L141.9,604.9 L141.4,605.1 L141,605.4 L140.6,605.6 L140.1,605.9 L139.7,606.1 L139.3,606.4 L138.8,606.6 L138.4,606.9 L138,607.1 L137.6,607.4 L137.1,607.6 L136.7,607.9 L136.3,608.1 L135.8,608.4 L135.4,608.6 L135,608.9 L134.6,609.1 L134.1,609.4 L133.7,609.6 L133.3,609.9 L132.8,610.1 L132.4,610.3 L132,610.5 L131.5,610.7 L131.1,611 L130.7,611.2 L130.3,611.4 L129.8,611.6 L129.4,611.8 L129,612 L128.5,612.2 L128.1,612.4 L127.7,612.6 L127.3,612.7 L126.8,612.9 L126.4,613.1 L126,613.3 L125.5,613.5 L125.1,613.7 L124.7,613.9 L124.2,614.1 L123.8,614.2 L123.4,614.4 L123,614.6 L122.5,614.8 L122.1,615 L121.7,615.2 L121.2,615.4 L120.8,615.6 L120.4,615.7 L120,615.9 L119.5,616.1 L119.1,616.3 L118.7,616.5 L118.2,616.7 L117.8,616.9 L117.4,617 L116.9,617.2 L116.5,617.4 L116.1,617.6 L115.7,617.8 L115.2,618 L114.8,618.2 L114.4,618.4 L113.9,618.6 L113.5,618.8 L113.1,619.1 L112.7,619.3 L112.2,619.6 L111.8,619.8 L111.4,620.1 L110.9,620.3 L110.5,620.5 L110.1,620.8 L109.6,621 L109.2,621.1 L108.8,621.3 L108.4,621.4 L107.9,621.4 L107.5,621.5 L107.1,621.5 L106.6,621.4 L106.2,621.4 L105.8,621.3 L105.4,621.3 L104.9,621.2 L104.5,621.1 L104.1,621 L103.6,620.9 L103.2,620.8 L102.8,620.8 L102.3,620.7 L101.9,620.7 L101.5,620.6 L101.1,620.6 L100.6,620.5 L100.2,620.4 L99.8,620.4 L99.3,620.3 L98.9,620.3 L98.5,620.2 L98.1,620.2 L97.6,620.2 L97.2,620.1 L96.8,620.1 L96.3,620.1 L95.9,620.1 L95.5,620.1 L95,620 L94.6,620 L94.2,620 L93.8,620 L93.3,620 L92.9,620 L92.5,619.9 L92,619.9 L91.6,619.9 L91.2,619.9 L90.8,619.9 L90.3,619.9 L89.9,619.9 L89.5,619.9 L89,619.9 L88.6,619.9 L88.2,619.8 L87.7,619.8 L87.3,619.8 L86.9,619.8 L86.5,619.8 L86,619.8 L85.6,619.8 L85.2,619.8 L84.7,619.8 L84.3,619.8 L83.9,619.8 L83.5,619.8 L83,619.8 L82.6,619.8 L82.2,619.8 L81.7,619.8 L81.3,619.8 L80.9,619.8 L80.5,619.8 L80,619.8 L79.6,619.8 L79.2,619.8 L78.7,619.8 L78.3,619.8 L77.9,619.8 L77.4,619.8 L77,619.8 L76.6,619.8 L76.2,619.8 L75.7,619.8 L75.3,619.8 L74.9,619.8 L74.4,619.8 L74,619.8 L73.6,619.8 L73.2,619.9 L72.7,619.9 L72.3,619.9 L71.9,619.9 L71.4,619.9 L71,619.9 L70.6,619.9 L70.1,619.9 L69.7,620 L69.3,620 L68.9,620 L68.4,620 L68,620 L67.6,620 L67.1,620 L66.7,620.1 L66.3,620.1 L65.9,620.1 L65.4,620.1 L65,620.1 L64.6,620.1 L64.1,620.2 L63.7,620.2 L63.3,620.2 L62.8,620.2 L62.4,620.2 L62,620.2 L61.6,620.3 L61.1,620.3 L60.7,620.3 L60.3,620.3 L59.8,620.3 L59.4,620.4 L59,620.4 L58.6,620.5 L58.1,620.6 L57.7,620.7 L57.3,620.8 L56.8,620.9 L56.4,621.1 L56,621.2 L55.5,621.4 L55.1,621.5 L54.7,621.7 L54.3,621.8 L53.8,622 L53.4,622.2 L53,622.3 L52.5,622.5 L52.1,622.7 L51.7,622.9 L51.3,623.2 L50.8,623.5 L50.4,623.9 L50,624.3 L49.5,624.7 L49.1,625.2 L48.7,625.7 L48.2,626.2 L47.8,626.7 L47.4,627.3 L47,627.8 L46.5,628.4 L46.1,628.9" fill="none" stroke="#ff4d4d" stroke-width="1.6" stroke-linejoin="round"/>
<path d="M46.1,620.6 L46.5,620.5 L47,620.3 L47.4,620.2 L47.8,620.1 L48.2,620 L48.7,619.9 L49.1,619.7 L49.5,619.6 L50,619.5 L50.4,619.4 L50.8,619.3 L51.3,619.1 L51.7,619 L52.1,618.9 L52.5,618.8 L53,618.7 L53.4,618.6 L53.8,618.5 L54.3,618.4 L54.7,618.3 L55.1,618.1 L55.5,618 L56,617.9 L56.4,617.8 L56.8,617.8 L57.3,617.7 L57.7,617.6 L58.1,617.5 L58.6,617.4 L59,617.3 L59.4,617.2 L59.8,617.2 L60.3,617.1 L60.7,617 L61.1,617 L61.6,616.9 L62,616.8 L62.4,616.8 L62.8,616.7 L63.3,616.7 L63.7,616.7 L64.1,616.6 L64.6,616.6 L65,616.5 L65.4,616.5 L65.9,616.5 L66.3,616.4 L66.7,616.4 L67.1,616.4 L67.6,616.3 L68,616.3 L68.4,616.3 L68.9,616.2 L69.3,616.2 L69.7,616.2 L70.1,616.1 L70.6,616.1 L71,616.1 L71.4,616 L71.9,616 L72.3,616 L72.7,615.9 L73.2,615.9 L73.6,615.9 L74,615.9 L74.4,615.8 L74.9,615.8 L75.3,615.8 L75.7,615.7 L76.2,615.7 L76.6,615.7 L77,615.7 L77.4,615.6 L77.9,615.6 L78.3,615.6 L78.7,615.6 L79.2,615.5 L79.6,615.5 L80,615.5 L80.5,615.4 L80.9,615.4 L81.3,615.4 L81.7,615.4 L82.2,615.3 L82.6,615.3 L83,615.3 L83.5,615.3 L83.9,615.3 L84.3,615.2 L84.7,615.2 L85.2,615.2 L85.6,615.2 L86,615.2 L86.5,615.1 L86.9,615.1 L87.3,615.1 L87.7,615.1 L88.2,615.1 L88.6,615 L89,615 L89.5,615 L89.9,615 L90.3,615 L90.8,615 L91.2,614.9 L91.6,614.9 L92,614.9 L92.5,614.9 L92.9,614.9 L93.3,614.9 L93.8,614.8 L94.2,614.8 L94.6,614.8 L95,614.8 L95.5,614.8 L95.9,614.8 L96.3,614.7 L96.8,614.7 L97.2,614.7 L97.6,614.7 L98.1,614.7 L98.5,614.7 L98.9,614.6 L99.3,614.6 L99.8,614.6 L100.2,614.6 L100.6,614.5 L101.1,614.4 L101.5,614.3 L101.9,614.2 L102.3,614 L102.8,613.8 L103.2,613.6 L103.6,613.4 L104.1,613.1 L104.5,612.9 L104.9,612.6 L105.4,612.3 L105.8,612 L106.2,611.7 L106.6,611.4 L107.1,610.8 L107.5,610 L107.9,609 L108.4,607.8 L108.8,606.4 L109.2,604.9 L109.6,603.2 L110.1,601.5 L110.5,599.6 L110.9,597.6 L111.4,595.6 L111.8,593.5 L112.2,591.4 L112.7,589.4 L113.1,587.2 L113.5,584.8 L113.9,581.9 L114.4,578.9 L114.8,575.7 L115.2,572.4 L115.7,569.3 L116.1,566.4 L116.5,563.7 L116.9,561.4 L117.4,559.2 L117.8,557.1 L118.2,555 L118.7,553 L119.1,551.1 L119.5,549.2 L120,547.5 L120.4,545.9 L120.8,544.4 L121.2,543 L121.7,541.6 L122.1,540.2 L122.5,538.7 L123,537.3 L123.4,535.9 L123.8,534.6 L124.2,533.4 L124.7,532.3 L125.1,531.5 L125.5,530.8 L126,530.4 L126.4,530.3 L126.8,530.4 L127.3,530.6 L127.7,531 L128.1,531.4 L128.5,532 L129,532.6 L129.4,533.2 L129.8,533.9 L130.3,534.6 L130.7,535.3 L131.1,536 L131.5,536.7 L132,537.4 L132.4,538.2 L132.8,538.9 L133.3,539.7 L133.7,540.5 L134.1,541.3 L134.6,542.1 L135,542.9 L135.4,543.7 L135.8,544.4 L136.3,545.2 L136.7,545.9 L137.1,546.6 L137.6,547.3 L138,548 L138.4,548.7 L138.8,549.5 L139.3,550.2 L139.7,550.8 L140.1,551.5 L140.6,552.2 L141,552.8 L141.4,553.4 L141.9,554 L142.3,554.6 L142.7,555.1 L143.1,555.7 L143.6,556.2 L144,556.8 L144.4,557.3 L144.9,557.8 L145.3,558.3 L145.7,558.8 L146.1,559.2 L146.6,559.7 L147,560.1 L147.4,560.4 L147.9,560.8 L148.3,561.1 L148.7,561.5 L149.2,561.8 L149.6,562.2 L150,562.5 L150.4,562.8 L150.9,563.1 L151.3,563.3 L151.7,563.6 L152.2,563.8 L152.6,564 L153,564.2 L153.4,564.4 L153.9,564.5 L154.3,564.7 L154.7,564.9 L155.2,565.1 L155.6,565.3 L156,565.4 L156.4,565.6 L156.9,565.8 L157.3,565.9 L157.7,566.1 L158.2,566.2 L158.6,566.4 L159,566.6 L159.5,566.7 L159.9,566.8 L160.3,567 L160.7,567.1 L161.2,567.3 L161.6,567.4 L162,567.5 L162.5,567.6 L162.9,567.8 L163.3,567.9 L163.7,568 L164.2,568.1 L164.6,568.2 L165,568.3 L165.5,568.4 L165.9,568.5 L166.3,568.6 L166.8,568.8 L167.2,568.9 L167.6,569 L168,569.1 L168.5,569.2 L168.9,569.3 L169.3,569.4 L169.8,569.5 L170.2,569.6 L170.6,569.7 L171,569.8 L171.5,569.9 L171.9,570 L172.3,570.1 L172.8,570.2 L173.2,570.3 L173.6,570.4 L174.1,570.5 L174.5,570.6 L174.9,570.7 L175.3,570.8 L175.8,570.9 L176.2,570.9 L176.6,571 L177.1,571.1 L177.5,571.2 L177.9,571.3 L178.3,571.4 L178.8,571.4 L179.2,571.5 L179.6,571.6 L180.1,571.6 L180.5,571.7 L180.9,571.8 L181.4,571.8 L181.8,571.9 L182.2,572 L182.6,572 L183.1,572.1 L183.5,572.2 L183.9,572.2 L184.4,572.3 L184.8,572.4 L185.2,572.4 L185.6,572.5 L186.1,572.5 L186.5,572.6 L186.9,572.6 L187.4,572.7 L187.8,572.8 L188.2,572.8 L188.7,572.9 L189.1,572.9 L189.5,573 L189.9,573 L190.4,573 L190.8,573.1 L191.2,573.1 L191.7,573.2 L192.1,573.2 L192.5,573.2 L192.9,573.3 L193.4,573.3 L193.8,573.4 L194.2,573.4 L194.7,573.4 L195.1,573.5 L195.5,573.5 L196,573.5 L196.4,573.6 L196.8,573.6 L197.2,573.6 L197.7,573.7 L198.1,573.7 L198.5,573.7 L199,573.8 L199.4,573.8 L199.8,573.8 L200.2,573.8 L200.7,573.9 L201.1,573.9 L201.5,573.9 L202,574 L202.4,574 L202.8,574 L203.3,574 L203.7,574.1 L204.1,574.1 L204.5,574.1 L205,574.1 L205.4,574.1 L205.8,574.2 L206.3,574.2 L206.7,574.2 L207.1,574.2 L207.5,574.2 L208,574.2 L208.4,574.2 L208.8,574.2 L209.3,574.2 L209.7,574.2 L210.1,574.2 L210.6,574.2 L211,574.2 L211.4,574.2 L211.8,574.2 L212.3,574.2 L212.7,574.2 L213.1,574.2 L213.6,574.2 L214,574.2 L214.4,574.2 L214.8,574.2 L215.3,574.2 L215.7,574.1 L216.1,574.1 L216.6,574.1 L217,574.1 L217.4,574.1 L217.8,574.1 L218.3,574.1 L218.7,574 L219.1,574 L219.6,574 L220,574 L220.4,574 L220.9,574 L221.3,573.9 L221.7,573.9 L222.1,573.9 L222.6,573.9 L223,573.8 L223.4,573.8 L223.9,573.7 L224.3,573.7 L224.7,573.6 L225.1,573.6 L225.6,573.5 L226,573.4 L226.4,573.4 L226.9,573.3 L227.3,573.2 L227.7,573.1 L228.2,573.1 L228.6,573 L229,572.9 L229.4,572.8 L229.9,572.7 L230.3,572.6 L230.7,572.5 L231.2,572.4 L231.6,572.3 L232,572.2 L232.4,572.1 L232.9,572 L233.3,571.8 L233.7,571.6 L234.2,571.4 L234.6,571.2 L235,571 L235.5,570.7 L235.9,570.4 L236.3,570.2 L236.7,569.9 L237.2,569.6 L237.6,569.3 L238,569 L238.5,568.6 L238.9,568.3 L239.3,568 L239.7,567.6 L240.2,567.3 L240.6,566.9 L241,566.6 L241.5,566.1 L241.9,565.7 L242.3,565.2 L242.8,564.7 L243.2,564.2 L243.6,563.7 L244,563.2 L244.5,562.7 L244.9,562.1 L245.3,561.6 L245.8,561.1 L246.2,560.6 L246.6,560.2 L247,559.7 L247.5,559.3 L247.9,558.8 L248.3,558.4 L248.8,558 L249.2,557.6 L249.6,557.1 L250.1,556.7 L250.5,556.3 L250.9,555.9 L251.3,555.5 L251.8,555.1 L252.2,554.8 L252.2,554.8 L251.8,556 L251.3,557.2 L250.9,558.4 L250.5,559.5 L250.1,560.6 L249.6,561.7 L249.2,562.7 L248.8,563.6 L248.3,564.5 L247.9,565.4 L247.5,566.4 L247,567.3 L246.6,568.2 L246.2,569 L245.8,569.8 L245.3,570.6 L244.9,571.3 L244.5,572 L244,572.6 L243.6,573.1 L243.2,573.6 L242.8,574.1 L242.3,574.6 L241.9,575 L241.5,575.5 L241,575.9 L240.6,576.4 L240.2,576.8 L239.7,577.2 L239.3,577.6 L238.9,578 L238.5,578.3 L238,578.7 L237.6,579 L237.2,579.3 L236.7,579.6 L236.3,579.9 L235.9,580.1 L235.5,580.3 L235,580.5 L234.6,580.7 L234.2,580.9 L233.7,581.1 L233.3,581.3 L232.9,581.5 L232.4,581.7 L232,581.9 L231.6,582 L231.2,582.2 L230.7,582.4 L230.3,582.6 L229.9,582.8 L229.4,582.9 L229,583.1 L228.6,583.3 L228.2,583.4 L227.7,583.6 L227.3,583.8 L226.9,583.9 L226.4,584.1 L226,584.2 L225.6,584.4 L225.1,584.5 L224.7,584.6 L224.3,584.8 L223.9,584.9 L223.4,585.1 L223,585.2 L222.6,585.3 L222.1,585.4 L221.7,585.5 L221.3,585.7 L220.9,585.8 L220.4,585.9 L220,586 L219.6,586.1 L219.1,586.2 L218.7,586.3 L218.3,586.5 L217.8,586.6 L217.4,586.7 L217,586.8 L216.6,586.9 L216.1,587 L215.7,587.2 L215.3,587.3 L214.8,587.4 L214.4,587.5 L214,587.6 L213.6,587.7 L213.1,587.8 L212.7,587.9 L212.3,588 L211.8,588.1 L211.4,588.2 L211,588.3 L210.6,588.4 L210.1,588.4 L209.7,588.5 L209.3,588.6 L208.8,588.7 L208.4,588.7 L208,588.8 L207.5,588.8 L207.1,588.9 L206.7,588.9 L206.3,589 L205.8,589 L205.4,589.1 L205,589.1 L204.5,589.1 L204.1,589.2 L203.7,589.2 L203.3,589.3 L202.8,589.3 L202.4,589.3 L202,589.4 L201.5,589.4 L201.1,589.5 L200.7,589.5 L200.2,589.5 L199.8,589.6 L199.4,589.6 L199,589.6 L198.5,589.7 L198.1,589.7 L197.7,589.7 L197.2,589.8 L196.8,589.8 L196.4,589.8 L196,589.9 L195.5,589.9 L195.1,589.9 L194.7,589.9 L194.2,590 L193.8,590 L193.4,590 L192.9,590.1 L192.5,590.1 L192.1,590.1 L191.7,590.2 L191.2,590.2 L190.8,590.2 L190.4,590.3 L189.9,590.3 L189.5,590.3 L189.1,590.3 L188.7,590.4 L188.2,590.4 L187.8,590.5 L187.4,590.5 L186.9,590.5 L186.5,590.6 L186.1,590.6 L185.6,590.6 L185.2,590.7 L184.8,590.7 L184.4,590.7 L183.9,590.8 L183.5,590.8 L183.1,590.9 L182.6,590.9 L182.2,591 L181.8,591 L181.4,591 L180.9,591.1 L180.5,591.1 L180.1,591.2 L179.6,591.2 L179.2,591.3 L178.8,591.3 L178.3,591.4 L177.9,591.4 L177.5,591.4 L177.1,591.5 L176.6,591.5 L176.2,591.6 L175.8,591.6 L175.3,591.7 L174.9,591.7 L174.5,591.8 L174.1,591.8 L173.6,591.9 L173.2,591.9 L172.8,592 L172.3,592 L171.9,592.1 L171.5,592.1 L171,592.2 L170.6,592.2 L170.2,592.3 L169.8,592.3 L169.3,592.4 L168.9,592.4 L168.5,592.5 L168,592.5 L167.6,592.6 L167.2,592.7 L166.8,592.7 L166.3,592.8 L165.9,592.8 L165.5,592.9 L165,593 L164.6,593 L164.2,593.1 L163.7,593.2 L163.3,593.3 L162.9,593.3 L162.5,593.4 L162,593.5 L161.6,593.6 L161.2,593.7 L160.7,593.8 L160.3,593.9 L159.9,593.9 L159.5,594 L159,594.1 L158.6,594.2 L158.2,594.3 L157.7,594.5 L157.3,594.6 L156.9,594.7 L156.4,594.8 L156,595 L155.6,595.2 L155.2,595.4 L154.7,595.6 L154.3,595.8 L153.9,596 L153.4,596.2 L153,596.5 L152.6,596.7 L152.2,596.9 L151.7,597.2 L151.3,597.4 L150.9,597.7 L150.4,597.9 L150,598.2 L149.6,598.4 L149.2,598.7 L148.7,598.9 L148.3,599.2 L147.9,599.4 L147.4,599.7 L147,599.9 L146.6,600.2 L146.1,600.5 L145.7,600.7 L145.3,601 L144.9,601.3 L144.4,601.6 L144,601.8 L143.6,602.1 L143.1,602.4 L142.7,602.7 L142.3,602.9 L141.9,603.2 L141.4,603.5 L141,603.8 L140.6,604.1 L140.1,604.3 L139.7,604.6 L139.3,604.9 L138.8,605.2 L138.4,605.5 L138,605.8 L137.6,606.1 L137.1,606.4 L136.7,606.7 L136.3,607 L135.8,607.3 L135.4,607.6 L135,607.9 L134.6,608.2 L134.1,608.5 L133.7,608.8 L133.3,609 L132.8,609.3 L132.4,609.6 L132,609.8 L131.5,610.1 L131.1,610.3 L130.7,610.6 L130.3,610.8 L129.8,611 L129.4,611.2 L129,611.5 L128.5,611.7 L128.1,611.9 L127.7,612.1 L127.3,612.3 L126.8,612.5 L126.4,612.8 L126,613 L125.5,613.2 L125.1,613.4 L124.7,613.6 L124.2,613.8 L123.8,614 L123.4,614.2 L123,614.5 L122.5,614.7 L122.1,614.9 L121.7,615.1 L121.2,615.4 L120.8,615.6 L120.4,615.9 L120,616.1 L119.5,616.3 L119.1,616.6 L118.7,616.8 L118.2,617.1 L117.8,617.3 L117.4,617.6 L116.9,617.8 L116.5,618.1 L116.1,618.4 L115.7,618.6 L115.2,618.9 L114.8,619.1 L114.4,619.4 L113.9,619.7 L113.5,620 L113.1,620.4 L112.7,620.7 L112.2,621.1 L111.8,621.4 L111.4,621.8 L110.9,622.1 L110.5,622.4 L110.1,622.7 L109.6,623 L109.2,623.2 L108.8,623.4 L108.4,623.6 L107.9,623.7 L107.5,623.7 L107.1,623.7 L106.6,623.7 L106.2,623.6 L105.8,623.5 L105.4,623.4 L104.9,623.2 L104.5,623.1 L104.1,623 L103.6,622.8 L103.2,622.7 L102.8,622.6 L102.3,622.5 L101.9,622.4 L101.5,622.3 L101.1,622.2 L100.6,622.1 L100.2,622 L99.8,621.9 L99.3,621.8 L98.9,621.8 L98.5,621.7 L98.1,621.6 L97.6,621.6 L97.2,621.6 L96.8,621.5 L96.3,621.5 L95.9,621.5 L95.5,621.4 L95,621.4 L94.6,621.4 L94.2,621.4 L93.8,621.4 L93.3,621.3 L92.9,621.3 L92.5,621.3 L92,621.3 L91.6,621.3 L91.2,621.2 L90.8,621.2 L90.3,621.2 L89.9,621.2 L89.5,621.2 L89,621.2 L88.6,621.2 L88.2,621.2 L87.7,621.2 L87.3,621.1 L86.9,621.1 L86.5,621.1 L86,621.1 L85.6,621.1 L85.2,621.1 L84.7,621.1 L84.3,621.1 L83.9,621.1 L83.5,621.1 L83,621.1 L82.6,621.1 L82.2,621.1 L81.7,621.1 L81.3,621.1 L80.9,621 L80.5,621 L80,621 L79.6,621 L79.2,621 L78.7,621 L78.3,621 L77.9,621 L77.4,621 L77,621 L76.6,621 L76.2,621.1 L75.7,621.1 L75.3,621.1 L74.9,621.1 L74.4,621.1 L74,621.1 L73.6,621.1 L73.2,621.1 L72.7,621.1 L72.3,621.1 L71.9,621.2 L71.4,621.2 L71,621.2 L70.6,621.2 L70.1,621.2 L69.7,621.2 L69.3,621.3 L68.9,621.3 L68.4,621.3 L68,621.3 L67.6,621.3 L67.1,621.3 L66.7,621.4 L66.3,621.4 L65.9,621.4 L65.4,621.4 L65,621.4 L64.6,621.5 L64.1,621.5 L63.7,621.5 L63.3,621.5 L62.8,621.5 L62.4,621.5 L62,621.6 L61.6,621.6 L61.1,621.6 L60.7,621.6 L60.3,621.6 L59.8,621.7 L59.4,621.7 L59,621.8 L58.6,621.9 L58.1,622 L57.7,622.1 L57.3,622.3 L56.8,622.4 L56.4,622.6 L56,622.7 L55.5,622.9 L55.1,623.1 L54.7,623.3 L54.3,623.5 L53.8,623.7 L53.4,623.9 L53,624.1 L52.5,624.4 L52.1,624.6 L51.7,624.9 L51.3,625.2 L50.8,625.7 L50.4,626.1 L50,626.7 L49.5,627.3 L49.1,627.9 L48.7,628.6 L48.2,629.3 L47.8,630 L47.4,630.7 L47,631.5 L46.5,632.2 L46.1,633" fill="none" stroke="#1a70f0" stroke-width="1.6" stroke-linejoin="round"/>
<path d="M46.1,617.8 L46.5,617.7 L47,617.6 L47.4,617.5 L47.8,617.4 L48.2,617.3 L48.7,617.2 L49.1,617.1 L49.5,617 L50,616.9 L50.4,616.8 L50.8,616.7 L51.3,616.6 L51.7,616.5 L52.1,616.4 L52.5,616.3 L53,616.2 L53.4,616.1 L53.8,616 L54.3,615.9 L54.7,615.8 L55.1,615.7 L55.5,615.6 L56,615.5 L56.4,615.5 L56.8,615.4 L57.3,615.3 L57.7,615.2 L58.1,615.1 L58.6,615.1 L59,615 L59.4,614.9 L59.8,614.9 L60.3,614.8 L60.7,614.7 L61.1,614.7 L61.6,614.6 L62,614.6 L62.4,614.5 L62.8,614.5 L63.3,614.4 L63.7,614.4 L64.1,614.4 L64.6,614.3 L65,614.3 L65.4,614.3 L65.9,614.2 L66.3,614.2 L66.7,614.2 L67.1,614.1 L67.6,614.1 L68,614.1 L68.4,614 L68.9,614 L69.3,614 L69.7,614 L70.1,613.9 L70.6,613.9 L71,613.9 L71.4,613.8 L71.9,613.8 L72.3,613.8 L72.7,613.8 L73.2,613.7 L73.6,613.7 L74,613.7 L74.4,613.7 L74.9,613.6 L75.3,613.6 L75.7,613.6 L76.2,613.5 L76.6,613.5 L77,613.5 L77.4,613.5 L77.9,613.4 L78.3,613.4 L78.7,613.4 L79.2,613.4 L79.6,613.3 L80,613.3 L80.5,613.3 L80.9,613.2 L81.3,613.2 L81.7,613.2 L82.2,613.2 L82.6,613.1 L83,613.1 L83.5,613.1 L83.9,613.1 L84.3,613 L84.7,613 L85.2,613 L85.6,612.9 L86,612.9 L86.5,612.9 L86.9,612.9 L87.3,612.8 L87.7,612.8 L88.2,612.8 L88.6,612.8 L89,612.7 L89.5,612.7 L89.9,612.7 L90.3,612.7 L90.8,612.6 L91.2,612.6 L91.6,612.6 L92,612.6 L92.5,612.5 L92.9,612.5 L93.3,612.5 L93.8,612.5 L94.2,612.4 L94.6,612.4 L95,612.4 L95.5,612.4 L95.9,612.3 L96.3,612.3 L96.8,612.3 L97.2,612.2 L97.6,612.2 L98.1,612.2 L98.5,612.2 L98.9,612.1 L99.3,612.1 L99.8,612.1 L100.2,612 L100.6,612 L101.1,611.9 L101.5,611.8 L101.9,611.6 L102.3,611.4 L102.8,611.2 L103.2,611 L103.6,610.7 L104.1,610.4 L104.5,610.1 L104.9,609.8 L105.4,609.5 L105.8,609.2 L106.2,608.9 L106.6,608.5 L107.1,607.8 L107.5,606.9 L107.9,605.8 L108.4,604.5 L108.8,603 L109.2,601.3 L109.6,599.4 L110.1,597.4 L110.5,595.4 L110.9,593.2 L111.4,590.9 L111.8,588.7 L112.2,586.3 L112.7,584 L113.1,581.7 L113.5,578.9 L113.9,575.7 L114.4,572.2 L114.8,568.6 L115.2,565 L115.7,561.5 L116.1,558.2 L116.5,555.3 L116.9,552.7 L117.4,550.3 L117.8,547.9 L118.2,545.6 L118.7,543.4 L119.1,541.3 L119.5,539.3 L120,537.4 L120.4,535.7 L120.8,534.1 L121.2,532.6 L121.7,531.1 L122.1,529.6 L122.5,528.1 L123,526.6 L123.4,525.1 L123.8,523.7 L124.2,522.5 L124.7,521.4 L125.1,520.6 L125.5,519.9 L126,519.6 L126.4,519.6 L126.8,519.8 L127.3,520.2 L127.7,520.7 L128.1,521.3 L128.5,522 L129,522.7 L129.4,523.5 L129.8,524.3 L130.3,525.1 L130.7,525.9 L131.1,526.7 L131.5,527.4 L132,528.2 L132.4,529.1 L132.8,529.9 L133.3,530.7 L133.7,531.6 L134.1,532.4 L134.6,533.2 L135,534 L135.4,534.8 L135.8,535.5 L136.3,536.2 L136.7,536.9 L137.1,537.5 L137.6,538.2 L138,538.8 L138.4,539.4 L138.8,540 L139.3,540.5 L139.7,541.1 L140.1,541.6 L140.6,542.1 L141,542.6 L141.4,543.1 L141.9,543.5 L142.3,543.9 L142.7,544.3 L143.1,544.7 L143.6,545.1 L144,545.5 L144.4,545.9 L144.9,546.3 L145.3,546.6 L145.7,547 L146.1,547.3 L146.6,547.6 L147,547.9 L147.4,548.2 L147.9,548.5 L148.3,548.8 L148.7,549 L149.2,549.3 L149.6,549.6 L150,549.8 L150.4,550.1 L150.9,550.3 L151.3,550.6 L151.7,550.8 L152.2,551 L152.6,551.3 L153,551.5 L153.4,551.7 L153.9,551.9 L154.3,552.1 L154.7,552.4 L155.2,552.6 L155.6,552.8 L156,553 L156.4,553.2 L156.9,553.4 L157.3,553.6 L157.7,553.8 L158.2,554 L158.6,554.2 L159,554.4 L159.5,554.6 L159.9,554.8 L160.3,555 L160.7,555.2 L161.2,555.4 L161.6,555.6 L162,555.7 L162.5,555.9 L162.9,556.1 L163.3,556.2 L163.7,556.4 L164.2,556.5 L164.6,556.7 L165,556.8 L165.5,556.9 L165.9,557.1 L166.3,557.2 L166.8,557.4 L167.2,557.5 L167.6,557.7 L168,557.8 L168.5,557.9 L168.9,558.1 L169.3,558.2 L169.8,558.3 L170.2,558.5 L170.6,558.6 L171,558.7 L171.5,558.8 L171.9,559 L172.3,559.1 L172.8,559.2 L173.2,559.3 L173.6,559.5 L174.1,559.6 L174.5,559.7 L174.9,559.8 L175.3,559.9 L175.8,560 L176.2,560.1 L176.6,560.2 L177.1,560.3 L177.5,560.4 L177.9,560.5 L178.3,560.6 L178.8,560.7 L179.2,560.8 L179.6,560.9 L180.1,561 L180.5,561.1 L180.9,561.2 L181.4,561.3 L181.8,561.4 L182.2,561.4 L182.6,561.5 L183.1,561.6 L183.5,561.7 L183.9,561.8 L184.4,561.9 L184.8,561.9 L185.2,562 L185.6,562.1 L186.1,562.2 L186.5,562.3 L186.9,562.3 L187.4,562.4 L187.8,562.5 L188.2,562.5 L188.7,562.6 L189.1,562.7 L189.5,562.7 L189.9,562.8 L190.4,562.8 L190.8,562.9 L191.2,562.9 L191.7,563 L192.1,563 L192.5,563.1 L192.9,563.1 L193.4,563.2 L193.8,563.2 L194.2,563.2 L194.7,563.3 L195.1,563.3 L195.5,563.4 L196,563.4 L196.4,563.4 L196.8,563.5 L197.2,563.5 L197.7,563.5 L198.1,563.6 L198.5,563.6 L199,563.6 L199.4,563.7 L199.8,563.7 L200.2,563.7 L200.7,563.8 L201.1,563.8 L201.5,563.8 L202,563.9 L202.4,563.9 L202.8,563.9 L203.3,563.9 L203.7,564 L204.1,564 L204.5,564 L205,564 L205.4,564.1 L205.8,564.1 L206.3,564.1 L206.7,564.1 L207.1,564.1 L207.5,564.1 L208,564.2 L208.4,564.2 L208.8,564.2 L209.3,564.2 L209.7,564.2 L210.1,564.2 L210.6,564.2 L211,564.2 L211.4,564.2 L211.8,564.2 L212.3,564.2 L212.7,564.2 L213.1,564.2 L213.6,564.1 L214,564.1 L214.4,564.1 L214.8,564.1 L215.3,564.1 L215.7,564.1 L216.1,564.1 L216.6,564.1 L217,564 L217.4,564 L217.8,564 L218.3,564 L218.7,564 L219.1,564 L219.6,563.9 L220,563.9 L220.4,563.9 L220.9,563.9 L221.3,563.9 L221.7,563.9 L222.1,563.8 L222.6,563.8 L223,563.7 L223.4,563.7 L223.9,563.6 L224.3,563.6 L224.7,563.5 L225.1,563.4 L225.6,563.3 L226,563.3 L226.4,563.2 L226.9,563.1 L227.3,563 L227.7,562.9 L228.2,562.8 L228.6,562.7 L229,562.5 L229.4,562.4 L229.9,562.3 L230.3,562.2 L230.7,562.1 L231.2,562 L231.6,561.8 L232,561.7 L232.4,561.5 L232.9,561.3 L233.3,561.1 L233.7,560.9 L234.2,560.6 L234.6,560.3 L235,560 L235.5,559.7 L235.9,559.3 L236.3,558.9 L236.7,558.5 L237.2,558.1 L237.6,557.7 L238,557.3 L238.5,556.9 L238.9,556.4 L239.3,556 L239.7,555.5 L240.2,555 L240.6,554.5 L241,554 L241.5,553.4 L241.9,552.8 L242.3,552.2 L242.8,551.5 L243.2,550.8 L243.6,550.1 L244,549.4 L244.5,548.7 L244.9,547.9 L245.3,547.2 L245.8,546.6 L246.2,545.9 L246.6,545.3 L247,544.7 L247.5,544.1 L247.9,543.5 L248.3,542.9 L248.8,542.4 L249.2,541.8 L249.6,541.3 L250.1,540.7 L250.5,540.2 L250.9,539.7 L251.3,539.2 L251.8,538.7 L252.2,538.2 L252.2,538.2 L251.8,539.9 L251.3,541.5 L250.9,543.1 L250.5,544.6 L250.1,546.1 L249.6,547.6 L249.2,548.9 L248.8,550.2 L248.3,551.4 L247.9,552.7 L247.5,553.9 L247,555.1 L246.6,556.3 L246.2,557.5 L245.8,558.6 L245.3,559.7 L244.9,560.6 L244.5,561.5 L244,562.3 L243.6,563 L243.2,563.7 L242.8,564.3 L242.3,564.9 L241.9,565.5 L241.5,566.1 L241,566.7 L240.6,567.3 L240.2,567.8 L239.7,568.3 L239.3,568.8 L238.9,569.3 L238.5,569.8 L238,570.3 L237.6,570.7 L237.2,571.1 L236.7,571.5 L236.3,571.8 L235.9,572.1 L235.5,572.4 L235,572.7 L234.6,572.9 L234.2,573.2 L233.7,573.4 L233.3,573.7 L232.9,573.9 L232.4,574.2 L232,574.4 L231.6,574.6 L231.2,574.9 L230.7,575.1 L230.3,575.3 L229.9,575.5 L229.4,575.8 L229,576 L228.6,576.2 L228.2,576.4 L227.7,576.6 L227.3,576.8 L226.9,577 L226.4,577.2 L226,577.4 L225.6,577.6 L225.1,577.8 L224.7,578 L224.3,578.1 L223.9,578.3 L223.4,578.5 L223,578.6 L222.6,578.8 L222.1,578.9 L221.7,579.1 L221.3,579.2 L220.9,579.3 L220.4,579.5 L220,579.6 L219.6,579.7 L219.1,579.9 L218.7,580 L218.3,580.1 L217.8,580.3 L217.4,580.4 L217,580.5 L216.6,580.6 L216.1,580.8 L215.7,580.9 L215.3,581 L214.8,581.1 L214.4,581.2 L214,581.4 L213.6,581.5 L213.1,581.6 L212.7,581.7 L212.3,581.8 L211.8,581.9 L211.4,582.1 L211,582.2 L210.6,582.3 L210.1,582.4 L209.7,582.5 L209.3,582.6 L208.8,582.7 L208.4,582.8 L208,582.9 L207.5,583 L207.1,583.1 L206.7,583.2 L206.3,583.4 L205.8,583.5 L205.4,583.6 L205,583.7 L204.5,583.8 L204.1,583.9 L203.7,584 L203.3,584.1 L202.8,584.2 L202.4,584.3 L202,584.4 L201.5,584.5 L201.1,584.6 L200.7,584.7 L200.2,584.8 L199.8,584.9 L199.4,585 L199,585.1 L198.5,585.2 L198.1,585.3 L197.7,585.4 L197.2,585.5 L196.8,585.6 L196.4,585.7 L196,585.8 L195.5,585.9 L195.1,586 L194.7,586.1 L194.2,586.2 L193.8,586.3 L193.4,586.4 L192.9,586.5 L192.5,586.6 L192.1,586.7 L191.7,586.8 L191.2,586.9 L190.8,587 L190.4,587.1 L189.9,587.2 L189.5,587.3 L189.1,587.4 L188.7,587.5 L188.2,587.5 L187.8,587.6 L187.4,587.7 L186.9,587.8 L186.5,587.9 L186.1,588 L185.6,588.1 L185.2,588.1 L184.8,588.2 L184.4,588.3 L183.9,588.4 L183.5,588.5 L183.1,588.5 L182.6,588.6 L182.2,588.7 L181.8,588.8 L181.4,588.8 L180.9,588.9 L180.5,589 L180.1,589 L179.6,589.1 L179.2,589.2 L178.8,589.2 L178.3,589.3 L177.9,589.4 L177.5,589.4 L177.1,589.5 L176.6,589.5 L176.2,589.6 L175.8,589.7 L175.3,589.7 L174.9,589.8 L174.5,589.8 L174.1,589.9 L173.6,590 L173.2,590 L172.8,590.1 L172.3,590.1 L171.9,590.2 L171.5,590.3 L171,590.3 L170.6,590.4 L170.2,590.5 L169.8,590.5 L169.3,590.6 L168.9,590.7 L168.5,590.7 L168,590.8 L167.6,590.9 L167.2,591 L166.8,591 L166.3,591.1 L165.9,591.2 L165.5,591.2 L165,591.3 L164.6,591.4 L164.2,591.5 L163.7,591.6 L163.3,591.6 L162.9,591.7 L162.5,591.8 L162,591.9 L161.6,592 L161.2,592.1 L160.7,592.2 L160.3,592.3 L159.9,592.4 L159.5,592.5 L159,592.6 L158.6,592.7 L158.2,592.8 L157.7,592.9 L157.3,593 L156.9,593.2 L156.4,593.3 L156,593.5 L155.6,593.7 L155.2,593.9 L154.7,594.1 L154.3,594.3 L153.9,594.5 L153.4,594.8 L153,595 L152.6,595.3 L152.2,595.6 L151.7,595.8 L151.3,596.1 L150.9,596.4 L150.4,596.6 L150,596.9 L149.6,597.2 L149.2,597.4 L148.7,597.7 L148.3,598 L147.9,598.2 L147.4,598.5 L147,598.8 L146.6,599.1 L146.1,599.3 L145.7,599.6 L145.3,599.9 L144.9,600.2 L144.4,600.5 L144,600.8 L143.6,601.1 L143.1,601.4 L142.7,601.7 L142.3,602 L141.9,602.3 L141.4,602.6 L141,602.9 L140.6,603.2 L140.1,603.5 L139.7,603.8 L139.3,604.1 L138.8,604.4 L138.4,604.7 L138,605 L137.6,605.3 L137.1,605.6 L136.7,605.9 L136.3,606.3 L135.8,606.6 L135.4,606.9 L135,607.2 L134.6,607.5 L134.1,607.8 L133.7,608.1 L133.3,608.4 L132.8,608.7 L132.4,609 L132,609.3 L131.5,609.6 L131.1,609.8 L130.7,610.1 L130.3,610.3 L129.8,610.6 L129.4,610.8 L129,611 L128.5,611.2 L128.1,611.5 L127.7,611.7 L127.3,611.9 L126.8,612.1 L126.4,612.3 L126,612.5 L125.5,612.7 L125.1,613 L124.7,613.2 L124.2,613.4 L123.8,613.7 L123.4,613.9 L123,614.2 L122.5,614.5 L122.1,614.7 L121.7,615.1 L121.2,615.4 L120.8,615.7 L120.4,616.1 L120,616.5 L119.5,616.9 L119.1,617.4 L118.7,617.8 L118.2,618.3 L117.8,618.8 L117.4,619.3 L116.9,619.8 L116.5,620.3 L116.1,620.8 L115.7,621.3 L115.2,621.8 L114.8,622.3 L114.4,622.8 L113.9,623.4 L113.5,624 L113.1,624.7 L112.7,625.4 L112.2,626 L111.8,626.7 L111.4,627.4 L110.9,628.1 L110.5,628.7 L110.1,629.3 L109.6,629.8 L109.2,630.3 L108.8,630.7 L108.4,631 L107.9,631.2 L107.5,631.2 L107.1,631.2 L106.6,631.1 L106.2,630.9 L105.8,630.7 L105.4,630.4 L104.9,630.1 L104.5,629.8 L104.1,629.4 L103.6,629.1 L103.2,628.8 L102.8,628.6 L102.3,628.4 L101.9,628.2 L101.5,627.9 L101.1,627.7 L100.6,627.4 L100.2,627.2 L99.8,627 L99.3,626.8 L98.9,626.6 L98.5,626.5 L98.1,626.4 L97.6,626.3 L97.2,626.2 L96.8,626.2 L96.3,626.1 L95.9,626.1 L95.5,626 L95,626 L94.6,625.9 L94.2,625.9 L93.8,625.9 L93.3,625.8 L92.9,625.8 L92.5,625.8 L92,625.7 L91.6,625.7 L91.2,625.7 L90.8,625.7 L90.3,625.6 L89.9,625.6 L89.5,625.6 L89,625.6 L88.6,625.6 L88.2,625.5 L87.7,625.5 L87.3,625.5 L86.9,625.5 L86.5,625.5 L86,625.4 L85.6,625.4 L85.2,625.4 L84.7,625.4 L84.3,625.4 L83.9,625.4 L83.5,625.3 L83,625.3 L82.6,625.3 L82.2,625.3 L81.7,625.3 L81.3,625.3 L80.9,625.3 L80.5,625.2 L80,625.2 L79.6,625.2 L79.2,625.2 L78.7,625.2 L78.3,625.2 L77.9,625.2 L77.4,625.2 L77,625.2 L76.6,625.2 L76.2,625.2 L75.7,625.2 L75.3,625.2 L74.9,625.2 L74.4,625.3 L74,625.3 L73.6,625.3 L73.2,625.3 L72.7,625.3 L72.3,625.3 L71.9,625.4 L71.4,625.4 L71,625.4 L70.6,625.4 L70.1,625.4 L69.7,625.5 L69.3,625.5 L68.9,625.5 L68.4,625.5 L68,625.6 L67.6,625.6 L67.1,625.6 L66.7,625.6 L66.3,625.7 L65.9,625.7 L65.4,625.7 L65,625.8 L64.6,625.8 L64.1,625.8 L63.7,625.8 L63.3,625.9 L62.8,625.9 L62.4,625.9 L62,625.9 L61.6,626 L61.1,626 L60.7,626 L60.3,626 L59.8,626.1 L59.4,626.2 L59,626.3 L58.6,626.4 L58.1,626.6 L57.7,626.8 L57.3,627 L56.8,627.3 L56.4,627.5 L56,627.8 L55.5,628.1 L55.1,628.4 L54.7,628.7 L54.3,629.1 L53.8,629.4 L53.4,629.8 L53,630.1 L52.5,630.5 L52.1,630.8 L51.7,631.3 L51.3,632 L50.8,632.8 L50.4,633.6 L50,634.7 L49.5,635.8 L49.1,636.9 L48.7,638.2 L48.2,639.5 L47.8,640.8 L47.4,642.2 L47,643.6 L46.5,644.9 L46.1,646.3" fill="none" stroke="#1fa86a" stroke-width="1.6" stroke-linejoin="round"/>
<path d="M46.1,616.2 L46.5,616.2 L47,616.1 L47.4,616 L47.8,615.9 L48.2,615.8 L48.7,615.7 L49.1,615.6 L49.5,615.5 L50,615.4 L50.4,615.3 L50.8,615.2 L51.3,615.1 L51.7,615 L52.1,615 L52.5,614.9 L53,614.8 L53.4,614.7 L53.8,614.6 L54.3,614.5 L54.7,614.4 L55.1,614.4 L55.5,614.3 L56,614.2 L56.4,614.1 L56.8,614 L57.3,614 L57.7,613.9 L58.1,613.8 L58.6,613.8 L59,613.7 L59.4,613.6 L59.8,613.6 L60.3,613.5 L60.7,613.5 L61.1,613.4 L61.6,613.4 L62,613.3 L62.4,613.3 L62.8,613.2 L63.3,613.2 L63.7,613.2 L64.1,613.1 L64.6,613.1 L65,613.1 L65.4,613 L65.9,613 L66.3,613 L66.7,612.9 L67.1,612.9 L67.6,612.9 L68,612.8 L68.4,612.8 L68.9,612.8 L69.3,612.7 L69.7,612.7 L70.1,612.7 L70.6,612.7 L71,612.6 L71.4,612.6 L71.9,612.6 L72.3,612.6 L72.7,612.5 L73.2,612.5 L73.6,612.5 L74,612.5 L74.4,612.4 L74.9,612.4 L75.3,612.4 L75.7,612.4 L76.2,612.3 L76.6,612.3 L77,612.3 L77.4,612.2 L77.9,612.2 L78.3,612.2 L78.7,612.2 L79.2,612.1 L79.6,612.1 L80,612.1 L80.5,612.1 L80.9,612 L81.3,612 L81.7,612 L82.2,611.9 L82.6,611.9 L83,611.9 L83.5,611.9 L83.9,611.8 L84.3,611.8 L84.7,611.8 L85.2,611.7 L85.6,611.7 L86,611.7 L86.5,611.6 L86.9,611.6 L87.3,611.6 L87.7,611.6 L88.2,611.5 L88.6,611.5 L89,611.5 L89.5,611.4 L89.9,611.4 L90.3,611.4 L90.8,611.3 L91.2,611.3 L91.6,611.3 L92,611.3 L92.5,611.2 L92.9,611.2 L93.3,611.2 L93.8,611.1 L94.2,611.1 L94.6,611.1 L95,611 L95.5,611 L95.9,611 L96.3,610.9 L96.8,610.9 L97.2,610.9 L97.6,610.8 L98.1,610.8 L98.5,610.8 L98.9,610.7 L99.3,610.7 L99.8,610.7 L100.2,610.6 L100.6,610.6 L101.1,610.5 L101.5,610.3 L101.9,610.1 L102.3,609.9 L102.8,609.7 L103.2,609.4 L103.6,609.1 L104.1,608.8 L104.5,608.5 L104.9,608.2 L105.4,607.8 L105.8,607.4 L106.2,607.1 L106.6,606.6 L107.1,605.9 L107.5,604.9 L107.9,603.6 L108.4,602.1 L108.8,600.3 L109.2,598.4 L109.6,596.3 L110.1,594 L110.5,591.7 L110.9,589.2 L111.4,586.6 L111.8,584 L112.2,581.4 L112.7,578.7 L113.1,576.1 L113.5,572.9 L113.9,569.3 L114.4,565.4 L114.8,561.3 L115.2,557.2 L115.7,553.2 L116.1,549.5 L116.5,546.2 L116.9,543.4 L117.4,540.7 L117.8,538 L118.2,535.5 L118.7,533.1 L119.1,530.8 L119.5,528.6 L120,526.6 L120.4,524.7 L120.8,523 L121.2,521.5 L121.7,519.9 L122.1,518.3 L122.5,516.7 L123,515.2 L123.4,513.6 L123.8,512.2 L124.2,511 L124.7,509.9 L125.1,509 L125.5,508.4 L126,508.1 L126.4,508.1 L126.8,508.4 L127.3,508.9 L127.7,509.5 L128.1,510.3 L128.5,511.1 L129,512 L129.4,512.9 L129.8,513.9 L130.3,514.9 L130.7,515.8 L131.1,516.7 L131.5,517.6 L132,518.6 L132.4,519.5 L132.8,520.5 L133.3,521.5 L133.7,522.5 L134.1,523.5 L134.6,524.4 L135,525.4 L135.4,526.3 L135.8,527.2 L136.3,528.1 L136.7,528.9 L137.1,529.7 L137.6,530.4 L138,531.2 L138.4,532 L138.8,532.7 L139.3,533.4 L139.7,534.1 L140.1,534.8 L140.6,535.4 L141,536.1 L141.4,536.7 L141.9,537.2 L142.3,537.8 L142.7,538.3 L143.1,538.8 L143.6,539.3 L144,539.8 L144.4,540.3 L144.9,540.8 L145.3,541.3 L145.7,541.7 L146.1,542.1 L146.6,542.5 L147,542.9 L147.4,543.3 L147.9,543.6 L148.3,544 L148.7,544.3 L149.2,544.6 L149.6,544.9 L150,545.2 L150.4,545.5 L150.9,545.8 L151.3,546.1 L151.7,546.4 L152.2,546.6 L152.6,546.9 L153,547.1 L153.4,547.4 L153.9,547.6 L154.3,547.8 L154.7,548.1 L155.2,548.3 L155.6,548.5 L156,548.8 L156.4,549 L156.9,549.2 L157.3,549.5 L157.7,549.7 L158.2,549.9 L158.6,550.1 L159,550.3 L159.5,550.5 L159.9,550.7 L160.3,550.9 L160.7,551.1 L161.2,551.3 L161.6,551.5 L162,551.7 L162.5,551.9 L162.9,552 L163.3,552.2 L163.7,552.3 L164.2,552.5 L164.6,552.7 L165,552.8 L165.5,553 L165.9,553.1 L166.3,553.3 L166.8,553.4 L167.2,553.6 L167.6,553.7 L168,553.9 L168.5,554 L168.9,554.2 L169.3,554.3 L169.8,554.5 L170.2,554.6 L170.6,554.7 L171,554.9 L171.5,555 L171.9,555.1 L172.3,555.3 L172.8,555.4 L173.2,555.5 L173.6,555.7 L174.1,555.8 L174.5,555.9 L174.9,556 L175.3,556.2 L175.8,556.3 L176.2,556.4 L176.6,556.5 L177.1,556.6 L177.5,556.7 L177.9,556.8 L178.3,557 L178.8,557.1 L179.2,557.2 L179.6,557.3 L180.1,557.3 L180.5,557.4 L180.9,557.5 L181.4,557.6 L181.8,557.7 L182.2,557.8 L182.6,557.9 L183.1,558 L183.5,558.1 L183.9,558.2 L184.4,558.3 L184.8,558.4 L185.2,558.4 L185.6,558.5 L186.1,558.6 L186.5,558.7 L186.9,558.8 L187.4,558.9 L187.8,558.9 L188.2,559 L188.7,559.1 L189.1,559.1 L189.5,559.2 L189.9,559.3 L190.4,559.3 L190.8,559.4 L191.2,559.4 L191.7,559.5 L192.1,559.5 L192.5,559.6 L192.9,559.6 L193.4,559.7 L193.8,559.7 L194.2,559.7 L194.7,559.8 L195.1,559.8 L195.5,559.9 L196,559.9 L196.4,559.9 L196.8,560 L197.2,560 L197.7,560.1 L198.1,560.1 L198.5,560.1 L199,560.2 L199.4,560.2 L199.8,560.2 L200.2,560.3 L200.7,560.3 L201.1,560.3 L201.5,560.4 L202,560.4 L202.4,560.4 L202.8,560.4 L203.3,560.5 L203.7,560.5 L204.1,560.5 L204.5,560.5 L205,560.6 L205.4,560.6 L205.8,560.6 L206.3,560.6 L206.7,560.6 L207.1,560.7 L207.5,560.7 L208,560.7 L208.4,560.7 L208.8,560.7 L209.3,560.7 L209.7,560.7 L210.1,560.7 L210.6,560.7 L211,560.7 L211.4,560.7 L211.8,560.7 L212.3,560.7 L212.7,560.7 L213.1,560.7 L213.6,560.7 L214,560.7 L214.4,560.7 L214.8,560.6 L215.3,560.6 L215.7,560.6 L216.1,560.6 L216.6,560.6 L217,560.6 L217.4,560.6 L217.8,560.5 L218.3,560.5 L218.7,560.5 L219.1,560.5 L219.6,560.5 L220,560.5 L220.4,560.4 L220.9,560.4 L221.3,560.4 L221.7,560.4 L222.1,560.4 L222.6,560.3 L223,560.3 L223.4,560.2 L223.9,560.2 L224.3,560.1 L224.7,560 L225.1,559.9 L225.6,559.8 L226,559.7 L226.4,559.6 L226.9,559.5 L227.3,559.4 L227.7,559.3 L228.2,559.2 L228.6,559.1 L229,559 L229.4,558.9 L229.9,558.7 L230.3,558.6 L230.7,558.5 L231.2,558.3 L231.6,558.2 L232,558.1 L232.4,557.9 L232.9,557.7 L233.3,557.4 L233.7,557.2 L234.2,556.9 L234.6,556.6 L235,556.2 L235.5,555.8 L235.9,555.5 L236.3,555 L236.7,554.6 L237.2,554.2 L237.6,553.7 L238,553.3 L238.5,552.8 L238.9,552.3 L239.3,551.8 L239.7,551.3 L240.2,550.8 L240.6,550.3 L241,549.7 L241.5,549 L241.9,548.4 L242.3,547.7 L242.8,546.9 L243.2,546.2 L243.6,545.4 L244,544.6 L244.5,543.8 L244.9,543.1 L245.3,542.3 L245.8,541.5 L246.2,540.8 L246.6,540.1 L247,539.5 L247.5,538.8 L247.9,538.2 L248.3,537.6 L248.8,537 L249.2,536.4 L249.6,535.8 L250.1,535.2 L250.5,534.6 L250.9,534.1 L251.3,533.5 L251.8,533 L252.2,532.5 L252.2,532.5 L251.8,534.3 L251.3,536.1 L250.9,537.8 L250.5,539.5 L250.1,541.1 L249.6,542.7 L249.2,544.2 L248.8,545.6 L248.3,546.9 L247.9,548.3 L247.5,549.6 L247,551 L246.6,552.3 L246.2,553.5 L245.8,554.7 L245.3,555.9 L244.9,556.9 L244.5,557.9 L244,558.8 L243.6,559.5 L243.2,560.2 L242.8,560.9 L242.3,561.6 L241.9,562.2 L241.5,562.9 L241,563.5 L240.6,564.1 L240.2,564.7 L239.7,565.3 L239.3,565.8 L238.9,566.4 L238.5,566.9 L238,567.4 L237.6,567.8 L237.2,568.3 L236.7,568.7 L236.3,569.1 L235.9,569.4 L235.5,569.7 L235,570 L234.6,570.3 L234.2,570.5 L233.7,570.8 L233.3,571 L232.9,571.3 L232.4,571.6 L232,571.8 L231.6,572.1 L231.2,572.3 L230.7,572.6 L230.3,572.8 L229.9,573 L229.4,573.3 L229,573.5 L228.6,573.8 L228.2,574 L227.7,574.2 L227.3,574.4 L226.9,574.6 L226.4,574.8 L226,575.1 L225.6,575.3 L225.1,575.5 L224.7,575.6 L224.3,575.8 L223.9,576 L223.4,576.2 L223,576.4 L222.6,576.5 L222.1,576.7 L221.7,576.8 L221.3,577 L220.9,577.1 L220.4,577.3 L220,577.4 L219.6,577.5 L219.1,577.7 L218.7,577.8 L218.3,578 L217.8,578.1 L217.4,578.2 L217,578.4 L216.6,578.5 L216.1,578.6 L215.7,578.8 L215.3,578.9 L214.8,579 L214.4,579.1 L214,579.3 L213.6,579.4 L213.1,579.5 L212.7,579.6 L212.3,579.8 L211.8,579.9 L211.4,580 L211,580.1 L210.6,580.2 L210.1,580.4 L209.7,580.5 L209.3,580.6 L208.8,580.7 L208.4,580.8 L208,580.9 L207.5,581 L207.1,581.1 L206.7,581.3 L206.3,581.4 L205.8,581.5 L205.4,581.6 L205,581.7 L204.5,581.8 L204.1,581.9 L203.7,582 L203.3,582.1 L202.8,582.2 L202.4,582.3 L202,582.4 L201.5,582.5 L201.1,582.6 L200.7,582.7 L200.2,582.9 L199.8,583 L199.4,583.1 L199,583.2 L198.5,583.3 L198.1,583.4 L197.7,583.5 L197.2,583.6 L196.8,583.7 L196.4,583.8 L196,583.9 L195.5,584 L195.1,584.1 L194.7,584.2 L194.2,584.3 L193.8,584.4 L193.4,584.5 L192.9,584.6 L192.5,584.7 L192.1,584.8 L191.7,584.9 L191.2,585 L190.8,585.1 L190.4,585.2 L189.9,585.3 L189.5,585.4 L189.1,585.4 L188.7,585.5 L188.2,585.6 L187.8,585.7 L187.4,585.8 L186.9,585.9 L186.5,586 L186.1,586.1 L185.6,586.2 L185.2,586.2 L184.8,586.3 L184.4,586.4 L183.9,586.5 L183.5,586.6 L183.1,586.7 L182.6,586.7 L182.2,586.8 L181.8,586.9 L181.4,587 L180.9,587 L180.5,587.1 L180.1,587.2 L179.6,587.2 L179.2,587.3 L178.8,587.4 L178.3,587.4 L177.9,587.5 L177.5,587.6 L177.1,587.6 L176.6,587.7 L176.2,587.8 L175.8,587.8 L175.3,587.9 L174.9,587.9 L174.5,588 L174.1,588.1 L173.6,588.1 L173.2,588.2 L172.8,588.3 L172.3,588.3 L171.9,588.4 L171.5,588.5 L171,588.5 L170.6,588.6 L170.2,588.7 L169.8,588.8 L169.3,588.8 L168.9,588.9 L168.5,589 L168,589.1 L167.6,589.1 L167.2,589.2 L166.8,589.3 L166.3,589.4 L165.9,589.4 L165.5,589.5 L165,589.6 L164.6,589.7 L164.2,589.8 L163.7,589.9 L163.3,589.9 L162.9,590 L162.5,590.1 L162,590.2 L161.6,590.3 L161.2,590.4 L160.7,590.5 L160.3,590.6 L159.9,590.7 L159.5,590.8 L159,591 L158.6,591.1 L158.2,591.2 L157.7,591.3 L157.3,591.5 L156.9,591.6 L156.4,591.8 L156,592 L155.6,592.2 L155.2,592.4 L154.7,592.6 L154.3,592.9 L153.9,593.1 L153.4,593.4 L153,593.6 L152.6,593.9 L152.2,594.2 L151.7,594.5 L151.3,594.8 L150.9,595 L150.4,595.3 L150,595.6 L149.6,595.9 L149.2,596.2 L148.7,596.5 L148.3,596.7 L147.9,597 L147.4,597.3 L147,597.6 L146.6,597.9 L146.1,598.2 L145.7,598.5 L145.3,598.8 L144.9,599.1 L144.4,599.4 L144,599.8 L143.6,600.1 L143.1,600.4 L142.7,600.7 L142.3,601 L141.9,601.3 L141.4,601.7 L141,602 L140.6,602.3 L140.1,602.6 L139.7,602.9 L139.3,603.2 L138.8,603.6 L138.4,603.9 L138,604.2 L137.6,604.6 L137.1,604.9 L136.7,605.2 L136.3,605.6 L135.8,605.9 L135.4,606.2 L135,606.6 L134.6,606.9 L134.1,607.2 L133.7,607.6 L133.3,607.9 L132.8,608.2 L132.4,608.5 L132,608.8 L131.5,609.1 L131.1,609.4 L130.7,609.7 L130.3,609.9 L129.8,610.2 L129.4,610.4 L129,610.7 L128.5,610.9 L128.1,611.1 L127.7,611.3 L127.3,611.6 L126.8,611.8 L126.4,612 L126,612.2 L125.5,612.5 L125.1,612.7 L124.7,613 L124.2,613.2 L123.8,613.5 L123.4,613.8 L123,614 L122.5,614.3 L122.1,614.7 L121.7,615 L121.2,615.4 L120.8,615.8 L120.4,616.2 L120,616.7 L119.5,617.2 L119.1,617.8 L118.7,618.4 L118.2,619 L117.8,619.6 L117.4,620.2 L116.9,620.9 L116.5,621.5 L116.1,622.2 L115.7,622.8 L115.2,623.5 L114.8,624.1 L114.4,624.8 L113.9,625.5 L113.5,626.3 L113.1,627.1 L112.7,627.9 L112.2,628.8 L111.8,629.7 L111.4,630.6 L110.9,631.4 L110.5,632.2 L110.1,632.9 L109.6,633.6 L109.2,634.2 L108.8,634.7 L108.4,635.1 L107.9,635.3 L107.5,635.4 L107.1,635.4 L106.6,635.3 L106.2,635 L105.8,634.7 L105.4,634.3 L104.9,633.9 L104.5,633.5 L104.1,633 L103.6,632.6 L103.2,632.3 L102.8,632 L102.3,631.7 L101.9,631.4 L101.5,631.1 L101.1,630.7 L100.6,630.4 L100.2,630.1 L99.8,629.8 L99.3,629.6 L98.9,629.3 L98.5,629.1 L98.1,629 L97.6,628.9 L97.2,628.8 L96.8,628.8 L96.3,628.7 L95.9,628.6 L95.5,628.6 L95,628.5 L94.6,628.5 L94.2,628.4 L93.8,628.4 L93.3,628.3 L92.9,628.3 L92.5,628.3 L92,628.2 L91.6,628.2 L91.2,628.2 L90.8,628.1 L90.3,628.1 L89.9,628.1 L89.5,628 L89,628 L88.6,628 L88.2,628 L87.7,628 L87.3,627.9 L86.9,627.9 L86.5,627.9 L86,627.9 L85.6,627.8 L85.2,627.8 L84.7,627.8 L84.3,627.8 L83.9,627.7 L83.5,627.7 L83,627.7 L82.6,627.7 L82.2,627.7 L81.7,627.6 L81.3,627.6 L80.9,627.6 L80.5,627.6 L80,627.6 L79.6,627.6 L79.2,627.5 L78.7,627.5 L78.3,627.5 L77.9,627.5 L77.4,627.5 L77,627.5 L76.6,627.5 L76.2,627.5 L75.7,627.6 L75.3,627.6 L74.9,627.6 L74.4,627.6 L74,627.6 L73.6,627.6 L73.2,627.6 L72.7,627.7 L72.3,627.7 L71.9,627.7 L71.4,627.7 L71,627.7 L70.6,627.8 L70.1,627.8 L69.7,627.8 L69.3,627.9 L68.9,627.9 L68.4,627.9 L68,627.9 L67.6,628 L67.1,628 L66.7,628 L66.3,628.1 L65.9,628.1 L65.4,628.1 L65,628.2 L64.6,628.2 L64.1,628.2 L63.7,628.3 L63.3,628.3 L62.8,628.3 L62.4,628.3 L62,628.4 L61.6,628.4 L61.1,628.4 L60.7,628.5 L60.3,628.5 L59.8,628.6 L59.4,628.7 L59,628.8 L58.6,629 L58.1,629.2 L57.7,629.4 L57.3,629.7 L56.8,630 L56.4,630.3 L56,630.7 L55.5,631 L55.1,631.4 L54.7,631.8 L54.3,632.2 L53.8,632.6 L53.4,633 L53,633.4 L52.5,633.9 L52.1,634.3 L51.7,634.9 L51.3,635.7 L50.8,636.7 L50.4,637.8 L50,639.1 L49.5,640.5 L49.1,642 L48.7,643.5 L48.2,645.2 L47.8,646.9 L47.4,648.6 L47,650.3 L46.5,652 L46.1,653.8" fill="none" stroke="#c97cf2" stroke-width="1.6" stroke-linejoin="round"/>
<text x="58.3" y="516.5" font-family='"Liberation Serif", serif' font-size="12.2" font-weight="bold" text-anchor="start" fill="#000" >180 mV s<tspan font-size="8" dy="-5">−1</tspan></text>
<text x="58.3" y="563.2" font-family='"Liberation Serif", serif' font-size="12.2" font-weight="bold" text-anchor="start" fill="#000" >60 mV s<tspan font-size="8" dy="-5">−1</tspan></text>
<line x1="79.9" y1="524.4" x2="79.9" y2="537.5" stroke="#000" stroke-width="2.1" />
<path d="M75.3,536.0 L84.3,536.0 L79.7,544.2 Z" fill="#000"/>
<rect x="330.9" y="493.9" width="205.8" height="164.7" fill="none" stroke="#000" stroke-width="1.4"/>
<line x1="345.55" y1="658.6" x2="345.55" y2="655.6" stroke="#000" stroke-width="1.1" />
<line x1="389.49" y1="658.6" x2="389.49" y2="655.6" stroke="#000" stroke-width="1.1" />
<line x1="433.43" y1="658.6" x2="433.43" y2="655.6" stroke="#000" stroke-width="1.1" />
<line x1="477.38" y1="658.6" x2="477.38" y2="655.6" stroke="#000" stroke-width="1.1" />
<line x1="521.32" y1="658.6" x2="521.32" y2="655.6" stroke="#000" stroke-width="1.1" />
<line x1="367.52" y1="658.6" x2="367.52" y2="656.8" stroke="#000" stroke-width="1.1" />
<line x1="411.46" y1="658.6" x2="411.46" y2="656.8" stroke="#000" stroke-width="1.1" />
<line x1="455.41" y1="658.6" x2="455.41" y2="656.8" stroke="#000" stroke-width="1.1" />
<line x1="499.35" y1="658.6" x2="499.35" y2="656.8" stroke="#000" stroke-width="1.1" />
<line x1="330.9" y1="645.66" x2="333.9" y2="645.66" stroke="#000" stroke-width="1.1" />
<line x1="330.9" y1="604.34" x2="333.9" y2="604.34" stroke="#000" stroke-width="1.1" />
<line x1="330.9" y1="563.03" x2="333.9" y2="563.03" stroke="#000" stroke-width="1.1" />
<line x1="330.9" y1="521.72" x2="333.9" y2="521.72" stroke="#000" stroke-width="1.1" />
<line x1="330.9" y1="625" x2="332.7" y2="625" stroke="#000" stroke-width="1.1" />
<line x1="330.9" y1="583.69" x2="332.7" y2="583.69" stroke="#000" stroke-width="1.1" />
<line x1="330.9" y1="542.37" x2="332.7" y2="542.37" stroke="#000" stroke-width="1.1" />
<text x="345.55" y="671.8" font-family='"Liberation Serif", serif' font-size="11" font-weight="bold" text-anchor="middle" fill="#000" >60</text>
<text x="389.49" y="671.8" font-family='"Liberation Serif", serif' font-size="11" font-weight="bold" text-anchor="middle" fill="#000" >90</text>
<text x="433.43" y="671.8" font-family='"Liberation Serif", serif' font-size="11" font-weight="bold" text-anchor="middle" fill="#000" >120</text>
<text x="477.38" y="671.8" font-family='"Liberation Serif", serif' font-size="11" font-weight="bold" text-anchor="middle" fill="#000" >150</text>
<text x="521.32" y="671.8" font-family='"Liberation Serif", serif' font-size="11" font-weight="bold" text-anchor="middle" fill="#000" >180</text>
<text x="327.3" y="649.26" font-family='"Liberation Serif", serif' font-size="11" font-weight="bold" text-anchor="end" fill="#000" >30</text>
<text x="327.3" y="607.94" font-family='"Liberation Serif", serif' font-size="11" font-weight="bold" text-anchor="end" fill="#000" >60</text>
<text x="327.3" y="566.63" font-family='"Liberation Serif", serif' font-size="11" font-weight="bold" text-anchor="end" fill="#000" >90</text>
<text x="327.3" y="525.32" font-family='"Liberation Serif", serif' font-size="11" font-weight="bold" text-anchor="end" fill="#000" >120</text>
<text x="309.5" y="499.4" font-family='"Liberation Serif", serif' font-size="19.5" font-weight="bold" text-anchor="start" fill="#000" >D</text>
<text transform="translate(305.5,576.1) rotate(-90)" x="0" y="0" font-family='"Liberation Sans", sans-serif' font-size="14" font-weight="bold" text-anchor="middle">Current / μA</text>
<text x="433.4" y="693" font-family='"Liberation Sans", sans-serif' font-size="14.2" font-weight="bold" text-anchor="middle" fill="#000" >Scan rate / mV s<tspan font-size="9.5" dy="-5">-1</tspan></text>
<rect x="46.1" y="723.9" width="206.1" height="165.5" fill="none" stroke="#000" stroke-width="1.4"/>
<line x1="46.1" y1="889.4" x2="46.1" y2="886.4" stroke="#000" stroke-width="1.1" />
<line x1="80.45" y1="889.4" x2="80.45" y2="886.4" stroke="#000" stroke-width="1.1" />
<line x1="114.8" y1="889.4" x2="114.8" y2="886.4" stroke="#000" stroke-width="1.1" />
<line x1="149.15" y1="889.4" x2="149.15" y2="886.4" stroke="#000" stroke-width="1.1" />
<line x1="183.5" y1="889.4" x2="183.5" y2="886.4" stroke="#000" stroke-width="1.1" />
<line x1="217.85" y1="889.4" x2="217.85" y2="886.4" stroke="#000" stroke-width="1.1" />
<line x1="252.2" y1="889.4" x2="252.2" y2="886.4" stroke="#000" stroke-width="1.1" />
<line x1="63.28" y1="889.4" x2="63.28" y2="887.6" stroke="#000" stroke-width="1.1" />
<line x1="97.63" y1="889.4" x2="97.63" y2="887.6" stroke="#000" stroke-width="1.1" />
<line x1="131.97" y1="889.4" x2="131.97" y2="887.6" stroke="#000" stroke-width="1.1" />
<line x1="166.33" y1="889.4" x2="166.33" y2="887.6" stroke="#000" stroke-width="1.1" />
<line x1="200.67" y1="889.4" x2="200.67" y2="887.6" stroke="#000" stroke-width="1.1" />
<line x1="235.03" y1="889.4" x2="235.03" y2="887.6" stroke="#000" stroke-width="1.1" />
<line x1="46.1" y1="889.4" x2="49.1" y2="889.4" stroke="#000" stroke-width="1.1" />
<line x1="46.1" y1="852.7" x2="49.1" y2="852.7" stroke="#000" stroke-width="1.1" />
<line x1="46.1" y1="816.01" x2="49.1" y2="816.01" stroke="#000" stroke-width="1.1" />
<line x1="46.1" y1="779.31" x2="49.1" y2="779.31" stroke="#000" stroke-width="1.1" />
<line x1="46.1" y1="742.62" x2="49.1" y2="742.62" stroke="#000" stroke-width="1.1" />
<line x1="46.1" y1="871.05" x2="47.9" y2="871.05" stroke="#000" stroke-width="1.1" />
<line x1="46.1" y1="834.36" x2="47.9" y2="834.36" stroke="#000" stroke-width="1.1" />
<line x1="46.1" y1="797.66" x2="47.9" y2="797.66" stroke="#000" stroke-width="1.1" />
<line x1="46.1" y1="760.96" x2="47.9" y2="760.96" stroke="#000" stroke-width="1.1" />
<text x="46.1" y="901.8" font-family='"Liberation Serif", serif' font-size="11" font-weight="bold" text-anchor="middle" fill="#000" >-0.2</text>
<text x="80.45" y="901.8" font-family='"Liberation Serif", serif' font-size="11" font-weight="bold" text-anchor="middle" fill="#000" >0.0</text>
<text x="114.8" y="901.8" font-family='"Liberation Serif", serif' font-size="11" font-weight="bold" text-anchor="middle" fill="#000" >0.2</text>
<text x="149.15" y="901.8" font-family='"Liberation Serif", serif' font-size="11" font-weight="bold" text-anchor="middle" fill="#000" >0.4</text>
<text x="183.5" y="901.8" font-family='"Liberation Serif", serif' font-size="11" font-weight="bold" text-anchor="middle" fill="#000" >0.6</text>
<text x="217.85" y="901.8" font-family='"Liberation Serif", serif' font-size="11" font-weight="bold" text-anchor="middle" fill="#000" >0.8</text>
<text x="252.2" y="901.8" font-family='"Liberation Serif", serif' font-size="11" font-weight="bold" text-anchor="middle" fill="#000" >1.0</text>
<text x="42.3" y="893" font-family='"Liberation Serif", serif' font-size="11" font-weight="bold" text-anchor="end" fill="#000" >-20</text>
<text x="42.3" y="856.3" font-family='"Liberation Serif", serif' font-size="11" font-weight="bold" text-anchor="end" fill="#000" >0</text>
<text x="42.3" y="819.61" font-family='"Liberation Serif", serif' font-size="11" font-weight="bold" text-anchor="end" fill="#000" >20</text>
<text x="42.3" y="782.91" font-family='"Liberation Serif", serif' font-size="11" font-weight="bold" text-anchor="end" fill="#000" >40</text>
<text x="42.3" y="746.22" font-family='"Liberation Serif", serif' font-size="11" font-weight="bold" text-anchor="end" fill="#000" >60</text>
<text x="22" y="731.7" font-family='"Liberation Serif", serif' font-size="19.5" font-weight="bold" text-anchor="start" fill="#000" >E</text>
<text transform="translate(22.6,806.5) rotate(-90)" x="0" y="0" font-family='"Liberation Sans", sans-serif' font-size="14" font-weight="bold" text-anchor="middle">Current / μA</text>
<text x="149.6" y="921.4" font-family='"Liberation Sans", sans-serif' font-size="13.9" font-weight="bold" text-anchor="middle" fill="#000" >Potential / V</text>
<path d="M46.1,858.2 L46.5,858 L47,857.8 L47.4,857.7 L47.8,857.5 L48.2,857.3 L48.7,857.1 L49.1,856.9 L49.5,856.8 L50,856.6 L50.4,856.4 L50.8,856.2 L51.3,856.1 L51.7,855.9 L52.1,855.8 L52.5,855.6 L53,855.5 L53.4,855.3 L53.8,855.2 L54.3,855 L54.7,854.9 L55.1,854.8 L55.5,854.6 L56,854.5 L56.4,854.4 L56.8,854.3 L57.3,854.2 L57.7,854 L58.1,853.9 L58.6,853.8 L59,853.7 L59.4,853.6 L59.8,853.5 L60.3,853.4 L60.7,853.3 L61.1,853.2 L61.6,853.1 L62,853 L62.4,852.9 L62.8,852.8 L63.3,852.7 L63.7,852.6 L64.1,852.5 L64.6,852.5 L65,852.4 L65.4,852.3 L65.9,852.2 L66.3,852.1 L66.7,852 L67.1,852 L67.6,851.9 L68,851.8 L68.4,851.7 L68.9,851.6 L69.3,851.5 L69.7,851.5 L70.1,851.4 L70.6,851.3 L71,851.2 L71.4,851.1 L71.9,851.1 L72.3,851 L72.7,850.9 L73.2,850.9 L73.6,850.8 L74,850.7 L74.4,850.6 L74.9,850.6 L75.3,850.5 L75.7,850.5 L76.2,850.4 L76.6,850.3 L77,850.3 L77.4,850.2 L77.9,850.2 L78.3,850.1 L78.7,850.1 L79.2,850.1 L79.6,850 L80,850 L80.5,850 L80.9,849.9 L81.3,849.9 L81.7,849.9 L82.2,849.8 L82.6,849.8 L83,849.8 L83.5,849.7 L83.9,849.7 L84.3,849.7 L84.7,849.7 L85.2,849.6 L85.6,849.6 L86,849.6 L86.5,849.6 L86.9,849.5 L87.3,849.5 L87.7,849.5 L88.2,849.5 L88.6,849.4 L89,849.4 L89.5,849.4 L89.9,849.4 L90.3,849.4 L90.8,849.3 L91.2,849.3 L91.6,849.3 L92,849.3 L92.5,849.3 L92.9,849.2 L93.3,849.2 L93.8,849.2 L94.2,849.2 L94.6,849.2 L95,849.1 L95.5,849.1 L95.9,849.1 L96.3,849.1 L96.8,849.1 L97.2,849.1 L97.6,849 L98.1,849 L98.5,849 L98.9,849 L99.3,849 L99.8,849 L100.2,848.9 L100.6,848.9 L101.1,848.9 L101.5,848.9 L101.9,848.9 L102.3,848.9 L102.8,848.9 L103.2,848.8 L103.6,848.8 L104.1,848.8 L104.5,848.8 L104.9,848.8 L105.4,848.8 L105.8,848.8 L106.2,848.8 L106.6,848.7 L107.1,848.7 L107.5,848.7 L107.9,848.7 L108.4,848.7 L108.8,848.7 L109.2,848.7 L109.6,848.7 L110.1,848.7 L110.5,848.7 L110.9,848.6 L111.4,848.6 L111.8,848.6 L112.2,848.6 L112.7,848.6 L113.1,848.6 L113.5,848.6 L113.9,848.6 L114.4,848.6 L114.8,848.6 L115.2,848.6 L115.7,848.5 L116.1,848.5 L116.5,848.5 L116.9,848.5 L117.4,848.5 L117.8,848.5 L118.2,848.5 L118.7,848.5 L119.1,848.5 L119.5,848.5 L120,848.4 L120.4,848.4 L120.8,848.4 L121.2,848.4 L121.7,848.4 L122.1,848.4 L122.5,848.4 L123,848.4 L123.4,848.4 L123.8,848.3 L124.2,848.3 L124.7,848.3 L125.1,848.3 L125.5,848.3 L126,848.3 L126.4,848.2 L126.8,848.2 L127.3,848.2 L127.7,848.1 L128.1,848.1 L128.5,848 L129,847.9 L129.4,847.9 L129.8,847.8 L130.3,847.7 L130.7,847.7 L131.1,847.6 L131.5,847.5 L132,847.4 L132.4,847.3 L132.8,847.2 L133.3,847.1 L133.7,847 L134.1,846.9 L134.6,846.8 L135,846.7 L135.4,846.6 L135.8,846.5 L136.3,846.4 L136.7,846.3 L137.1,846.2 L137.6,846 L138,845.9 L138.4,845.8 L138.8,845.7 L139.3,845.6 L139.7,845.5 L140.1,845.3 L140.6,845.2 L141,845 L141.4,844.7 L141.9,844.4 L142.3,844 L142.7,843.6 L143.1,843.2 L143.6,842.7 L144,842.2 L144.4,841.7 L144.9,841.1 L145.3,840.5 L145.7,839.9 L146.1,839.3 L146.6,838.7 L147,838 L147.4,837.4 L147.9,836.7 L148.3,835.9 L148.7,835.1 L149.2,834.2 L149.6,833.2 L150,832.2 L150.4,831.1 L150.9,830 L151.3,828.8 L151.7,827.6 L152.2,826.4 L152.6,825.2 L153,824.1 L153.4,822.9 L153.9,821.7 L154.3,820.3 L154.7,819 L155.2,817.8 L155.6,816.9 L156,816.1 L156.4,815.3 L156.9,814.8 L157.3,814.5 L157.7,814.6 L158.2,814.8 L158.6,815.1 L159,815.5 L159.5,816 L159.9,816.5 L160.3,817.2 L160.7,817.8 L161.2,818.5 L161.6,819 L162,819.5 L162.5,819.9 L162.9,820.2 L163.3,820.6 L163.7,820.9 L164.2,821.3 L164.6,821.6 L165,821.9 L165.5,822.2 L165.9,822.5 L166.3,822.8 L166.8,823.1 L167.2,823.4 L167.6,823.7 L168,824 L168.5,824.3 L168.9,824.6 L169.3,824.9 L169.8,825.1 L170.2,825.4 L170.6,825.7 L171,826 L171.5,826.2 L171.9,826.5 L172.3,826.8 L172.8,827.1 L173.2,827.4 L173.6,827.6 L174.1,827.9 L174.5,828.2 L174.9,828.4 L175.3,828.7 L175.8,828.9 L176.2,829.1 L176.6,829.3 L177.1,829.5 L177.5,829.6 L177.9,829.8 L178.3,830 L178.8,830.1 L179.2,830.3 L179.6,830.4 L180.1,830.5 L180.5,830.7 L180.9,830.8 L181.4,830.9 L181.8,831.1 L182.2,831.2 L182.6,831.3 L183.1,831.4 L183.5,831.5 L183.9,831.6 L184.4,831.7 L184.8,831.8 L185.2,831.8 L185.6,831.9 L186.1,831.9 L186.5,832 L186.9,832 L187.4,832.1 L187.8,832.1 L188.2,832.1 L188.7,832.2 L189.1,832.2 L189.5,832.2 L189.9,832.3 L190.4,832.3 L190.8,832.3 L191.2,832.4 L191.7,832.4 L192.1,832.4 L192.5,832.5 L192.9,832.5 L193.4,832.5 L193.8,832.6 L194.2,832.6 L194.7,832.6 L195.1,832.6 L195.5,832.7 L196,832.7 L196.4,832.7 L196.8,832.7 L197.2,832.8 L197.7,832.8 L198.1,832.8 L198.5,832.8 L199,832.8 L199.4,832.9 L199.8,832.9 L200.2,832.9 L200.7,832.9 L201.1,832.9 L201.5,832.9 L202,833 L202.4,833 L202.8,833 L203.3,833 L203.7,833 L204.1,833 L204.5,833.1 L205,833.1 L205.4,833.1 L205.8,833.1 L206.3,833.1 L206.7,833.1 L207.1,833.2 L207.5,833.2 L208,833.2 L208.4,833.2 L208.8,833.2 L209.3,833.2 L209.7,833.2 L210.1,833.3 L210.6,833.3 L211,833.3 L211.4,833.3 L211.8,833.3 L212.3,833.3 L212.7,833.3 L213.1,833.4 L213.6,833.4 L214,833.4 L214.4,833.4 L214.8,833.4 L215.3,833.4 L215.7,833.4 L216.1,833.5 L216.6,833.5 L217,833.5 L217.4,833.5 L217.8,833.5 L218.3,833.5 L218.7,833.5 L219.1,833.6 L219.6,833.6 L220,833.6 L220.4,833.6 L220.9,833.6 L221.3,833.6 L221.7,833.6 L222.1,833.6 L222.6,833.6 L223,833.7 L223.4,833.7 L223.9,833.7 L224.3,833.7 L224.7,833.7 L225.1,833.7 L225.6,833.7 L226,833.7 L226.4,833.7 L226.9,833.8 L227.3,833.8 L227.7,833.8 L228.2,833.8 L228.6,833.8 L229,833.8 L229.4,833.8 L229.9,833.8 L230.3,833.8 L230.7,833.9 L231.2,833.9 L231.6,833.9 L232,833.9 L232.4,833.9 L232.9,833.9 L233.3,833.9 L233.7,833.9 L234.2,833.9 L234.6,833.9 L235,833.9 L235.5,833.9 L235.9,834 L236.3,834 L236.7,834 L237.2,834 L237.6,834 L238,834 L238.5,834 L238.9,834 L239.3,834 L239.7,834 L240.2,834 L240.6,834 L241,834 L241.5,834 L241.9,834 L242.3,834 L242.8,834 L243.2,834 L243.6,834 L244,834 L244.5,834 L244.9,834 L245.3,834 L245.8,834 L246.2,834 L246.6,834 L247,834 L247.5,834 L247.9,834 L248.3,834 L248.8,834 L249.2,834 L249.6,834 L250.1,834 L250.5,834 L250.9,834 L251.3,834 L251.8,834 L252.2,834 L252.2,834 L251.8,834.2 L251.3,834.4 L250.9,834.6 L250.5,834.8 L250.1,834.9 L249.6,835.1 L249.2,835.3 L248.8,835.4 L248.3,835.5 L247.9,835.6 L247.5,835.7 L247,835.8 L246.6,835.9 L246.2,836 L245.8,836.1 L245.3,836.2 L244.9,836.3 L244.5,836.4 L244,836.4 L243.6,836.5 L243.2,836.6 L242.8,836.7 L242.3,836.7 L241.9,836.8 L241.5,836.9 L241,836.9 L240.6,837 L240.2,837 L239.7,837.1 L239.3,837.1 L238.9,837.2 L238.5,837.2 L238,837.3 L237.6,837.3 L237.2,837.4 L236.7,837.4 L236.3,837.5 L235.9,837.5 L235.5,837.6 L235,837.6 L234.6,837.7 L234.2,837.7 L233.7,837.7 L233.3,837.8 L232.9,837.8 L232.4,837.9 L232,837.9 L231.6,838 L231.2,838 L230.7,838 L230.3,838.1 L229.9,838.1 L229.4,838.2 L229,838.2 L228.6,838.2 L228.2,838.3 L227.7,838.3 L227.3,838.3 L226.9,838.4 L226.4,838.4 L226,838.5 L225.6,838.5 L225.1,838.5 L224.7,838.6 L224.3,838.6 L223.9,838.7 L223.4,838.7 L223,838.7 L222.6,838.8 L222.1,838.8 L221.7,838.9 L221.3,838.9 L220.9,839 L220.4,839 L220,839.1 L219.6,839.1 L219.1,839.1 L218.7,839.2 L218.3,839.2 L217.8,839.3 L217.4,839.3 L217,839.4 L216.6,839.4 L216.1,839.5 L215.7,839.5 L215.3,839.6 L214.8,839.7 L214.4,839.7 L214,839.8 L213.6,839.8 L213.1,839.9 L212.7,839.9 L212.3,840 L211.8,840.1 L211.4,840.1 L211,840.2 L210.6,840.3 L210.1,840.3 L209.7,840.4 L209.3,840.4 L208.8,840.5 L208.4,840.6 L208,840.6 L207.5,840.7 L207.1,840.8 L206.7,840.8 L206.3,840.9 L205.8,841 L205.4,841 L205,841.1 L204.5,841.2 L204.1,841.2 L203.7,841.3 L203.3,841.4 L202.8,841.4 L202.4,841.5 L202,841.6 L201.5,841.6 L201.1,841.7 L200.7,841.8 L200.2,841.8 L199.8,841.9 L199.4,842 L199,842 L198.5,842.1 L198.1,842.2 L197.7,842.2 L197.2,842.3 L196.8,842.4 L196.4,842.4 L196,842.5 L195.5,842.6 L195.1,842.6 L194.7,842.7 L194.2,842.7 L193.8,842.8 L193.4,842.9 L192.9,842.9 L192.5,843 L192.1,843 L191.7,843.1 L191.2,843.2 L190.8,843.2 L190.4,843.3 L189.9,843.3 L189.5,843.4 L189.1,843.4 L188.7,843.5 L188.2,843.5 L187.8,843.6 L187.4,843.6 L186.9,843.7 L186.5,843.7 L186.1,843.8 L185.6,843.8 L185.2,843.9 L184.8,843.9 L184.4,844 L183.9,844 L183.5,844 L183.1,844.1 L182.6,844.1 L182.2,844.2 L181.8,844.2 L181.4,844.2 L180.9,844.3 L180.5,844.3 L180.1,844.3 L179.6,844.4 L179.2,844.4 L178.8,844.4 L178.3,844.5 L177.9,844.5 L177.5,844.5 L177.1,844.6 L176.6,844.6 L176.2,844.6 L175.8,844.7 L175.3,844.7 L174.9,844.7 L174.5,844.8 L174.1,844.8 L173.6,844.8 L173.2,844.9 L172.8,844.9 L172.3,844.9 L171.9,844.9 L171.5,845 L171,845 L170.6,845 L170.2,845.1 L169.8,845.1 L169.3,845.1 L168.9,845.2 L168.5,845.2 L168,845.2 L167.6,845.3 L167.2,845.3 L166.8,845.3 L166.3,845.4 L165.9,845.4 L165.5,845.4 L165,845.5 L164.6,845.5 L164.2,845.5 L163.7,845.6 L163.3,845.6 L162.9,845.6 L162.5,845.7 L162,845.7 L161.6,845.7 L161.2,845.8 L160.7,845.8 L160.3,845.9 L159.9,845.9 L159.5,845.9 L159,846 L158.6,846 L158.2,846.1 L157.7,846.1 L157.3,846.1 L156.9,846.2 L156.4,846.3 L156,846.3 L155.6,846.4 L155.2,846.5 L154.7,846.6 L154.3,846.7 L153.9,846.8 L153.4,846.9 L153,847.1 L152.6,847.2 L152.2,847.4 L151.7,847.5 L151.3,847.7 L150.9,848 L150.4,848.2 L150,848.5 L149.6,848.8 L149.2,849 L148.7,849.3 L148.3,849.5 L147.9,849.7 L147.4,850 L147,850.1 L146.6,850.3 L146.1,850.5 L145.7,850.7 L145.3,850.9 L144.9,851.1 L144.4,851.2 L144,851.4 L143.6,851.6 L143.1,851.8 L142.7,851.9 L142.3,852.1 L141.9,852.2 L141.4,852.4 L141,852.6 L140.6,852.7 L140.1,852.9 L139.7,853 L139.3,853.2 L138.8,853.3 L138.4,853.5 L138,853.6 L137.6,853.8 L137.1,854 L136.7,854.1 L136.3,854.3 L135.8,854.4 L135.4,854.6 L135,854.7 L134.6,854.8 L134.1,855 L133.7,855.1 L133.3,855.2 L132.8,855.3 L132.4,855.4 L132,855.5 L131.5,855.5 L131.1,855.6 L130.7,855.7 L130.3,855.8 L129.8,855.8 L129.4,855.9 L129,856 L128.5,856 L128.1,856.1 L127.7,856.2 L127.3,856.3 L126.8,856.3 L126.4,856.4 L126,856.5 L125.5,856.5 L125.1,856.6 L124.7,856.6 L124.2,856.7 L123.8,856.8 L123.4,856.8 L123,856.9 L122.5,856.9 L122.1,857 L121.7,857 L121.2,857.1 L120.8,857.1 L120.4,857.2 L120,857.2 L119.5,857.2 L119.1,857.3 L118.7,857.3 L118.2,857.3 L117.8,857.4 L117.4,857.4 L116.9,857.4 L116.5,857.4 L116.1,857.4 L115.7,857.5 L115.2,857.5 L114.8,857.5 L114.4,857.5 L113.9,857.5 L113.5,857.5 L113.1,857.5 L112.7,857.5 L112.2,857.5 L111.8,857.5 L111.4,857.5 L110.9,857.5 L110.5,857.5 L110.1,857.5 L109.6,857.5 L109.2,857.5 L108.8,857.5 L108.4,857.5 L107.9,857.6 L107.5,857.6 L107.1,857.6 L106.6,857.6 L106.2,857.6 L105.8,857.6 L105.4,857.6 L104.9,857.6 L104.5,857.6 L104.1,857.6 L103.6,857.6 L103.2,857.6 L102.8,857.6 L102.3,857.6 L101.9,857.6 L101.5,857.6 L101.1,857.6 L100.6,857.6 L100.2,857.6 L99.8,857.6 L99.3,857.6 L98.9,857.6 L98.5,857.6 L98.1,857.6 L97.6,857.6 L97.2,857.6 L96.8,857.6 L96.3,857.6 L95.9,857.6 L95.5,857.6 L95,857.6 L94.6,857.6 L94.2,857.6 L93.8,857.6 L93.3,857.6 L92.9,857.6 L92.5,857.6 L92,857.5 L91.6,857.5 L91.2,857.5 L90.8,857.5 L90.3,857.5 L89.9,857.5 L89.5,857.5 L89,857.5 L88.6,857.5 L88.2,857.5 L87.7,857.5 L87.3,857.5 L86.9,857.5 L86.5,857.5 L86,857.4 L85.6,857.4 L85.2,857.4 L84.7,857.4 L84.3,857.4 L83.9,857.4 L83.5,857.4 L83,857.4 L82.6,857.4 L82.2,857.3 L81.7,857.3 L81.3,857.3 L80.9,857.3 L80.5,857.3 L80,857.3 L79.6,857.3 L79.2,857.2 L78.7,857.2 L78.3,857.2 L77.9,857.2 L77.4,857.2 L77,857.2 L76.6,857.2 L76.2,857.1 L75.7,857.1 L75.3,857.1 L74.9,857.1 L74.4,857.1 L74,857 L73.6,857 L73.2,857 L72.7,857 L72.3,857 L71.9,857 L71.4,856.9 L71,856.9 L70.6,856.9 L70.1,856.9 L69.7,856.9 L69.3,856.8 L68.9,856.8 L68.4,856.8 L68,856.8 L67.6,856.7 L67.1,856.7 L66.7,856.7 L66.3,856.7 L65.9,856.7 L65.4,856.6 L65,856.6 L64.6,856.6 L64.1,856.6 L63.7,856.5 L63.3,856.5 L62.8,856.5 L62.4,856.5 L62,856.5 L61.6,856.4 L61.1,856.4 L60.7,856.4 L60.3,856.4 L59.8,856.3 L59.4,856.3 L59,856.3 L58.6,856.3 L58.1,856.2 L57.7,856.2 L57.3,856.2 L56.8,856.2 L56.4,856.1 L56,856.1 L55.5,856.1 L55.1,856 L54.7,856 L54.3,856 L53.8,856 L53.4,855.9 L53,855.9 L52.5,855.9 L52.1,855.9 L51.7,855.8 L51.3,855.8 L50.8,855.8 L50.4,855.7 L50,855.7 L49.5,855.7 L49.1,855.7 L48.7,855.6 L48.2,855.6 L47.8,855.6 L47.4,855.5 L47,855.5 L46.5,855.5 L46.1,855.5" fill="none" stroke="#a39a12" stroke-width="1.35" stroke-linejoin="round"/>
<path d="M46.1,858.2 L46.5,858 L47,857.8 L47.4,857.6 L47.8,857.4 L48.2,857.2 L48.7,857.1 L49.1,856.9 L49.5,856.7 L50,856.5 L50.4,856.3 L50.8,856.1 L51.3,856 L51.7,855.8 L52.1,855.6 L52.5,855.5 L53,855.3 L53.4,855.2 L53.8,855 L54.3,854.9 L54.7,854.7 L55.1,854.6 L55.5,854.4 L56,854.3 L56.4,854.2 L56.8,854 L57.3,853.9 L57.7,853.8 L58.1,853.6 L58.6,853.5 L59,853.4 L59.4,853.2 L59.8,853.1 L60.3,853 L60.7,852.9 L61.1,852.8 L61.6,852.7 L62,852.6 L62.4,852.5 L62.8,852.4 L63.3,852.3 L63.7,852.2 L64.1,852.1 L64.6,852 L65,851.9 L65.4,851.9 L65.9,851.8 L66.3,851.7 L66.7,851.6 L67.1,851.5 L67.6,851.4 L68,851.3 L68.4,851.2 L68.9,851.2 L69.3,851.1 L69.7,851 L70.1,850.9 L70.6,850.8 L71,850.8 L71.4,850.7 L71.9,850.6 L72.3,850.5 L72.7,850.4 L73.2,850.4 L73.6,850.3 L74,850.2 L74.4,850.2 L74.9,850.1 L75.3,850 L75.7,850 L76.2,849.9 L76.6,849.8 L77,849.8 L77.4,849.7 L77.9,849.7 L78.3,849.6 L78.7,849.6 L79.2,849.5 L79.6,849.5 L80,849.4 L80.5,849.4 L80.9,849.4 L81.3,849.3 L81.7,849.3 L82.2,849.3 L82.6,849.2 L83,849.2 L83.5,849.2 L83.9,849.1 L84.3,849.1 L84.7,849.1 L85.2,849 L85.6,849 L86,849 L86.5,848.9 L86.9,848.9 L87.3,848.9 L87.7,848.9 L88.2,848.8 L88.6,848.8 L89,848.8 L89.5,848.7 L89.9,848.7 L90.3,848.7 L90.8,848.7 L91.2,848.6 L91.6,848.6 L92,848.6 L92.5,848.6 L92.9,848.5 L93.3,848.5 L93.8,848.5 L94.2,848.5 L94.6,848.4 L95,848.4 L95.5,848.4 L95.9,848.4 L96.3,848.3 L96.8,848.3 L97.2,848.3 L97.6,848.3 L98.1,848.2 L98.5,848.2 L98.9,848.2 L99.3,848.2 L99.8,848.2 L100.2,848.1 L100.6,848.1 L101.1,848.1 L101.5,848.1 L101.9,848.1 L102.3,848 L102.8,848 L103.2,848 L103.6,848 L104.1,848 L104.5,848 L104.9,847.9 L105.4,847.9 L105.8,847.9 L106.2,847.9 L106.6,847.9 L107.1,847.9 L107.5,847.8 L107.9,847.8 L108.4,847.8 L108.8,847.8 L109.2,847.8 L109.6,847.8 L110.1,847.7 L110.5,847.7 L110.9,847.7 L111.4,847.7 L111.8,847.7 L112.2,847.7 L112.7,847.7 L113.1,847.6 L113.5,847.6 L113.9,847.6 L114.4,847.6 L114.8,847.6 L115.2,847.6 L115.7,847.5 L116.1,847.5 L116.5,847.5 L116.9,847.5 L117.4,847.5 L117.8,847.5 L118.2,847.5 L118.7,847.4 L119.1,847.4 L119.5,847.4 L120,847.4 L120.4,847.4 L120.8,847.4 L121.2,847.3 L121.7,847.3 L122.1,847.3 L122.5,847.3 L123,847.3 L123.4,847.3 L123.8,847.2 L124.2,847.2 L124.7,847.2 L125.1,847.2 L125.5,847.2 L126,847.1 L126.4,847.1 L126.8,847.1 L127.3,847 L127.7,847 L128.1,846.9 L128.5,846.9 L129,846.8 L129.4,846.8 L129.8,846.7 L130.3,846.6 L130.7,846.6 L131.1,846.5 L131.5,846.4 L132,846.3 L132.4,846.3 L132.8,846.2 L133.3,846.1 L133.7,846 L134.1,845.9 L134.6,845.8 L135,845.7 L135.4,845.7 L135.8,845.6 L136.3,845.5 L136.7,845.4 L137.1,845.3 L137.6,845.2 L138,845.1 L138.4,845 L138.8,844.9 L139.3,844.8 L139.7,844.7 L140.1,844.6 L140.6,844.5 L141,844.3 L141.4,844 L141.9,843.7 L142.3,843.4 L142.7,843 L143.1,842.6 L143.6,842.1 L144,841.7 L144.4,841.1 L144.9,840.6 L145.3,840 L145.7,839.3 L146.1,838.7 L146.6,838 L147,837.4 L147.4,836.7 L147.9,835.9 L148.3,835.1 L148.7,834.1 L149.2,833 L149.6,831.8 L150,830.5 L150.4,829.1 L150.9,827.7 L151.3,826.3 L151.7,824.8 L152.2,823.4 L152.6,821.9 L153,820.4 L153.4,819 L153.9,817.6 L154.3,816 L154.7,814.5 L155.2,813.1 L155.6,811.9 L156,810.8 L156.4,809.7 L156.9,808.9 L157.3,808.4 L157.7,808.2 L158.2,808 L158.6,808 L159,808 L159.5,808.3 L159.9,808.6 L160.3,809 L160.7,809.4 L161.2,809.9 L161.6,810.3 L162,810.7 L162.5,811.1 L162.9,811.5 L163.3,811.9 L163.7,812.3 L164.2,812.7 L164.6,813.1 L165,813.5 L165.5,813.9 L165.9,814.3 L166.3,814.7 L166.8,815.1 L167.2,815.5 L167.6,815.9 L168,816.3 L168.5,816.7 L168.9,817.1 L169.3,817.5 L169.8,817.9 L170.2,818.2 L170.6,818.6 L171,818.9 L171.5,819.2 L171.9,819.6 L172.3,819.9 L172.8,820.2 L173.2,820.5 L173.6,820.8 L174.1,821.1 L174.5,821.4 L174.9,821.7 L175.3,822 L175.8,822.2 L176.2,822.4 L176.6,822.6 L177.1,822.8 L177.5,823 L177.9,823.1 L178.3,823.3 L178.8,823.4 L179.2,823.6 L179.6,823.7 L180.1,823.9 L180.5,824 L180.9,824.1 L181.4,824.3 L181.8,824.4 L182.2,824.5 L182.6,824.6 L183.1,824.7 L183.5,824.8 L183.9,824.9 L184.4,825 L184.8,825.1 L185.2,825.1 L185.6,825.2 L186.1,825.3 L186.5,825.3 L186.9,825.4 L187.4,825.4 L187.8,825.4 L188.2,825.5 L188.7,825.5 L189.1,825.6 L189.5,825.6 L189.9,825.6 L190.4,825.7 L190.8,825.7 L191.2,825.7 L191.7,825.8 L192.1,825.8 L192.5,825.8 L192.9,825.9 L193.4,825.9 L193.8,825.9 L194.2,826 L194.7,826 L195.1,826 L195.5,826.1 L196,826.1 L196.4,826.1 L196.8,826.2 L197.2,826.2 L197.7,826.2 L198.1,826.3 L198.5,826.3 L199,826.3 L199.4,826.4 L199.8,826.4 L200.2,826.4 L200.7,826.5 L201.1,826.5 L201.5,826.6 L202,826.6 L202.4,826.6 L202.8,826.7 L203.3,826.7 L203.7,826.7 L204.1,826.8 L204.5,826.8 L205,826.8 L205.4,826.9 L205.8,826.9 L206.3,827 L206.7,827 L207.1,827 L207.5,827.1 L208,827.1 L208.4,827.1 L208.8,827.2 L209.3,827.2 L209.7,827.3 L210.1,827.3 L210.6,827.3 L211,827.4 L211.4,827.4 L211.8,827.4 L212.3,827.5 L212.7,827.5 L213.1,827.5 L213.6,827.6 L214,827.6 L214.4,827.6 L214.8,827.7 L215.3,827.7 L215.7,827.7 L216.1,827.8 L216.6,827.8 L217,827.8 L217.4,827.9 L217.8,827.9 L218.3,827.9 L218.7,828 L219.1,828 L219.6,828 L220,828 L220.4,828.1 L220.9,828.1 L221.3,828.1 L221.7,828.1 L222.1,828.2 L222.6,828.2 L223,828.2 L223.4,828.2 L223.9,828.2 L224.3,828.3 L224.7,828.3 L225.1,828.3 L225.6,828.3 L226,828.4 L226.4,828.4 L226.9,828.4 L227.3,828.4 L227.7,828.4 L228.2,828.4 L228.6,828.5 L229,828.5 L229.4,828.5 L229.9,828.5 L230.3,828.5 L230.7,828.5 L231.2,828.6 L231.6,828.6 L232,828.6 L232.4,828.6 L232.9,828.6 L233.3,828.6 L233.7,828.6 L234.2,828.7 L234.6,828.7 L235,828.7 L235.5,828.7 L235.9,828.7 L236.3,828.7 L236.7,828.7 L237.2,828.7 L237.6,828.7 L238,828.7 L238.5,828.8 L238.9,828.8 L239.3,828.8 L239.7,828.8 L240.2,828.8 L240.6,828.8 L241,828.8 L241.5,828.8 L241.9,828.8 L242.3,828.8 L242.8,828.8 L243.2,828.8 L243.6,828.8 L244,828.8 L244.5,828.8 L244.9,828.8 L245.3,828.8 L245.8,828.8 L246.2,828.8 L246.6,828.8 L247,828.8 L247.5,828.8 L247.9,828.9 L248.3,828.9 L248.8,828.9 L249.2,828.9 L249.6,828.9 L250.1,828.9 L250.5,828.9 L250.9,828.9 L251.3,828.9 L251.8,828.8 L252.2,828.8 L252.2,828.8 L251.8,829.2 L251.3,829.5 L250.9,829.8 L250.5,830.1 L250.1,830.4 L249.6,830.7 L249.2,831 L248.8,831.2 L248.3,831.4 L247.9,831.6 L247.5,831.8 L247,831.9 L246.6,832.1 L246.2,832.2 L245.8,832.4 L245.3,832.5 L244.9,832.7 L244.5,832.8 L244,832.9 L243.6,833.1 L243.2,833.2 L242.8,833.3 L242.3,833.4 L241.9,833.5 L241.5,833.6 L241,833.7 L240.6,833.8 L240.2,833.9 L239.7,834 L239.3,834.1 L238.9,834.2 L238.5,834.2 L238,834.3 L237.6,834.4 L237.2,834.5 L236.7,834.5 L236.3,834.6 L235.9,834.7 L235.5,834.8 L235,834.8 L234.6,834.9 L234.2,835 L233.7,835.1 L233.3,835.1 L232.9,835.2 L232.4,835.3 L232,835.3 L231.6,835.4 L231.2,835.5 L230.7,835.6 L230.3,835.6 L229.9,835.7 L229.4,835.8 L229,835.8 L228.6,835.9 L228.2,836 L227.7,836 L227.3,836.1 L226.9,836.2 L226.4,836.2 L226,836.3 L225.6,836.4 L225.1,836.4 L224.7,836.5 L224.3,836.6 L223.9,836.6 L223.4,836.7 L223,836.8 L222.6,836.8 L222.1,836.9 L221.7,837 L221.3,837 L220.9,837.1 L220.4,837.2 L220,837.2 L219.6,837.3 L219.1,837.4 L218.7,837.4 L218.3,837.5 L217.8,837.5 L217.4,837.6 L217,837.7 L216.6,837.7 L216.1,837.8 L215.7,837.9 L215.3,837.9 L214.8,838 L214.4,838.1 L214,838.1 L213.6,838.2 L213.1,838.3 L212.7,838.3 L212.3,838.4 L211.8,838.5 L211.4,838.5 L211,838.6 L210.6,838.7 L210.1,838.7 L209.7,838.8 L209.3,838.9 L208.8,838.9 L208.4,839 L208,839.1 L207.5,839.1 L207.1,839.2 L206.7,839.3 L206.3,839.3 L205.8,839.4 L205.4,839.4 L205,839.5 L204.5,839.6 L204.1,839.6 L203.7,839.7 L203.3,839.8 L202.8,839.8 L202.4,839.9 L202,840 L201.5,840 L201.1,840.1 L200.7,840.2 L200.2,840.2 L199.8,840.3 L199.4,840.4 L199,840.4 L198.5,840.5 L198.1,840.5 L197.7,840.6 L197.2,840.7 L196.8,840.7 L196.4,840.8 L196,840.9 L195.5,840.9 L195.1,841 L194.7,841 L194.2,841.1 L193.8,841.2 L193.4,841.2 L192.9,841.3 L192.5,841.4 L192.1,841.4 L191.7,841.5 L191.2,841.5 L190.8,841.6 L190.4,841.7 L189.9,841.7 L189.5,841.8 L189.1,841.8 L188.7,841.9 L188.2,841.9 L187.8,842 L187.4,842.1 L186.9,842.1 L186.5,842.2 L186.1,842.2 L185.6,842.3 L185.2,842.3 L184.8,842.4 L184.4,842.5 L183.9,842.5 L183.5,842.6 L183.1,842.6 L182.6,842.7 L182.2,842.7 L181.8,842.8 L181.4,842.8 L180.9,842.9 L180.5,842.9 L180.1,843 L179.6,843 L179.2,843.1 L178.8,843.1 L178.3,843.1 L177.9,843.2 L177.5,843.2 L177.1,843.3 L176.6,843.3 L176.2,843.4 L175.8,843.4 L175.3,843.5 L174.9,843.5 L174.5,843.5 L174.1,843.6 L173.6,843.6 L173.2,843.7 L172.8,843.7 L172.3,843.8 L171.9,843.8 L171.5,843.9 L171,843.9 L170.6,844 L170.2,844 L169.8,844.1 L169.3,844.1 L168.9,844.1 L168.5,844.2 L168,844.2 L167.6,844.3 L167.2,844.3 L166.8,844.4 L166.3,844.4 L165.9,844.5 L165.5,844.6 L165,844.6 L164.6,844.7 L164.2,844.7 L163.7,844.8 L163.3,844.8 L162.9,844.9 L162.5,844.9 L162,845 L161.6,845.1 L161.2,845.1 L160.7,845.2 L160.3,845.3 L159.9,845.3 L159.5,845.4 L159,845.5 L158.6,845.5 L158.2,845.6 L157.7,845.7 L157.3,845.7 L156.9,845.8 L156.4,845.9 L156,846 L155.6,846.1 L155.2,846.3 L154.7,846.4 L154.3,846.5 L153.9,846.7 L153.4,846.9 L153,847 L152.6,847.2 L152.2,847.4 L151.7,847.6 L151.3,847.9 L150.9,848.2 L150.4,848.5 L150,848.8 L149.6,849.1 L149.2,849.5 L148.7,849.8 L148.3,850.1 L147.9,850.4 L147.4,850.6 L147,850.9 L146.6,851.1 L146.1,851.4 L145.7,851.7 L145.3,851.9 L144.9,852.1 L144.4,852.4 L144,852.6 L143.6,852.9 L143.1,853.1 L142.7,853.3 L142.3,853.5 L141.9,853.7 L141.4,854 L141,854.2 L140.6,854.3 L140.1,854.5 L139.7,854.7 L139.3,854.9 L138.8,855.1 L138.4,855.3 L138,855.5 L137.6,855.7 L137.1,855.8 L136.7,856 L136.3,856.2 L135.8,856.4 L135.4,856.5 L135,856.7 L134.6,856.8 L134.1,857 L133.7,857.1 L133.3,857.2 L132.8,857.3 L132.4,857.4 L132,857.5 L131.5,857.6 L131.1,857.7 L130.7,857.7 L130.3,857.8 L129.8,857.9 L129.4,858 L129,858.1 L128.5,858.1 L128.1,858.2 L127.7,858.3 L127.3,858.4 L126.8,858.4 L126.4,858.5 L126,858.6 L125.5,858.7 L125.1,858.7 L124.7,858.8 L124.2,858.9 L123.8,858.9 L123.4,859 L123,859.1 L122.5,859.1 L122.1,859.2 L121.7,859.2 L121.2,859.3 L120.8,859.3 L120.4,859.4 L120,859.4 L119.5,859.5 L119.1,859.5 L118.7,859.5 L118.2,859.6 L117.8,859.6 L117.4,859.6 L116.9,859.7 L116.5,859.7 L116.1,859.7 L115.7,859.7 L115.2,859.7 L114.8,859.7 L114.4,859.8 L113.9,859.8 L113.5,859.8 L113.1,859.8 L112.7,859.8 L112.2,859.8 L111.8,859.8 L111.4,859.8 L110.9,859.8 L110.5,859.8 L110.1,859.8 L109.6,859.8 L109.2,859.8 L108.8,859.8 L108.4,859.8 L107.9,859.9 L107.5,859.9 L107.1,859.9 L106.6,859.9 L106.2,859.9 L105.8,859.9 L105.4,859.9 L104.9,859.9 L104.5,859.9 L104.1,859.9 L103.6,859.9 L103.2,859.9 L102.8,859.9 L102.3,859.9 L101.9,859.9 L101.5,859.9 L101.1,859.9 L100.6,859.9 L100.2,859.9 L99.8,860 L99.3,860 L98.9,860 L98.5,860 L98.1,860 L97.6,860 L97.2,860 L96.8,860 L96.3,860 L95.9,860 L95.5,860 L95,860 L94.6,860 L94.2,860 L93.8,860 L93.3,860 L92.9,860 L92.5,860 L92,860 L91.6,860 L91.2,860 L90.8,860 L90.3,860 L89.9,860 L89.5,860 L89,860 L88.6,860 L88.2,860 L87.7,860 L87.3,860 L86.9,860 L86.5,860 L86,860 L85.6,860 L85.2,860 L84.7,860 L84.3,860 L83.9,859.9 L83.5,859.9 L83,859.9 L82.6,859.9 L82.2,859.9 L81.7,859.9 L81.3,859.9 L80.9,859.9 L80.5,859.9 L80,859.9 L79.6,859.9 L79.2,859.9 L78.7,859.9 L78.3,859.8 L77.9,859.8 L77.4,859.8 L77,859.8 L76.6,859.8 L76.2,859.8 L75.7,859.8 L75.3,859.8 L74.9,859.8 L74.4,859.8 L74,859.7 L73.6,859.7 L73.2,859.7 L72.7,859.7 L72.3,859.7 L71.9,859.7 L71.4,859.7 L71,859.7 L70.6,859.7 L70.1,859.7 L69.7,859.6 L69.3,859.6 L68.9,859.6 L68.4,859.6 L68,859.6 L67.6,859.6 L67.1,859.6 L66.7,859.6 L66.3,859.5 L65.9,859.5 L65.4,859.5 L65,859.5 L64.6,859.5 L64.1,859.5 L63.7,859.5 L63.3,859.5 L62.8,859.4 L62.4,859.4 L62,859.4 L61.6,859.4 L61.1,859.4 L60.7,859.4 L60.3,859.4 L59.8,859.3 L59.4,859.3 L59,859.3 L58.6,859.3 L58.1,859.3 L57.7,859.3 L57.3,859.3 L56.8,859.2 L56.4,859.2 L56,859.2 L55.5,859.2 L55.1,859.2 L54.7,859.2 L54.3,859.2 L53.8,859.1 L53.4,859.1 L53,859.1 L52.5,859.1 L52.1,859.1 L51.7,859.1 L51.3,859.1 L50.8,859 L50.4,859 L50,859 L49.5,859 L49.1,859 L48.7,859 L48.2,858.9 L47.8,858.9 L47.4,858.9 L47,858.9 L46.5,858.9 L46.1,858.9" fill="none" stroke="#8a4a4a" stroke-width="1.35" stroke-linejoin="round"/>
<path d="M46.1,858.2 L46.5,858 L47,857.8 L47.4,857.6 L47.8,857.4 L48.2,857.2 L48.7,857 L49.1,856.8 L49.5,856.6 L50,856.4 L50.4,856.2 L50.8,856.1 L51.3,855.9 L51.7,855.7 L52.1,855.5 L52.5,855.4 L53,855.2 L53.4,855 L53.8,854.9 L54.3,854.7 L54.7,854.6 L55.1,854.4 L55.5,854.3 L56,854.1 L56.4,854 L56.8,853.8 L57.3,853.7 L57.7,853.5 L58.1,853.4 L58.6,853.2 L59,853.1 L59.4,853 L59.8,852.9 L60.3,852.7 L60.7,852.6 L61.1,852.5 L61.6,852.4 L62,852.3 L62.4,852.2 L62.8,852.1 L63.3,852 L63.7,851.9 L64.1,851.8 L64.6,851.7 L65,851.6 L65.4,851.5 L65.9,851.4 L66.3,851.3 L66.7,851.2 L67.1,851.1 L67.6,851 L68,851 L68.4,850.9 L68.9,850.8 L69.3,850.7 L69.7,850.6 L70.1,850.5 L70.6,850.4 L71,850.4 L71.4,850.3 L71.9,850.2 L72.3,850.1 L72.7,850 L73.2,850 L73.6,849.9 L74,849.8 L74.4,849.8 L74.9,849.7 L75.3,849.6 L75.7,849.5 L76.2,849.5 L76.6,849.4 L77,849.4 L77.4,849.3 L77.9,849.2 L78.3,849.2 L78.7,849.1 L79.2,849.1 L79.6,849 L80,849 L80.5,849 L80.9,848.9 L81.3,848.9 L81.7,848.8 L82.2,848.8 L82.6,848.8 L83,848.7 L83.5,848.7 L83.9,848.6 L84.3,848.6 L84.7,848.6 L85.2,848.5 L85.6,848.5 L86,848.5 L86.5,848.4 L86.9,848.4 L87.3,848.4 L87.7,848.3 L88.2,848.3 L88.6,848.3 L89,848.2 L89.5,848.2 L89.9,848.2 L90.3,848.1 L90.8,848.1 L91.2,848.1 L91.6,848 L92,848 L92.5,848 L92.9,847.9 L93.3,847.9 L93.8,847.9 L94.2,847.9 L94.6,847.8 L95,847.8 L95.5,847.8 L95.9,847.7 L96.3,847.7 L96.8,847.7 L97.2,847.7 L97.6,847.6 L98.1,847.6 L98.5,847.6 L98.9,847.6 L99.3,847.5 L99.8,847.5 L100.2,847.5 L100.6,847.5 L101.1,847.4 L101.5,847.4 L101.9,847.4 L102.3,847.4 L102.8,847.3 L103.2,847.3 L103.6,847.3 L104.1,847.3 L104.5,847.3 L104.9,847.2 L105.4,847.2 L105.8,847.2 L106.2,847.2 L106.6,847.1 L107.1,847.1 L107.5,847.1 L107.9,847.1 L108.4,847.1 L108.8,847 L109.2,847 L109.6,847 L110.1,847 L110.5,847 L110.9,846.9 L111.4,846.9 L111.8,846.9 L112.2,846.9 L112.7,846.9 L113.1,846.8 L113.5,846.8 L113.9,846.8 L114.4,846.8 L114.8,846.8 L115.2,846.7 L115.7,846.7 L116.1,846.7 L116.5,846.7 L116.9,846.7 L117.4,846.6 L117.8,846.6 L118.2,846.6 L118.7,846.6 L119.1,846.6 L119.5,846.5 L120,846.5 L120.4,846.5 L120.8,846.5 L121.2,846.5 L121.7,846.4 L122.1,846.4 L122.5,846.4 L123,846.4 L123.4,846.4 L123.8,846.3 L124.2,846.3 L124.7,846.3 L125.1,846.3 L125.5,846.2 L126,846.2 L126.4,846.2 L126.8,846.1 L127.3,846.1 L127.7,846 L128.1,846 L128.5,846 L129,845.9 L129.4,845.8 L129.8,845.8 L130.3,845.7 L130.7,845.7 L131.1,845.6 L131.5,845.5 L132,845.5 L132.4,845.4 L132.8,845.3 L133.3,845.2 L133.7,845.2 L134.1,845.1 L134.6,845 L135,844.9 L135.4,844.8 L135.8,844.8 L136.3,844.7 L136.7,844.6 L137.1,844.5 L137.6,844.4 L138,844.3 L138.4,844.3 L138.8,844.2 L139.3,844.1 L139.7,844 L140.1,843.9 L140.6,843.8 L141,843.6 L141.4,843.4 L141.9,843.1 L142.3,842.8 L142.7,842.4 L143.1,842 L143.6,841.6 L144,841.1 L144.4,840.5 L144.9,840 L145.3,839.4 L145.7,838.8 L146.1,838.1 L146.6,837.4 L147,836.7 L147.4,835.9 L147.9,835.2 L148.3,834.2 L148.7,833 L149.2,831.7 L149.6,830.3 L150,828.8 L150.4,827.2 L150.9,825.5 L151.3,823.7 L151.7,822 L152.2,820.2 L152.6,818.4 L153,816.7 L153.4,815 L153.9,813.4 L154.3,811.7 L154.7,809.9 L155.2,808.3 L155.6,806.9 L156,805.4 L156.4,804.1 L156.9,802.9 L157.3,802.1 L157.7,801.6 L158.2,801.1 L158.6,800.7 L159,800.4 L159.5,800.4 L159.9,800.5 L160.3,800.6 L160.7,800.8 L161.2,801.1 L161.6,801.4 L162,801.8 L162.5,802.2 L162.9,802.6 L163.3,803 L163.7,803.5 L164.2,804 L164.6,804.5 L165,805 L165.5,805.5 L165.9,806 L166.3,806.5 L166.8,807 L167.2,807.5 L167.6,808.1 L168,808.6 L168.5,809.2 L168.9,809.7 L169.3,810.2 L169.8,810.7 L170.2,811.2 L170.6,811.7 L171,812.1 L171.5,812.5 L171.9,812.9 L172.3,813.3 L172.8,813.7 L173.2,814.1 L173.6,814.5 L174.1,814.8 L174.5,815.2 L174.9,815.5 L175.3,815.8 L175.8,816.1 L176.2,816.4 L176.6,816.7 L177.1,816.9 L177.5,817.1 L177.9,817.3 L178.3,817.4 L178.8,817.6 L179.2,817.8 L179.6,818 L180.1,818.1 L180.5,818.3 L180.9,818.5 L181.4,818.6 L181.8,818.8 L182.2,818.9 L182.6,819.1 L183.1,819.2 L183.5,819.3 L183.9,819.5 L184.4,819.6 L184.8,819.7 L185.2,819.8 L185.6,819.8 L186.1,819.9 L186.5,820 L186.9,820 L187.4,820.1 L187.8,820.2 L188.2,820.2 L188.7,820.3 L189.1,820.3 L189.5,820.4 L189.9,820.4 L190.4,820.5 L190.8,820.5 L191.2,820.6 L191.7,820.6 L192.1,820.7 L192.5,820.7 L192.9,820.8 L193.4,820.8 L193.8,820.9 L194.2,820.9 L194.7,821 L195.1,821 L195.5,821.1 L196,821.1 L196.4,821.1 L196.8,821.2 L197.2,821.2 L197.7,821.3 L198.1,821.3 L198.5,821.4 L199,821.4 L199.4,821.5 L199.8,821.5 L200.2,821.6 L200.7,821.6 L201.1,821.7 L201.5,821.7 L202,821.8 L202.4,821.8 L202.8,821.9 L203.3,821.9 L203.7,822 L204.1,822 L204.5,822.1 L205,822.1 L205.4,822.2 L205.8,822.2 L206.3,822.3 L206.7,822.4 L207.1,822.4 L207.5,822.5 L208,822.5 L208.4,822.6 L208.8,822.6 L209.3,822.7 L209.7,822.7 L210.1,822.8 L210.6,822.8 L211,822.9 L211.4,822.9 L211.8,823 L212.3,823.1 L212.7,823.1 L213.1,823.2 L213.6,823.2 L214,823.3 L214.4,823.3 L214.8,823.3 L215.3,823.4 L215.7,823.4 L216.1,823.5 L216.6,823.5 L217,823.6 L217.4,823.6 L217.8,823.7 L218.3,823.7 L218.7,823.7 L219.1,823.8 L219.6,823.8 L220,823.9 L220.4,823.9 L220.9,823.9 L221.3,824 L221.7,824 L222.1,824 L222.6,824.1 L223,824.1 L223.4,824.1 L223.9,824.1 L224.3,824.2 L224.7,824.2 L225.1,824.2 L225.6,824.2 L226,824.3 L226.4,824.3 L226.9,824.3 L227.3,824.4 L227.7,824.4 L228.2,824.4 L228.6,824.4 L229,824.4 L229.4,824.5 L229.9,824.5 L230.3,824.5 L230.7,824.5 L231.2,824.6 L231.6,824.6 L232,824.6 L232.4,824.6 L232.9,824.6 L233.3,824.6 L233.7,824.7 L234.2,824.7 L234.6,824.7 L235,824.7 L235.5,824.7 L235.9,824.7 L236.3,824.7 L236.7,824.8 L237.2,824.8 L237.6,824.8 L238,824.8 L238.5,824.8 L238.9,824.8 L239.3,824.8 L239.7,824.8 L240.2,824.8 L240.6,824.8 L241,824.8 L241.5,824.9 L241.9,824.9 L242.3,824.9 L242.8,824.9 L243.2,824.9 L243.6,824.9 L244,824.9 L244.5,824.9 L244.9,824.9 L245.3,824.9 L245.8,824.9 L246.2,824.9 L246.6,824.9 L247,824.9 L247.5,824.9 L247.9,824.9 L248.3,824.9 L248.8,825 L249.2,825 L249.6,825 L250.1,825 L250.5,825 L250.9,825 L251.3,825 L251.8,825 L252.2,825 L252.2,825 L251.8,825.4 L251.3,825.8 L250.9,826.2 L250.5,826.6 L250.1,827 L249.6,827.4 L249.2,827.7 L248.8,828 L248.3,828.3 L247.9,828.5 L247.5,828.7 L247,829 L246.6,829.2 L246.2,829.4 L245.8,829.5 L245.3,829.7 L244.9,829.9 L244.5,830.1 L244,830.3 L243.6,830.4 L243.2,830.6 L242.8,830.8 L242.3,830.9 L241.9,831 L241.5,831.2 L241,831.3 L240.6,831.4 L240.2,831.5 L239.7,831.7 L239.3,831.8 L238.9,831.9 L238.5,832 L238,832.1 L237.6,832.2 L237.2,832.3 L236.7,832.4 L236.3,832.5 L235.9,832.6 L235.5,832.7 L235,832.8 L234.6,832.9 L234.2,833 L233.7,833.1 L233.3,833.1 L232.9,833.2 L232.4,833.3 L232,833.4 L231.6,833.5 L231.2,833.6 L230.7,833.7 L230.3,833.8 L229.9,833.9 L229.4,834 L229,834.1 L228.6,834.2 L228.2,834.3 L227.7,834.4 L227.3,834.4 L226.9,834.5 L226.4,834.6 L226,834.7 L225.6,834.8 L225.1,834.9 L224.7,835 L224.3,835.1 L223.9,835.1 L223.4,835.2 L223,835.3 L222.6,835.4 L222.1,835.5 L221.7,835.6 L221.3,835.6 L220.9,835.7 L220.4,835.8 L220,835.9 L219.6,835.9 L219.1,836 L218.7,836.1 L218.3,836.2 L217.8,836.2 L217.4,836.3 L217,836.4 L216.6,836.5 L216.1,836.5 L215.7,836.6 L215.3,836.7 L214.8,836.7 L214.4,836.8 L214,836.9 L213.6,837 L213.1,837 L212.7,837.1 L212.3,837.2 L211.8,837.2 L211.4,837.3 L211,837.4 L210.6,837.4 L210.1,837.5 L209.7,837.6 L209.3,837.6 L208.8,837.7 L208.4,837.8 L208,837.8 L207.5,837.9 L207.1,838 L206.7,838 L206.3,838.1 L205.8,838.2 L205.4,838.2 L205,838.3 L204.5,838.4 L204.1,838.4 L203.7,838.5 L203.3,838.6 L202.8,838.6 L202.4,838.7 L202,838.8 L201.5,838.8 L201.1,838.9 L200.7,838.9 L200.2,839 L199.8,839.1 L199.4,839.1 L199,839.2 L198.5,839.3 L198.1,839.3 L197.7,839.4 L197.2,839.5 L196.8,839.5 L196.4,839.6 L196,839.6 L195.5,839.7 L195.1,839.8 L194.7,839.8 L194.2,839.9 L193.8,840 L193.4,840 L192.9,840.1 L192.5,840.1 L192.1,840.2 L191.7,840.3 L191.2,840.3 L190.8,840.4 L190.4,840.4 L189.9,840.5 L189.5,840.6 L189.1,840.6 L188.7,840.7 L188.2,840.8 L187.8,840.8 L187.4,840.9 L186.9,840.9 L186.5,841 L186.1,841.1 L185.6,841.1 L185.2,841.2 L184.8,841.2 L184.4,841.3 L183.9,841.4 L183.5,841.4 L183.1,841.5 L182.6,841.5 L182.2,841.6 L181.8,841.7 L181.4,841.7 L180.9,841.8 L180.5,841.8 L180.1,841.9 L179.6,841.9 L179.2,842 L178.8,842.1 L178.3,842.1 L177.9,842.2 L177.5,842.2 L177.1,842.3 L176.6,842.3 L176.2,842.4 L175.8,842.5 L175.3,842.5 L174.9,842.6 L174.5,842.6 L174.1,842.7 L173.6,842.7 L173.2,842.8 L172.8,842.9 L172.3,842.9 L171.9,843 L171.5,843 L171,843.1 L170.6,843.1 L170.2,843.2 L169.8,843.3 L169.3,843.3 L168.9,843.4 L168.5,843.4 L168,843.5 L167.6,843.6 L167.2,843.6 L166.8,843.7 L166.3,843.8 L165.9,843.8 L165.5,843.9 L165,844 L164.6,844 L164.2,844.1 L163.7,844.2 L163.3,844.2 L162.9,844.3 L162.5,844.4 L162,844.5 L161.6,844.6 L161.2,844.6 L160.7,844.7 L160.3,844.8 L159.9,844.9 L159.5,845 L159,845.1 L158.6,845.2 L158.2,845.3 L157.7,845.3 L157.3,845.4 L156.9,845.6 L156.4,845.7 L156,845.8 L155.6,845.9 L155.2,846.1 L154.7,846.2 L154.3,846.4 L153.9,846.6 L153.4,846.8 L153,847 L152.6,847.2 L152.2,847.4 L151.7,847.7 L151.3,848 L150.9,848.4 L150.4,848.7 L150,849.1 L149.6,849.4 L149.2,849.8 L148.7,850.2 L148.3,850.5 L147.9,850.9 L147.4,851.2 L147,851.5 L146.6,851.8 L146.1,852.1 L145.7,852.4 L145.3,852.7 L144.9,853 L144.4,853.3 L144,853.6 L143.6,853.9 L143.1,854.2 L142.7,854.5 L142.3,854.7 L141.9,855 L141.4,855.2 L141,855.5 L140.6,855.7 L140.1,855.9 L139.7,856.1 L139.3,856.3 L138.8,856.6 L138.4,856.8 L138,857 L137.6,857.2 L137.1,857.4 L136.7,857.6 L136.3,857.8 L135.8,858 L135.4,858.1 L135,858.3 L134.6,858.5 L134.1,858.6 L133.7,858.7 L133.3,858.9 L132.8,859 L132.4,859.1 L132,859.2 L131.5,859.3 L131.1,859.4 L130.7,859.4 L130.3,859.5 L129.8,859.6 L129.4,859.7 L129,859.8 L128.5,859.9 L128.1,859.9 L127.7,860 L127.3,860.1 L126.8,860.2 L126.4,860.3 L126,860.3 L125.5,860.4 L125.1,860.5 L124.7,860.6 L124.2,860.6 L123.8,860.7 L123.4,860.8 L123,860.9 L122.5,860.9 L122.1,861 L121.7,861 L121.2,861.1 L120.8,861.2 L120.4,861.2 L120,861.3 L119.5,861.3 L119.1,861.3 L118.7,861.4 L118.2,861.4 L117.8,861.5 L117.4,861.5 L116.9,861.5 L116.5,861.5 L116.1,861.6 L115.7,861.6 L115.2,861.6 L114.8,861.6 L114.4,861.6 L113.9,861.6 L113.5,861.6 L113.1,861.6 L112.7,861.6 L112.2,861.7 L111.8,861.7 L111.4,861.7 L110.9,861.7 L110.5,861.7 L110.1,861.7 L109.6,861.7 L109.2,861.7 L108.8,861.7 L108.4,861.7 L107.9,861.7 L107.5,861.7 L107.1,861.8 L106.6,861.8 L106.2,861.8 L105.8,861.8 L105.4,861.8 L104.9,861.8 L104.5,861.8 L104.1,861.8 L103.6,861.8 L103.2,861.8 L102.8,861.8 L102.3,861.8 L101.9,861.8 L101.5,861.9 L101.1,861.9 L100.6,861.9 L100.2,861.9 L99.8,861.9 L99.3,861.9 L98.9,861.9 L98.5,861.9 L98.1,861.9 L97.6,861.9 L97.2,861.9 L96.8,861.9 L96.3,861.9 L95.9,861.9 L95.5,862 L95,862 L94.6,862 L94.2,862 L93.8,862 L93.3,862 L92.9,862 L92.5,862 L92,862 L91.6,862 L91.2,862 L90.8,862 L90.3,862 L89.9,862 L89.5,862 L89,862 L88.6,862 L88.2,862 L87.7,862 L87.3,862 L86.9,862 L86.5,862 L86,862 L85.6,862 L85.2,862 L84.7,862 L84.3,862 L83.9,862 L83.5,862 L83,862 L82.6,862 L82.2,862 L81.7,862 L81.3,862 L80.9,862 L80.5,862 L80,862 L79.6,862 L79.2,862 L78.7,862 L78.3,862 L77.9,862 L77.4,862 L77,862 L76.6,862 L76.2,862 L75.7,862 L75.3,862 L74.9,862 L74.4,862 L74,862 L73.6,862 L73.2,862 L72.7,862 L72.3,862 L71.9,862 L71.4,862 L71,861.9 L70.6,861.9 L70.1,861.9 L69.7,861.9 L69.3,861.9 L68.9,861.9 L68.4,861.9 L68,861.9 L67.6,861.9 L67.1,861.9 L66.7,861.9 L66.3,861.9 L65.9,861.9 L65.4,861.9 L65,861.9 L64.6,861.9 L64.1,861.9 L63.7,861.9 L63.3,861.9 L62.8,861.9 L62.4,861.9 L62,861.9 L61.6,861.9 L61.1,861.8 L60.7,861.8 L60.3,861.8 L59.8,861.8 L59.4,861.8 L59,861.8 L58.6,861.8 L58.1,861.8 L57.7,861.8 L57.3,861.8 L56.8,861.8 L56.4,861.8 L56,861.8 L55.5,861.8 L55.1,861.8 L54.7,861.8 L54.3,861.8 L53.8,861.8 L53.4,861.7 L53,861.7 L52.5,861.7 L52.1,861.7 L51.7,861.7 L51.3,861.7 L50.8,861.7 L50.4,861.7 L50,861.7 L49.5,861.7 L49.1,861.7 L48.7,861.7 L48.2,861.7 L47.8,861.7 L47.4,861.7 L47,861.6 L46.5,861.6 L46.1,861.6" fill="none" stroke="#1ccbd0" stroke-width="1.35" stroke-linejoin="round"/>
<path d="M46.1,858.2 L46.5,858 L47,857.8 L47.4,857.6 L47.8,857.4 L48.2,857.2 L48.7,857 L49.1,856.8 L49.5,856.6 L50,856.4 L50.4,856.2 L50.8,856 L51.3,855.8 L51.7,855.6 L52.1,855.4 L52.5,855.3 L53,855.1 L53.4,854.9 L53.8,854.7 L54.3,854.6 L54.7,854.4 L55.1,854.3 L55.5,854.1 L56,853.9 L56.4,853.8 L56.8,853.6 L57.3,853.5 L57.7,853.3 L58.1,853.2 L58.6,853 L59,852.9 L59.4,852.7 L59.8,852.6 L60.3,852.5 L60.7,852.3 L61.1,852.2 L61.6,852.1 L62,852 L62.4,851.9 L62.8,851.8 L63.3,851.7 L63.7,851.6 L64.1,851.5 L64.6,851.4 L65,851.3 L65.4,851.2 L65.9,851.1 L66.3,851 L66.7,850.9 L67.1,850.8 L67.6,850.7 L68,850.6 L68.4,850.5 L68.9,850.4 L69.3,850.4 L69.7,850.3 L70.1,850.2 L70.6,850.1 L71,850 L71.4,849.9 L71.9,849.9 L72.3,849.8 L72.7,849.7 L73.2,849.6 L73.6,849.5 L74,849.5 L74.4,849.4 L74.9,849.3 L75.3,849.3 L75.7,849.2 L76.2,849.1 L76.6,849.1 L77,849 L77.4,848.9 L77.9,848.9 L78.3,848.8 L78.7,848.8 L79.2,848.7 L79.6,848.7 L80,848.6 L80.5,848.6 L80.9,848.5 L81.3,848.5 L81.7,848.4 L82.2,848.4 L82.6,848.3 L83,848.3 L83.5,848.3 L83.9,848.2 L84.3,848.2 L84.7,848.1 L85.2,848.1 L85.6,848.1 L86,848 L86.5,848 L86.9,847.9 L87.3,847.9 L87.7,847.9 L88.2,847.8 L88.6,847.8 L89,847.7 L89.5,847.7 L89.9,847.7 L90.3,847.6 L90.8,847.6 L91.2,847.6 L91.6,847.5 L92,847.5 L92.5,847.5 L92.9,847.4 L93.3,847.4 L93.8,847.4 L94.2,847.3 L94.6,847.3 L95,847.3 L95.5,847.2 L95.9,847.2 L96.3,847.2 L96.8,847.1 L97.2,847.1 L97.6,847.1 L98.1,847.1 L98.5,847 L98.9,847 L99.3,847 L99.8,846.9 L100.2,846.9 L100.6,846.9 L101.1,846.9 L101.5,846.8 L101.9,846.8 L102.3,846.8 L102.8,846.7 L103.2,846.7 L103.6,846.7 L104.1,846.7 L104.5,846.6 L104.9,846.6 L105.4,846.6 L105.8,846.6 L106.2,846.5 L106.6,846.5 L107.1,846.5 L107.5,846.5 L107.9,846.4 L108.4,846.4 L108.8,846.4 L109.2,846.4 L109.6,846.3 L110.1,846.3 L110.5,846.3 L110.9,846.3 L111.4,846.2 L111.8,846.2 L112.2,846.2 L112.7,846.2 L113.1,846.1 L113.5,846.1 L113.9,846.1 L114.4,846.1 L114.8,846.1 L115.2,846 L115.7,846 L116.1,846 L116.5,846 L116.9,845.9 L117.4,845.9 L117.8,845.9 L118.2,845.9 L118.7,845.8 L119.1,845.8 L119.5,845.8 L120,845.8 L120.4,845.7 L120.8,845.7 L121.2,845.7 L121.7,845.7 L122.1,845.6 L122.5,845.6 L123,845.6 L123.4,845.6 L123.8,845.5 L124.2,845.5 L124.7,845.5 L125.1,845.4 L125.5,845.4 L126,845.4 L126.4,845.3 L126.8,845.3 L127.3,845.3 L127.7,845.2 L128.1,845.2 L128.5,845.1 L129,845.1 L129.4,845 L129.8,845 L130.3,844.9 L130.7,844.9 L131.1,844.8 L131.5,844.7 L132,844.7 L132.4,844.6 L132.8,844.5 L133.3,844.5 L133.7,844.4 L134.1,844.3 L134.6,844.3 L135,844.2 L135.4,844.1 L135.8,844 L136.3,844 L136.7,843.9 L137.1,843.8 L137.6,843.7 L138,843.7 L138.4,843.6 L138.8,843.5 L139.3,843.4 L139.7,843.4 L140.1,843.3 L140.6,843.2 L141,843 L141.4,842.8 L141.9,842.5 L142.3,842.2 L142.7,841.9 L143.1,841.5 L143.6,841 L144,840.5 L144.4,840 L144.9,839.4 L145.3,838.8 L145.7,838.2 L146.1,837.5 L146.6,836.8 L147,836 L147.4,835.3 L147.9,834.4 L148.3,833.3 L148.7,832 L149.2,830.6 L149.6,828.9 L150,827.2 L150.4,825.3 L150.9,823.3 L151.3,821.3 L151.7,819.2 L152.2,817.2 L152.6,815.1 L153,813.2 L153.4,811.2 L153.9,809.4 L154.3,807.5 L154.7,805.5 L155.2,803.8 L155.6,802 L156,800.3 L156.4,798.7 L156.9,797.3 L157.3,796.1 L157.7,795.2 L158.2,794.4 L158.6,793.6 L159,793.1 L159.5,792.8 L159.9,792.7 L160.3,792.6 L160.7,792.6 L161.2,792.7 L161.6,792.9 L162,793.2 L162.5,793.6 L162.9,794.1 L163.3,794.6 L163.7,795.1 L164.2,795.7 L164.6,796.3 L165,796.9 L165.5,797.5 L165.9,798.1 L166.3,798.7 L166.8,799.3 L167.2,800 L167.6,800.6 L168,801.3 L168.5,802 L168.9,802.7 L169.3,803.3 L169.8,804 L170.2,804.6 L170.6,805.1 L171,805.6 L171.5,806.2 L171.9,806.6 L172.3,807.1 L172.8,807.6 L173.2,808.1 L173.6,808.5 L174.1,809 L174.5,809.4 L174.9,809.8 L175.3,810.2 L175.8,810.5 L176.2,810.8 L176.6,811.1 L177.1,811.4 L177.5,811.6 L177.9,811.9 L178.3,812.1 L178.8,812.3 L179.2,812.5 L179.6,812.8 L180.1,813 L180.5,813.2 L180.9,813.4 L181.4,813.6 L181.8,813.8 L182.2,814 L182.6,814.1 L183.1,814.3 L183.5,814.5 L183.9,814.6 L184.4,814.7 L184.8,814.9 L185.2,815 L185.6,815.1 L186.1,815.2 L186.5,815.3 L186.9,815.4 L187.4,815.4 L187.8,815.5 L188.2,815.6 L188.7,815.7 L189.1,815.7 L189.5,815.8 L189.9,815.9 L190.4,815.9 L190.8,816 L191.2,816.1 L191.7,816.1 L192.1,816.2 L192.5,816.3 L192.9,816.3 L193.4,816.4 L193.8,816.4 L194.2,816.5 L194.7,816.6 L195.1,816.6 L195.5,816.7 L196,816.8 L196.4,816.8 L196.8,816.9 L197.2,816.9 L197.7,817 L198.1,817.1 L198.5,817.1 L199,817.2 L199.4,817.2 L199.8,817.3 L200.2,817.4 L200.7,817.4 L201.1,817.5 L201.5,817.6 L202,817.6 L202.4,817.7 L202.8,817.8 L203.3,817.8 L203.7,817.9 L204.1,818 L204.5,818 L205,818.1 L205.4,818.2 L205.8,818.2 L206.3,818.3 L206.7,818.4 L207.1,818.4 L207.5,818.5 L208,818.6 L208.4,818.6 L208.8,818.7 L209.3,818.8 L209.7,818.9 L210.1,818.9 L210.6,819 L211,819.1 L211.4,819.1 L211.8,819.2 L212.3,819.3 L212.7,819.3 L213.1,819.4 L213.6,819.4 L214,819.5 L214.4,819.6 L214.8,819.6 L215.3,819.7 L215.7,819.7 L216.1,819.8 L216.6,819.9 L217,819.9 L217.4,820 L217.8,820 L218.3,820.1 L218.7,820.1 L219.1,820.2 L219.6,820.2 L220,820.3 L220.4,820.3 L220.9,820.3 L221.3,820.4 L221.7,820.4 L222.1,820.5 L222.6,820.5 L223,820.5 L223.4,820.6 L223.9,820.6 L224.3,820.6 L224.7,820.7 L225.1,820.7 L225.6,820.7 L226,820.8 L226.4,820.8 L226.9,820.8 L227.3,820.8 L227.7,820.9 L228.2,820.9 L228.6,820.9 L229,821 L229.4,821 L229.9,821 L230.3,821 L230.7,821.1 L231.2,821.1 L231.6,821.1 L232,821.1 L232.4,821.2 L232.9,821.2 L233.3,821.2 L233.7,821.2 L234.2,821.2 L234.6,821.3 L235,821.3 L235.5,821.3 L235.9,821.3 L236.3,821.3 L236.7,821.3 L237.2,821.3 L237.6,821.4 L238,821.4 L238.5,821.4 L238.9,821.4 L239.3,821.4 L239.7,821.4 L240.2,821.4 L240.6,821.4 L241,821.4 L241.5,821.5 L241.9,821.5 L242.3,821.5 L242.8,821.5 L243.2,821.5 L243.6,821.5 L244,821.5 L244.5,821.5 L244.9,821.5 L245.3,821.5 L245.8,821.5 L246.2,821.6 L246.6,821.6 L247,821.6 L247.5,821.6 L247.9,821.6 L248.3,821.6 L248.8,821.6 L249.2,821.6 L249.6,821.6 L250.1,821.6 L250.5,821.6 L250.9,821.6 L251.3,821.6 L251.8,821.6 L252.2,821.6 L252.2,821.6 L251.8,822.1 L251.3,822.6 L250.9,823.1 L250.5,823.6 L250.1,824.1 L249.6,824.5 L249.2,824.9 L248.8,825.3 L248.3,825.6 L247.9,825.9 L247.5,826.2 L247,826.4 L246.6,826.6 L246.2,826.9 L245.8,827.1 L245.3,827.3 L244.9,827.6 L244.5,827.8 L244,828 L243.6,828.2 L243.2,828.4 L242.8,828.6 L242.3,828.7 L241.9,828.9 L241.5,829.1 L241,829.2 L240.6,829.4 L240.2,829.5 L239.7,829.6 L239.3,829.8 L238.9,829.9 L238.5,830 L238,830.1 L237.6,830.2 L237.2,830.4 L236.7,830.5 L236.3,830.6 L235.9,830.7 L235.5,830.8 L235,831 L234.6,831.1 L234.2,831.2 L233.7,831.3 L233.3,831.4 L232.9,831.6 L232.4,831.7 L232,831.8 L231.6,831.9 L231.2,832 L230.7,832.1 L230.3,832.3 L229.9,832.4 L229.4,832.5 L229,832.6 L228.6,832.7 L228.2,832.8 L227.7,832.9 L227.3,833 L226.9,833.1 L226.4,833.2 L226,833.3 L225.6,833.5 L225.1,833.6 L224.7,833.7 L224.3,833.8 L223.9,833.9 L223.4,834 L223,834.1 L222.6,834.2 L222.1,834.2 L221.7,834.3 L221.3,834.4 L220.9,834.5 L220.4,834.6 L220,834.7 L219.6,834.8 L219.1,834.9 L218.7,835 L218.3,835 L217.8,835.1 L217.4,835.2 L217,835.3 L216.6,835.4 L216.1,835.4 L215.7,835.5 L215.3,835.6 L214.8,835.7 L214.4,835.7 L214,835.8 L213.6,835.9 L213.1,835.9 L212.7,836 L212.3,836.1 L211.8,836.2 L211.4,836.2 L211,836.3 L210.6,836.4 L210.1,836.4 L209.7,836.5 L209.3,836.6 L208.8,836.6 L208.4,836.7 L208,836.8 L207.5,836.8 L207.1,836.9 L206.7,837 L206.3,837 L205.8,837.1 L205.4,837.2 L205,837.2 L204.5,837.3 L204.1,837.4 L203.7,837.4 L203.3,837.5 L202.8,837.6 L202.4,837.6 L202,837.7 L201.5,837.8 L201.1,837.8 L200.7,837.9 L200.2,837.9 L199.8,838 L199.4,838.1 L199,838.1 L198.5,838.2 L198.1,838.3 L197.7,838.3 L197.2,838.4 L196.8,838.5 L196.4,838.5 L196,838.6 L195.5,838.6 L195.1,838.7 L194.7,838.8 L194.2,838.8 L193.8,838.9 L193.4,839 L192.9,839 L192.5,839.1 L192.1,839.1 L191.7,839.2 L191.2,839.3 L190.8,839.3 L190.4,839.4 L189.9,839.5 L189.5,839.5 L189.1,839.6 L188.7,839.7 L188.2,839.7 L187.8,839.8 L187.4,839.9 L186.9,839.9 L186.5,840 L186.1,840.1 L185.6,840.1 L185.2,840.2 L184.8,840.3 L184.4,840.3 L183.9,840.4 L183.5,840.4 L183.1,840.5 L182.6,840.6 L182.2,840.6 L181.8,840.7 L181.4,840.8 L180.9,840.8 L180.5,840.9 L180.1,841 L179.6,841 L179.2,841.1 L178.8,841.2 L178.3,841.2 L177.9,841.3 L177.5,841.4 L177.1,841.4 L176.6,841.5 L176.2,841.6 L175.8,841.6 L175.3,841.7 L174.9,841.8 L174.5,841.8 L174.1,841.9 L173.6,842 L173.2,842 L172.8,842.1 L172.3,842.2 L171.9,842.2 L171.5,842.3 L171,842.4 L170.6,842.4 L170.2,842.5 L169.8,842.6 L169.3,842.6 L168.9,842.7 L168.5,842.8 L168,842.9 L167.6,842.9 L167.2,843 L166.8,843.1 L166.3,843.2 L165.9,843.2 L165.5,843.3 L165,843.4 L164.6,843.5 L164.2,843.6 L163.7,843.6 L163.3,843.7 L162.9,843.8 L162.5,843.9 L162,844 L161.6,844.1 L161.2,844.2 L160.7,844.3 L160.3,844.4 L159.9,844.5 L159.5,844.6 L159,844.7 L158.6,844.8 L158.2,845 L157.7,845.1 L157.3,845.2 L156.9,845.3 L156.4,845.5 L156,845.6 L155.6,845.8 L155.2,845.9 L154.7,846.1 L154.3,846.3 L153.9,846.5 L153.4,846.7 L153,847 L152.6,847.2 L152.2,847.5 L151.7,847.8 L151.3,848.1 L150.9,848.5 L150.4,848.9 L150,849.3 L149.6,849.7 L149.2,850.1 L148.7,850.5 L148.3,851 L147.9,851.3 L147.4,851.7 L147,852 L146.6,852.4 L146.1,852.8 L145.7,853.1 L145.3,853.5 L144.9,853.8 L144.4,854.2 L144,854.5 L143.6,854.8 L143.1,855.2 L142.7,855.5 L142.3,855.8 L141.9,856.1 L141.4,856.4 L141,856.6 L140.6,856.9 L140.1,857.1 L139.7,857.4 L139.3,857.6 L138.8,857.8 L138.4,858.1 L138,858.3 L137.6,858.5 L137.1,858.7 L136.7,859 L136.3,859.2 L135.8,859.4 L135.4,859.6 L135,859.7 L134.6,859.9 L134.1,860.1 L133.7,860.2 L133.3,860.3 L132.8,860.5 L132.4,860.6 L132,860.7 L131.5,860.8 L131.1,860.9 L130.7,860.9 L130.3,861 L129.8,861.1 L129.4,861.2 L129,861.3 L128.5,861.4 L128.1,861.5 L127.7,861.6 L127.3,861.6 L126.8,861.7 L126.4,861.8 L126,861.9 L125.5,862 L125.1,862.1 L124.7,862.1 L124.2,862.2 L123.8,862.3 L123.4,862.4 L123,862.4 L122.5,862.5 L122.1,862.6 L121.7,862.6 L121.2,862.7 L120.8,862.7 L120.4,862.8 L120,862.9 L119.5,862.9 L119.1,863 L118.7,863 L118.2,863 L117.8,863.1 L117.4,863.1 L116.9,863.2 L116.5,863.2 L116.1,863.2 L115.7,863.2 L115.2,863.2 L114.8,863.3 L114.4,863.3 L113.9,863.3 L113.5,863.3 L113.1,863.3 L112.7,863.3 L112.2,863.3 L111.8,863.3 L111.4,863.3 L110.9,863.3 L110.5,863.4 L110.1,863.4 L109.6,863.4 L109.2,863.4 L108.8,863.4 L108.4,863.4 L107.9,863.4 L107.5,863.4 L107.1,863.4 L106.6,863.5 L106.2,863.5 L105.8,863.5 L105.4,863.5 L104.9,863.5 L104.5,863.5 L104.1,863.5 L103.6,863.5 L103.2,863.5 L102.8,863.5 L102.3,863.6 L101.9,863.6 L101.5,863.6 L101.1,863.6 L100.6,863.6 L100.2,863.6 L99.8,863.6 L99.3,863.6 L98.9,863.6 L98.5,863.6 L98.1,863.6 L97.6,863.7 L97.2,863.7 L96.8,863.7 L96.3,863.7 L95.9,863.7 L95.5,863.7 L95,863.7 L94.6,863.7 L94.2,863.7 L93.8,863.7 L93.3,863.7 L92.9,863.8 L92.5,863.8 L92,863.8 L91.6,863.8 L91.2,863.8 L90.8,863.8 L90.3,863.8 L89.9,863.8 L89.5,863.8 L89,863.8 L88.6,863.8 L88.2,863.8 L87.7,863.8 L87.3,863.8 L86.9,863.8 L86.5,863.8 L86,863.9 L85.6,863.9 L85.2,863.9 L84.7,863.9 L84.3,863.9 L83.9,863.9 L83.5,863.9 L83,863.9 L82.6,863.9 L82.2,863.9 L81.7,863.9 L81.3,863.9 L80.9,863.9 L80.5,863.9 L80,863.9 L79.6,863.9 L79.2,863.9 L78.7,863.9 L78.3,863.9 L77.9,863.9 L77.4,863.9 L77,863.9 L76.6,863.9 L76.2,863.9 L75.7,863.9 L75.3,863.9 L74.9,863.9 L74.4,863.9 L74,864 L73.6,864 L73.2,864 L72.7,864 L72.3,864 L71.9,864 L71.4,864 L71,864 L70.6,864 L70.1,864 L69.7,864 L69.3,864 L68.9,864 L68.4,864 L68,864 L67.6,864 L67.1,864 L66.7,864 L66.3,864 L65.9,864 L65.4,864 L65,864 L64.6,864 L64.1,864 L63.7,864 L63.3,864 L62.8,864 L62.4,864 L62,864 L61.6,864 L61.1,864 L60.7,864 L60.3,864 L59.8,864.1 L59.4,864.1 L59,864.1 L58.6,864.1 L58.1,864.1 L57.7,864.1 L57.3,864.1 L56.8,864.1 L56.4,864.1 L56,864.1 L55.5,864.1 L55.1,864.1 L54.7,864.1 L54.3,864.1 L53.8,864.1 L53.4,864.1 L53,864.1 L52.5,864.1 L52.1,864.1 L51.7,864.1 L51.3,864.1 L50.8,864.1 L50.4,864.1 L50,864.1 L49.5,864.1 L49.1,864.1 L48.7,864.1 L48.2,864.1 L47.8,864.1 L47.4,864.1 L47,864.1 L46.5,864.1 L46.1,864.1" fill="none" stroke="#e6a21a" stroke-width="1.35" stroke-linejoin="round"/>
<path d="M46.1,858.2 L46.5,858 L47,857.8 L47.4,857.6 L47.8,857.4 L48.2,857.1 L48.7,856.9 L49.1,856.7 L49.5,856.5 L50,856.3 L50.4,856.1 L50.8,855.9 L51.3,855.7 L51.7,855.5 L52.1,855.4 L52.5,855.2 L53,855 L53.4,854.8 L53.8,854.6 L54.3,854.5 L54.7,854.3 L55.1,854.1 L55.5,854 L56,853.8 L56.4,853.6 L56.8,853.5 L57.3,853.3 L57.7,853.2 L58.1,853 L58.6,852.9 L59,852.7 L59.4,852.6 L59.8,852.4 L60.3,852.3 L60.7,852.1 L61.1,852 L61.6,851.9 L62,851.7 L62.4,851.6 L62.8,851.5 L63.3,851.4 L63.7,851.3 L64.1,851.2 L64.6,851.1 L65,851 L65.4,850.9 L65.9,850.8 L66.3,850.7 L66.7,850.6 L67.1,850.5 L67.6,850.5 L68,850.4 L68.4,850.3 L68.9,850.2 L69.3,850.1 L69.7,850 L70.1,849.9 L70.6,849.8 L71,849.7 L71.4,849.7 L71.9,849.6 L72.3,849.5 L72.7,849.4 L73.2,849.3 L73.6,849.3 L74,849.2 L74.4,849.1 L74.9,849 L75.3,849 L75.7,848.9 L76.2,848.8 L76.6,848.8 L77,848.7 L77.4,848.6 L77.9,848.6 L78.3,848.5 L78.7,848.4 L79.2,848.4 L79.6,848.3 L80,848.3 L80.5,848.2 L80.9,848.2 L81.3,848.1 L81.7,848.1 L82.2,848.1 L82.6,848 L83,848 L83.5,847.9 L83.9,847.9 L84.3,847.8 L84.7,847.8 L85.2,847.7 L85.6,847.7 L86,847.7 L86.5,847.6 L86.9,847.6 L87.3,847.5 L87.7,847.5 L88.2,847.4 L88.6,847.4 L89,847.4 L89.5,847.3 L89.9,847.3 L90.3,847.2 L90.8,847.2 L91.2,847.2 L91.6,847.1 L92,847.1 L92.5,847.1 L92.9,847 L93.3,847 L93.8,847 L94.2,846.9 L94.6,846.9 L95,846.8 L95.5,846.8 L95.9,846.8 L96.3,846.7 L96.8,846.7 L97.2,846.7 L97.6,846.6 L98.1,846.6 L98.5,846.6 L98.9,846.5 L99.3,846.5 L99.8,846.5 L100.2,846.4 L100.6,846.4 L101.1,846.4 L101.5,846.3 L101.9,846.3 L102.3,846.3 L102.8,846.3 L103.2,846.2 L103.6,846.2 L104.1,846.2 L104.5,846.1 L104.9,846.1 L105.4,846.1 L105.8,846.1 L106.2,846 L106.6,846 L107.1,846 L107.5,845.9 L107.9,845.9 L108.4,845.9 L108.8,845.9 L109.2,845.8 L109.6,845.8 L110.1,845.8 L110.5,845.7 L110.9,845.7 L111.4,845.7 L111.8,845.7 L112.2,845.6 L112.7,845.6 L113.1,845.6 L113.5,845.6 L113.9,845.5 L114.4,845.5 L114.8,845.5 L115.2,845.4 L115.7,845.4 L116.1,845.4 L116.5,845.4 L116.9,845.3 L117.4,845.3 L117.8,845.3 L118.2,845.3 L118.7,845.2 L119.1,845.2 L119.5,845.2 L120,845.1 L120.4,845.1 L120.8,845.1 L121.2,845.1 L121.7,845 L122.1,845 L122.5,845 L123,844.9 L123.4,844.9 L123.8,844.9 L124.2,844.9 L124.7,844.8 L125.1,844.8 L125.5,844.8 L126,844.7 L126.4,844.7 L126.8,844.7 L127.3,844.6 L127.7,844.6 L128.1,844.5 L128.5,844.5 L129,844.4 L129.4,844.4 L129.8,844.3 L130.3,844.3 L130.7,844.2 L131.1,844.2 L131.5,844.1 L132,844 L132.4,844 L132.8,843.9 L133.3,843.8 L133.7,843.8 L134.1,843.7 L134.6,843.7 L135,843.6 L135.4,843.5 L135.8,843.4 L136.3,843.4 L136.7,843.3 L137.1,843.2 L137.6,843.2 L138,843.1 L138.4,843 L138.8,843 L139.3,842.9 L139.7,842.8 L140.1,842.8 L140.6,842.6 L141,842.5 L141.4,842.3 L141.9,842 L142.3,841.7 L142.7,841.4 L143.1,841 L143.6,840.5 L144,840 L144.4,839.5 L144.9,838.9 L145.3,838.3 L145.7,837.7 L146.1,837 L146.6,836.3 L147,835.5 L147.4,834.7 L147.9,833.8 L148.3,832.6 L148.7,831.2 L149.2,829.6 L149.6,827.8 L150,825.8 L150.4,823.7 L150.9,821.5 L151.3,819.2 L151.7,816.9 L152.2,814.6 L152.6,812.4 L153,810.2 L153.4,808.1 L153.9,806 L154.3,803.9 L154.7,801.9 L155.2,799.9 L155.6,798 L156,796 L156.4,794.2 L156.9,792.5 L157.3,791.1 L157.7,789.9 L158.2,788.7 L158.6,787.8 L159,787 L159.5,786.5 L159.9,786.1 L160.3,785.9 L160.7,785.7 L161.2,785.6 L161.6,785.7 L162,786 L162.5,786.4 L162.9,786.9 L163.3,787.5 L163.7,788.1 L164.2,788.7 L164.6,789.4 L165,790.1 L165.5,790.8 L165.9,791.5 L166.3,792.2 L166.8,792.9 L167.2,793.6 L167.6,794.4 L168,795.2 L168.5,796 L168.9,796.8 L169.3,797.6 L169.8,798.3 L170.2,799 L170.6,799.7 L171,800.3 L171.5,800.9 L171.9,801.4 L172.3,802 L172.8,802.6 L173.2,803.1 L173.6,803.6 L174.1,804.1 L174.5,804.6 L174.9,805 L175.3,805.5 L175.8,805.9 L176.2,806.3 L176.6,806.6 L177.1,806.9 L177.5,807.2 L177.9,807.5 L178.3,807.7 L178.8,808 L179.2,808.2 L179.6,808.5 L180.1,808.8 L180.5,809 L180.9,809.2 L181.4,809.5 L181.8,809.7 L182.2,809.9 L182.6,810.1 L183.1,810.3 L183.5,810.5 L183.9,810.7 L184.4,810.9 L184.8,811 L185.2,811.2 L185.6,811.3 L186.1,811.4 L186.5,811.5 L186.9,811.6 L187.4,811.7 L187.8,811.8 L188.2,811.9 L188.7,812 L189.1,812.1 L189.5,812.1 L189.9,812.2 L190.4,812.3 L190.8,812.4 L191.2,812.5 L191.7,812.6 L192.1,812.6 L192.5,812.7 L192.9,812.8 L193.4,812.9 L193.8,812.9 L194.2,813 L194.7,813.1 L195.1,813.2 L195.5,813.2 L196,813.3 L196.4,813.4 L196.8,813.5 L197.2,813.5 L197.7,813.6 L198.1,813.7 L198.5,813.8 L199,813.8 L199.4,813.9 L199.8,814 L200.2,814 L200.7,814.1 L201.1,814.2 L201.5,814.3 L202,814.4 L202.4,814.4 L202.8,814.5 L203.3,814.6 L203.7,814.7 L204.1,814.7 L204.5,814.8 L205,814.9 L205.4,815 L205.8,815.1 L206.3,815.1 L206.7,815.2 L207.1,815.3 L207.5,815.4 L208,815.5 L208.4,815.5 L208.8,815.6 L209.3,815.7 L209.7,815.8 L210.1,815.9 L210.6,815.9 L211,816 L211.4,816.1 L211.8,816.2 L212.3,816.3 L212.7,816.3 L213.1,816.4 L213.6,816.5 L214,816.5 L214.4,816.6 L214.8,816.7 L215.3,816.8 L215.7,816.8 L216.1,816.9 L216.6,817 L217,817 L217.4,817.1 L217.8,817.1 L218.3,817.2 L218.7,817.3 L219.1,817.3 L219.6,817.4 L220,817.4 L220.4,817.5 L220.9,817.5 L221.3,817.6 L221.7,817.6 L222.1,817.6 L222.6,817.7 L223,817.7 L223.4,817.8 L223.9,817.8 L224.3,817.8 L224.7,817.9 L225.1,817.9 L225.6,817.9 L226,818 L226.4,818 L226.9,818 L227.3,818.1 L227.7,818.1 L228.2,818.1 L228.6,818.2 L229,818.2 L229.4,818.2 L229.9,818.3 L230.3,818.3 L230.7,818.3 L231.2,818.4 L231.6,818.4 L232,818.4 L232.4,818.4 L232.9,818.5 L233.3,818.5 L233.7,818.5 L234.2,818.5 L234.6,818.5 L235,818.6 L235.5,818.6 L235.9,818.6 L236.3,818.6 L236.7,818.6 L237.2,818.6 L237.6,818.7 L238,818.7 L238.5,818.7 L238.9,818.7 L239.3,818.7 L239.7,818.7 L240.2,818.7 L240.6,818.7 L241,818.8 L241.5,818.8 L241.9,818.8 L242.3,818.8 L242.8,818.8 L243.2,818.8 L243.6,818.8 L244,818.8 L244.5,818.9 L244.9,818.9 L245.3,818.9 L245.8,818.9 L246.2,818.9 L246.6,818.9 L247,818.9 L247.5,818.9 L247.9,818.9 L248.3,818.9 L248.8,818.9 L249.2,818.9 L249.6,818.9 L250.1,818.9 L250.5,819 L250.9,819 L251.3,819 L251.8,819 L252.2,819 L252.2,819 L251.8,819.5 L251.3,820.1 L250.9,820.7 L250.5,821.2 L250.1,821.8 L249.6,822.3 L249.2,822.7 L248.8,823.1 L248.3,823.5 L247.9,823.8 L247.5,824.1 L247,824.4 L246.6,824.7 L246.2,824.9 L245.8,825.2 L245.3,825.4 L244.9,825.7 L244.5,825.9 L244,826.2 L243.6,826.4 L243.2,826.6 L242.8,826.8 L242.3,827 L241.9,827.2 L241.5,827.4 L241,827.6 L240.6,827.7 L240.2,827.9 L239.7,828 L239.3,828.2 L238.9,828.3 L238.5,828.5 L238,828.6 L237.6,828.7 L237.2,828.9 L236.7,829 L236.3,829.1 L235.9,829.3 L235.5,829.4 L235,829.6 L234.6,829.7 L234.2,829.8 L233.7,830 L233.3,830.1 L232.9,830.2 L232.4,830.4 L232,830.5 L231.6,830.6 L231.2,830.8 L230.7,830.9 L230.3,831 L229.9,831.1 L229.4,831.3 L229,831.4 L228.6,831.5 L228.2,831.7 L227.7,831.8 L227.3,831.9 L226.9,832 L226.4,832.1 L226,832.3 L225.6,832.4 L225.1,832.5 L224.7,832.6 L224.3,832.7 L223.9,832.8 L223.4,832.9 L223,833.1 L222.6,833.2 L222.1,833.3 L221.7,833.4 L221.3,833.5 L220.9,833.6 L220.4,833.7 L220,833.8 L219.6,833.9 L219.1,834 L218.7,834.1 L218.3,834.2 L217.8,834.2 L217.4,834.3 L217,834.4 L216.6,834.5 L216.1,834.6 L215.7,834.6 L215.3,834.7 L214.8,834.8 L214.4,834.9 L214,835 L213.6,835 L213.1,835.1 L212.7,835.2 L212.3,835.3 L211.8,835.3 L211.4,835.4 L211,835.5 L210.6,835.5 L210.1,835.6 L209.7,835.7 L209.3,835.7 L208.8,835.8 L208.4,835.9 L208,835.9 L207.5,836 L207.1,836.1 L206.7,836.1 L206.3,836.2 L205.8,836.3 L205.4,836.3 L205,836.4 L204.5,836.5 L204.1,836.5 L203.7,836.6 L203.3,836.7 L202.8,836.7 L202.4,836.8 L202,836.9 L201.5,836.9 L201.1,837 L200.7,837.1 L200.2,837.1 L199.8,837.2 L199.4,837.2 L199,837.3 L198.5,837.4 L198.1,837.4 L197.7,837.5 L197.2,837.6 L196.8,837.6 L196.4,837.7 L196,837.7 L195.5,837.8 L195.1,837.9 L194.7,837.9 L194.2,838 L193.8,838.1 L193.4,838.1 L192.9,838.2 L192.5,838.3 L192.1,838.3 L191.7,838.4 L191.2,838.4 L190.8,838.5 L190.4,838.6 L189.9,838.6 L189.5,838.7 L189.1,838.8 L188.7,838.8 L188.2,838.9 L187.8,839 L187.4,839 L186.9,839.1 L186.5,839.2 L186.1,839.3 L185.6,839.3 L185.2,839.4 L184.8,839.5 L184.4,839.5 L183.9,839.6 L183.5,839.7 L183.1,839.7 L182.6,839.8 L182.2,839.9 L181.8,840 L181.4,840 L180.9,840.1 L180.5,840.2 L180.1,840.2 L179.6,840.3 L179.2,840.4 L178.8,840.5 L178.3,840.5 L177.9,840.6 L177.5,840.7 L177.1,840.8 L176.6,840.8 L176.2,840.9 L175.8,841 L175.3,841 L174.9,841.1 L174.5,841.2 L174.1,841.3 L173.6,841.3 L173.2,841.4 L172.8,841.5 L172.3,841.6 L171.9,841.6 L171.5,841.7 L171,841.8 L170.6,841.9 L170.2,842 L169.8,842 L169.3,842.1 L168.9,842.2 L168.5,842.3 L168,842.4 L167.6,842.4 L167.2,842.5 L166.8,842.6 L166.3,842.7 L165.9,842.8 L165.5,842.9 L165,842.9 L164.6,843 L164.2,843.1 L163.7,843.2 L163.3,843.3 L162.9,843.4 L162.5,843.5 L162,843.7 L161.6,843.8 L161.2,843.9 L160.7,844 L160.3,844.1 L159.9,844.2 L159.5,844.4 L159,844.5 L158.6,844.6 L158.2,844.7 L157.7,844.8 L157.3,845 L156.9,845.1 L156.4,845.3 L156,845.4 L155.6,845.6 L155.2,845.8 L154.7,846 L154.3,846.2 L153.9,846.4 L153.4,846.7 L153,846.9 L152.6,847.2 L152.2,847.5 L151.7,847.8 L151.3,848.2 L150.9,848.6 L150.4,849 L150,849.5 L149.6,849.9 L149.2,850.4 L148.7,850.8 L148.3,851.3 L147.9,851.7 L147.4,852.1 L147,852.5 L146.6,852.9 L146.1,853.3 L145.7,853.7 L145.3,854 L144.9,854.4 L144.4,854.8 L144,855.2 L143.6,855.6 L143.1,855.9 L142.7,856.3 L142.3,856.6 L141.9,857 L141.4,857.3 L141,857.6 L140.6,857.8 L140.1,858.1 L139.7,858.4 L139.3,858.6 L138.8,858.9 L138.4,859.1 L138,859.4 L137.6,859.6 L137.1,859.8 L136.7,860.1 L136.3,860.3 L135.8,860.5 L135.4,860.7 L135,860.9 L134.6,861.1 L134.1,861.2 L133.7,861.4 L133.3,861.5 L132.8,861.7 L132.4,861.8 L132,861.9 L131.5,862 L131.1,862.1 L130.7,862.1 L130.3,862.2 L129.8,862.3 L129.4,862.4 L129,862.5 L128.5,862.6 L128.1,862.7 L127.7,862.8 L127.3,862.9 L126.8,863 L126.4,863.1 L126,863.1 L125.5,863.2 L125.1,863.3 L124.7,863.4 L124.2,863.5 L123.8,863.5 L123.4,863.6 L123,863.7 L122.5,863.8 L122.1,863.8 L121.7,863.9 L121.2,864 L120.8,864 L120.4,864.1 L120,864.1 L119.5,864.2 L119.1,864.3 L118.7,864.3 L118.2,864.3 L117.8,864.4 L117.4,864.4 L116.9,864.5 L116.5,864.5 L116.1,864.5 L115.7,864.5 L115.2,864.6 L114.8,864.6 L114.4,864.6 L113.9,864.6 L113.5,864.6 L113.1,864.6 L112.7,864.6 L112.2,864.7 L111.8,864.7 L111.4,864.7 L110.9,864.7 L110.5,864.7 L110.1,864.7 L109.6,864.7 L109.2,864.7 L108.8,864.8 L108.4,864.8 L107.9,864.8 L107.5,864.8 L107.1,864.8 L106.6,864.8 L106.2,864.8 L105.8,864.8 L105.4,864.8 L104.9,864.9 L104.5,864.9 L104.1,864.9 L103.6,864.9 L103.2,864.9 L102.8,864.9 L102.3,864.9 L101.9,864.9 L101.5,864.9 L101.1,865 L100.6,865 L100.2,865 L99.8,865 L99.3,865 L98.9,865 L98.5,865 L98.1,865 L97.6,865 L97.2,865.1 L96.8,865.1 L96.3,865.1 L95.9,865.1 L95.5,865.1 L95,865.1 L94.6,865.1 L94.2,865.1 L93.8,865.1 L93.3,865.1 L92.9,865.2 L92.5,865.2 L92,865.2 L91.6,865.2 L91.2,865.2 L90.8,865.2 L90.3,865.2 L89.9,865.2 L89.5,865.2 L89,865.2 L88.6,865.3 L88.2,865.3 L87.7,865.3 L87.3,865.3 L86.9,865.3 L86.5,865.3 L86,865.3 L85.6,865.3 L85.2,865.3 L84.7,865.3 L84.3,865.3 L83.9,865.4 L83.5,865.4 L83,865.4 L82.6,865.4 L82.2,865.4 L81.7,865.4 L81.3,865.4 L80.9,865.4 L80.5,865.4 L80,865.4 L79.6,865.4 L79.2,865.4 L78.7,865.5 L78.3,865.5 L77.9,865.5 L77.4,865.5 L77,865.5 L76.6,865.5 L76.2,865.5 L75.7,865.5 L75.3,865.5 L74.9,865.5 L74.4,865.5 L74,865.5 L73.6,865.6 L73.2,865.6 L72.7,865.6 L72.3,865.6 L71.9,865.6 L71.4,865.6 L71,865.6 L70.6,865.6 L70.1,865.6 L69.7,865.6 L69.3,865.6 L68.9,865.6 L68.4,865.7 L68,865.7 L67.6,865.7 L67.1,865.7 L66.7,865.7 L66.3,865.7 L65.9,865.7 L65.4,865.7 L65,865.7 L64.6,865.7 L64.1,865.7 L63.7,865.8 L63.3,865.8 L62.8,865.8 L62.4,865.8 L62,865.8 L61.6,865.8 L61.1,865.8 L60.7,865.8 L60.3,865.8 L59.8,865.8 L59.4,865.8 L59,865.8 L58.6,865.9 L58.1,865.9 L57.7,865.9 L57.3,865.9 L56.8,865.9 L56.4,865.9 L56,865.9 L55.5,865.9 L55.1,865.9 L54.7,865.9 L54.3,865.9 L53.8,865.9 L53.4,865.9 L53,866 L52.5,866 L52.1,866 L51.7,866 L51.3,866 L50.8,866 L50.4,866 L50,866 L49.5,866 L49.1,866 L48.7,866 L48.2,866 L47.8,866 L47.4,866 L47,866.1 L46.5,866.1 L46.1,866.1" fill="none" stroke="#c77cf2" stroke-width="1.35" stroke-linejoin="round"/>
<path d="M46.1,858.2 L46.5,858 L47,857.8 L47.4,857.5 L47.8,857.3 L48.2,857.1 L48.7,856.9 L49.1,856.7 L49.5,856.5 L50,856.3 L50.4,856.1 L50.8,855.9 L51.3,855.7 L51.7,855.5 L52.1,855.3 L52.5,855.1 L53,854.9 L53.4,854.7 L53.8,854.5 L54.3,854.4 L54.7,854.2 L55.1,854 L55.5,853.8 L56,853.7 L56.4,853.5 L56.8,853.3 L57.3,853.1 L57.7,853 L58.1,852.8 L58.6,852.7 L59,852.5 L59.4,852.3 L59.8,852.2 L60.3,852 L60.7,851.9 L61.1,851.7 L61.6,851.6 L62,851.5 L62.4,851.4 L62.8,851.3 L63.3,851.1 L63.7,851 L64.1,850.9 L64.6,850.8 L65,850.7 L65.4,850.6 L65.9,850.5 L66.3,850.4 L66.7,850.3 L67.1,850.2 L67.6,850.2 L68,850.1 L68.4,850 L68.9,849.9 L69.3,849.8 L69.7,849.7 L70.1,849.6 L70.6,849.5 L71,849.4 L71.4,849.3 L71.9,849.3 L72.3,849.2 L72.7,849.1 L73.2,849 L73.6,848.9 L74,848.8 L74.4,848.8 L74.9,848.7 L75.3,848.6 L75.7,848.6 L76.2,848.5 L76.6,848.4 L77,848.3 L77.4,848.3 L77.9,848.2 L78.3,848.2 L78.7,848.1 L79.2,848 L79.6,848 L80,847.9 L80.5,847.9 L80.9,847.8 L81.3,847.8 L81.7,847.7 L82.2,847.7 L82.6,847.6 L83,847.6 L83.5,847.5 L83.9,847.5 L84.3,847.4 L84.7,847.4 L85.2,847.3 L85.6,847.3 L86,847.2 L86.5,847.2 L86.9,847.1 L87.3,847.1 L87.7,847.1 L88.2,847 L88.6,847 L89,846.9 L89.5,846.9 L89.9,846.8 L90.3,846.8 L90.8,846.8 L91.2,846.7 L91.6,846.7 L92,846.6 L92.5,846.6 L92.9,846.6 L93.3,846.5 L93.8,846.5 L94.2,846.4 L94.6,846.4 L95,846.4 L95.5,846.3 L95.9,846.3 L96.3,846.2 L96.8,846.2 L97.2,846.2 L97.6,846.1 L98.1,846.1 L98.5,846.1 L98.9,846 L99.3,846 L99.8,845.9 L100.2,845.9 L100.6,845.9 L101.1,845.8 L101.5,845.8 L101.9,845.8 L102.3,845.7 L102.8,845.7 L103.2,845.7 L103.6,845.6 L104.1,845.6 L104.5,845.6 L104.9,845.5 L105.4,845.5 L105.8,845.5 L106.2,845.4 L106.6,845.4 L107.1,845.4 L107.5,845.3 L107.9,845.3 L108.4,845.3 L108.8,845.2 L109.2,845.2 L109.6,845.2 L110.1,845.2 L110.5,845.1 L110.9,845.1 L111.4,845.1 L111.8,845 L112.2,845 L112.7,845 L113.1,844.9 L113.5,844.9 L113.9,844.9 L114.4,844.8 L114.8,844.8 L115.2,844.8 L115.7,844.8 L116.1,844.7 L116.5,844.7 L116.9,844.7 L117.4,844.6 L117.8,844.6 L118.2,844.6 L118.7,844.5 L119.1,844.5 L119.5,844.5 L120,844.4 L120.4,844.4 L120.8,844.4 L121.2,844.3 L121.7,844.3 L122.1,844.3 L122.5,844.2 L123,844.2 L123.4,844.2 L123.8,844.1 L124.2,844.1 L124.7,844.1 L125.1,844 L125.5,844 L126,844 L126.4,843.9 L126.8,843.9 L127.3,843.9 L127.7,843.8 L128.1,843.8 L128.5,843.7 L129,843.7 L129.4,843.6 L129.8,843.6 L130.3,843.5 L130.7,843.5 L131.1,843.4 L131.5,843.4 L132,843.3 L132.4,843.2 L132.8,843.2 L133.3,843.1 L133.7,843.1 L134.1,843 L134.6,843 L135,842.9 L135.4,842.8 L135.8,842.8 L136.3,842.7 L136.7,842.6 L137.1,842.6 L137.6,842.5 L138,842.5 L138.4,842.4 L138.8,842.3 L139.3,842.3 L139.7,842.2 L140.1,842.1 L140.6,842 L141,841.9 L141.4,841.7 L141.9,841.4 L142.3,841.1 L142.7,840.8 L143.1,840.4 L143.6,840 L144,839.5 L144.4,838.9 L144.9,838.4 L145.3,837.7 L145.7,837.1 L146.1,836.4 L146.6,835.6 L147,834.8 L147.4,834 L147.9,833 L148.3,831.8 L148.7,830.2 L149.2,828.4 L149.6,826.4 L150,824.2 L150.4,821.8 L150.9,819.3 L151.3,816.8 L151.7,814.2 L152.2,811.6 L152.6,809.1 L153,806.6 L153.4,804.3 L153.9,802 L154.3,799.8 L154.7,797.5 L155.2,795.3 L155.6,793.1 L156,790.9 L156.4,788.8 L156.9,786.8 L157.3,785.1 L157.7,783.5 L158.2,782.1 L158.6,780.8 L159,779.7 L159.5,778.9 L159.9,778.3 L160.3,777.8 L160.7,777.4 L161.2,777.2 L161.6,777.2 L162,777.5 L162.5,777.9 L162.9,778.4 L163.3,779 L163.7,779.7 L164.2,780.4 L164.6,781.2 L165,782 L165.5,782.8 L165.9,783.6 L166.3,784.4 L166.8,785.2 L167.2,786.1 L167.6,787 L168,787.9 L168.5,788.9 L168.9,789.8 L169.3,790.7 L169.8,791.6 L170.2,792.5 L170.6,793.3 L171,794 L171.5,794.6 L171.9,795.3 L172.3,795.9 L172.8,796.6 L173.2,797.2 L173.6,797.8 L174.1,798.4 L174.5,798.9 L174.9,799.5 L175.3,800 L175.8,800.4 L176.2,800.9 L176.6,801.3 L177.1,801.7 L177.5,802 L177.9,802.3 L178.3,802.6 L178.8,802.9 L179.2,803.2 L179.6,803.6 L180.1,803.9 L180.5,804.2 L180.9,804.4 L181.4,804.7 L181.8,805 L182.2,805.3 L182.6,805.5 L183.1,805.8 L183.5,806 L183.9,806.2 L184.4,806.4 L184.8,806.6 L185.2,806.8 L185.6,806.9 L186.1,807.1 L186.5,807.2 L186.9,807.3 L187.4,807.4 L187.8,807.5 L188.2,807.6 L188.7,807.8 L189.1,807.9 L189.5,808 L189.9,808.1 L190.4,808.2 L190.8,808.3 L191.2,808.4 L191.7,808.5 L192.1,808.6 L192.5,808.7 L192.9,808.8 L193.4,808.9 L193.8,809 L194.2,809 L194.7,809.1 L195.1,809.2 L195.5,809.3 L196,809.4 L196.4,809.5 L196.8,809.6 L197.2,809.7 L197.7,809.8 L198.1,809.9 L198.5,809.9 L199,810 L199.4,810.1 L199.8,810.2 L200.2,810.3 L200.7,810.4 L201.1,810.5 L201.5,810.5 L202,810.6 L202.4,810.7 L202.8,810.8 L203.3,810.9 L203.7,811 L204.1,811.1 L204.5,811.2 L205,811.3 L205.4,811.4 L205.8,811.5 L206.3,811.6 L206.7,811.7 L207.1,811.8 L207.5,811.8 L208,811.9 L208.4,812 L208.8,812.1 L209.3,812.2 L209.7,812.3 L210.1,812.4 L210.6,812.5 L211,812.6 L211.4,812.7 L211.8,812.8 L212.3,812.9 L212.7,812.9 L213.1,813 L213.6,813.1 L214,813.2 L214.4,813.3 L214.8,813.4 L215.3,813.4 L215.7,813.5 L216.1,813.6 L216.6,813.7 L217,813.7 L217.4,813.8 L217.8,813.9 L218.3,813.9 L218.7,814 L219.1,814.1 L219.6,814.1 L220,814.2 L220.4,814.2 L220.9,814.3 L221.3,814.3 L221.7,814.4 L222.1,814.4 L222.6,814.5 L223,814.5 L223.4,814.6 L223.9,814.6 L224.3,814.7 L224.7,814.7 L225.1,814.7 L225.6,814.8 L226,814.8 L226.4,814.9 L226.9,814.9 L227.3,814.9 L227.7,815 L228.2,815 L228.6,815 L229,815.1 L229.4,815.1 L229.9,815.2 L230.3,815.2 L230.7,815.2 L231.2,815.2 L231.6,815.3 L232,815.3 L232.4,815.3 L232.9,815.4 L233.3,815.4 L233.7,815.4 L234.2,815.4 L234.6,815.5 L235,815.5 L235.5,815.5 L235.9,815.5 L236.3,815.5 L236.7,815.6 L237.2,815.6 L237.6,815.6 L238,815.6 L238.5,815.6 L238.9,815.6 L239.3,815.7 L239.7,815.7 L240.2,815.7 L240.6,815.7 L241,815.7 L241.5,815.7 L241.9,815.7 L242.3,815.8 L242.8,815.8 L243.2,815.8 L243.6,815.8 L244,815.8 L244.5,815.8 L244.9,815.8 L245.3,815.8 L245.8,815.9 L246.2,815.9 L246.6,815.9 L247,815.9 L247.5,815.9 L247.9,815.9 L248.3,815.9 L248.8,815.9 L249.2,815.9 L249.6,815.9 L250.1,815.9 L250.5,815.9 L250.9,815.9 L251.3,815.9 L251.8,815.9 L252.2,815.9 L252.2,815.9 L251.8,816.6 L251.3,817.3 L250.9,817.9 L250.5,818.5 L250.1,819.1 L249.6,819.7 L249.2,820.2 L248.8,820.7 L248.3,821.1 L247.9,821.5 L247.5,821.8 L247,822.1 L246.6,822.4 L246.2,822.7 L245.8,823 L245.3,823.3 L244.9,823.6 L244.5,823.8 L244,824.1 L243.6,824.4 L243.2,824.6 L242.8,824.8 L242.3,825.1 L241.9,825.3 L241.5,825.5 L241,825.7 L240.6,825.9 L240.2,826.1 L239.7,826.2 L239.3,826.4 L238.9,826.5 L238.5,826.7 L238,826.9 L237.6,827 L237.2,827.2 L236.7,827.3 L236.3,827.5 L235.9,827.6 L235.5,827.8 L235,827.9 L234.6,828.1 L234.2,828.3 L233.7,828.4 L233.3,828.6 L232.9,828.7 L232.4,828.9 L232,829 L231.6,829.2 L231.2,829.3 L230.7,829.5 L230.3,829.6 L229.9,829.8 L229.4,829.9 L229,830.1 L228.6,830.2 L228.2,830.3 L227.7,830.5 L227.3,830.6 L226.9,830.8 L226.4,830.9 L226,831 L225.6,831.2 L225.1,831.3 L224.7,831.4 L224.3,831.6 L223.9,831.7 L223.4,831.8 L223,831.9 L222.6,832 L222.1,832.2 L221.7,832.3 L221.3,832.4 L220.9,832.5 L220.4,832.6 L220,832.7 L219.6,832.8 L219.1,832.9 L218.7,833 L218.3,833.1 L217.8,833.2 L217.4,833.3 L217,833.4 L216.6,833.5 L216.1,833.6 L215.7,833.7 L215.3,833.8 L214.8,833.8 L214.4,833.9 L214,834 L213.6,834.1 L213.1,834.1 L212.7,834.2 L212.3,834.3 L211.8,834.4 L211.4,834.4 L211,834.5 L210.6,834.6 L210.1,834.7 L209.7,834.7 L209.3,834.8 L208.8,834.9 L208.4,834.9 L208,835 L207.5,835.1 L207.1,835.1 L206.7,835.2 L206.3,835.3 L205.8,835.3 L205.4,835.4 L205,835.5 L204.5,835.5 L204.1,835.6 L203.7,835.7 L203.3,835.7 L202.8,835.8 L202.4,835.9 L202,835.9 L201.5,836 L201.1,836 L200.7,836.1 L200.2,836.2 L199.8,836.2 L199.4,836.3 L199,836.4 L198.5,836.4 L198.1,836.5 L197.7,836.5 L197.2,836.6 L196.8,836.7 L196.4,836.7 L196,836.8 L195.5,836.9 L195.1,836.9 L194.7,837 L194.2,837 L193.8,837.1 L193.4,837.2 L192.9,837.2 L192.5,837.3 L192.1,837.4 L191.7,837.4 L191.2,837.5 L190.8,837.6 L190.4,837.6 L189.9,837.7 L189.5,837.8 L189.1,837.8 L188.7,837.9 L188.2,838 L187.8,838.1 L187.4,838.1 L186.9,838.2 L186.5,838.3 L186.1,838.3 L185.6,838.4 L185.2,838.5 L184.8,838.6 L184.4,838.6 L183.9,838.7 L183.5,838.8 L183.1,838.9 L182.6,839 L182.2,839 L181.8,839.1 L181.4,839.2 L180.9,839.3 L180.5,839.3 L180.1,839.4 L179.6,839.5 L179.2,839.6 L178.8,839.7 L178.3,839.7 L177.9,839.8 L177.5,839.9 L177.1,840 L176.6,840.1 L176.2,840.1 L175.8,840.2 L175.3,840.3 L174.9,840.4 L174.5,840.5 L174.1,840.6 L173.6,840.6 L173.2,840.7 L172.8,840.8 L172.3,840.9 L171.9,841 L171.5,841.1 L171,841.2 L170.6,841.2 L170.2,841.3 L169.8,841.4 L169.3,841.5 L168.9,841.6 L168.5,841.7 L168,841.8 L167.6,841.9 L167.2,842 L166.8,842.1 L166.3,842.1 L165.9,842.2 L165.5,842.3 L165,842.4 L164.6,842.5 L164.2,842.7 L163.7,842.8 L163.3,842.9 L162.9,843 L162.5,843.1 L162,843.2 L161.6,843.4 L161.2,843.5 L160.7,843.6 L160.3,843.8 L159.9,843.9 L159.5,844 L159,844.2 L158.6,844.3 L158.2,844.5 L157.7,844.6 L157.3,844.7 L156.9,844.9 L156.4,845.1 L156,845.3 L155.6,845.5 L155.2,845.7 L154.7,845.9 L154.3,846.1 L153.9,846.4 L153.4,846.6 L153,846.9 L152.6,847.2 L152.2,847.5 L151.7,847.9 L151.3,848.3 L150.9,848.7 L150.4,849.2 L150,849.7 L149.6,850.2 L149.2,850.7 L148.7,851.2 L148.3,851.7 L147.9,852.1 L147.4,852.6 L147,853 L146.6,853.4 L146.1,853.8 L145.7,854.3 L145.3,854.7 L144.9,855.2 L144.4,855.6 L144,856 L143.6,856.4 L143.1,856.8 L142.7,857.2 L142.3,857.6 L141.9,858 L141.4,858.3 L141,858.6 L140.6,858.9 L140.1,859.2 L139.7,859.5 L139.3,859.8 L138.8,860.1 L138.4,860.3 L138,860.6 L137.6,860.8 L137.1,861.1 L136.7,861.3 L136.3,861.6 L135.8,861.8 L135.4,862 L135,862.2 L134.6,862.4 L134.1,862.6 L133.7,862.7 L133.3,862.9 L132.8,863 L132.4,863.1 L132,863.2 L131.5,863.3 L131.1,863.4 L130.7,863.5 L130.3,863.6 L129.8,863.7 L129.4,863.8 L129,863.9 L128.5,864 L128.1,864.1 L127.7,864.2 L127.3,864.3 L126.8,864.4 L126.4,864.5 L126,864.6 L125.5,864.6 L125.1,864.7 L124.7,864.8 L124.2,864.9 L123.8,865 L123.4,865.1 L123,865.1 L122.5,865.2 L122.1,865.3 L121.7,865.4 L121.2,865.4 L120.8,865.5 L120.4,865.6 L120,865.6 L119.5,865.7 L119.1,865.7 L118.7,865.8 L118.2,865.8 L117.8,865.9 L117.4,865.9 L116.9,866 L116.5,866 L116.1,866 L115.7,866.1 L115.2,866.1 L114.8,866.1 L114.4,866.1 L113.9,866.1 L113.5,866.1 L113.1,866.2 L112.7,866.2 L112.2,866.2 L111.8,866.2 L111.4,866.2 L110.9,866.2 L110.5,866.2 L110.1,866.3 L109.6,866.3 L109.2,866.3 L108.8,866.3 L108.4,866.3 L107.9,866.3 L107.5,866.3 L107.1,866.4 L106.6,866.4 L106.2,866.4 L105.8,866.4 L105.4,866.4 L104.9,866.4 L104.5,866.4 L104.1,866.5 L103.6,866.5 L103.2,866.5 L102.8,866.5 L102.3,866.5 L101.9,866.5 L101.5,866.5 L101.1,866.5 L100.6,866.6 L100.2,866.6 L99.8,866.6 L99.3,866.6 L98.9,866.6 L98.5,866.6 L98.1,866.6 L97.6,866.6 L97.2,866.7 L96.8,866.7 L96.3,866.7 L95.9,866.7 L95.5,866.7 L95,866.7 L94.6,866.7 L94.2,866.7 L93.8,866.8 L93.3,866.8 L92.9,866.8 L92.5,866.8 L92,866.8 L91.6,866.8 L91.2,866.8 L90.8,866.8 L90.3,866.8 L89.9,866.9 L89.5,866.9 L89,866.9 L88.6,866.9 L88.2,866.9 L87.7,866.9 L87.3,866.9 L86.9,867 L86.5,867 L86,867 L85.6,867 L85.2,867 L84.7,867 L84.3,867 L83.9,867 L83.5,867.1 L83,867.1 L82.6,867.1 L82.2,867.1 L81.7,867.1 L81.3,867.1 L80.9,867.1 L80.5,867.2 L80,867.2 L79.6,867.2 L79.2,867.2 L78.7,867.2 L78.3,867.2 L77.9,867.2 L77.4,867.3 L77,867.3 L76.6,867.3 L76.2,867.3 L75.7,867.3 L75.3,867.3 L74.9,867.3 L74.4,867.4 L74,867.4 L73.6,867.4 L73.2,867.4 L72.7,867.4 L72.3,867.4 L71.9,867.4 L71.4,867.5 L71,867.5 L70.6,867.5 L70.1,867.5 L69.7,867.5 L69.3,867.5 L68.9,867.5 L68.4,867.6 L68,867.6 L67.6,867.6 L67.1,867.6 L66.7,867.6 L66.3,867.6 L65.9,867.6 L65.4,867.7 L65,867.7 L64.6,867.7 L64.1,867.7 L63.7,867.7 L63.3,867.7 L62.8,867.7 L62.4,867.8 L62,867.8 L61.6,867.8 L61.1,867.8 L60.7,867.8 L60.3,867.8 L59.8,867.9 L59.4,867.9 L59,867.9 L58.6,867.9 L58.1,867.9 L57.7,867.9 L57.3,867.9 L56.8,868 L56.4,868 L56,868 L55.5,868 L55.1,868 L54.7,868 L54.3,868 L53.8,868.1 L53.4,868.1 L53,868.1 L52.5,868.1 L52.1,868.1 L51.7,868.1 L51.3,868.1 L50.8,868.2 L50.4,868.2 L50,868.2 L49.5,868.2 L49.1,868.2 L48.7,868.2 L48.2,868.3 L47.8,868.3 L47.4,868.3 L47,868.3 L46.5,868.3 L46.1,868.3" fill="none" stroke="#1fa86a" stroke-width="1.35" stroke-linejoin="round"/>
<path d="M46.1,858.2 L46.5,858 L47,857.8 L47.4,857.5 L47.8,857.3 L48.2,857.1 L48.7,856.9 L49.1,856.6 L49.5,856.4 L50,856.2 L50.4,856 L50.8,855.8 L51.3,855.6 L51.7,855.4 L52.1,855.2 L52.5,855 L53,854.8 L53.4,854.6 L53.8,854.4 L54.3,854.2 L54.7,854 L55.1,853.9 L55.5,853.7 L56,853.5 L56.4,853.3 L56.8,853.1 L57.3,852.9 L57.7,852.8 L58.1,852.6 L58.6,852.4 L59,852.3 L59.4,852.1 L59.8,851.9 L60.3,851.8 L60.7,851.6 L61.1,851.5 L61.6,851.3 L62,851.2 L62.4,851.1 L62.8,850.9 L63.3,850.8 L63.7,850.7 L64.1,850.6 L64.6,850.5 L65,850.4 L65.4,850.3 L65.9,850.2 L66.3,850.1 L66.7,850 L67.1,849.9 L67.6,849.8 L68,849.7 L68.4,849.6 L68.9,849.5 L69.3,849.4 L69.7,849.3 L70.1,849.2 L70.6,849.1 L71,849.1 L71.4,849 L71.9,848.9 L72.3,848.8 L72.7,848.7 L73.2,848.6 L73.6,848.6 L74,848.5 L74.4,848.4 L74.9,848.3 L75.3,848.2 L75.7,848.2 L76.2,848.1 L76.6,848 L77,848 L77.4,847.9 L77.9,847.8 L78.3,847.8 L78.7,847.7 L79.2,847.6 L79.6,847.6 L80,847.5 L80.5,847.5 L80.9,847.4 L81.3,847.3 L81.7,847.3 L82.2,847.2 L82.6,847.2 L83,847.1 L83.5,847.1 L83.9,847 L84.3,847 L84.7,846.9 L85.2,846.9 L85.6,846.8 L86,846.8 L86.5,846.7 L86.9,846.7 L87.3,846.6 L87.7,846.6 L88.2,846.5 L88.6,846.5 L89,846.4 L89.5,846.4 L89.9,846.3 L90.3,846.3 L90.8,846.2 L91.2,846.2 L91.6,846.1 L92,846.1 L92.5,846.1 L92.9,846 L93.3,846 L93.8,845.9 L94.2,845.9 L94.6,845.8 L95,845.8 L95.5,845.7 L95.9,845.7 L96.3,845.7 L96.8,845.6 L97.2,845.6 L97.6,845.5 L98.1,845.5 L98.5,845.5 L98.9,845.4 L99.3,845.4 L99.8,845.3 L100.2,845.3 L100.6,845.3 L101.1,845.2 L101.5,845.2 L101.9,845.1 L102.3,845.1 L102.8,845.1 L103.2,845 L103.6,845 L104.1,845 L104.5,844.9 L104.9,844.9 L105.4,844.8 L105.8,844.8 L106.2,844.8 L106.6,844.7 L107.1,844.7 L107.5,844.7 L107.9,844.6 L108.4,844.6 L108.8,844.6 L109.2,844.5 L109.6,844.5 L110.1,844.4 L110.5,844.4 L110.9,844.4 L111.4,844.3 L111.8,844.3 L112.2,844.3 L112.7,844.2 L113.1,844.2 L113.5,844.2 L113.9,844.1 L114.4,844.1 L114.8,844.1 L115.2,844 L115.7,844 L116.1,843.9 L116.5,843.9 L116.9,843.9 L117.4,843.8 L117.8,843.8 L118.2,843.8 L118.7,843.7 L119.1,843.7 L119.5,843.7 L120,843.6 L120.4,843.6 L120.8,843.6 L121.2,843.5 L121.7,843.5 L122.1,843.4 L122.5,843.4 L123,843.4 L123.4,843.3 L123.8,843.3 L124.2,843.3 L124.7,843.2 L125.1,843.2 L125.5,843.1 L126,843.1 L126.4,843.1 L126.8,843 L127.3,843 L127.7,842.9 L128.1,842.9 L128.5,842.9 L129,842.8 L129.4,842.8 L129.8,842.7 L130.3,842.7 L130.7,842.6 L131.1,842.6 L131.5,842.5 L132,842.5 L132.4,842.4 L132.8,842.4 L133.3,842.3 L133.7,842.3 L134.1,842.2 L134.6,842.1 L135,842.1 L135.4,842 L135.8,842 L136.3,841.9 L136.7,841.9 L137.1,841.8 L137.6,841.8 L138,841.7 L138.4,841.6 L138.8,841.6 L139.3,841.5 L139.7,841.5 L140.1,841.4 L140.6,841.3 L141,841.2 L141.4,841 L141.9,840.7 L142.3,840.5 L142.7,840.1 L143.1,839.7 L143.6,839.3 L144,838.8 L144.4,838.3 L144.9,837.7 L145.3,837.1 L145.7,836.4 L146.1,835.6 L146.6,834.9 L147,834 L147.4,833.2 L147.9,832.2 L148.3,830.8 L148.7,829.1 L149.2,827.1 L149.6,824.8 L150,822.3 L150.4,819.6 L150.9,816.8 L151.3,813.9 L151.7,810.9 L152.2,808 L152.6,805.2 L153,802.4 L153.4,799.8 L153.9,797.3 L154.3,794.8 L154.7,792.3 L155.2,789.9 L155.6,787.4 L156,784.9 L156.4,782.5 L156.9,780.1 L157.3,778 L157.7,776.1 L158.2,774.2 L158.6,772.5 L159,771.1 L159.5,770 L159.9,769.1 L160.3,768.3 L160.7,767.7 L161.2,767.2 L161.6,767.1 L162,767.4 L162.5,767.8 L162.9,768.4 L163.3,769.1 L163.7,769.8 L164.2,770.6 L164.6,771.5 L165,772.4 L165.5,773.4 L165.9,774.3 L166.3,775.2 L166.8,776.2 L167.2,777.2 L167.6,778.3 L168,779.4 L168.5,780.5 L168.9,781.6 L169.3,782.7 L169.8,783.8 L170.2,784.8 L170.6,785.7 L171,786.5 L171.5,787.3 L171.9,788.1 L172.3,788.8 L172.8,789.6 L173.2,790.3 L173.6,791 L174.1,791.7 L174.5,792.3 L174.9,793 L175.3,793.6 L175.8,794.1 L176.2,794.6 L176.6,795.1 L177.1,795.5 L177.5,795.9 L177.9,796.3 L178.3,796.7 L178.8,797.1 L179.2,797.5 L179.6,797.8 L180.1,798.2 L180.5,798.5 L180.9,798.9 L181.4,799.2 L181.8,799.6 L182.2,799.9 L182.6,800.2 L183.1,800.5 L183.5,800.8 L183.9,801 L184.4,801.3 L184.8,801.5 L185.2,801.7 L185.6,801.9 L186.1,802.1 L186.5,802.3 L186.9,802.4 L187.4,802.5 L187.8,802.7 L188.2,802.8 L188.7,802.9 L189.1,803.1 L189.5,803.2 L189.9,803.3 L190.4,803.5 L190.8,803.6 L191.2,803.7 L191.7,803.8 L192.1,804 L192.5,804.1 L192.9,804.2 L193.4,804.3 L193.8,804.4 L194.2,804.5 L194.7,804.7 L195.1,804.8 L195.5,804.9 L196,805 L196.4,805.1 L196.8,805.2 L197.2,805.3 L197.7,805.4 L198.1,805.5 L198.5,805.6 L199,805.7 L199.4,805.8 L199.8,805.9 L200.2,806 L200.7,806.1 L201.1,806.2 L201.5,806.3 L202,806.4 L202.4,806.5 L202.8,806.7 L203.3,806.8 L203.7,806.9 L204.1,807 L204.5,807.1 L205,807.2 L205.4,807.3 L205.8,807.4 L206.3,807.5 L206.7,807.6 L207.1,807.7 L207.5,807.8 L208,808 L208.4,808.1 L208.8,808.2 L209.3,808.3 L209.7,808.4 L210.1,808.5 L210.6,808.6 L211,808.7 L211.4,808.8 L211.8,808.9 L212.3,809 L212.7,809.1 L213.1,809.2 L213.6,809.3 L214,809.4 L214.4,809.5 L214.8,809.6 L215.3,809.7 L215.7,809.8 L216.1,809.9 L216.6,809.9 L217,810 L217.4,810.1 L217.8,810.2 L218.3,810.3 L218.7,810.3 L219.1,810.4 L219.6,810.5 L220,810.5 L220.4,810.6 L220.9,810.7 L221.3,810.7 L221.7,810.8 L222.1,810.8 L222.6,810.9 L223,810.9 L223.4,811 L223.9,811 L224.3,811.1 L224.7,811.1 L225.1,811.2 L225.6,811.2 L226,811.3 L226.4,811.3 L226.9,811.3 L227.3,811.4 L227.7,811.4 L228.2,811.5 L228.6,811.5 L229,811.6 L229.4,811.6 L229.9,811.6 L230.3,811.7 L230.7,811.7 L231.2,811.7 L231.6,811.8 L232,811.8 L232.4,811.8 L232.9,811.9 L233.3,811.9 L233.7,811.9 L234.2,812 L234.6,812 L235,812 L235.5,812 L235.9,812.1 L236.3,812.1 L236.7,812.1 L237.2,812.1 L237.6,812.1 L238,812.2 L238.5,812.2 L238.9,812.2 L239.3,812.2 L239.7,812.2 L240.2,812.2 L240.6,812.3 L241,812.3 L241.5,812.3 L241.9,812.3 L242.3,812.3 L242.8,812.3 L243.2,812.3 L243.6,812.4 L244,812.4 L244.5,812.4 L244.9,812.4 L245.3,812.4 L245.8,812.4 L246.2,812.5 L246.6,812.5 L247,812.5 L247.5,812.5 L247.9,812.5 L248.3,812.5 L248.8,812.5 L249.2,812.5 L249.6,812.5 L250.1,812.5 L250.5,812.5 L250.9,812.5 L251.3,812.5 L251.8,812.6 L252.2,812.6 L252.2,812.6 L251.8,813.3 L251.3,814 L250.9,814.8 L250.5,815.5 L250.1,816.2 L249.6,816.8 L249.2,817.4 L248.8,817.9 L248.3,818.4 L247.9,818.8 L247.5,819.2 L247,819.5 L246.6,819.9 L246.2,820.2 L245.8,820.5 L245.3,820.9 L244.9,821.2 L244.5,821.5 L244,821.8 L243.6,822.1 L243.2,822.4 L242.8,822.6 L242.3,822.9 L241.9,823.1 L241.5,823.4 L241,823.6 L240.6,823.8 L240.2,824 L239.7,824.2 L239.3,824.4 L238.9,824.5 L238.5,824.7 L238,824.9 L237.6,825.1 L237.2,825.2 L236.7,825.4 L236.3,825.6 L235.9,825.8 L235.5,826 L235,826.1 L234.6,826.3 L234.2,826.5 L233.7,826.7 L233.3,826.8 L232.9,827 L232.4,827.2 L232,827.4 L231.6,827.5 L231.2,827.7 L230.7,827.9 L230.3,828 L229.9,828.2 L229.4,828.4 L229,828.5 L228.6,828.7 L228.2,828.9 L227.7,829 L227.3,829.2 L226.9,829.3 L226.4,829.5 L226,829.6 L225.6,829.8 L225.1,829.9 L224.7,830.1 L224.3,830.2 L223.9,830.4 L223.4,830.5 L223,830.7 L222.6,830.8 L222.1,830.9 L221.7,831 L221.3,831.2 L220.9,831.3 L220.4,831.4 L220,831.5 L219.6,831.7 L219.1,831.8 L218.7,831.9 L218.3,832 L217.8,832.1 L217.4,832.2 L217,832.3 L216.6,832.4 L216.1,832.5 L215.7,832.6 L215.3,832.6 L214.8,832.7 L214.4,832.8 L214,832.9 L213.6,833 L213.1,833.1 L212.7,833.1 L212.3,833.2 L211.8,833.3 L211.4,833.4 L211,833.4 L210.6,833.5 L210.1,833.6 L209.7,833.7 L209.3,833.7 L208.8,833.8 L208.4,833.9 L208,833.9 L207.5,834 L207.1,834.1 L206.7,834.1 L206.3,834.2 L205.8,834.3 L205.4,834.3 L205,834.4 L204.5,834.5 L204.1,834.5 L203.7,834.6 L203.3,834.7 L202.8,834.7 L202.4,834.8 L202,834.9 L201.5,834.9 L201.1,835 L200.7,835 L200.2,835.1 L199.8,835.2 L199.4,835.2 L199,835.3 L198.5,835.4 L198.1,835.4 L197.7,835.5 L197.2,835.5 L196.8,835.6 L196.4,835.7 L196,835.7 L195.5,835.8 L195.1,835.9 L194.7,835.9 L194.2,836 L193.8,836 L193.4,836.1 L192.9,836.2 L192.5,836.2 L192.1,836.3 L191.7,836.4 L191.2,836.4 L190.8,836.5 L190.4,836.6 L189.9,836.7 L189.5,836.7 L189.1,836.8 L188.7,836.9 L188.2,836.9 L187.8,837 L187.4,837.1 L186.9,837.2 L186.5,837.2 L186.1,837.3 L185.6,837.4 L185.2,837.5 L184.8,837.6 L184.4,837.6 L183.9,837.7 L183.5,837.8 L183.1,837.9 L182.6,838 L182.2,838.1 L181.8,838.2 L181.4,838.2 L180.9,838.3 L180.5,838.4 L180.1,838.5 L179.6,838.6 L179.2,838.7 L178.8,838.8 L178.3,838.8 L177.9,838.9 L177.5,839 L177.1,839.1 L176.6,839.2 L176.2,839.3 L175.8,839.4 L175.3,839.5 L174.9,839.6 L174.5,839.7 L174.1,839.8 L173.6,839.8 L173.2,839.9 L172.8,840 L172.3,840.1 L171.9,840.2 L171.5,840.3 L171,840.4 L170.6,840.5 L170.2,840.6 L169.8,840.7 L169.3,840.8 L168.9,840.9 L168.5,841 L168,841.1 L167.6,841.2 L167.2,841.3 L166.8,841.4 L166.3,841.5 L165.9,841.6 L165.5,841.8 L165,841.9 L164.6,842 L164.2,842.1 L163.7,842.2 L163.3,842.4 L162.9,842.5 L162.5,842.6 L162,842.8 L161.6,842.9 L161.2,843.1 L160.7,843.2 L160.3,843.4 L159.9,843.5 L159.5,843.7 L159,843.8 L158.6,844 L158.2,844.2 L157.7,844.3 L157.3,844.5 L156.9,844.7 L156.4,844.8 L156,845.1 L155.6,845.3 L155.2,845.5 L154.7,845.7 L154.3,846 L153.9,846.3 L153.4,846.6 L153,846.9 L152.6,847.2 L152.2,847.6 L151.7,848 L151.3,848.4 L150.9,848.9 L150.4,849.4 L150,849.9 L149.6,850.5 L149.2,851 L148.7,851.6 L148.3,852.1 L147.9,852.6 L147.4,853.1 L147,853.5 L146.6,854 L146.1,854.5 L145.7,855 L145.3,855.5 L144.9,856 L144.4,856.5 L144,856.9 L143.6,857.4 L143.1,857.9 L142.7,858.3 L142.3,858.7 L141.9,859.1 L141.4,859.5 L141,859.9 L140.6,860.2 L140.1,860.5 L139.7,860.8 L139.3,861.1 L138.8,861.4 L138.4,861.7 L138,862 L137.6,862.3 L137.1,862.5 L136.7,862.8 L136.3,863 L135.8,863.3 L135.4,863.5 L135,863.7 L134.6,863.9 L134.1,864.1 L133.7,864.3 L133.3,864.4 L132.8,864.6 L132.4,864.7 L132,864.8 L131.5,864.9 L131.1,865 L130.7,865.1 L130.3,865.2 L129.8,865.3 L129.4,865.4 L129,865.5 L128.5,865.6 L128.1,865.7 L127.7,865.8 L127.3,865.9 L126.8,866 L126.4,866.1 L126,866.2 L125.5,866.3 L125.1,866.4 L124.7,866.5 L124.2,866.5 L123.8,866.6 L123.4,866.7 L123,866.8 L122.5,866.9 L122.1,867 L121.7,867 L121.2,867.1 L120.8,867.2 L120.4,867.2 L120,867.3 L119.5,867.4 L119.1,867.4 L118.7,867.5 L118.2,867.5 L117.8,867.6 L117.4,867.6 L116.9,867.7 L116.5,867.7 L116.1,867.7 L115.7,867.8 L115.2,867.8 L114.8,867.8 L114.4,867.8 L113.9,867.9 L113.5,867.9 L113.1,867.9 L112.7,867.9 L112.2,867.9 L111.8,868 L111.4,868 L110.9,868 L110.5,868 L110.1,868 L109.6,868.1 L109.2,868.1 L108.8,868.1 L108.4,868.1 L107.9,868.1 L107.5,868.1 L107.1,868.2 L106.6,868.2 L106.2,868.2 L105.8,868.2 L105.4,868.2 L104.9,868.2 L104.5,868.3 L104.1,868.3 L103.6,868.3 L103.2,868.3 L102.8,868.3 L102.3,868.3 L101.9,868.3 L101.5,868.4 L101.1,868.4 L100.6,868.4 L100.2,868.4 L99.8,868.4 L99.3,868.4 L98.9,868.4 L98.5,868.5 L98.1,868.5 L97.6,868.5 L97.2,868.5 L96.8,868.5 L96.3,868.5 L95.9,868.5 L95.5,868.6 L95,868.6 L94.6,868.6 L94.2,868.6 L93.8,868.6 L93.3,868.6 L92.9,868.6 L92.5,868.7 L92,868.7 L91.6,868.7 L91.2,868.7 L90.8,868.7 L90.3,868.7 L89.9,868.7 L89.5,868.8 L89,868.8 L88.6,868.8 L88.2,868.8 L87.7,868.8 L87.3,868.8 L86.9,868.9 L86.5,868.9 L86,868.9 L85.6,868.9 L85.2,868.9 L84.7,868.9 L84.3,869 L83.9,869 L83.5,869 L83,869 L82.6,869 L82.2,869.1 L81.7,869.1 L81.3,869.1 L80.9,869.1 L80.5,869.1 L80,869.2 L79.6,869.2 L79.2,869.2 L78.7,869.2 L78.3,869.2 L77.9,869.3 L77.4,869.3 L77,869.3 L76.6,869.3 L76.2,869.4 L75.7,869.4 L75.3,869.4 L74.9,869.4 L74.4,869.4 L74,869.5 L73.6,869.5 L73.2,869.5 L72.7,869.5 L72.3,869.5 L71.9,869.6 L71.4,869.6 L71,869.6 L70.6,869.6 L70.1,869.6 L69.7,869.7 L69.3,869.7 L68.9,869.7 L68.4,869.7 L68,869.8 L67.6,869.8 L67.1,869.8 L66.7,869.8 L66.3,869.8 L65.9,869.9 L65.4,869.9 L65,869.9 L64.6,869.9 L64.1,870 L63.7,870 L63.3,870 L62.8,870 L62.4,870 L62,870.1 L61.6,870.1 L61.1,870.1 L60.7,870.1 L60.3,870.2 L59.8,870.2 L59.4,870.2 L59,870.2 L58.6,870.2 L58.1,870.3 L57.7,870.3 L57.3,870.3 L56.8,870.3 L56.4,870.4 L56,870.4 L55.5,870.4 L55.1,870.4 L54.7,870.4 L54.3,870.5 L53.8,870.5 L53.4,870.5 L53,870.5 L52.5,870.6 L52.1,870.6 L51.7,870.6 L51.3,870.6 L50.8,870.7 L50.4,870.7 L50,870.7 L49.5,870.7 L49.1,870.8 L48.7,870.8 L48.2,870.8 L47.8,870.8 L47.4,870.8 L47,870.9 L46.5,870.9 L46.1,870.9" fill="none" stroke="#1a70f0" stroke-width="1.35" stroke-linejoin="round"/>
<path d="M46.1,858.2 L46.5,858 L47,857.7 L47.4,857.5 L47.8,857.3 L48.2,857 L48.7,856.8 L49.1,856.6 L49.5,856.4 L50,856.1 L50.4,855.9 L50.8,855.7 L51.3,855.5 L51.7,855.3 L52.1,855.1 L52.5,854.9 L53,854.7 L53.4,854.5 L53.8,854.3 L54.3,854.1 L54.7,853.9 L55.1,853.7 L55.5,853.5 L56,853.3 L56.4,853.1 L56.8,852.9 L57.3,852.7 L57.7,852.5 L58.1,852.3 L58.6,852.2 L59,852 L59.4,851.8 L59.8,851.6 L60.3,851.5 L60.7,851.3 L61.1,851.1 L61.6,851 L62,850.9 L62.4,850.7 L62.8,850.6 L63.3,850.5 L63.7,850.4 L64.1,850.3 L64.6,850.2 L65,850 L65.4,849.9 L65.9,849.8 L66.3,849.7 L66.7,849.6 L67.1,849.5 L67.6,849.4 L68,849.3 L68.4,849.2 L68.9,849.1 L69.3,849 L69.7,848.9 L70.1,848.8 L70.6,848.7 L71,848.7 L71.4,848.6 L71.9,848.5 L72.3,848.4 L72.7,848.3 L73.2,848.2 L73.6,848.1 L74,848.1 L74.4,848 L74.9,847.9 L75.3,847.8 L75.7,847.7 L76.2,847.7 L76.6,847.6 L77,847.5 L77.4,847.4 L77.9,847.4 L78.3,847.3 L78.7,847.2 L79.2,847.2 L79.6,847.1 L80,847.1 L80.5,847 L80.9,846.9 L81.3,846.9 L81.7,846.8 L82.2,846.8 L82.6,846.7 L83,846.6 L83.5,846.6 L83.9,846.5 L84.3,846.5 L84.7,846.4 L85.2,846.4 L85.6,846.3 L86,846.2 L86.5,846.2 L86.9,846.1 L87.3,846.1 L87.7,846 L88.2,846 L88.6,845.9 L89,845.9 L89.5,845.8 L89.9,845.8 L90.3,845.7 L90.8,845.7 L91.2,845.6 L91.6,845.6 L92,845.5 L92.5,845.5 L92.9,845.4 L93.3,845.4 L93.8,845.3 L94.2,845.3 L94.6,845.2 L95,845.2 L95.5,845.1 L95.9,845.1 L96.3,845 L96.8,845 L97.2,844.9 L97.6,844.9 L98.1,844.8 L98.5,844.8 L98.9,844.8 L99.3,844.7 L99.8,844.7 L100.2,844.6 L100.6,844.6 L101.1,844.5 L101.5,844.5 L101.9,844.4 L102.3,844.4 L102.8,844.4 L103.2,844.3 L103.6,844.3 L104.1,844.2 L104.5,844.2 L104.9,844.1 L105.4,844.1 L105.8,844.1 L106.2,844 L106.6,844 L107.1,843.9 L107.5,843.9 L107.9,843.9 L108.4,843.8 L108.8,843.8 L109.2,843.7 L109.6,843.7 L110.1,843.7 L110.5,843.6 L110.9,843.6 L111.4,843.5 L111.8,843.5 L112.2,843.5 L112.7,843.4 L113.1,843.4 L113.5,843.3 L113.9,843.3 L114.4,843.2 L114.8,843.2 L115.2,843.2 L115.7,843.1 L116.1,843.1 L116.5,843 L116.9,843 L117.4,843 L117.8,842.9 L118.2,842.9 L118.7,842.8 L119.1,842.8 L119.5,842.8 L120,842.7 L120.4,842.7 L120.8,842.6 L121.2,842.6 L121.7,842.6 L122.1,842.5 L122.5,842.5 L123,842.4 L123.4,842.4 L123.8,842.4 L124.2,842.3 L124.7,842.3 L125.1,842.2 L125.5,842.2 L126,842.1 L126.4,842.1 L126.8,842.1 L127.3,842 L127.7,842 L128.1,841.9 L128.5,841.9 L129,841.8 L129.4,841.8 L129.8,841.8 L130.3,841.7 L130.7,841.7 L131.1,841.6 L131.5,841.6 L132,841.5 L132.4,841.5 L132.8,841.4 L133.3,841.4 L133.7,841.3 L134.1,841.3 L134.6,841.2 L135,841.2 L135.4,841.1 L135.8,841.1 L136.3,841 L136.7,841 L137.1,840.9 L137.6,840.9 L138,840.8 L138.4,840.8 L138.8,840.7 L139.3,840.7 L139.7,840.6 L140.1,840.6 L140.6,840.5 L141,840.4 L141.4,840.2 L141.9,839.9 L142.3,839.7 L142.7,839.3 L143.1,838.9 L143.6,838.5 L144,838 L144.4,837.5 L144.9,836.9 L145.3,836.2 L145.7,835.5 L146.1,834.8 L146.6,834 L147,833.1 L147.4,832.2 L147.9,831.2 L148.3,829.7 L148.7,827.8 L149.2,825.5 L149.6,822.9 L150,820.1 L150.4,817 L150.9,813.8 L151.3,810.5 L151.7,807.2 L152.2,803.9 L152.6,800.7 L153,797.5 L153.4,794.6 L153.9,791.8 L154.3,789.1 L154.7,786.4 L155.2,783.6 L155.6,780.8 L156,777.9 L156.4,775.1 L156.9,772.4 L157.3,769.8 L157.7,767.4 L158.2,765.1 L158.6,763 L159,761.1 L159.5,759.7 L159.9,758.5 L160.3,757.4 L160.7,756.4 L161.2,755.7 L161.6,755.5 L162,755.7 L162.5,756.2 L162.9,756.8 L163.3,757.6 L163.7,758.4 L164.2,759.4 L164.6,760.4 L165,761.4 L165.5,762.5 L165.9,763.6 L166.3,764.7 L166.8,765.8 L167.2,767 L167.6,768.2 L168,769.5 L168.5,770.9 L168.9,772.2 L169.3,773.5 L169.8,774.7 L170.2,775.9 L170.6,777 L171,778 L171.5,778.9 L171.9,779.8 L172.3,780.7 L172.8,781.6 L173.2,782.4 L173.6,783.3 L174.1,784.1 L174.5,784.8 L174.9,785.5 L175.3,786.2 L175.8,786.9 L176.2,787.5 L176.6,788.1 L177.1,788.6 L177.5,789.1 L177.9,789.5 L178.3,790 L178.8,790.4 L179.2,790.9 L179.6,791.3 L180.1,791.8 L180.5,792.2 L180.9,792.6 L181.4,793.1 L181.8,793.5 L182.2,793.8 L182.6,794.2 L183.1,794.6 L183.5,794.9 L183.9,795.2 L184.4,795.5 L184.8,795.8 L185.2,796.1 L185.6,796.3 L186.1,796.5 L186.5,796.7 L186.9,796.9 L187.4,797.1 L187.8,797.2 L188.2,797.4 L188.7,797.6 L189.1,797.7 L189.5,797.9 L189.9,798.1 L190.4,798.2 L190.8,798.4 L191.2,798.5 L191.7,798.7 L192.1,798.8 L192.5,799 L192.9,799.1 L193.4,799.3 L193.8,799.4 L194.2,799.5 L194.7,799.7 L195.1,799.8 L195.5,799.9 L196,800.1 L196.4,800.2 L196.8,800.3 L197.2,800.5 L197.7,800.6 L198.1,800.7 L198.5,800.8 L199,801 L199.4,801.1 L199.8,801.2 L200.2,801.3 L200.7,801.4 L201.1,801.6 L201.5,801.7 L202,801.8 L202.4,801.9 L202.8,802 L203.3,802.2 L203.7,802.3 L204.1,802.4 L204.5,802.5 L205,802.7 L205.4,802.8 L205.8,802.9 L206.3,803 L206.7,803.2 L207.1,803.3 L207.5,803.4 L208,803.6 L208.4,803.7 L208.8,803.8 L209.3,803.9 L209.7,804 L210.1,804.2 L210.6,804.3 L211,804.4 L211.4,804.5 L211.8,804.6 L212.3,804.8 L212.7,804.9 L213.1,805 L213.6,805.1 L214,805.2 L214.4,805.3 L214.8,805.4 L215.3,805.5 L215.7,805.6 L216.1,805.7 L216.6,805.8 L217,805.9 L217.4,806 L217.8,806.1 L218.3,806.2 L218.7,806.3 L219.1,806.4 L219.6,806.4 L220,806.5 L220.4,806.6 L220.9,806.6 L221.3,806.7 L221.7,806.8 L222.1,806.8 L222.6,806.9 L223,806.9 L223.4,807 L223.9,807 L224.3,807.1 L224.7,807.2 L225.1,807.2 L225.6,807.3 L226,807.3 L226.4,807.4 L226.9,807.4 L227.3,807.5 L227.7,807.5 L228.2,807.5 L228.6,807.6 L229,807.6 L229.4,807.7 L229.9,807.7 L230.3,807.8 L230.7,807.8 L231.2,807.8 L231.6,807.9 L232,807.9 L232.4,808 L232.9,808 L233.3,808 L233.7,808.1 L234.2,808.1 L234.6,808.1 L235,808.2 L235.5,808.2 L235.9,808.2 L236.3,808.2 L236.7,808.3 L237.2,808.3 L237.6,808.3 L238,808.3 L238.5,808.3 L238.9,808.4 L239.3,808.4 L239.7,808.4 L240.2,808.4 L240.6,808.4 L241,808.5 L241.5,808.5 L241.9,808.5 L242.3,808.5 L242.8,808.5 L243.2,808.5 L243.6,808.6 L244,808.6 L244.5,808.6 L244.9,808.6 L245.3,808.6 L245.8,808.7 L246.2,808.7 L246.6,808.7 L247,808.7 L247.5,808.7 L247.9,808.7 L248.3,808.7 L248.8,808.7 L249.2,808.8 L249.6,808.8 L250.1,808.8 L250.5,808.8 L250.9,808.8 L251.3,808.8 L251.8,808.8 L252.2,808.8 L252.2,808.8 L251.8,809.6 L251.3,810.5 L250.9,811.3 L250.5,812.1 L250.1,812.9 L249.6,813.6 L249.2,814.2 L248.8,814.9 L248.3,815.4 L247.9,815.8 L247.5,816.2 L247,816.6 L246.6,817 L246.2,817.4 L245.8,817.8 L245.3,818.2 L244.9,818.5 L244.5,818.9 L244,819.2 L243.6,819.5 L243.2,819.9 L242.8,820.2 L242.3,820.4 L241.9,820.7 L241.5,821 L241,821.2 L240.6,821.5 L240.2,821.7 L239.7,821.9 L239.3,822.1 L238.9,822.3 L238.5,822.5 L238,822.7 L237.6,822.9 L237.2,823.1 L236.7,823.3 L236.3,823.5 L235.9,823.7 L235.5,823.9 L235,824.1 L234.6,824.3 L234.2,824.5 L233.7,824.7 L233.3,824.9 L232.9,825.1 L232.4,825.3 L232,825.5 L231.6,825.7 L231.2,825.9 L230.7,826.1 L230.3,826.3 L229.9,826.5 L229.4,826.7 L229,826.8 L228.6,827 L228.2,827.2 L227.7,827.4 L227.3,827.6 L226.9,827.7 L226.4,827.9 L226,828.1 L225.6,828.3 L225.1,828.4 L224.7,828.6 L224.3,828.8 L223.9,828.9 L223.4,829.1 L223,829.2 L222.6,829.4 L222.1,829.5 L221.7,829.7 L221.3,829.8 L220.9,830 L220.4,830.1 L220,830.2 L219.6,830.4 L219.1,830.5 L218.7,830.6 L218.3,830.7 L217.8,830.8 L217.4,830.9 L217,831 L216.6,831.1 L216.1,831.2 L215.7,831.3 L215.3,831.4 L214.8,831.5 L214.4,831.6 L214,831.7 L213.6,831.8 L213.1,831.9 L212.7,831.9 L212.3,832 L211.8,832.1 L211.4,832.2 L211,832.3 L210.6,832.3 L210.1,832.4 L209.7,832.5 L209.3,832.6 L208.8,832.6 L208.4,832.7 L208,832.8 L207.5,832.8 L207.1,832.9 L206.7,833 L206.3,833 L205.8,833.1 L205.4,833.2 L205,833.2 L204.5,833.3 L204.1,833.4 L203.7,833.4 L203.3,833.5 L202.8,833.6 L202.4,833.6 L202,833.7 L201.5,833.7 L201.1,833.8 L200.7,833.9 L200.2,833.9 L199.8,834 L199.4,834 L199,834.1 L198.5,834.2 L198.1,834.2 L197.7,834.3 L197.2,834.4 L196.8,834.4 L196.4,834.5 L196,834.5 L195.5,834.6 L195.1,834.7 L194.7,834.7 L194.2,834.8 L193.8,834.9 L193.4,834.9 L192.9,835 L192.5,835.1 L192.1,835.1 L191.7,835.2 L191.2,835.3 L190.8,835.3 L190.4,835.4 L189.9,835.5 L189.5,835.6 L189.1,835.6 L188.7,835.7 L188.2,835.8 L187.8,835.9 L187.4,835.9 L186.9,836 L186.5,836.1 L186.1,836.2 L185.6,836.3 L185.2,836.4 L184.8,836.5 L184.4,836.5 L183.9,836.6 L183.5,836.7 L183.1,836.8 L182.6,836.9 L182.2,837 L181.8,837.1 L181.4,837.2 L180.9,837.3 L180.5,837.4 L180.1,837.5 L179.6,837.6 L179.2,837.7 L178.8,837.8 L178.3,837.9 L177.9,838 L177.5,838 L177.1,838.1 L176.6,838.3 L176.2,838.4 L175.8,838.5 L175.3,838.6 L174.9,838.7 L174.5,838.8 L174.1,838.9 L173.6,839 L173.2,839.1 L172.8,839.2 L172.3,839.3 L171.9,839.4 L171.5,839.5 L171,839.6 L170.6,839.7 L170.2,839.8 L169.8,840 L169.3,840.1 L168.9,840.2 L168.5,840.3 L168,840.4 L167.6,840.5 L167.2,840.6 L166.8,840.7 L166.3,840.9 L165.9,841 L165.5,841.1 L165,841.2 L164.6,841.4 L164.2,841.5 L163.7,841.7 L163.3,841.8 L162.9,842 L162.5,842.1 L162,842.3 L161.6,842.4 L161.2,842.6 L160.7,842.8 L160.3,842.9 L159.9,843.1 L159.5,843.3 L159,843.5 L158.6,843.6 L158.2,843.8 L157.7,844 L157.3,844.2 L156.9,844.4 L156.4,844.6 L156,844.8 L155.6,845.1 L155.2,845.3 L154.7,845.6 L154.3,845.9 L153.9,846.2 L153.4,846.5 L153,846.8 L152.6,847.2 L152.2,847.6 L151.7,848 L151.3,848.5 L150.9,849.1 L150.4,849.6 L150,850.2 L149.6,850.8 L149.2,851.4 L148.7,852 L148.3,852.6 L147.9,853.1 L147.4,853.7 L147,854.2 L146.6,854.7 L146.1,855.3 L145.7,855.8 L145.3,856.3 L144.9,856.9 L144.4,857.4 L144,858 L143.6,858.5 L143.1,859 L142.7,859.5 L142.3,860 L141.9,860.4 L141.4,860.8 L141,861.2 L140.6,861.6 L140.1,861.9 L139.7,862.3 L139.3,862.6 L138.8,862.9 L138.4,863.2 L138,863.5 L137.6,863.8 L137.1,864.1 L136.7,864.4 L136.3,864.7 L135.8,864.9 L135.4,865.2 L135,865.4 L134.6,865.6 L134.1,865.8 L133.7,866 L133.3,866.2 L132.8,866.3 L132.4,866.4 L132,866.6 L131.5,866.7 L131.1,866.8 L130.7,866.9 L130.3,867 L129.8,867.1 L129.4,867.2 L129,867.3 L128.5,867.4 L128.1,867.5 L127.7,867.6 L127.3,867.7 L126.8,867.8 L126.4,867.9 L126,868 L125.5,868.1 L125.1,868.2 L124.7,868.3 L124.2,868.4 L123.8,868.5 L123.4,868.6 L123,868.7 L122.5,868.7 L122.1,868.8 L121.7,868.9 L121.2,869 L120.8,869 L120.4,869.1 L120,869.2 L119.5,869.3 L119.1,869.3 L118.7,869.4 L118.2,869.4 L117.8,869.5 L117.4,869.5 L116.9,869.6 L116.5,869.6 L116.1,869.7 L115.7,869.7 L115.2,869.7 L114.8,869.8 L114.4,869.8 L113.9,869.8 L113.5,869.8 L113.1,869.9 L112.7,869.9 L112.2,869.9 L111.8,869.9 L111.4,870 L110.9,870 L110.5,870 L110.1,870 L109.6,870 L109.2,870.1 L108.8,870.1 L108.4,870.1 L107.9,870.1 L107.5,870.1 L107.1,870.2 L106.6,870.2 L106.2,870.2 L105.8,870.2 L105.4,870.2 L104.9,870.3 L104.5,870.3 L104.1,870.3 L103.6,870.3 L103.2,870.3 L102.8,870.3 L102.3,870.4 L101.9,870.4 L101.5,870.4 L101.1,870.4 L100.6,870.4 L100.2,870.4 L99.8,870.5 L99.3,870.5 L98.9,870.5 L98.5,870.5 L98.1,870.5 L97.6,870.5 L97.2,870.6 L96.8,870.6 L96.3,870.6 L95.9,870.6 L95.5,870.6 L95,870.6 L94.6,870.7 L94.2,870.7 L93.8,870.7 L93.3,870.7 L92.9,870.7 L92.5,870.8 L92,870.8 L91.6,870.8 L91.2,870.8 L90.8,870.8 L90.3,870.8 L89.9,870.9 L89.5,870.9 L89,870.9 L88.6,870.9 L88.2,870.9 L87.7,871 L87.3,871 L86.9,871 L86.5,871 L86,871 L85.6,871.1 L85.2,871.1 L84.7,871.1 L84.3,871.1 L83.9,871.2 L83.5,871.2 L83,871.2 L82.6,871.2 L82.2,871.3 L81.7,871.3 L81.3,871.3 L80.9,871.3 L80.5,871.4 L80,871.4 L79.6,871.4 L79.2,871.4 L78.7,871.5 L78.3,871.5 L77.9,871.5 L77.4,871.6 L77,871.6 L76.6,871.6 L76.2,871.6 L75.7,871.7 L75.3,871.7 L74.9,871.7 L74.4,871.8 L74,871.8 L73.6,871.8 L73.2,871.8 L72.7,871.9 L72.3,871.9 L71.9,871.9 L71.4,872 L71,872 L70.6,872 L70.1,872 L69.7,872.1 L69.3,872.1 L68.9,872.1 L68.4,872.2 L68,872.2 L67.6,872.2 L67.1,872.2 L66.7,872.3 L66.3,872.3 L65.9,872.3 L65.4,872.4 L65,872.4 L64.6,872.4 L64.1,872.5 L63.7,872.5 L63.3,872.5 L62.8,872.5 L62.4,872.6 L62,872.6 L61.6,872.6 L61.1,872.7 L60.7,872.7 L60.3,872.7 L59.8,872.8 L59.4,872.8 L59,872.8 L58.6,872.9 L58.1,872.9 L57.7,872.9 L57.3,873 L56.8,873 L56.4,873 L56,873 L55.5,873.1 L55.1,873.1 L54.7,873.1 L54.3,873.2 L53.8,873.2 L53.4,873.2 L53,873.3 L52.5,873.3 L52.1,873.3 L51.7,873.4 L51.3,873.4 L50.8,873.4 L50.4,873.5 L50,873.5 L49.5,873.5 L49.1,873.6 L48.7,873.6 L48.2,873.6 L47.8,873.7 L47.4,873.7 L47,873.8 L46.5,873.8 L46.1,873.8" fill="none" stroke="#ff4d4d" stroke-width="1.35" stroke-linejoin="round"/>
<path d="M46.1,858.2 L46.5,858 L47,857.7 L47.4,857.5 L47.8,857.2 L48.2,857 L48.7,856.7 L49.1,856.5 L49.5,856.3 L50,856 L50.4,855.8 L50.8,855.6 L51.3,855.3 L51.7,855.1 L52.1,854.9 L52.5,854.7 L53,854.5 L53.4,854.2 L53.8,854 L54.3,853.8 L54.7,853.6 L55.1,853.4 L55.5,853.2 L56,853 L56.4,852.8 L56.8,852.6 L57.3,852.4 L57.7,852.2 L58.1,852 L58.6,851.8 L59,851.6 L59.4,851.4 L59.8,851.2 L60.3,851 L60.7,850.8 L61.1,850.7 L61.6,850.5 L62,850.4 L62.4,850.2 L62.8,850.1 L63.3,850 L63.7,849.8 L64.1,849.7 L64.6,849.6 L65,849.5 L65.4,849.4 L65.9,849.3 L66.3,849.2 L66.7,849 L67.1,848.9 L67.6,848.8 L68,848.7 L68.4,848.6 L68.9,848.5 L69.3,848.4 L69.7,848.3 L70.1,848.2 L70.6,848.1 L71,848 L71.4,847.9 L71.9,847.9 L72.3,847.8 L72.7,847.7 L73.2,847.6 L73.6,847.5 L74,847.4 L74.4,847.3 L74.9,847.2 L75.3,847.2 L75.7,847.1 L76.2,847 L76.6,846.9 L77,846.9 L77.4,846.8 L77.9,846.7 L78.3,846.6 L78.7,846.6 L79.2,846.5 L79.6,846.4 L80,846.3 L80.5,846.3 L80.9,846.2 L81.3,846.1 L81.7,846.1 L82.2,846 L82.6,846 L83,845.9 L83.5,845.8 L83.9,845.8 L84.3,845.7 L84.7,845.6 L85.2,845.6 L85.6,845.5 L86,845.4 L86.5,845.4 L86.9,845.3 L87.3,845.3 L87.7,845.2 L88.2,845.1 L88.6,845.1 L89,845 L89.5,845 L89.9,844.9 L90.3,844.8 L90.8,844.8 L91.2,844.7 L91.6,844.7 L92,844.6 L92.5,844.6 L92.9,844.5 L93.3,844.4 L93.8,844.4 L94.2,844.3 L94.6,844.3 L95,844.2 L95.5,844.2 L95.9,844.1 L96.3,844.1 L96.8,844 L97.2,843.9 L97.6,843.9 L98.1,843.8 L98.5,843.8 L98.9,843.7 L99.3,843.7 L99.8,843.6 L100.2,843.6 L100.6,843.5 L101.1,843.5 L101.5,843.4 L101.9,843.4 L102.3,843.3 L102.8,843.3 L103.2,843.2 L103.6,843.2 L104.1,843.1 L104.5,843.1 L104.9,843 L105.4,843 L105.8,842.9 L106.2,842.9 L106.6,842.8 L107.1,842.8 L107.5,842.7 L107.9,842.7 L108.4,842.6 L108.8,842.6 L109.2,842.5 L109.6,842.5 L110.1,842.4 L110.5,842.4 L110.9,842.4 L111.4,842.3 L111.8,842.3 L112.2,842.2 L112.7,842.2 L113.1,842.1 L113.5,842.1 L113.9,842 L114.4,842 L114.8,841.9 L115.2,841.9 L115.7,841.8 L116.1,841.8 L116.5,841.7 L116.9,841.7 L117.4,841.6 L117.8,841.6 L118.2,841.5 L118.7,841.5 L119.1,841.4 L119.5,841.4 L120,841.4 L120.4,841.3 L120.8,841.3 L121.2,841.2 L121.7,841.2 L122.1,841.1 L122.5,841.1 L123,841 L123.4,841 L123.8,840.9 L124.2,840.9 L124.7,840.8 L125.1,840.8 L125.5,840.7 L126,840.7 L126.4,840.6 L126.8,840.6 L127.3,840.5 L127.7,840.5 L128.1,840.5 L128.5,840.4 L129,840.4 L129.4,840.3 L129.8,840.3 L130.3,840.3 L130.7,840.2 L131.1,840.2 L131.5,840.1 L132,840.1 L132.4,840.1 L132.8,840 L133.3,840 L133.7,839.9 L134.1,839.9 L134.6,839.9 L135,839.8 L135.4,839.8 L135.8,839.7 L136.3,839.7 L136.7,839.7 L137.1,839.6 L137.6,839.6 L138,839.5 L138.4,839.5 L138.8,839.4 L139.3,839.4 L139.7,839.3 L140.1,839.3 L140.6,839.2 L141,839.1 L141.4,838.9 L141.9,838.7 L142.3,838.4 L142.7,838.1 L143.1,837.7 L143.6,837.2 L144,836.7 L144.4,836.2 L144.9,835.6 L145.3,834.9 L145.7,834.2 L146.1,833.4 L146.6,832.6 L147,831.7 L147.4,830.7 L147.9,829.6 L148.3,827.9 L148.7,825.7 L149.2,823.1 L149.6,820 L150,816.7 L150.4,813.1 L150.9,809.3 L151.3,805.3 L151.7,801.4 L152.2,797.5 L152.6,793.6 L153,789.9 L153.4,786.5 L153.9,783.3 L154.3,780.1 L154.7,777 L155.2,773.8 L155.6,770.5 L156,767 L156.4,763.6 L156.9,760.2 L157.3,757 L157.7,753.9 L158.2,750.9 L158.6,748.1 L159,745.5 L159.5,743.5 L159.9,741.8 L160.3,740.2 L160.7,738.7 L161.2,737.7 L161.6,737.2 L162,737.4 L162.5,738 L162.9,738.7 L163.3,739.5 L163.7,740.5 L164.2,741.7 L164.6,742.9 L165,744.2 L165.5,745.5 L165.9,746.8 L166.3,748.1 L166.8,749.5 L167.2,751 L167.6,752.5 L168,754.2 L168.5,755.8 L168.9,757.5 L169.3,759.1 L169.8,760.6 L170.2,762.1 L170.6,763.5 L171,764.7 L171.5,765.8 L171.9,767 L172.3,768.1 L172.8,769.1 L173.2,770.2 L173.6,771.2 L174.1,772.2 L174.5,773.1 L174.9,774 L175.3,774.9 L175.8,775.7 L176.2,776.5 L176.6,777.2 L177.1,777.8 L177.5,778.4 L177.9,779 L178.3,779.6 L178.8,780.2 L179.2,780.8 L179.6,781.4 L180.1,781.9 L180.5,782.5 L180.9,783.1 L181.4,783.6 L181.8,784.1 L182.2,784.6 L182.6,785.1 L183.1,785.6 L183.5,786 L183.9,786.4 L184.4,786.8 L184.8,787.2 L185.2,787.5 L185.6,787.8 L186.1,788.1 L186.5,788.3 L186.9,788.6 L187.4,788.8 L187.8,789 L188.2,789.2 L188.7,789.5 L189.1,789.7 L189.5,789.9 L189.9,790.1 L190.4,790.3 L190.8,790.5 L191.2,790.7 L191.7,790.9 L192.1,791.1 L192.5,791.3 L192.9,791.5 L193.4,791.7 L193.8,791.8 L194.2,792 L194.7,792.2 L195.1,792.4 L195.5,792.5 L196,792.7 L196.4,792.9 L196.8,793 L197.2,793.2 L197.7,793.4 L198.1,793.5 L198.5,793.7 L199,793.8 L199.4,794 L199.8,794.1 L200.2,794.3 L200.7,794.4 L201.1,794.5 L201.5,794.7 L202,794.8 L202.4,795 L202.8,795.1 L203.3,795.3 L203.7,795.4 L204.1,795.6 L204.5,795.7 L205,795.9 L205.4,796 L205.8,796.2 L206.3,796.4 L206.7,796.5 L207.1,796.7 L207.5,796.8 L208,797 L208.4,797.1 L208.8,797.3 L209.3,797.4 L209.7,797.6 L210.1,797.7 L210.6,797.8 L211,798 L211.4,798.1 L211.8,798.3 L212.3,798.4 L212.7,798.5 L213.1,798.7 L213.6,798.8 L214,798.9 L214.4,799.1 L214.8,799.2 L215.3,799.3 L215.7,799.4 L216.1,799.6 L216.6,799.7 L217,799.8 L217.4,799.9 L217.8,800 L218.3,800.1 L218.7,800.2 L219.1,800.3 L219.6,800.4 L220,800.5 L220.4,800.5 L220.9,800.6 L221.3,800.7 L221.7,800.8 L222.1,800.8 L222.6,800.9 L223,801 L223.4,801 L223.9,801.1 L224.3,801.1 L224.7,801.2 L225.1,801.3 L225.6,801.3 L226,801.4 L226.4,801.4 L226.9,801.5 L227.3,801.6 L227.7,801.6 L228.2,801.7 L228.6,801.7 L229,801.8 L229.4,801.8 L229.9,801.9 L230.3,801.9 L230.7,802 L231.2,802 L231.6,802.1 L232,802.1 L232.4,802.2 L232.9,802.2 L233.3,802.2 L233.7,802.3 L234.2,802.3 L234.6,802.4 L235,802.4 L235.5,802.4 L235.9,802.5 L236.3,802.5 L236.7,802.5 L237.2,802.5 L237.6,802.6 L238,802.6 L238.5,802.6 L238.9,802.6 L239.3,802.7 L239.7,802.7 L240.2,802.7 L240.6,802.7 L241,802.7 L241.5,802.8 L241.9,802.8 L242.3,802.8 L242.8,802.8 L243.2,802.9 L243.6,802.9 L244,802.9 L244.5,802.9 L244.9,802.9 L245.3,803 L245.8,803 L246.2,803 L246.6,803 L247,803 L247.5,803.1 L247.9,803.1 L248.3,803.1 L248.8,803.1 L249.2,803.1 L249.6,803.1 L250.1,803.1 L250.5,803.1 L250.9,803.2 L251.3,803.2 L251.8,803.2 L252.2,803.2 L252.2,803.2 L251.8,804.1 L251.3,805.1 L250.9,806.1 L250.5,807 L250.1,807.9 L249.6,808.8 L249.2,809.6 L248.8,810.3 L248.3,810.9 L247.9,811.4 L247.5,811.9 L247,812.4 L246.6,812.8 L246.2,813.3 L245.8,813.7 L245.3,814.1 L244.9,814.6 L244.5,815 L244,815.4 L243.6,815.7 L243.2,816.1 L242.8,816.5 L242.3,816.8 L241.9,817.1 L241.5,817.4 L241,817.7 L240.6,818 L240.2,818.3 L239.7,818.5 L239.3,818.8 L238.9,819 L238.5,819.2 L238,819.5 L237.6,819.7 L237.2,819.9 L236.7,820.2 L236.3,820.4 L235.9,820.6 L235.5,820.9 L235,821.1 L234.6,821.3 L234.2,821.6 L233.7,821.8 L233.3,822.1 L232.9,822.3 L232.4,822.5 L232,822.7 L231.6,823 L231.2,823.2 L230.7,823.4 L230.3,823.7 L229.9,823.9 L229.4,824.1 L229,824.3 L228.6,824.5 L228.2,824.7 L227.7,825 L227.3,825.2 L226.9,825.4 L226.4,825.6 L226,825.8 L225.6,826 L225.1,826.2 L224.7,826.4 L224.3,826.6 L223.9,826.8 L223.4,826.9 L223,827.1 L222.6,827.3 L222.1,827.5 L221.7,827.6 L221.3,827.8 L220.9,828 L220.4,828.1 L220,828.3 L219.6,828.4 L219.1,828.6 L218.7,828.7 L218.3,828.8 L217.8,828.9 L217.4,829.1 L217,829.2 L216.6,829.3 L216.1,829.4 L215.7,829.5 L215.3,829.6 L214.8,829.7 L214.4,829.8 L214,829.9 L213.6,830 L213.1,830.1 L212.7,830.2 L212.3,830.2 L211.8,830.3 L211.4,830.4 L211,830.5 L210.6,830.6 L210.1,830.6 L209.7,830.7 L209.3,830.8 L208.8,830.9 L208.4,830.9 L208,831 L207.5,831.1 L207.1,831.1 L206.7,831.2 L206.3,831.3 L205.8,831.3 L205.4,831.4 L205,831.5 L204.5,831.5 L204.1,831.6 L203.7,831.7 L203.3,831.7 L202.8,831.8 L202.4,831.9 L202,831.9 L201.5,832 L201.1,832 L200.7,832.1 L200.2,832.2 L199.8,832.2 L199.4,832.3 L199,832.3 L198.5,832.4 L198.1,832.5 L197.7,832.5 L197.2,832.6 L196.8,832.6 L196.4,832.7 L196,832.8 L195.5,832.8 L195.1,832.9 L194.7,833 L194.2,833 L193.8,833.1 L193.4,833.2 L192.9,833.2 L192.5,833.3 L192.1,833.4 L191.7,833.4 L191.2,833.5 L190.8,833.6 L190.4,833.7 L189.9,833.7 L189.5,833.8 L189.1,833.9 L188.7,834 L188.2,834.1 L187.8,834.1 L187.4,834.2 L186.9,834.3 L186.5,834.4 L186.1,834.5 L185.6,834.6 L185.2,834.7 L184.8,834.8 L184.4,834.9 L183.9,835 L183.5,835.1 L183.1,835.2 L182.6,835.3 L182.2,835.4 L181.8,835.5 L181.4,835.6 L180.9,835.7 L180.5,835.8 L180.1,835.9 L179.6,836 L179.2,836.1 L178.8,836.3 L178.3,836.4 L177.9,836.5 L177.5,836.6 L177.1,836.7 L176.6,836.8 L176.2,836.9 L175.8,837.1 L175.3,837.2 L174.9,837.3 L174.5,837.4 L174.1,837.5 L173.6,837.7 L173.2,837.8 L172.8,837.9 L172.3,838 L171.9,838.2 L171.5,838.3 L171,838.4 L170.6,838.5 L170.2,838.7 L169.8,838.8 L169.3,838.9 L168.9,839.1 L168.5,839.2 L168,839.3 L167.6,839.5 L167.2,839.6 L166.8,839.7 L166.3,839.9 L165.9,840 L165.5,840.1 L165,840.3 L164.6,840.5 L164.2,840.6 L163.7,840.8 L163.3,841 L162.9,841.1 L162.5,841.3 L162,841.5 L161.6,841.7 L161.2,841.9 L160.7,842.1 L160.3,842.3 L159.9,842.5 L159.5,842.7 L159,842.9 L158.6,843.1 L158.2,843.3 L157.7,843.5 L157.3,843.7 L156.9,844 L156.4,844.2 L156,844.5 L155.6,844.8 L155.2,845.1 L154.7,845.4 L154.3,845.7 L153.9,846 L153.4,846.4 L153,846.8 L152.6,847.2 L152.2,847.6 L151.7,848.2 L151.3,848.7 L150.9,849.3 L150.4,850 L150,850.6 L149.6,851.3 L149.2,852 L148.7,852.6 L148.3,853.3 L147.9,853.9 L147.4,854.5 L147,855.1 L146.6,855.8 L146.1,856.4 L145.7,857 L145.3,857.7 L144.9,858.3 L144.4,858.9 L144,859.5 L143.6,860.1 L143.1,860.7 L142.7,861.3 L142.3,861.9 L141.9,862.4 L141.4,862.9 L141,863.3 L140.6,863.7 L140.1,864.1 L139.7,864.5 L139.3,864.8 L138.8,865.2 L138.4,865.5 L138,865.9 L137.6,866.2 L137.1,866.5 L136.7,866.8 L136.3,867.1 L135.8,867.4 L135.4,867.7 L135,867.9 L134.6,868.2 L134.1,868.4 L133.7,868.6 L133.3,868.8 L132.8,868.9 L132.4,869.1 L132,869.2 L131.5,869.3 L131.1,869.4 L130.7,869.6 L130.3,869.7 L129.8,869.8 L129.4,869.9 L129,870 L128.5,870.1 L128.1,870.2 L127.7,870.3 L127.3,870.4 L126.8,870.6 L126.4,870.7 L126,870.8 L125.5,870.9 L125.1,871 L124.7,871.1 L124.2,871.2 L123.8,871.3 L123.4,871.4 L123,871.5 L122.5,871.5 L122.1,871.6 L121.7,871.7 L121.2,871.8 L120.8,871.9 L120.4,872 L120,872 L119.5,872.1 L119.1,872.2 L118.7,872.3 L118.2,872.3 L117.8,872.4 L117.4,872.4 L116.9,872.5 L116.5,872.5 L116.1,872.6 L115.7,872.6 L115.2,872.7 L114.8,872.7 L114.4,872.7 L113.9,872.8 L113.5,872.8 L113.1,872.8 L112.7,872.9 L112.2,872.9 L111.8,872.9 L111.4,872.9 L110.9,873 L110.5,873 L110.1,873 L109.6,873.1 L109.2,873.1 L108.8,873.1 L108.4,873.1 L107.9,873.2 L107.5,873.2 L107.1,873.2 L106.6,873.2 L106.2,873.3 L105.8,873.3 L105.4,873.3 L104.9,873.3 L104.5,873.3 L104.1,873.4 L103.6,873.4 L103.2,873.4 L102.8,873.4 L102.3,873.4 L101.9,873.5 L101.5,873.5 L101.1,873.5 L100.6,873.5 L100.2,873.6 L99.8,873.6 L99.3,873.6 L98.9,873.6 L98.5,873.6 L98.1,873.7 L97.6,873.7 L97.2,873.7 L96.8,873.7 L96.3,873.7 L95.9,873.8 L95.5,873.8 L95,873.8 L94.6,873.8 L94.2,873.8 L93.8,873.9 L93.3,873.9 L92.9,873.9 L92.5,873.9 L92,874 L91.6,874 L91.2,874 L90.8,874 L90.3,874 L89.9,874.1 L89.5,874.1 L89,874.1 L88.6,874.1 L88.2,874.2 L87.7,874.2 L87.3,874.2 L86.9,874.2 L86.5,874.3 L86,874.3 L85.6,874.3 L85.2,874.4 L84.7,874.4 L84.3,874.4 L83.9,874.5 L83.5,874.5 L83,874.5 L82.6,874.5 L82.2,874.6 L81.7,874.6 L81.3,874.6 L80.9,874.7 L80.5,874.7 L80,874.8 L79.6,874.8 L79.2,874.8 L78.7,874.9 L78.3,874.9 L77.9,874.9 L77.4,875 L77,875 L76.6,875.1 L76.2,875.1 L75.7,875.1 L75.3,875.2 L74.9,875.2 L74.4,875.3 L74,875.3 L73.6,875.3 L73.2,875.4 L72.7,875.4 L72.3,875.4 L71.9,875.5 L71.4,875.5 L71,875.6 L70.6,875.6 L70.1,875.7 L69.7,875.7 L69.3,875.7 L68.9,875.8 L68.4,875.8 L68,875.9 L67.6,875.9 L67.1,875.9 L66.7,876 L66.3,876 L65.9,876.1 L65.4,876.1 L65,876.2 L64.6,876.2 L64.1,876.2 L63.7,876.3 L63.3,876.3 L62.8,876.4 L62.4,876.4 L62,876.5 L61.6,876.5 L61.1,876.5 L60.7,876.6 L60.3,876.6 L59.8,876.7 L59.4,876.7 L59,876.8 L58.6,876.8 L58.1,876.9 L57.7,876.9 L57.3,877 L56.8,877 L56.4,877 L56,877.1 L55.5,877.1 L55.1,877.2 L54.7,877.2 L54.3,877.3 L53.8,877.3 L53.4,877.4 L53,877.4 L52.5,877.5 L52.1,877.5 L51.7,877.6 L51.3,877.6 L50.8,877.7 L50.4,877.7 L50,877.8 L49.5,877.8 L49.1,877.9 L48.7,877.9 L48.2,878 L47.8,878 L47.4,878.1 L47,878.1 L46.5,878.2 L46.1,878.2" fill="none" stroke="#5a5a5a" stroke-width="1.35" stroke-linejoin="round"/>
<text x="75.7" y="769.4" font-family='"Liberation Serif", serif' font-size="12.2" font-weight="bold" text-anchor="start" fill="#000" >180 mV s<tspan font-size="8" dy="-5">−1</tspan></text>
<text x="79.2" y="819" font-family='"Liberation Serif", serif' font-size="12.2" font-weight="bold" text-anchor="start" fill="#000" >20 mV s<tspan font-size="8" dy="-5">−1</tspan></text>
<line x1="101.9" y1="778.2" x2="100.8" y2="794.5" stroke="#000" stroke-width="2.2" />
<path d="M96.1,793.2 L104.9,793.6 L100.4,801.8 Z" fill="#000"/>
<rect x="330.9" y="723.5" width="205.8" height="165.5" fill="none" stroke="#000" stroke-width="1.4"/>
<line x1="330.9" y1="889" x2="330.9" y2="886" stroke="#000" stroke-width="1.1" />
<line x1="372.06" y1="889" x2="372.06" y2="886" stroke="#000" stroke-width="1.1" />
<line x1="413.22" y1="889" x2="413.22" y2="886" stroke="#000" stroke-width="1.1" />
<line x1="454.38" y1="889" x2="454.38" y2="886" stroke="#000" stroke-width="1.1" />
<line x1="495.54" y1="889" x2="495.54" y2="886" stroke="#000" stroke-width="1.1" />
<line x1="536.7" y1="889" x2="536.7" y2="886" stroke="#000" stroke-width="1.1" />
<line x1="351.48" y1="889" x2="351.48" y2="887.2" stroke="#000" stroke-width="1.1" />
<line x1="392.64" y1="889" x2="392.64" y2="887.2" stroke="#000" stroke-width="1.1" />
<line x1="433.8" y1="889" x2="433.8" y2="887.2" stroke="#000" stroke-width="1.1" />
<line x1="474.96" y1="889" x2="474.96" y2="887.2" stroke="#000" stroke-width="1.1" />
<line x1="516.12" y1="889" x2="516.12" y2="887.2" stroke="#000" stroke-width="1.1" />
<line x1="330.9" y1="872.75" x2="333.9" y2="872.75" stroke="#000" stroke-width="1.1" />
<line x1="330.9" y1="839.58" x2="333.9" y2="839.58" stroke="#000" stroke-width="1.1" />
<line x1="330.9" y1="806.42" x2="333.9" y2="806.42" stroke="#000" stroke-width="1.1" />
<line x1="330.9" y1="773.25" x2="333.9" y2="773.25" stroke="#000" stroke-width="1.1" />
<line x1="330.9" y1="740.08" x2="333.9" y2="740.08" stroke="#000" stroke-width="1.1" />
<line x1="330.9" y1="889.33" x2="332.7" y2="889.33" stroke="#000" stroke-width="1.1" />
<line x1="330.9" y1="856.17" x2="332.7" y2="856.17" stroke="#000" stroke-width="1.1" />
<line x1="330.9" y1="823" x2="332.7" y2="823" stroke="#000" stroke-width="1.1" />
<line x1="330.9" y1="789.83" x2="332.7" y2="789.83" stroke="#000" stroke-width="1.1" />
<line x1="330.9" y1="756.67" x2="332.7" y2="756.67" stroke="#000" stroke-width="1.1" />
<text x="330.9" y="902" font-family='"Liberation Serif", serif' font-size="11" font-weight="bold" text-anchor="middle" fill="#000" >0</text>
<text x="372.06" y="902" font-family='"Liberation Serif", serif' font-size="11" font-weight="bold" text-anchor="middle" fill="#000" >40</text>
<text x="413.22" y="902" font-family='"Liberation Serif", serif' font-size="11" font-weight="bold" text-anchor="middle" fill="#000" >80</text>
<text x="454.38" y="902" font-family='"Liberation Serif", serif' font-size="11" font-weight="bold" text-anchor="middle" fill="#000" >120</text>
<text x="495.54" y="902" font-family='"Liberation Serif", serif' font-size="11" font-weight="bold" text-anchor="middle" fill="#000" >160</text>
<text x="536.7" y="902" font-family='"Liberation Serif", serif' font-size="11" font-weight="bold" text-anchor="middle" fill="#000" >200</text>
<text x="327.3" y="876.35" font-family='"Liberation Serif", serif' font-size="11" font-weight="bold" text-anchor="end" fill="#000" >20</text>
<text x="327.3" y="843.18" font-family='"Liberation Serif", serif' font-size="11" font-weight="bold" text-anchor="end" fill="#000" >30</text>
<text x="327.3" y="810.02" font-family='"Liberation Serif", serif' font-size="11" font-weight="bold" text-anchor="end" fill="#000" >40</text>
<text x="327.3" y="776.85" font-family='"Liberation Serif", serif' font-size="11" font-weight="bold" text-anchor="end" fill="#000" >50</text>
<text x="327.3" y="743.68" font-family='"Liberation Serif", serif' font-size="11" font-weight="bold" text-anchor="end" fill="#000" >60</text>
<text x="314" y="731.8" font-family='"Liberation Serif", serif' font-size="19.5" font-weight="bold" text-anchor="start" fill="#000" >F</text>
<text transform="translate(310.8,806.7) rotate(-90)" x="0" y="0" font-family='"Liberation Sans", sans-serif' font-size="14" font-weight="bold" text-anchor="middle">Current / μA</text>
<text x="433.8" y="924.5" font-family='"Liberation Sans", sans-serif' font-size="14.2" font-weight="bold" text-anchor="middle" fill="#000" >Scan rate / mV s<tspan font-size="9.5" dy="-5">-1</tspan></text>
<line x1="345.55" y1="643.05" x2="521.32" y2="514.74" stroke="#ff2a2a" stroke-width="1.4" />
<rect x="343.85" y="637.07" width="3.4" height="3.4" fill="#000"/>
<rect x="373.14" y="624.68" width="3.4" height="3.4" fill="#000"/>
<rect x="402.44" y="602.64" width="3.4" height="3.4" fill="#000"/>
<rect x="431.73" y="575.79" width="3.4" height="3.4" fill="#000"/>
<rect x="461.03" y="553.07" width="3.4" height="3.4" fill="#000"/>
<rect x="490.32" y="532.41" width="3.4" height="3.4" fill="#000"/>
<rect x="519.62" y="514.51" width="3.4" height="3.4" fill="#000"/>
<text x="346.2" y="536.1" font-family='"Liberation Serif", serif' font-size="14.2" font-weight="normal" text-anchor="start" fill="#000" textLength="117.6" lengthAdjust="spacingAndGlyphs">I = 0.7764υ − 14.6886</text>
<text x="346.2" y="559" font-family='"Liberation Serif", serif' font-size="14.2" font-weight="normal" text-anchor="start" fill="#000" textLength="56" lengthAdjust="spacingAndGlyphs">R<tspan font-size="9" dy="-5">2</tspan><tspan dy="5"> = 0.995</tspan></text>
<line x1="351.48" y1="871.09" x2="516.12" y2="743.4" stroke="#ff2a2a" stroke-width="1.4" />
<rect x="349.78" y="867.73" width="3.4" height="3.4" fill="#000"/>
<rect x="370.36" y="851.81" width="3.4" height="3.4" fill="#000"/>
<rect x="390.94" y="837.88" width="3.4" height="3.4" fill="#000"/>
<rect x="411.52" y="822.96" width="3.4" height="3.4" fill="#000"/>
<rect x="432.1" y="808.03" width="3.4" height="3.4" fill="#000"/>
<rect x="452.68" y="792.11" width="3.4" height="3.4" fill="#000"/>
<rect x="473.26" y="778.18" width="3.4" height="3.4" fill="#000"/>
<rect x="493.84" y="759.94" width="3.4" height="3.4" fill="#000"/>
<rect x="514.42" y="735.07" width="3.4" height="3.4" fill="#000"/>
<text x="346.2" y="772.8" font-family='"Liberation Serif", serif' font-size="14.2" font-weight="normal" text-anchor="start" fill="#000" textLength="117.6" lengthAdjust="spacingAndGlyphs">I = 15.5942υ + 0.2405</text>
<text x="346.2" y="789.9" font-family='"Liberation Serif", serif' font-size="14.2" font-weight="normal" text-anchor="start" fill="#000" textLength="56" lengthAdjust="spacingAndGlyphs">R<tspan font-size="9" dy="-5">2</tspan><tspan dy="5"> = 0.994</tspan></text>
</svg></body></html>
